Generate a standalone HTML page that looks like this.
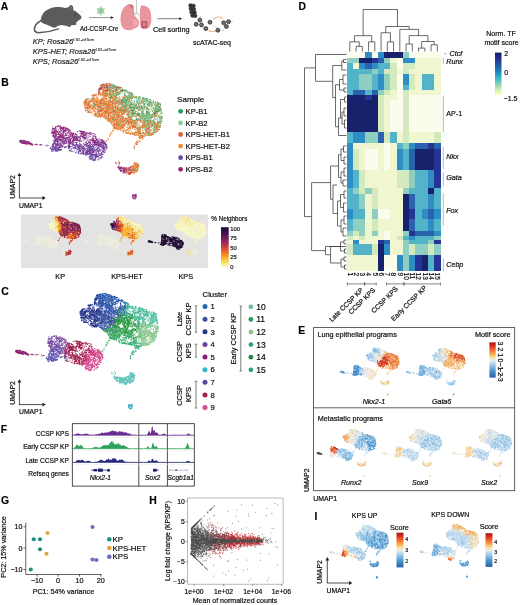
<!DOCTYPE html>
<html><head><meta charset="utf-8"><title>Figure</title>
<style>
html,body{margin:0;padding:0;background:#fff;}
body{width:520px;height:605px;overflow:hidden;position:relative;}
svg{position:absolute;left:0;top:0;display:block;font-family:"Liberation Sans",Arial,sans-serif;}
text{stroke:#231f20;stroke-width:0.2px;}
</style></head><body>
<svg width="520" height="605" viewBox="0 0 520 605">
<text x="0.8" y="9.6" font-size="10.4" font-weight="bold" fill="#000">A</text>
<text x="1.2" y="86.3" font-size="10.4" font-weight="bold" fill="#000">B</text>
<text x="1.2" y="294.8" font-size="10.4" font-weight="bold" fill="#000">C</text>
<text x="298.6" y="9.5" font-size="10.4" font-weight="bold" fill="#000">D</text>
<text x="298.3" y="333.8" font-size="10.4" font-weight="bold" fill="#000">E</text>
<text x="0.8" y="433" font-size="10.4" font-weight="bold" fill="#000">F</text>
<text x="0.9" y="504" font-size="10.4" font-weight="bold" fill="#000">G</text>
<text x="149.2" y="504" font-size="10.4" font-weight="bold" fill="#000">H</text>
<text x="314.6" y="520.3" font-size="10.4" font-weight="bold" fill="#000">I</text>
<path d="M81.6 17.3 C80.8 15.6 79.8 14.6 78.7 13.8 C77.6 12.6 76.5 11.6 75.3 11 L73.2 10.2 C73.6 8.6 73.4 6.2 71.8 5.2 C70.6 4.8 69.4 5.6 68.6 7.2 L65 8.1 C62 7.2 58 6.8 54.5 7.2 C50.8 7.8 47.6 9.2 45 11.3 C42.6 13.5 41.2 16.5 40.7 20.2 C41 21.8 41.8 22.7 43 23.3 C44.6 24 46.2 24.6 47.6 24.9 L50.8 26.4 C52.6 27.4 54.6 27.8 56.5 27.5 L56.7 26.3 L61.4 25 C63 25.4 64.8 25.7 66.2 25.8 L69.3 27 C70.3 27 70.8 26.4 70.7 25.6 L73.8 25 C75 24.8 76 24.9 76.6 24.5 C76.5 23.9 76.2 23.4 75.8 23.1 L78.7 20.3 C80 19.8 81 19.1 81.6 17.3 Z" fill="#5b5a5c"/>
<path d="M41.2 20.5 C37.2 22.6 34.3 26.2 34.4 29.6 C34.6 32.2 37.5 32.8 40.5 32.6 C46 32.2 52.5 31 58.6 28.9" stroke="#5b5a5c" stroke-width="1.5" fill="none" stroke-linecap="round"/>
<ellipse cx="70.9" cy="7.4" rx="1.3" ry="1.9" fill="#6f6e70"/>
<circle cx="74.8" cy="14.8" r="0.55" fill="#1e1e1e"/>
<path d="M79.5 12.5l2.5-2.2M80 13.4l3-1" stroke="#c4c4c4" stroke-width="0.35"/>
<polygon points="100.80,5.60 102.30,8.20 105.30,8.20 103.80,10.80 105.30,13.40 102.30,13.40 100.80,16.00 99.30,13.40 96.30,13.40 97.80,10.80 96.30,8.20 99.30,8.20" fill="#b4dab2"/>
<circle cx="100.8" cy="10.8" r="3.0" fill="#a2d0a2"/>
<circle cx="100.8" cy="10.8" r="1.5" fill="#8cc290"/>
<line x1="89" y1="17.6" x2="111.8" y2="17.6" stroke="#8a8a8a" stroke-width="0.9"/>
<path d="M110.8 16.3L113.8 17.6L110.8 18.9Z" fill="#231f20"/>
<text x="80" y="30.8" font-size="6.9" textLength="38.5" lengthAdjust="spacingAndGlyphs">Ad-CCSP-Cre</text>
<path d="M128 4.5 C125 5.5 122.5 8.5 121.2 13 C120.2 17 120.2 22 121.5 26 C122.8 29 126 30.5 130 30.3 C132.5 30 134.5 28.6 136.5 27.6 C138.5 26.6 139.4 24.5 139 21.5 C138.6 19.3 136.5 17.8 135.2 16.5 C134.2 13 134 9 133.8 6.5 C133 4.6 130.5 3.9 128 4.5Z" fill="#e9959c"/>
<path d="M141.5 5.5 C144.5 5 147.5 6.2 149.4 9 C151 12 151.6 16 151.3 21 C151 25 149.5 28.2 146 29.2 C143.5 29.7 141.2 28.8 140.4 26.5 C139.8 22 139.6 15 140.1 9.5 C140.3 7.3 140.8 5.9 141.5 5.5Z" fill="#e9959c"/>
<path d="M128.8 4.6 C130.8 4.2 132.5 4.8 133.2 6.2 L133 9 C131.5 8.6 129.8 7.6 128.8 4.6Z" fill="#d9707f"/>
<path d="M133.5 19 C135.8 19.6 137.6 21 138.2 23.5 C137.2 25.6 135.2 26.8 133.6 27.2 C133.2 24.5 133.1 21.5 133.5 19Z" fill="#f0aab0"/>
<rect x="141.8" y="21.6" width="5.2" height="6.0" fill="#c06070" stroke="#9a4656" stroke-width="0.5"/>
<rect x="143.0" y="22.9" width="2.8" height="3.2" fill="#d88894"/>
<path d="M136.5 0 L136.5 12.8 M136.5 12.5 L133.6 16.2 M136.5 12.5 L139.6 15.6" stroke="#c2cfca" stroke-width="1.2" fill="none"/>
<line x1="157.7" y1="18.7" x2="180" y2="18.7" stroke="#555" stroke-width="0.8"/>
<path d="M179.2 17.3L182.2 18.7L179.2 20.1Z" fill="#231f20"/>
<text x="153" y="31.7" font-size="7.3">Cell sorting</text>
<circle cx="190.5" cy="5.5" r="1.9" fill="#3a3a3c" stroke="#1e1e1e" stroke-width="0.4"/>
<circle cx="193.5" cy="5.8" r="1.9" fill="#3a3a3c" stroke="#1e1e1e" stroke-width="0.4"/>
<circle cx="190.8" cy="8.8" r="1.9" fill="#3a3a3c" stroke="#1e1e1e" stroke-width="0.4"/>
<circle cx="193.8" cy="9.2" r="1.9" fill="#3a3a3c" stroke="#1e1e1e" stroke-width="0.4"/>
<circle cx="191.5" cy="12.2" r="1.9" fill="#3a3a3c" stroke="#1e1e1e" stroke-width="0.4"/>
<circle cx="194.5" cy="12.5" r="1.9" fill="#3a3a3c" stroke="#1e1e1e" stroke-width="0.4"/>
<circle cx="192.5" cy="15.5" r="1.9" fill="#3a3a3c" stroke="#1e1e1e" stroke-width="0.4"/>
<circle cx="195.2" cy="15.8" r="1.9" fill="#3a3a3c" stroke="#1e1e1e" stroke-width="0.4"/>
<path d="M213 19.5 C216 16.8 220 16.5 222.5 18.5 M208.5 30.5 C211.5 32 215 31.8 217 30.5" stroke="#e8b890" stroke-width="1.3" fill="none"/>
<path d="M212 25 C214 27 216 27.5 218 27" stroke="#cfe0ea" stroke-width="1" fill="none"/>
<circle cx="199.9" cy="20.1" r="2.0" fill="#6e6e70" stroke="#262626" stroke-width="0.7"/>
<circle cx="196.2" cy="24.3" r="2.0" fill="#6e6e70" stroke="#262626" stroke-width="0.7"/>
<circle cx="201.5" cy="24.9" r="2.0" fill="#6e6e70" stroke="#262626" stroke-width="0.7"/>
<circle cx="205.8" cy="28.6" r="2.0" fill="#6e6e70" stroke="#262626" stroke-width="0.7"/>
<circle cx="210" cy="22.2" r="2.0" fill="#6e6e70" stroke="#262626" stroke-width="0.7"/>
<circle cx="217.9" cy="30.2" r="2.0" fill="#6e6e70" stroke="#262626" stroke-width="0.7"/>
<circle cx="223.7" cy="22.8" r="2.0" fill="#6e6e70" stroke="#262626" stroke-width="0.7"/>
<circle cx="228.5" cy="21.7" r="2.0" fill="#6e6e70" stroke="#262626" stroke-width="0.7"/>
<circle cx="226.4" cy="26.5" r="2.0" fill="#6e6e70" stroke="#262626" stroke-width="0.7"/>
<path d="M199.8 17.5 L200.8 15.8 M222.5 31 L223.5 29.5 M231.5 22 L232.5 21.5" stroke="#a08070" stroke-width="0.7"/>
<text x="193" y="45" font-size="6.95">scATAC-seq</text>
<text x="32.7" y="43.8" font-size="7.6" font-style="italic" fill="#231f20">KP; Rosa26<tspan font-size="4.3" dy="-3" stroke-width="0.1">LSL-tdTom</tspan></text>
<text x="32.7" y="54.0" font-size="7.6" font-style="italic" fill="#231f20">KPS-HET; Rosa26<tspan font-size="4.3" dy="-3" stroke-width="0.1">LSL-tdTom</tspan></text>
<text x="32.7" y="63.7" font-size="7.6" font-style="italic" fill="#231f20">KPS; Rosa26<tspan font-size="4.3" dy="-3" stroke-width="0.1">LSL-tdTom</tspan></text>
<text x="177.1" y="102.4" font-size="8.0">Sample</text>
<circle cx="180.6" cy="111.3" r="2.4" fill="#2a9a58"/>
<text x="185.6" y="114.0" font-size="7.6">KP-B1</text>
<circle cx="180.6" cy="122.89999999999999" r="2.4" fill="#8dcb97"/>
<text x="185.6" y="125.6" font-size="7.6">KP-B2</text>
<circle cx="180.6" cy="134.5" r="2.4" fill="#e0603f"/>
<text x="185.6" y="137.2" font-size="7.6">KPS-HET-B1</text>
<circle cx="180.6" cy="146.1" r="2.4" fill="#f28a2f"/>
<text x="185.6" y="148.79999999999998" font-size="7.6">KPS-HET-B2</text>
<circle cx="180.6" cy="157.7" r="2.4" fill="#6849a4"/>
<text x="185.6" y="160.39999999999998" font-size="7.6">KPS-B1</text>
<circle cx="180.6" cy="169.3" r="2.4" fill="#93287f"/>
<text x="185.6" y="172.0" font-size="7.6">KPS-B2</text>
<line x1="19.4" y1="198" x2="19.4" y2="175.2" stroke="#231f20" stroke-width="0.8"/>
<line x1="19.0" y1="198" x2="43.3" y2="198" stroke="#231f20" stroke-width="0.8"/>
<path d="M17.45 176.08L19.4 172.7L21.35 176.08Z" fill="#231f20"/>
<path d="M42.42 196.05L45.8 198L42.42 199.95Z" fill="#231f20"/>
<text x="14.9" y="187" font-size="6.8" text-anchor="middle" transform="rotate(-90 14.9 187)">UMAP2</text>
<text x="19" y="207.9" font-size="6.8">UMAP1</text>
<rect x="21" y="214.5" width="187" height="53.5" fill="#e3e3e3"/>
<text x="211.3" y="220.6" font-size="6.3">% Neighbors</text>
<defs><linearGradient id="inf" x1="0" y1="0" x2="0" y2="1"><stop offset="0" stop-color="#1b0c2e"/><stop offset="0.15" stop-color="#3e1050"/><stop offset="0.3" stop-color="#7a1f5a"/><stop offset="0.45" stop-color="#b8324a"/><stop offset="0.58" stop-color="#e25a2c"/><stop offset="0.72" stop-color="#f69a1d"/><stop offset="0.86" stop-color="#f6d650"/><stop offset="1" stop-color="#fbfbc8"/></linearGradient></defs>
<rect x="221" y="227.2" width="7.7" height="39.5" fill="url(#inf)"/>
<text x="230.2" y="230.79999999999998" font-size="5.8">100</text>
<text x="230.2" y="240.29999999999998" font-size="5.8">75</text>
<text x="230.2" y="249.6" font-size="5.8">50</text>
<text x="230.2" y="259.0" font-size="5.8">25</text>
<text x="230.2" y="268.5" font-size="5.8">0</text>
<text x="60.2" y="279" font-size="7.3" text-anchor="middle">KP</text>
<text x="127" y="279" font-size="7.3" text-anchor="middle">KPS-HET</text>
<text x="185.8" y="279" font-size="7.3" text-anchor="middle">KPS</text>
<text x="202.6" y="296.9" font-size="7.7">Cluster</text>
<circle cx="205" cy="306.6" r="2.5" fill="#2467a8"/>
<text x="210.4" y="309.3" font-size="7.7">1</text>
<circle cx="205" cy="319.22" r="2.5" fill="#3d55a0"/>
<text x="210.4" y="321.92" font-size="7.7">2</text>
<circle cx="205" cy="331.84000000000003" r="2.5" fill="#283885"/>
<text x="210.4" y="334.54" font-size="7.7">3</text>
<circle cx="205" cy="344.46000000000004" r="2.5" fill="#6e4394"/>
<text x="210.4" y="347.16" font-size="7.7">4</text>
<circle cx="205" cy="357.08000000000004" r="2.5" fill="#8b2070"/>
<text x="210.4" y="359.78000000000003" font-size="7.7">5</text>
<circle cx="205" cy="369.70000000000005" r="2.5" fill="#35b5c8"/>
<text x="210.4" y="372.40000000000003" font-size="7.7">6</text>
<circle cx="205" cy="382.32000000000005" r="2.5" fill="#5e45a0"/>
<text x="210.4" y="385.02000000000004" font-size="7.7">7</text>
<circle cx="205" cy="394.94" r="2.5" fill="#a3204e"/>
<text x="210.4" y="397.64" font-size="7.7">8</text>
<circle cx="205" cy="407.56" r="2.5" fill="#d7488f"/>
<text x="210.4" y="410.26" font-size="7.7">9</text>
<circle cx="250.9" cy="306.8" r="2.4" fill="#6cbfa2"/>
<text x="256.2" y="309.7" font-size="8.5">10</text>
<circle cx="250.9" cy="319.40000000000003" r="2.4" fill="#2b9a5c"/>
<text x="256.2" y="322.3" font-size="8.5">11</text>
<circle cx="250.9" cy="332.0" r="2.4" fill="#8cc28e"/>
<text x="256.2" y="334.9" font-size="8.5">12</text>
<circle cx="250.9" cy="344.6" r="2.4" fill="#2fa073"/>
<text x="256.2" y="347.5" font-size="8.5">13</text>
<circle cx="250.9" cy="357.2" r="2.4" fill="#22893f"/>
<text x="256.2" y="360.09999999999997" font-size="8.5">14</text>
<circle cx="250.9" cy="369.8" r="2.4" fill="#27a585"/>
<text x="256.2" y="372.7" font-size="8.5">15</text>
<line x1="196" y1="305.8" x2="196" y2="332.2" stroke="#444" stroke-width="0.7"/>
<line x1="194.7" y1="305.8" x2="197.3" y2="305.8" stroke="#555" stroke-width="0.7"/>
<line x1="194.7" y1="332.2" x2="197.3" y2="332.2" stroke="#555" stroke-width="0.7"/>
<text x="182" y="319" font-size="7.5" text-anchor="middle" transform="rotate(-90 182 319)">Late</text>
<text x="190.8" y="319" font-size="7.5" text-anchor="middle" transform="rotate(-90 190.8 319)">CCSP KP</text>
<line x1="196" y1="344.2" x2="196" y2="357.1" stroke="#444" stroke-width="0.7"/>
<line x1="194.7" y1="344.2" x2="197.3" y2="344.2" stroke="#555" stroke-width="0.7"/>
<line x1="194.7" y1="357.1" x2="197.3" y2="357.1" stroke="#555" stroke-width="0.7"/>
<text x="181.8" y="351.5" font-size="7.5" text-anchor="middle" transform="rotate(-90 181.8 351.5)">CCSP</text>
<text x="191" y="350.7" font-size="7.5" text-anchor="middle" transform="rotate(-90 191 350.7)">KPS</text>
<line x1="196" y1="381.3" x2="196" y2="408" stroke="#444" stroke-width="0.7"/>
<line x1="194.7" y1="381.3" x2="197.3" y2="381.3" stroke="#555" stroke-width="0.7"/>
<line x1="194.7" y1="408" x2="197.3" y2="408" stroke="#555" stroke-width="0.7"/>
<text x="181.8" y="395.4" font-size="7.5" text-anchor="middle" transform="rotate(-90 181.8 395.4)">CCSP</text>
<text x="191" y="394.6" font-size="7.5" text-anchor="middle" transform="rotate(-90 191 394.6)">KPS</text>
<line x1="240.8" y1="306" x2="240.8" y2="371" stroke="#444" stroke-width="0.7"/>
<line x1="239.5" y1="306" x2="242.10000000000002" y2="306" stroke="#555" stroke-width="0.7"/>
<line x1="239.5" y1="371" x2="242.10000000000002" y2="371" stroke="#555" stroke-width="0.7"/>
<text x="236.3" y="338.6" font-size="7.5" text-anchor="middle" transform="rotate(-90 236.3 338.6)">Early CCSP KP</text>
<line x1="19.4" y1="404.6" x2="19.4" y2="381.7" stroke="#231f20" stroke-width="0.8"/>
<line x1="19.0" y1="404.6" x2="43.3" y2="404.6" stroke="#231f20" stroke-width="0.8"/>
<path d="M17.45 382.58L19.4 379.2L21.35 382.58Z" fill="#231f20"/>
<path d="M42.42 402.65L45.8 404.6L42.42 406.55Z" fill="#231f20"/>
<text x="14.5" y="393" font-size="6.8" text-anchor="middle" transform="rotate(-90 14.5 393)">UMAP2</text>
<text x="19" y="414.4" font-size="6.8">UMAP1</text>
<g shape-rendering="crispEdges">
<rect x="346.70" y="52.00" width="6.30" height="5.55" fill="#fbfcec"/>
<rect x="352.95" y="52.00" width="6.30" height="5.55" fill="#fbfcec"/>
<rect x="359.20" y="52.00" width="6.30" height="5.55" fill="#fbfcec"/>
<rect x="365.45" y="52.00" width="6.30" height="5.55" fill="#2d8dc4"/>
<rect x="371.70" y="52.00" width="6.30" height="5.55" fill="#fbfcec"/>
<rect x="377.95" y="52.00" width="6.30" height="5.55" fill="#2d8dc4"/>
<rect x="384.20" y="52.00" width="6.30" height="5.55" fill="#17216c"/>
<rect x="390.45" y="52.00" width="6.30" height="5.55" fill="#17216c"/>
<rect x="396.70" y="52.00" width="6.30" height="5.55" fill="#17216c"/>
<rect x="402.95" y="52.00" width="6.30" height="5.55" fill="#8fcfc1"/>
<rect x="409.20" y="52.00" width="6.30" height="5.55" fill="#fbfcec"/>
<rect x="415.45" y="52.00" width="6.30" height="5.55" fill="#fbfcec"/>
<rect x="421.70" y="52.00" width="6.30" height="5.55" fill="#fbfcec"/>
<rect x="427.95" y="52.00" width="6.30" height="5.55" fill="#fbfcec"/>
<rect x="434.20" y="52.00" width="6.30" height="5.55" fill="#fbfcec"/>
<rect x="346.70" y="57.50" width="6.30" height="5.55" fill="#8fcfc1"/>
<rect x="352.95" y="57.50" width="6.30" height="5.55" fill="#8fcfc1"/>
<rect x="359.20" y="57.50" width="6.30" height="5.55" fill="#17216c"/>
<rect x="365.45" y="57.50" width="6.30" height="5.55" fill="#17216c"/>
<rect x="371.70" y="57.50" width="6.30" height="5.55" fill="#253593"/>
<rect x="377.95" y="57.50" width="6.30" height="5.55" fill="#2a62ad"/>
<rect x="384.20" y="57.50" width="6.30" height="5.55" fill="#8fcfc1"/>
<rect x="390.45" y="57.50" width="6.30" height="5.55" fill="#eff6d0"/>
<rect x="396.70" y="57.50" width="6.30" height="5.55" fill="#fbfcec"/>
<rect x="402.95" y="57.50" width="6.30" height="5.55" fill="#2d8dc4"/>
<rect x="409.20" y="57.50" width="6.30" height="5.55" fill="#2d8dc4"/>
<rect x="415.45" y="57.50" width="6.30" height="5.55" fill="#eff6d0"/>
<rect x="421.70" y="57.50" width="6.30" height="5.55" fill="#eff6d0"/>
<rect x="427.95" y="57.50" width="6.30" height="5.55" fill="#eff6d0"/>
<rect x="434.20" y="57.50" width="6.30" height="5.55" fill="#eff6d0"/>
<rect x="346.70" y="63.00" width="6.30" height="5.65" fill="#52b3c9"/>
<rect x="352.95" y="63.00" width="6.30" height="5.65" fill="#eff6d0"/>
<rect x="359.20" y="63.00" width="6.30" height="5.65" fill="#2d8dc4"/>
<rect x="365.45" y="63.00" width="6.30" height="5.65" fill="#2a62ad"/>
<rect x="371.70" y="63.00" width="6.30" height="5.65" fill="#2d8dc4"/>
<rect x="377.95" y="63.00" width="6.30" height="5.65" fill="#52b3c9"/>
<rect x="384.20" y="63.00" width="6.30" height="5.65" fill="#52b3c9"/>
<rect x="390.45" y="63.00" width="6.30" height="5.65" fill="#d2eabd"/>
<rect x="396.70" y="63.00" width="6.30" height="5.65" fill="#fbfcec"/>
<rect x="402.95" y="63.00" width="6.30" height="5.65" fill="#d2eabd"/>
<rect x="409.20" y="63.00" width="6.30" height="5.65" fill="#d2eabd"/>
<rect x="415.45" y="63.00" width="6.30" height="5.65" fill="#eff6d0"/>
<rect x="421.70" y="63.00" width="6.30" height="5.65" fill="#eff6d0"/>
<rect x="427.95" y="63.00" width="6.30" height="5.65" fill="#eff6d0"/>
<rect x="434.20" y="63.00" width="6.30" height="5.65" fill="#eff6d0"/>
<rect x="346.70" y="68.60" width="6.30" height="5.85" fill="#52b3c9"/>
<rect x="352.95" y="68.60" width="6.30" height="5.85" fill="#52b3c9"/>
<rect x="359.20" y="68.60" width="6.30" height="5.85" fill="#52b3c9"/>
<rect x="365.45" y="68.60" width="6.30" height="5.85" fill="#52b3c9"/>
<rect x="371.70" y="68.60" width="6.30" height="5.85" fill="#8fcfc1"/>
<rect x="377.95" y="68.60" width="6.30" height="5.85" fill="#52b3c9"/>
<rect x="384.20" y="68.60" width="6.30" height="5.85" fill="#d2eabd"/>
<rect x="390.45" y="68.60" width="6.30" height="5.85" fill="#d2eabd"/>
<rect x="396.70" y="68.60" width="6.30" height="5.85" fill="#eff6d0"/>
<rect x="402.95" y="68.60" width="6.30" height="5.85" fill="#d2eabd"/>
<rect x="409.20" y="68.60" width="6.30" height="5.85" fill="#eff6d0"/>
<rect x="415.45" y="68.60" width="6.30" height="5.85" fill="#eff6d0"/>
<rect x="421.70" y="68.60" width="6.30" height="5.85" fill="#eff6d0"/>
<rect x="427.95" y="68.60" width="6.30" height="5.85" fill="#eff6d0"/>
<rect x="434.20" y="68.60" width="6.30" height="5.85" fill="#eff6d0"/>
<rect x="346.70" y="74.40" width="6.30" height="10.65" fill="#52b3c9"/>
<rect x="352.95" y="74.40" width="6.30" height="10.65" fill="#52b3c9"/>
<rect x="359.20" y="74.40" width="6.30" height="10.65" fill="#8fcfc1"/>
<rect x="365.45" y="74.40" width="6.30" height="10.65" fill="#8fcfc1"/>
<rect x="371.70" y="74.40" width="6.30" height="10.65" fill="#52b3c9"/>
<rect x="377.95" y="74.40" width="6.30" height="10.65" fill="#2d8dc4"/>
<rect x="384.20" y="74.40" width="6.30" height="10.65" fill="#8fcfc1"/>
<rect x="390.45" y="74.40" width="6.30" height="10.65" fill="#d2eabd"/>
<rect x="396.70" y="74.40" width="6.30" height="10.65" fill="#fbfcec"/>
<rect x="402.95" y="74.40" width="6.30" height="10.65" fill="#2d8dc4"/>
<rect x="409.20" y="74.40" width="6.30" height="10.65" fill="#d2eabd"/>
<rect x="415.45" y="74.40" width="6.30" height="10.65" fill="#eff6d0"/>
<rect x="421.70" y="74.40" width="6.30" height="10.65" fill="#52b3c9"/>
<rect x="427.95" y="74.40" width="6.30" height="10.65" fill="#52b3c9"/>
<rect x="434.20" y="74.40" width="6.30" height="10.65" fill="#eff6d0"/>
<rect x="346.70" y="85.00" width="6.30" height="4.85" fill="#52b3c9"/>
<rect x="352.95" y="85.00" width="6.30" height="4.85" fill="#52b3c9"/>
<rect x="359.20" y="85.00" width="6.30" height="4.85" fill="#8fcfc1"/>
<rect x="365.45" y="85.00" width="6.30" height="4.85" fill="#8fcfc1"/>
<rect x="371.70" y="85.00" width="6.30" height="4.85" fill="#52b3c9"/>
<rect x="377.95" y="85.00" width="6.30" height="4.85" fill="#2d8dc4"/>
<rect x="384.20" y="85.00" width="6.30" height="4.85" fill="#8fcfc1"/>
<rect x="390.45" y="85.00" width="6.30" height="4.85" fill="#d2eabd"/>
<rect x="396.70" y="85.00" width="6.30" height="4.85" fill="#fbfcec"/>
<rect x="402.95" y="85.00" width="6.30" height="4.85" fill="#52b3c9"/>
<rect x="409.20" y="85.00" width="6.30" height="4.85" fill="#d2eabd"/>
<rect x="415.45" y="85.00" width="6.30" height="4.85" fill="#eff6d0"/>
<rect x="421.70" y="85.00" width="6.30" height="4.85" fill="#52b3c9"/>
<rect x="427.95" y="85.00" width="6.30" height="4.85" fill="#52b3c9"/>
<rect x="434.20" y="85.00" width="6.30" height="4.85" fill="#eff6d0"/>
<rect x="346.70" y="89.80" width="6.30" height="4.85" fill="#52b3c9"/>
<rect x="352.95" y="89.80" width="6.30" height="4.85" fill="#2a62ad"/>
<rect x="359.20" y="89.80" width="6.30" height="4.85" fill="#2a62ad"/>
<rect x="365.45" y="89.80" width="6.30" height="4.85" fill="#52b3c9"/>
<rect x="371.70" y="89.80" width="6.30" height="4.85" fill="#2a62ad"/>
<rect x="377.95" y="89.80" width="6.30" height="4.85" fill="#8fcfc1"/>
<rect x="384.20" y="89.80" width="6.30" height="4.85" fill="#d2eabd"/>
<rect x="390.45" y="89.80" width="6.30" height="4.85" fill="#eff6d0"/>
<rect x="396.70" y="89.80" width="6.30" height="4.85" fill="#fbfcec"/>
<rect x="402.95" y="89.80" width="6.30" height="4.85" fill="#d2eabd"/>
<rect x="409.20" y="89.80" width="6.30" height="4.85" fill="#eff6d0"/>
<rect x="415.45" y="89.80" width="6.30" height="4.85" fill="#eff6d0"/>
<rect x="421.70" y="89.80" width="6.30" height="4.85" fill="#eff6d0"/>
<rect x="427.95" y="89.80" width="6.30" height="4.85" fill="#eff6d0"/>
<rect x="434.20" y="89.80" width="6.30" height="4.85" fill="#eff6d0"/>
<rect x="346.70" y="94.60" width="6.30" height="5.45" fill="#17216c"/>
<rect x="352.95" y="94.60" width="6.30" height="5.45" fill="#17216c"/>
<rect x="359.20" y="94.60" width="6.30" height="5.45" fill="#17216c"/>
<rect x="365.45" y="94.60" width="6.30" height="5.45" fill="#253593"/>
<rect x="371.70" y="94.60" width="6.30" height="5.45" fill="#17216c"/>
<rect x="377.95" y="94.60" width="6.30" height="5.45" fill="#d2eabd"/>
<rect x="384.20" y="94.60" width="6.30" height="5.45" fill="#eff6d0"/>
<rect x="390.45" y="94.60" width="6.30" height="5.45" fill="#eff6d0"/>
<rect x="396.70" y="94.60" width="6.30" height="5.45" fill="#fbfcec"/>
<rect x="402.95" y="94.60" width="6.30" height="5.45" fill="#d2eabd"/>
<rect x="409.20" y="94.60" width="6.30" height="5.45" fill="#fbfcec"/>
<rect x="415.45" y="94.60" width="6.30" height="5.45" fill="#fbfcec"/>
<rect x="421.70" y="94.60" width="6.30" height="5.45" fill="#fbfcec"/>
<rect x="427.95" y="94.60" width="6.30" height="5.45" fill="#fbfcec"/>
<rect x="434.20" y="94.60" width="6.30" height="5.45" fill="#fbfcec"/>
<rect x="346.70" y="100.00" width="6.30" height="31.55" fill="#17216c"/>
<rect x="352.95" y="100.00" width="6.30" height="31.55" fill="#17216c"/>
<rect x="359.20" y="100.00" width="6.30" height="31.55" fill="#17216c"/>
<rect x="365.45" y="100.00" width="6.30" height="31.55" fill="#17216c"/>
<rect x="371.70" y="100.00" width="6.30" height="31.55" fill="#17216c"/>
<rect x="377.95" y="100.00" width="6.30" height="31.55" fill="#d2eabd"/>
<rect x="384.20" y="100.00" width="6.30" height="31.55" fill="#eff6d0"/>
<rect x="390.45" y="100.00" width="6.30" height="31.55" fill="#fbfcec"/>
<rect x="396.70" y="100.00" width="6.30" height="31.55" fill="#fbfcec"/>
<rect x="402.95" y="100.00" width="6.30" height="31.55" fill="#d2eabd"/>
<rect x="409.20" y="100.00" width="6.30" height="31.55" fill="#fbfcec"/>
<rect x="415.45" y="100.00" width="6.30" height="31.55" fill="#fbfcec"/>
<rect x="421.70" y="100.00" width="6.30" height="31.55" fill="#fbfcec"/>
<rect x="427.95" y="100.00" width="6.30" height="31.55" fill="#fbfcec"/>
<rect x="434.20" y="100.00" width="6.30" height="31.55" fill="#fbfcec"/>
<rect x="346.70" y="131.50" width="6.30" height="11.55" fill="#52b3c9"/>
<rect x="352.95" y="131.50" width="6.30" height="11.55" fill="#2d8dc4"/>
<rect x="359.20" y="131.50" width="6.30" height="11.55" fill="#2d8dc4"/>
<rect x="365.45" y="131.50" width="6.30" height="11.55" fill="#8fcfc1"/>
<rect x="371.70" y="131.50" width="6.30" height="11.55" fill="#8fcfc1"/>
<rect x="377.95" y="131.50" width="6.30" height="11.55" fill="#2a62ad"/>
<rect x="384.20" y="131.50" width="6.30" height="11.55" fill="#d2eabd"/>
<rect x="390.45" y="131.50" width="6.30" height="11.55" fill="#52b3c9"/>
<rect x="396.70" y="131.50" width="6.30" height="11.55" fill="#eff6d0"/>
<rect x="402.95" y="131.50" width="6.30" height="11.55" fill="#d2eabd"/>
<rect x="409.20" y="131.50" width="6.30" height="11.55" fill="#eff6d0"/>
<rect x="415.45" y="131.50" width="6.30" height="11.55" fill="#eff6d0"/>
<rect x="421.70" y="131.50" width="6.30" height="11.55" fill="#eff6d0"/>
<rect x="427.95" y="131.50" width="6.30" height="11.55" fill="#eff6d0"/>
<rect x="434.20" y="131.50" width="6.30" height="11.55" fill="#d2eabd"/>
<rect x="346.70" y="143.00" width="6.30" height="6.05" fill="#2d8dc4"/>
<rect x="352.95" y="143.00" width="6.30" height="6.05" fill="#eff6d0"/>
<rect x="359.20" y="143.00" width="6.30" height="6.05" fill="#eff6d0"/>
<rect x="365.45" y="143.00" width="6.30" height="6.05" fill="#eff6d0"/>
<rect x="371.70" y="143.00" width="6.30" height="6.05" fill="#eff6d0"/>
<rect x="377.95" y="143.00" width="6.30" height="6.05" fill="#eff6d0"/>
<rect x="384.20" y="143.00" width="6.30" height="6.05" fill="#fbfcec"/>
<rect x="390.45" y="143.00" width="6.30" height="6.05" fill="#eff6d0"/>
<rect x="396.70" y="143.00" width="6.30" height="6.05" fill="#52b3c9"/>
<rect x="402.95" y="143.00" width="6.30" height="6.05" fill="#8fcfc1"/>
<rect x="409.20" y="143.00" width="6.30" height="6.05" fill="#2d8dc4"/>
<rect x="415.45" y="143.00" width="6.30" height="6.05" fill="#2a62ad"/>
<rect x="421.70" y="143.00" width="6.30" height="6.05" fill="#2a62ad"/>
<rect x="427.95" y="143.00" width="6.30" height="6.05" fill="#253593"/>
<rect x="434.20" y="143.00" width="6.30" height="6.05" fill="#2a62ad"/>
<rect x="346.70" y="149.00" width="6.30" height="21.45" fill="#2d8dc4"/>
<rect x="352.95" y="149.00" width="6.30" height="21.45" fill="#d2eabd"/>
<rect x="359.20" y="149.00" width="6.30" height="21.45" fill="#eff6d0"/>
<rect x="365.45" y="149.00" width="6.30" height="21.45" fill="#fbfcec"/>
<rect x="371.70" y="149.00" width="6.30" height="21.45" fill="#fbfcec"/>
<rect x="377.95" y="149.00" width="6.30" height="21.45" fill="#eff6d0"/>
<rect x="384.20" y="149.00" width="6.30" height="21.45" fill="#fbfcec"/>
<rect x="390.45" y="149.00" width="6.30" height="21.45" fill="#eff6d0"/>
<rect x="396.70" y="149.00" width="6.30" height="21.45" fill="#2d8dc4"/>
<rect x="402.95" y="149.00" width="6.30" height="21.45" fill="#52b3c9"/>
<rect x="409.20" y="149.00" width="6.30" height="21.45" fill="#2a62ad"/>
<rect x="415.45" y="149.00" width="6.30" height="21.45" fill="#17216c"/>
<rect x="421.70" y="149.00" width="6.30" height="21.45" fill="#17216c"/>
<rect x="427.95" y="149.00" width="6.30" height="21.45" fill="#17216c"/>
<rect x="434.20" y="149.00" width="6.30" height="21.45" fill="#253593"/>
<rect x="346.70" y="170.40" width="6.30" height="17.35" fill="#2d8dc4"/>
<rect x="352.95" y="170.40" width="6.30" height="17.35" fill="#52b3c9"/>
<rect x="359.20" y="170.40" width="6.30" height="17.35" fill="#d2eabd"/>
<rect x="365.45" y="170.40" width="6.30" height="17.35" fill="#eff6d0"/>
<rect x="371.70" y="170.40" width="6.30" height="17.35" fill="#eff6d0"/>
<rect x="377.95" y="170.40" width="6.30" height="17.35" fill="#eff6d0"/>
<rect x="384.20" y="170.40" width="6.30" height="17.35" fill="#eff6d0"/>
<rect x="390.45" y="170.40" width="6.30" height="17.35" fill="#eff6d0"/>
<rect x="396.70" y="170.40" width="6.30" height="17.35" fill="#d2eabd"/>
<rect x="402.95" y="170.40" width="6.30" height="17.35" fill="#d2eabd"/>
<rect x="409.20" y="170.40" width="6.30" height="17.35" fill="#8fcfc1"/>
<rect x="415.45" y="170.40" width="6.30" height="17.35" fill="#52b3c9"/>
<rect x="421.70" y="170.40" width="6.30" height="17.35" fill="#52b3c9"/>
<rect x="427.95" y="170.40" width="6.30" height="17.35" fill="#2d8dc4"/>
<rect x="434.20" y="170.40" width="6.30" height="17.35" fill="#253593"/>
<rect x="346.70" y="187.70" width="6.30" height="6.35" fill="#52b3c9"/>
<rect x="352.95" y="187.70" width="6.30" height="6.35" fill="#8fcfc1"/>
<rect x="359.20" y="187.70" width="6.30" height="6.35" fill="#d2eabd"/>
<rect x="365.45" y="187.70" width="6.30" height="6.35" fill="#8fcfc1"/>
<rect x="371.70" y="187.70" width="6.30" height="6.35" fill="#d2eabd"/>
<rect x="377.95" y="187.70" width="6.30" height="6.35" fill="#eff6d0"/>
<rect x="384.20" y="187.70" width="6.30" height="6.35" fill="#eff6d0"/>
<rect x="390.45" y="187.70" width="6.30" height="6.35" fill="#eff6d0"/>
<rect x="396.70" y="187.70" width="6.30" height="6.35" fill="#eff6d0"/>
<rect x="402.95" y="187.70" width="6.30" height="6.35" fill="#8fcfc1"/>
<rect x="409.20" y="187.70" width="6.30" height="6.35" fill="#52b3c9"/>
<rect x="415.45" y="187.70" width="6.30" height="6.35" fill="#52b3c9"/>
<rect x="421.70" y="187.70" width="6.30" height="6.35" fill="#52b3c9"/>
<rect x="427.95" y="187.70" width="6.30" height="6.35" fill="#17216c"/>
<rect x="434.20" y="187.70" width="6.30" height="6.35" fill="#52b3c9"/>
<rect x="346.70" y="194.00" width="6.30" height="15.05" fill="#52b3c9"/>
<rect x="352.95" y="194.00" width="6.30" height="15.05" fill="#52b3c9"/>
<rect x="359.20" y="194.00" width="6.30" height="15.05" fill="#8fcfc1"/>
<rect x="365.45" y="194.00" width="6.30" height="15.05" fill="#eff6d0"/>
<rect x="371.70" y="194.00" width="6.30" height="15.05" fill="#d2eabd"/>
<rect x="377.95" y="194.00" width="6.30" height="15.05" fill="#eff6d0"/>
<rect x="384.20" y="194.00" width="6.30" height="15.05" fill="#eff6d0"/>
<rect x="390.45" y="194.00" width="6.30" height="15.05" fill="#eff6d0"/>
<rect x="396.70" y="194.00" width="6.30" height="15.05" fill="#eff6d0"/>
<rect x="402.95" y="194.00" width="6.30" height="15.05" fill="#17216c"/>
<rect x="409.20" y="194.00" width="6.30" height="15.05" fill="#2a62ad"/>
<rect x="415.45" y="194.00" width="6.30" height="15.05" fill="#52b3c9"/>
<rect x="421.70" y="194.00" width="6.30" height="15.05" fill="#52b3c9"/>
<rect x="427.95" y="194.00" width="6.30" height="15.05" fill="#2d8dc4"/>
<rect x="434.20" y="194.00" width="6.30" height="15.05" fill="#52b3c9"/>
<rect x="346.70" y="209.00" width="6.30" height="10.05" fill="#2d8dc4"/>
<rect x="352.95" y="209.00" width="6.30" height="10.05" fill="#52b3c9"/>
<rect x="359.20" y="209.00" width="6.30" height="10.05" fill="#52b3c9"/>
<rect x="365.45" y="209.00" width="6.30" height="10.05" fill="#eff6d0"/>
<rect x="371.70" y="209.00" width="6.30" height="10.05" fill="#8fcfc1"/>
<rect x="377.95" y="209.00" width="6.30" height="10.05" fill="#fbfcec"/>
<rect x="384.20" y="209.00" width="6.30" height="10.05" fill="#fbfcec"/>
<rect x="390.45" y="209.00" width="6.30" height="10.05" fill="#eff6d0"/>
<rect x="396.70" y="209.00" width="6.30" height="10.05" fill="#eff6d0"/>
<rect x="402.95" y="209.00" width="6.30" height="10.05" fill="#17216c"/>
<rect x="409.20" y="209.00" width="6.30" height="10.05" fill="#253593"/>
<rect x="415.45" y="209.00" width="6.30" height="10.05" fill="#52b3c9"/>
<rect x="421.70" y="209.00" width="6.30" height="10.05" fill="#2d8dc4"/>
<rect x="427.95" y="209.00" width="6.30" height="10.05" fill="#2a62ad"/>
<rect x="434.20" y="209.00" width="6.30" height="10.05" fill="#2d8dc4"/>
<rect x="346.70" y="219.00" width="6.30" height="11.85" fill="#52b3c9"/>
<rect x="352.95" y="219.00" width="6.30" height="11.85" fill="#8fcfc1"/>
<rect x="359.20" y="219.00" width="6.30" height="11.85" fill="#8fcfc1"/>
<rect x="365.45" y="219.00" width="6.30" height="11.85" fill="#eff6d0"/>
<rect x="371.70" y="219.00" width="6.30" height="11.85" fill="#d2eabd"/>
<rect x="377.95" y="219.00" width="6.30" height="11.85" fill="#eff6d0"/>
<rect x="384.20" y="219.00" width="6.30" height="11.85" fill="#eff6d0"/>
<rect x="390.45" y="219.00" width="6.30" height="11.85" fill="#eff6d0"/>
<rect x="396.70" y="219.00" width="6.30" height="11.85" fill="#eff6d0"/>
<rect x="402.95" y="219.00" width="6.30" height="11.85" fill="#17216c"/>
<rect x="409.20" y="219.00" width="6.30" height="11.85" fill="#2a62ad"/>
<rect x="415.45" y="219.00" width="6.30" height="11.85" fill="#52b3c9"/>
<rect x="421.70" y="219.00" width="6.30" height="11.85" fill="#52b3c9"/>
<rect x="427.95" y="219.00" width="6.30" height="11.85" fill="#2d8dc4"/>
<rect x="434.20" y="219.00" width="6.30" height="11.85" fill="#52b3c9"/>
<rect x="346.70" y="230.80" width="6.30" height="4.85" fill="#8fcfc1"/>
<rect x="352.95" y="230.80" width="6.30" height="4.85" fill="#d2eabd"/>
<rect x="359.20" y="230.80" width="6.30" height="4.85" fill="#8fcfc1"/>
<rect x="365.45" y="230.80" width="6.30" height="4.85" fill="#eff6d0"/>
<rect x="371.70" y="230.80" width="6.30" height="4.85" fill="#8fcfc1"/>
<rect x="377.95" y="230.80" width="6.30" height="4.85" fill="#eff6d0"/>
<rect x="384.20" y="230.80" width="6.30" height="4.85" fill="#fbfcec"/>
<rect x="390.45" y="230.80" width="6.30" height="4.85" fill="#eff6d0"/>
<rect x="396.70" y="230.80" width="6.30" height="4.85" fill="#eff6d0"/>
<rect x="402.95" y="230.80" width="6.30" height="4.85" fill="#8fcfc1"/>
<rect x="409.20" y="230.80" width="6.30" height="4.85" fill="#253593"/>
<rect x="415.45" y="230.80" width="6.30" height="4.85" fill="#2a62ad"/>
<rect x="421.70" y="230.80" width="6.30" height="4.85" fill="#2a62ad"/>
<rect x="427.95" y="230.80" width="6.30" height="4.85" fill="#2a62ad"/>
<rect x="434.20" y="230.80" width="6.30" height="4.85" fill="#2d8dc4"/>
<rect x="346.70" y="235.60" width="6.30" height="4.85" fill="#d2eabd"/>
<rect x="352.95" y="235.60" width="6.30" height="4.85" fill="#eff6d0"/>
<rect x="359.20" y="235.60" width="6.30" height="4.85" fill="#d2eabd"/>
<rect x="365.45" y="235.60" width="6.30" height="4.85" fill="#eff6d0"/>
<rect x="371.70" y="235.60" width="6.30" height="4.85" fill="#eff6d0"/>
<rect x="377.95" y="235.60" width="6.30" height="4.85" fill="#eff6d0"/>
<rect x="384.20" y="235.60" width="6.30" height="4.85" fill="#fbfcec"/>
<rect x="390.45" y="235.60" width="6.30" height="4.85" fill="#eff6d0"/>
<rect x="396.70" y="235.60" width="6.30" height="4.85" fill="#d2eabd"/>
<rect x="402.95" y="235.60" width="6.30" height="4.85" fill="#52b3c9"/>
<rect x="409.20" y="235.60" width="6.30" height="4.85" fill="#2d8dc4"/>
<rect x="415.45" y="235.60" width="6.30" height="4.85" fill="#52b3c9"/>
<rect x="421.70" y="235.60" width="6.30" height="4.85" fill="#52b3c9"/>
<rect x="427.95" y="235.60" width="6.30" height="4.85" fill="#52b3c9"/>
<rect x="434.20" y="235.60" width="6.30" height="4.85" fill="#8fcfc1"/>
<rect x="346.70" y="240.40" width="6.30" height="3.85" fill="#eff6d0"/>
<rect x="352.95" y="240.40" width="6.30" height="3.85" fill="#2d8dc4"/>
<rect x="359.20" y="240.40" width="6.30" height="3.85" fill="#eff6d0"/>
<rect x="365.45" y="240.40" width="6.30" height="3.85" fill="#eff6d0"/>
<rect x="371.70" y="240.40" width="6.30" height="3.85" fill="#eff6d0"/>
<rect x="377.95" y="240.40" width="6.30" height="3.85" fill="#253593"/>
<rect x="384.20" y="240.40" width="6.30" height="3.85" fill="#2a62ad"/>
<rect x="390.45" y="240.40" width="6.30" height="3.85" fill="#eff6d0"/>
<rect x="396.70" y="240.40" width="6.30" height="3.85" fill="#eff6d0"/>
<rect x="402.95" y="240.40" width="6.30" height="3.85" fill="#8fcfc1"/>
<rect x="409.20" y="240.40" width="6.30" height="3.85" fill="#52b3c9"/>
<rect x="415.45" y="240.40" width="6.30" height="3.85" fill="#52b3c9"/>
<rect x="421.70" y="240.40" width="6.30" height="3.85" fill="#52b3c9"/>
<rect x="427.95" y="240.40" width="6.30" height="3.85" fill="#8fcfc1"/>
<rect x="434.20" y="240.40" width="6.30" height="3.85" fill="#253593"/>
<rect x="346.70" y="244.20" width="6.30" height="10.65" fill="#d2eabd"/>
<rect x="352.95" y="244.20" width="6.30" height="10.65" fill="#52b3c9"/>
<rect x="359.20" y="244.20" width="6.30" height="10.65" fill="#52b3c9"/>
<rect x="365.45" y="244.20" width="6.30" height="10.65" fill="#52b3c9"/>
<rect x="371.70" y="244.20" width="6.30" height="10.65" fill="#d2eabd"/>
<rect x="377.95" y="244.20" width="6.30" height="10.65" fill="#17216c"/>
<rect x="384.20" y="244.20" width="6.30" height="10.65" fill="#2d8dc4"/>
<rect x="390.45" y="244.20" width="6.30" height="10.65" fill="#eff6d0"/>
<rect x="396.70" y="244.20" width="6.30" height="10.65" fill="#eff6d0"/>
<rect x="402.95" y="244.20" width="6.30" height="10.65" fill="#8fcfc1"/>
<rect x="409.20" y="244.20" width="6.30" height="10.65" fill="#d2eabd"/>
<rect x="415.45" y="244.20" width="6.30" height="10.65" fill="#8fcfc1"/>
<rect x="421.70" y="244.20" width="6.30" height="10.65" fill="#8fcfc1"/>
<rect x="427.95" y="244.20" width="6.30" height="10.65" fill="#d2eabd"/>
<rect x="434.20" y="244.20" width="6.30" height="10.65" fill="#8fcfc1"/>
<rect x="346.70" y="254.80" width="6.30" height="16.05" fill="#eff6d0"/>
<rect x="352.95" y="254.80" width="6.30" height="16.05" fill="#eff6d0"/>
<rect x="359.20" y="254.80" width="6.30" height="16.05" fill="#eff6d0"/>
<rect x="365.45" y="254.80" width="6.30" height="16.05" fill="#eff6d0"/>
<rect x="371.70" y="254.80" width="6.30" height="16.05" fill="#eff6d0"/>
<rect x="377.95" y="254.80" width="6.30" height="16.05" fill="#17216c"/>
<rect x="384.20" y="254.80" width="6.30" height="16.05" fill="#fbfcec"/>
<rect x="390.45" y="254.80" width="6.30" height="16.05" fill="#fbfcec"/>
<rect x="396.70" y="254.80" width="6.30" height="16.05" fill="#2d8dc4"/>
<rect x="402.95" y="254.80" width="6.30" height="16.05" fill="#8fcfc1"/>
<rect x="409.20" y="254.80" width="6.30" height="16.05" fill="#2d8dc4"/>
<rect x="415.45" y="254.80" width="6.30" height="16.05" fill="#253593"/>
<rect x="421.70" y="254.80" width="6.30" height="16.05" fill="#17216c"/>
<rect x="427.95" y="254.80" width="6.30" height="16.05" fill="#52b3c9"/>
<rect x="434.20" y="254.80" width="6.30" height="16.05" fill="#253593"/>
</g>
<path d="M356.07 51.50V46.40H362.32V51.50M349.82 51.50V41.80H359.20V46.40M368.57 51.50V41.80H374.82V51.50M354.51 41.80V35.70H371.70V41.80M387.32 51.50V41.90H393.57V51.50M381.07 51.50V32.75H390.45V41.90M406.07 51.50V44.00H412.32V51.50M418.57 51.50V48.10H424.82V51.50M431.07 51.50V44.75H437.32V51.50M421.70 48.10V41.50H434.20V44.75M409.20 44.00V35.60H427.95V41.50M399.82 51.50V29.40H418.57V35.60M385.76 32.75V26.50H409.20V29.40M363.11 35.70V9.50H397.48V26.50" stroke="#3a3a3a" stroke-width="0.75" fill="none"/>
<path d="M346.50 59.50H343.50V62.50H346.50M343.50 61.00H341.80V70.00H346.50M346.50 75.00H343.00V84.00H346.50M346.50 88.00H344.00V92.00H346.50M343.00 79.50H339.50V90.00H344.00M346.50 97.00H344.50V102.00H346.50M346.50 108.00H344.00V116.00H346.50M346.50 120.00H344.50V128.00H346.50M344.00 112.00H342.00V124.00H344.50M344.50 99.50H340.50V118.00H342.00M340.50 118.00H338.50V135.50H346.50M339.50 84.75H335.50V126.75H338.50M341.80 65.50H332.70V97.60H335.50M346.50 54.50H315.50V81.30H332.70M346.50 146.00H343.50V152.00H346.50M346.50 157.00H344.00V164.00H346.50M343.50 149.00H341.00V160.50H344.00M346.50 168.00H344.00V176.00H346.50M346.50 180.00H343.00V186.00H346.50M344.00 172.00H341.00V183.00H343.00M341.00 154.75H338.50V177.50H341.00M346.50 191.00H344.00V198.00H346.50M346.50 203.00H343.50V212.00H346.50M344.00 194.50H340.50V207.50H343.50M346.50 216.00H344.00V224.00H346.50M346.50 228.00H343.00V236.00H346.50M344.00 220.00H341.00V232.00H343.00M340.50 201.00H337.50V226.00H341.00M337.00 185.00H333.00V213.50H337.50M338.50 166.00H330.60V199.25H333.00M346.50 240.00H344.00V244.00H346.50M346.50 249.00H344.50V253.00H346.50M346.50 257.00H344.00V261.00H346.50M346.50 265.00H344.50V269.00H346.50M344.00 242.00H340.50V251.00H344.50M344.00 259.00H341.00V267.00H344.50M340.50 246.50H330.60V263.00H341.00M346.50 246.50H325.50V254.75H330.60M330.60 182.60H311.60V250.60H325.50M315.50 67.90H304.50V216.60H311.60" stroke="#3a3a3a" stroke-width="0.75" fill="none"/>
<line x1="444" y1="53.9" x2="446.8" y2="53.9" stroke="#777" stroke-width="0.6"/>
<text x="449.5" y="56.4" font-size="7.2" font-style="italic">Ctcf</text>
<line x1="443.3" y1="57.9" x2="443.3" y2="64.4" stroke="#8a8a8a" stroke-width="0.6"/>
<text x="446.2" y="63.8" font-size="7.2" font-style="italic">Runx</text>
<line x1="443.3" y1="95.6" x2="443.3" y2="132.3" stroke="#8a8a8a" stroke-width="0.6"/>
<text x="446.2" y="116.0" font-size="7.2">AP-1</text>
<line x1="443.3" y1="146.7" x2="443.3" y2="169" stroke="#8a8a8a" stroke-width="0.6"/>
<text x="446.2" y="158.5" font-size="7.2" font-style="italic">Nkx</text>
<line x1="443.3" y1="172.4" x2="443.3" y2="186.9" stroke="#8a8a8a" stroke-width="0.6"/>
<text x="446.2" y="180.1" font-size="7.2" font-style="italic">Gata</text>
<line x1="443.3" y1="193.6" x2="443.3" y2="226" stroke="#8a8a8a" stroke-width="0.6"/>
<text x="446.2" y="212.8" font-size="7.2" font-style="italic">Fox</text>
<line x1="443.3" y1="258.3" x2="443.3" y2="271.7" stroke="#8a8a8a" stroke-width="0.6"/>
<text x="446.2" y="266.5" font-size="7.2" font-style="italic">Cebp</text>
<text x="347.62" y="272.6" font-size="6.4" transform="rotate(90 347.62 272.6)">1</text>
<text x="353.88" y="272.6" font-size="6.4" transform="rotate(90 353.88 272.6)">2</text>
<text x="360.12" y="272.6" font-size="6.4" transform="rotate(90 360.12 272.6)">3</text>
<text x="366.38" y="272.6" font-size="6.4" transform="rotate(90 366.38 272.6)">4</text>
<text x="372.62" y="272.6" font-size="6.4" transform="rotate(90 372.62 272.6)">5</text>
<text x="378.88" y="272.6" font-size="6.4" transform="rotate(90 378.88 272.6)">6</text>
<text x="385.12" y="272.6" font-size="6.4" transform="rotate(90 385.12 272.6)">7</text>
<text x="391.38" y="272.6" font-size="6.4" transform="rotate(90 391.38 272.6)">8</text>
<text x="397.62" y="272.6" font-size="6.4" transform="rotate(90 397.62 272.6)">9</text>
<text x="403.88" y="272.6" font-size="6.4" transform="rotate(90 403.88 272.6)">10</text>
<text x="410.12" y="272.6" font-size="6.4" transform="rotate(90 410.12 272.6)">11</text>
<text x="416.38" y="272.6" font-size="6.4" transform="rotate(90 416.38 272.6)">12</text>
<text x="422.62" y="272.6" font-size="6.4" transform="rotate(90 422.62 272.6)">13</text>
<text x="428.88" y="272.6" font-size="6.4" transform="rotate(90 428.88 272.6)">14</text>
<text x="435.12" y="272.6" font-size="6.4" transform="rotate(90 435.12 272.6)">15</text>
<line x1="347.3" y1="283.9" x2="364.6" y2="283.9" stroke="#555" stroke-width="0.7"/>
<line x1="347.3" y1="282.3" x2="347.3" y2="285.5" stroke="#555" stroke-width="0.7"/>
<line x1="364.6" y1="282.3" x2="364.6" y2="285.5" stroke="#555" stroke-width="0.7"/>
<line x1="364.6" y1="283.9" x2="376.2" y2="283.9" stroke="#555" stroke-width="0.7"/>
<line x1="364.6" y1="282.3" x2="364.6" y2="285.5" stroke="#555" stroke-width="0.7"/>
<line x1="376.2" y1="282.3" x2="376.2" y2="285.5" stroke="#555" stroke-width="0.7"/>
<line x1="386.6" y1="283.9" x2="403.9" y2="283.9" stroke="#555" stroke-width="0.7"/>
<line x1="386.6" y1="282.3" x2="386.6" y2="285.5" stroke="#555" stroke-width="0.7"/>
<line x1="403.9" y1="282.3" x2="403.9" y2="285.5" stroke="#555" stroke-width="0.7"/>
<line x1="403.9" y1="283.9" x2="440.4" y2="283.9" stroke="#555" stroke-width="0.7"/>
<line x1="403.9" y1="282.3" x2="403.9" y2="285.5" stroke="#555" stroke-width="0.7"/>
<line x1="440.4" y1="282.3" x2="440.4" y2="285.5" stroke="#555" stroke-width="0.7"/>
<text x="363.6" y="290.6" font-size="6.8" text-anchor="end" transform="rotate(-45 363.6 290.6)">Late CCSP KP</text>
<text x="375.6" y="290.6" font-size="6.8" text-anchor="end" transform="rotate(-45 375.6 290.6)">CCSP KPS</text>
<text x="398.3" y="289.4" font-size="6.8" text-anchor="end" transform="rotate(-45 398.3 289.4)">CCSP KPS</text>
<text x="427.1" y="288.3" font-size="6.8" text-anchor="end" transform="rotate(-45 427.1 288.3)">Early CCSP KP</text>
<text x="486.3" y="36.2" font-size="7.0">Norm. TF</text>
<text x="484.4" y="45.0" font-size="7.0">motif score</text>
<defs><linearGradient id="ylgnbu" x1="0" y1="0" x2="0" y2="1"><stop offset="0" stop-color="#0c1f5e"/><stop offset="0.15" stop-color="#253494"/><stop offset="0.32" stop-color="#225ea8"/><stop offset="0.47" stop-color="#1d91c0"/><stop offset="0.6" stop-color="#41b6c4"/><stop offset="0.72" stop-color="#7fcdbb"/><stop offset="0.84" stop-color="#c7e9b4"/><stop offset="0.93" stop-color="#edf8b1"/><stop offset="1" stop-color="#ffffe0"/></linearGradient></defs>
<rect x="495" y="52.6" width="6.5" height="43.1" fill="url(#ylgnbu)"/>
<text x="504.3" y="56.0" font-size="7.0">2</text>
<text x="504.3" y="75.3" font-size="7.0">0</text>
<text x="503.6" y="101.2" font-size="7.0">−1.5</text>
<rect x="72.3" y="423.7" width="122" height="62.4" fill="none" stroke="#231f20" stroke-width="0.8"/>
<line x1="138.8" y1="423.7" x2="138.8" y2="486.1" stroke="#231f20" stroke-width="0.8"/>
<line x1="167.4" y1="423.7" x2="167.4" y2="486.1" stroke="#231f20" stroke-width="0.8"/>
<text x="68.9" y="436.1" font-size="6.6" text-anchor="end">CCSP KPS</text>
<text x="68.9" y="449.2" font-size="6.6" text-anchor="end">Early CCSP KP</text>
<text x="68.9" y="462.9" font-size="6.6" text-anchor="end">Late CCSP KP</text>
<text x="68.9" y="475.6" font-size="6.6" text-anchor="end">Refseq genes</text>
<line x1="72.7" y1="437.5" x2="194" y2="437.5" stroke="#e6e6e6" stroke-width="0.5"/>
<line x1="72.7" y1="451" x2="194" y2="451" stroke="#e6e6e6" stroke-width="0.5"/>
<line x1="72.7" y1="464.6" x2="194" y2="464.6" stroke="#e6e6e6" stroke-width="0.5"/>
<path d="M72.7 435.30L72.7 434.89L73.2 434.73L73.7 434.70L74.2 434.43L74.7 434.71L75.2 434.16L75.7 434.22L76.2 433.72L76.7 433.45L77.2 433.71L77.7 433.53L78.2 433.33L78.7 433.60L79.2 433.93L79.7 433.80L80.2 434.20L80.7 434.27L81.2 434.55L81.7 434.25L82.2 434.49L82.7 434.06L83.2 434.49L83.7 433.99L84.2 433.91L84.7 433.65L85.2 433.77L85.7 433.31L86.2 433.62L86.7 434.04L87.2 433.80L87.7 434.09L88.2 434.02L88.7 434.40L89.2 434.39L89.7 434.63L90.2 434.81L90.7 434.88L91.2 434.60L91.7 434.91L92.2 434.72L92.7 434.70L93.2 434.73L93.7 434.65L94.2 434.70L94.7 434.75L95.2 434.63L95.7 434.34L96.2 434.24L96.7 434.26L97.2 434.28L97.7 434.15L98.2 434.14L98.7 433.87L99.2 433.86L99.7 433.46L100.2 433.39L100.7 433.61L101.2 433.13L101.7 432.53L102.2 432.40L102.7 432.47L103.2 433.03L103.7 433.23L104.2 432.71L104.7 432.48L105.2 432.98L105.7 432.51L106.2 432.76L106.7 432.32L107.2 432.38L107.7 432.50L108.2 432.52L108.7 431.59L109.2 432.22L109.7 431.15L110.2 432.36L110.7 431.11L111.2 430.98L111.7 430.93L112.2 430.30L112.7 430.85L113.2 430.85L113.7 430.99L114.2 431.04L114.7 431.79L115.2 430.71L115.7 431.17L116.2 431.19L116.7 431.86L117.2 432.61L117.7 432.38L118.2 431.02L118.7 432.16L119.2 430.76L119.7 431.43L120.2 431.73L120.7 431.26L121.2 431.93L121.7 431.41L122.2 431.70L122.7 431.33L123.2 432.49L123.7 432.44L124.2 431.76L124.7 432.81L125.2 432.12L125.7 432.70L126.2 432.45L126.7 432.43L127.2 432.90L127.7 433.55L128.2 433.40L128.7 433.30L129.2 433.62L129.7 434.01L130.2 433.83L130.7 433.83L131.2 434.45L131.7 434.74L132.2 434.64L132.7 434.47L133.2 434.76L133.7 434.71L134.2 434.84L134.7 435.01L135.2 434.70L135.7 434.72L136.2 434.90L136.7 434.86L137.2 434.89L137.7 434.96L138.2 435.06L138.4 435.30Z" fill="#6a2c91"/>
<line x1="72.7" y1="435.3" x2="138.4" y2="435.3" stroke="#6a2c91" stroke-width="0.6"/>
<path d="M139.2 435.30L139.2 434.61L139.7 435.08L140.2 434.71L140.7 434.85L141.2 434.82L141.7 434.91L142.2 434.92L142.7 434.70L143.2 434.71L143.7 434.93L144.2 435.09L144.7 434.92L145.2 434.86L145.7 434.85L146.2 435.02L146.7 434.91L147.2 434.34L147.7 433.93L148.2 432.16L148.7 430.89L149.2 430.92L149.7 431.87L150.2 433.55L150.7 433.32L151.2 431.78L151.7 427.49L152.2 425.73L152.7 427.46L153.2 430.94L153.7 430.71L154.2 430.10L154.7 430.45L155.2 431.99L155.7 433.01L156.2 433.04L156.7 432.08L157.2 432.42L157.7 432.96L158.2 434.17L158.7 434.40L159.2 434.84L159.7 434.68L160.2 434.77L160.7 434.81L161.2 434.71L161.7 434.55L162.2 434.47L162.7 434.10L163.2 433.75L163.7 433.59L164.2 433.93L164.7 433.83L165.2 433.98L165.7 434.38L166.2 434.74L166.7 434.67L167.0 435.30Z" fill="#6a2c91"/>
<line x1="139.2" y1="435.3" x2="167.0" y2="435.3" stroke="#6a2c91" stroke-width="0.6"/>
<path d="M167.8 435.30L167.8 434.96L168.3 434.90L168.8 434.91L169.3 435.01L169.8 435.00L170.3 434.71L170.8 434.76L171.3 434.89L171.8 434.76L172.3 434.83L172.8 434.90L173.3 434.77L173.8 435.01L174.3 434.75L174.8 434.72L175.3 434.72L175.8 434.87L176.3 434.82L176.8 434.83L177.3 435.04L177.8 434.73L178.3 434.87L178.8 434.89L179.3 434.91L179.8 434.77L180.3 434.73L180.8 434.64L181.3 434.88L181.8 434.65L182.3 434.72L182.8 434.86L183.3 434.74L183.8 435.01L184.3 434.64L184.8 434.98L185.3 434.95L185.8 434.85L186.3 434.71L186.8 434.60L187.3 434.14L187.8 433.29L188.3 433.14L188.8 433.88L189.3 434.07L189.8 434.36L190.3 434.61L190.8 434.84L191.3 434.82L191.8 434.75L192.3 434.88L192.8 434.81L193.3 434.83L193.8 434.72L193.9 435.30Z" fill="#6a2c91"/>
<line x1="167.8" y1="435.3" x2="193.9" y2="435.3" stroke="#6a2c91" stroke-width="0.6"/>
<path d="M72.7 448.80L72.7 448.49L73.2 448.38L73.7 448.32L74.2 447.61L74.7 447.51L75.2 446.98L75.7 446.60L76.2 444.92L76.7 444.32L77.2 445.22L77.7 444.95L78.2 444.92L78.7 446.20L79.2 445.67L79.7 446.11L80.2 445.95L80.7 444.42L81.2 445.44L81.7 445.29L82.2 445.62L82.7 446.89L83.2 447.42L83.7 448.04L84.2 448.16L84.7 448.41L85.2 448.41L85.7 448.40L86.2 448.27L86.7 448.45L87.2 448.37L87.7 448.39L88.2 448.43L88.7 448.32L89.2 448.55L89.7 448.24L90.2 448.46L90.7 448.43L91.2 448.39L91.7 447.91L92.2 447.84L92.7 448.16L93.2 447.45L93.7 447.35L94.2 447.09L94.7 447.40L95.2 447.25L95.7 446.57L96.2 447.28L96.7 447.30L97.2 447.02L97.7 447.49L98.2 447.19L98.7 447.74L99.2 447.78L99.7 447.58L100.2 447.50L100.7 446.92L101.2 446.99L101.7 446.55L102.2 446.06L102.7 446.04L103.2 445.77L103.7 444.77L104.2 444.89L104.7 445.41L105.2 445.39L105.7 444.43L106.2 445.80L106.7 444.92L107.2 445.26L107.7 444.96L108.2 444.76L108.7 445.58L109.2 443.96L109.7 442.88L110.2 442.90L110.7 442.05L111.2 441.79L111.7 441.08L112.2 440.53L112.7 442.95L113.2 441.02L113.7 444.00L114.2 444.22L114.7 443.49L115.2 444.94L115.7 444.00L116.2 443.04L116.7 444.76L117.2 444.32L117.7 443.96L118.2 442.48L118.7 443.22L119.2 444.33L119.7 444.60L120.2 444.26L120.7 445.23L121.2 446.26L121.7 445.60L122.2 445.31L122.7 445.76L123.2 445.21L123.7 444.99L124.2 445.80L124.7 445.64L125.2 445.94L125.7 446.30L126.2 446.84L126.7 447.10L127.2 447.27L127.7 447.59L128.2 448.02L128.7 448.08L129.2 448.23L129.7 448.26L130.2 448.40L130.7 448.51L131.2 448.40L131.7 448.28L132.2 448.40L132.7 448.43L133.2 448.34L133.7 448.45L134.2 448.42L134.7 448.39L135.2 448.17L135.7 448.29L136.2 448.38L136.7 448.32L137.2 448.39L137.7 448.25L138.2 448.45L138.4 448.80Z" fill="#2ea25a"/>
<line x1="72.7" y1="448.8" x2="138.4" y2="448.8" stroke="#2ea25a" stroke-width="0.6"/>
<path d="M139.2 448.80L139.2 448.29L139.7 448.18L140.2 448.21L140.7 448.54L141.2 448.19L141.7 448.32L142.2 448.43L142.7 448.35L143.2 448.57L143.7 448.39L144.2 448.35L144.7 448.35L145.2 448.40L145.7 448.50L146.2 448.44L146.7 447.69L147.2 447.13L147.7 446.37L148.2 446.16L148.7 446.76L149.2 447.85L149.7 448.38L150.2 448.53L150.7 448.34L151.2 448.05L151.7 446.97L152.2 444.47L152.7 442.45L153.2 443.21L153.7 444.76L154.2 445.67L154.7 446.99L155.2 446.63L155.7 446.66L156.2 445.55L156.7 446.49L157.2 447.04L157.7 448.13L158.2 448.22L158.7 448.47L159.2 448.19L159.7 448.49L160.2 448.54L160.7 448.26L161.2 448.37L161.7 448.39L162.2 448.49L162.7 448.56L163.2 448.21L163.7 448.55L164.2 448.20L164.7 448.45L165.2 448.28L165.7 448.40L166.2 448.49L166.7 448.54L167.0 448.80Z" fill="#2ea25a"/>
<line x1="139.2" y1="448.8" x2="167.0" y2="448.8" stroke="#2ea25a" stroke-width="0.6"/>
<path d="M167.8 448.80L167.8 448.20L168.3 448.42L168.8 448.53L169.3 448.34L169.8 448.38L170.3 448.41L170.8 448.31L171.3 448.33L171.8 448.48L172.3 448.32L172.8 448.23L173.3 448.29L173.8 448.48L174.3 448.28L174.8 448.55L175.3 448.37L175.8 448.20L176.3 448.46L176.8 448.36L177.3 448.23L177.8 448.29L178.3 448.17L178.8 448.55L179.3 448.38L179.8 448.42L180.3 448.24L180.8 448.49L181.3 448.48L181.8 448.44L182.3 448.43L182.8 448.40L183.3 448.38L183.8 448.36L184.3 448.33L184.8 448.27L185.3 447.82L185.8 447.33L186.3 446.03L186.8 445.02L187.3 443.00L187.8 443.24L188.3 444.51L188.8 446.13L189.3 447.20L189.8 448.11L190.3 448.21L190.8 448.29L191.3 448.54L191.8 448.50L192.3 448.46L192.8 448.32L193.3 448.47L193.8 448.22L193.9 448.80Z" fill="#2ea25a"/>
<line x1="167.8" y1="448.8" x2="193.9" y2="448.8" stroke="#2ea25a" stroke-width="0.6"/>
<path d="M72.7 462.40L72.7 462.09L73.2 462.00L73.7 461.97L74.2 462.07L74.7 462.00L75.2 461.91L75.7 461.29L76.2 461.27L76.7 460.14L77.2 460.16L77.7 460.13L78.2 459.84L78.7 460.36L79.2 459.87L79.7 460.29L80.2 460.27L80.7 460.39L81.2 460.13L81.7 459.48L82.2 459.44L82.7 459.98L83.2 459.94L83.7 460.79L84.2 461.01L84.7 461.50L85.2 461.59L85.7 461.52L86.2 461.54L86.7 461.27L87.2 460.81L87.7 460.80L88.2 460.65L88.7 460.91L89.2 460.77L89.7 461.34L90.2 461.72L90.7 461.60L91.2 461.82L91.7 461.95L92.2 462.13L92.7 462.13L93.2 462.10L93.7 462.13L94.2 461.94L94.7 462.10L95.2 461.83L95.7 461.68L96.2 461.91L96.7 461.67L97.2 461.55L97.7 461.59L98.2 461.24L98.7 460.98L99.2 460.81L99.7 460.31L100.2 459.76L100.7 459.87L101.2 460.35L101.7 459.63L102.2 459.79L102.7 460.51L103.2 460.62L103.7 461.12L104.2 461.04L104.7 461.00L105.2 460.86L105.7 460.39L106.2 459.58L106.7 459.81L107.2 459.41L107.7 459.51L108.2 458.06L108.7 459.01L109.2 459.79L109.7 459.69L110.2 459.81L110.7 459.29L111.2 459.94L111.7 459.93L112.2 458.47L112.7 458.40L113.2 458.85L113.7 458.12L114.2 457.98L114.7 459.08L115.2 458.12L115.7 458.81L116.2 459.36L116.7 460.18L117.2 460.78L117.7 460.79L118.2 460.38L118.7 460.17L119.2 459.42L119.7 459.80L120.2 459.99L120.7 459.92L121.2 458.96L121.7 459.51L122.2 459.48L122.7 460.17L123.2 460.14L123.7 460.79L124.2 461.16L124.7 461.38L125.2 461.50L125.7 461.69L126.2 461.86L126.7 462.09L127.2 461.72L127.7 462.04L128.2 461.76L128.7 462.02L129.2 462.16L129.7 461.77L130.2 461.89L130.7 461.94L131.2 461.92L131.7 462.09L132.2 462.05L132.7 462.07L133.2 462.06L133.7 462.03L134.2 461.87L134.7 461.94L135.2 461.97L135.7 462.05L136.2 462.05L136.7 462.12L137.2 462.09L137.7 461.88L138.2 462.03L138.4 462.40Z" fill="#252a7f"/>
<line x1="72.7" y1="462.4" x2="138.4" y2="462.4" stroke="#252a7f" stroke-width="0.6"/>
<path d="M139.2 462.40L139.2 462.01L139.7 462.08L140.2 462.15L140.7 461.87L141.2 461.93L141.7 461.99L142.2 462.04L142.7 462.15L143.2 462.17L143.7 461.94L144.2 462.08L144.7 461.99L145.2 462.11L145.7 461.99L146.2 462.00L146.7 461.94L147.2 461.76L147.7 461.92L148.2 461.03L148.7 460.41L149.2 460.33L149.7 461.04L150.2 461.46L150.7 461.57L151.2 460.92L151.7 459.17L152.2 458.56L152.7 459.18L153.2 459.40L153.7 460.36L154.2 460.92L154.7 461.15L155.2 460.73L155.7 460.20L156.2 459.74L156.7 460.51L157.2 461.15L157.7 461.17L158.2 461.79L158.7 462.05L159.2 461.90L159.7 462.09L160.2 462.08L160.7 462.01L161.2 461.98L161.7 462.16L162.2 462.11L162.7 461.98L163.2 461.94L163.7 461.91L164.2 462.18L164.7 462.00L165.2 461.92L165.7 461.93L166.2 461.92L166.7 461.95L167.0 462.40Z" fill="#252a7f"/>
<line x1="139.2" y1="462.4" x2="167.0" y2="462.4" stroke="#252a7f" stroke-width="0.6"/>
<path d="M167.8 462.40L167.8 462.01L168.3 462.06L168.8 462.15L169.3 461.93L169.8 461.94L170.3 462.15L170.8 461.91L171.3 461.97L171.8 462.12L172.3 461.90L172.8 461.89L173.3 461.98L173.8 462.14L174.3 461.87L174.8 462.07L175.3 462.10L175.8 462.01L176.3 462.03L176.8 461.94L177.3 462.02L177.8 462.15L178.3 461.92L178.8 462.01L179.3 461.88L179.8 462.14L180.3 462.12L180.8 462.19L181.3 461.90L181.8 462.02L182.3 462.00L182.8 462.01L183.3 461.85L183.8 462.12L184.3 462.00L184.8 461.97L185.3 461.85L185.8 461.65L186.3 461.71L186.8 461.55L187.3 460.90L187.8 460.98L188.3 460.65L188.8 461.07L189.3 461.26L189.8 461.81L190.3 461.80L190.8 462.01L191.3 462.01L191.8 462.10L192.3 462.08L192.8 462.11L193.3 461.87L193.8 461.95L193.9 462.40Z" fill="#252a7f"/>
<line x1="167.8" y1="462.4" x2="193.9" y2="462.4" stroke="#252a7f" stroke-width="0.6"/>
<line x1="91" y1="470.2" x2="109.5" y2="470.2" stroke="#1b1f6a" stroke-width="0.7"/>
<rect x="93.5" y="469.0" width="3.5" height="2.4" fill="#1b1f6a"/>
<rect x="98" y="468.6" width="4.8" height="3.2" fill="#1b1f6a"/>
<circle cx="108.5" cy="470.2" r="1.5" fill="#1b1f6a"/>
<line x1="153" y1="470.2" x2="159" y2="470.2" stroke="#1b1f6a" stroke-width="0.7"/>
<rect x="153" y="468.8" width="3.8" height="2.8" fill="#1b1f6a"/>
<line x1="169.5" y1="470.2" x2="187.5" y2="470.2" stroke="#8a90b0" stroke-width="0.6"/>
<line x1="169.5" y1="469.2" x2="169.5" y2="471.2" stroke="#8a90b0" stroke-width="0.6"/>
<line x1="187.5" y1="469.2" x2="187.5" y2="471.2" stroke="#8a90b0" stroke-width="0.6"/>
<circle cx="176.2" cy="470.2" r="0.9" fill="#4a4f7a"/>
<text x="100.3" y="480.3" font-size="6.7" text-anchor="middle" font-style="italic">Nkx2-1</text>
<text x="152.7" y="480.3" font-size="6.7" text-anchor="middle" font-style="italic">Sox2</text>
<text x="180.8" y="480.3" font-size="6.7" text-anchor="middle" font-style="italic">Scgb1a1</text>
<line x1="25.75" y1="522.5" x2="25.75" y2="574.5" stroke="#231f20" stroke-width="0.7"/>
<line x1="25.75" y1="574.5" x2="101.6" y2="574.5" stroke="#231f20" stroke-width="0.7"/>
<line x1="23.6" y1="526.75" x2="25.75" y2="526.75" stroke="#231f20" stroke-width="0.7"/>
<text x="22.6" y="529.25" font-size="7.2" text-anchor="end">10</text>
<line x1="23.6" y1="548" x2="25.75" y2="548" stroke="#231f20" stroke-width="0.7"/>
<text x="22.6" y="550.5" font-size="7.2" text-anchor="end">0</text>
<line x1="23.6" y1="569.5" x2="25.75" y2="569.5" stroke="#231f20" stroke-width="0.7"/>
<text x="22.6" y="572.0" font-size="7.2" text-anchor="end">−10</text>
<line x1="37" y1="574.5" x2="37" y2="576.6" stroke="#231f20" stroke-width="0.7"/>
<text x="37" y="583.4" font-size="7.2" text-anchor="middle">−10</text>
<line x1="58" y1="574.5" x2="58" y2="576.6" stroke="#231f20" stroke-width="0.7"/>
<text x="58" y="583.4" font-size="7.2" text-anchor="middle">0</text>
<line x1="79.5" y1="574.5" x2="79.5" y2="576.6" stroke="#231f20" stroke-width="0.7"/>
<text x="79.5" y="583.4" font-size="7.2" text-anchor="middle">10</text>
<line x1="100.75" y1="574.5" x2="100.75" y2="576.6" stroke="#231f20" stroke-width="0.7"/>
<text x="100.75" y="583.4" font-size="7.2" text-anchor="middle">20</text>
<text x="63.4" y="594.4" font-size="7.2" text-anchor="middle">PC1: 54% variance</text>
<text x="6.5" y="546.9" font-size="7.2" text-anchor="middle" transform="rotate(-90 6.5 546.9)">PC2: 15% variance</text>
<circle cx="33.75" cy="539.25" r="2.1" fill="#21917f"/>
<circle cx="40" cy="539.25" r="2.1" fill="#21917f"/>
<circle cx="40" cy="549.25" r="2.1" fill="#21917f"/>
<circle cx="30.75" cy="569.5" r="2.1" fill="#21917f"/>
<circle cx="47.5" cy="533" r="2.1" fill="#e5a03b"/>
<circle cx="46.5" cy="553.75" r="2.1" fill="#e5a03b"/>
<circle cx="92.5" cy="527" r="2.1" fill="#6b6fbf"/>
<circle cx="92.5" cy="559.5" r="2.1" fill="#6b6fbf"/>
<circle cx="96.4" cy="560" r="2.1" fill="#6b6fbf"/>
<circle cx="109.3" cy="539.25" r="2.3" fill="#21917f"/>
<text x="112.6" y="541.95" font-size="7.8">KP</text>
<circle cx="109.3" cy="548" r="2.3" fill="#e5a03b"/>
<text x="112.6" y="550.7" font-size="7.8">KPS-HET</text>
<circle cx="109.3" cy="556.75" r="2.3" fill="#6b6fbf"/>
<text x="112.6" y="559.45" font-size="7.8">KPS</text>
<rect x="187.5" y="498" width="95.6" height="86.2" fill="none" stroke="#9a9a9a" stroke-width="0.7"/>
<line x1="185.6" y1="501.25" x2="187.5" y2="501.25" stroke="#555" stroke-width="0.6"/>
<text x="184.8" y="503.65" font-size="6.8" text-anchor="end">10</text>
<line x1="185.6" y1="522" x2="187.5" y2="522" stroke="#555" stroke-width="0.6"/>
<text x="184.8" y="524.4" font-size="6.8" text-anchor="end">5</text>
<line x1="185.6" y1="541.75" x2="187.5" y2="541.75" stroke="#555" stroke-width="0.6"/>
<text x="184.8" y="544.15" font-size="6.8" text-anchor="end">0</text>
<line x1="185.6" y1="561.75" x2="187.5" y2="561.75" stroke="#555" stroke-width="0.6"/>
<text x="184.8" y="564.15" font-size="6.8" text-anchor="end">−5</text>
<line x1="185.6" y1="581.25" x2="187.5" y2="581.25" stroke="#555" stroke-width="0.6"/>
<text x="184.8" y="583.65" font-size="6.8" text-anchor="end">−10</text>
<line x1="194" y1="584.2" x2="194" y2="586" stroke="#555" stroke-width="0.6"/>
<text x="194" y="593.6" font-size="6.8" text-anchor="middle">1e+00</text>
<line x1="223.6" y1="584.2" x2="223.6" y2="586" stroke="#555" stroke-width="0.6"/>
<text x="223.6" y="593.6" font-size="6.8" text-anchor="middle">1e+02</text>
<line x1="252.7" y1="584.2" x2="252.7" y2="586" stroke="#555" stroke-width="0.6"/>
<text x="252.7" y="593.6" font-size="6.8" text-anchor="middle">1e+04</text>
<line x1="281.4" y1="584.2" x2="281.4" y2="586" stroke="#555" stroke-width="0.6"/>
<text x="281.4" y="593.6" font-size="6.8" text-anchor="middle">1e+06</text>
<text x="192.7" y="603.2" font-size="7.05">Mean of normalized counts</text>
<text x="170.4" y="541" font-size="6.85" text-anchor="middle" transform="rotate(-90 170.4 541)">Log fold change (KPS/KP)</text>
<path d="M200.6 547.0h0M200.0 547.0h0M196.9 541.4h0M220.1 541.6h0M194.4 532.8h0M212.7 540.2h0M211.8 532.4h0M210.0 547.8h0M196.3 536.6h0M197.0 538.2h0M193.9 541.3h0M253.2 540.4h0M193.4 539.4h0M206.1 531.0h0M199.1 551.7h0M235.9 539.8h0M252.2 537.5h0M246.8 541.1h0M232.9 541.2h0M223.9 539.7h0M222.9 540.1h0M235.0 540.6h0M217.0 540.4h0M252.4 540.7h0M223.4 543.6h0M213.8 539.6h0M239.5 539.9h0M194.5 542.2h0M258.0 543.1h0M237.2 540.6h0M198.8 543.1h0M191.1 528.8h0M258.0 540.4h0M226.2 541.6h0M228.9 539.3h0M206.1 542.6h0M224.8 537.9h0M192.8 531.4h0M222.7 548.0h0M215.7 552.3h0M195.6 539.8h0M247.8 541.2h0M212.8 553.6h0M252.2 539.9h0M201.3 552.4h0M220.0 539.0h0M193.0 536.7h0M197.9 543.5h0M245.3 540.8h0M203.4 539.0h0M230.4 541.9h0M236.8 540.5h0M194.0 556.8h0M231.5 537.4h0M197.3 547.1h0M192.8 527.2h0M258.7 541.3h0M201.9 552.0h0M219.5 544.6h0M193.8 545.5h0M196.8 540.2h0M218.3 543.3h0M234.3 540.8h0M212.2 540.1h0M203.6 543.5h0M196.9 550.1h0M242.6 541.1h0M239.3 540.0h0M192.5 548.8h0M205.0 537.5h0M210.9 542.7h0M197.1 535.5h0M199.0 552.9h0M201.8 541.6h0M217.8 538.8h0M215.0 539.6h0M237.0 540.2h0M214.6 544.8h0M194.6 525.6h0M197.7 542.5h0M239.8 539.8h0M192.9 542.4h0M207.3 538.3h0M211.7 508.7h0M207.0 533.3h0M210.1 545.3h0M250.7 539.0h0M226.8 535.8h0M204.9 545.7h0M199.2 520.7h0M221.4 537.0h0M201.5 554.8h0M193.2 544.1h0M233.3 542.8h0M195.6 540.4h0M197.4 533.3h0M192.3 539.9h0M208.8 541.3h0M200.2 538.7h0M229.2 542.7h0M203.9 548.8h0M232.5 523.3h0M215.6 542.7h0M200.2 531.6h0M213.3 540.8h0M269.0 577.9h0M210.3 546.0h0M212.9 540.6h0M201.2 551.1h0M216.2 547.2h0M231.6 532.0h0M202.0 556.8h0M196.8 537.0h0M212.0 540.0h0M194.3 556.7h0M225.7 535.8h0M237.3 544.0h0M196.7 536.9h0M205.5 530.2h0M218.8 540.6h0M222.7 540.4h0M233.2 540.5h0M225.1 532.6h0M193.5 545.9h0M194.1 545.2h0M193.8 546.0h0M205.5 536.5h0M209.0 545.4h0M232.9 539.1h0M243.1 541.8h0M198.0 541.9h0M212.4 508.0h0M246.7 527.9h0M246.8 560.1h0M231.8 541.3h0M201.9 552.2h0M217.8 543.2h0M253.7 542.5h0M225.5 539.0h0M207.0 540.4h0M200.3 545.1h0M206.5 543.4h0M206.1 539.6h0M225.1 541.9h0M225.9 543.0h0M191.5 548.6h0M208.8 543.9h0M218.8 544.2h0M196.6 528.3h0M244.3 540.4h0M195.9 548.7h0M201.4 524.0h0M224.0 541.2h0M214.0 542.0h0M196.4 524.3h0M242.6 537.8h0M222.1 541.3h0M209.5 542.9h0M231.7 536.0h0M221.9 541.9h0M194.9 539.8h0M201.9 525.5h0M235.5 541.8h0M260.4 541.0h0M207.0 541.1h0M197.3 529.8h0M194.6 538.0h0M192.5 533.6h0M238.4 542.7h0M204.9 537.1h0M204.0 543.0h0M212.1 540.8h0M197.4 546.6h0M201.1 541.3h0M203.7 537.2h0M208.7 555.6h0M243.2 541.0h0M195.1 529.9h0M237.1 542.3h0M212.6 544.4h0M271.9 528.2h0M225.6 537.9h0M242.1 541.6h0M198.4 541.6h0M256.7 540.9h0M272.0 543.0h0M223.9 540.1h0M235.1 540.7h0M192.3 545.9h0M197.7 532.8h0M219.4 545.7h0M194.2 546.7h0M231.3 534.6h0M217.4 544.8h0M209.3 542.3h0M204.9 538.1h0M231.0 541.2h0M194.2 532.8h0M205.6 540.0h0M209.8 537.4h0M267.3 540.3h0M197.6 542.8h0M234.1 540.1h0M210.0 533.2h0M257.5 540.2h0M196.2 543.5h0M197.2 545.6h0M194.1 556.7h0M191.3 534.4h0M212.8 543.4h0M214.1 542.0h0M224.3 537.7h0M195.5 544.9h0M215.2 540.7h0M201.0 538.6h0M212.6 541.7h0M192.3 527.6h0M221.4 544.6h0M196.6 559.2h0M243.9 540.6h0M260.6 560.3h0M249.9 541.6h0M196.7 540.5h0M198.1 533.6h0M201.1 535.2h0M252.7 541.2h0M226.7 541.0h0M261.1 540.4h0M210.4 539.3h0M253.8 540.1h0M201.4 540.9h0M263.8 539.0h0M257.4 538.8h0M193.1 540.9h0M195.5 537.1h0M201.0 539.7h0M215.4 539.9h0M198.4 553.8h0M223.7 540.2h0M205.2 543.9h0M237.1 543.2h0M216.6 540.1h0M229.8 539.4h0M208.9 546.2h0M197.0 530.9h0M213.5 541.0h0M216.5 530.3h0M226.5 535.8h0M209.8 546.8h0M191.0 548.6h0M203.8 537.2h0M195.0 545.3h0M199.4 551.7h0M216.3 536.2h0M211.6 540.9h0M211.9 547.9h0M198.5 534.2h0M196.6 531.2h0M212.6 538.4h0M233.9 542.1h0M206.3 538.3h0M263.2 540.6h0M193.3 552.0h0M197.8 541.2h0M196.3 542.6h0M225.1 539.6h0M236.4 538.7h0M244.7 540.6h0M208.5 535.5h0M205.2 538.1h0M259.3 539.9h0M226.6 547.3h0M205.0 549.2h0M206.6 542.4h0M191.4 529.3h0M212.4 544.7h0M199.7 544.8h0M208.4 537.0h0M193.5 533.7h0M226.6 541.9h0M226.5 540.7h0M192.2 555.2h0M194.5 546.2h0M199.1 532.7h0M204.9 534.6h0M245.0 540.5h0M240.1 544.0h0M223.2 543.3h0M194.8 550.0h0M209.2 538.5h0M220.8 542.8h0M196.7 530.5h0M247.4 540.6h0M213.4 542.4h0M254.1 541.6h0M206.9 540.6h0M214.9 536.0h0M206.3 534.6h0M196.9 551.0h0M215.3 540.5h0M213.3 529.6h0M191.2 531.9h0M212.5 538.0h0M238.3 543.3h0M229.9 538.0h0M201.5 546.4h0M205.8 530.8h0M224.9 540.9h0M222.4 544.5h0M229.1 540.6h0M204.3 528.8h0M198.9 556.1h0M213.9 541.0h0M192.9 532.5h0M193.3 537.1h0M201.3 542.7h0M229.2 545.0h0M217.5 536.2h0M213.3 549.5h0M200.0 546.7h0M239.9 540.4h0M198.7 527.9h0M193.8 534.5h0M197.0 531.2h0M206.5 549.1h0M202.2 539.8h0M207.0 545.6h0M245.4 536.8h0M197.1 543.8h0M206.4 535.6h0M214.3 535.0h0M234.7 541.1h0M250.0 541.4h0M232.0 552.6h0M191.4 553.8h0M191.1 545.1h0M201.6 539.4h0M202.8 540.4h0M197.4 551.7h0M244.3 540.2h0M200.7 545.3h0M231.8 540.2h0M251.7 539.8h0M199.7 539.8h0M207.1 537.8h0M204.8 546.6h0M202.5 540.7h0M209.6 546.8h0M224.9 541.3h0M193.1 537.4h0M243.1 542.0h0M200.7 543.3h0M195.1 548.3h0M220.5 540.2h0M221.8 543.4h0M217.8 536.0h0M195.0 524.9h0M199.4 537.0h0M267.0 541.6h0M225.3 535.8h0M210.6 539.0h0M232.3 544.4h0M193.4 539.8h0M218.2 543.0h0M193.3 549.7h0M251.1 541.1h0M230.1 542.0h0M195.1 554.7h0M192.1 545.6h0M203.6 535.6h0M239.0 542.9h0M222.7 540.5h0M196.7 534.0h0M205.8 533.9h0M201.6 541.8h0M195.5 524.8h0M230.3 542.1h0M241.2 543.9h0M192.5 547.9h0M206.9 553.5h0M197.0 532.8h0M208.7 539.6h0M211.1 538.5h0M206.1 554.3h0M205.6 539.2h0M229.3 537.7h0M203.7 541.5h0M208.4 540.9h0M238.8 541.5h0M248.0 541.3h0M201.7 547.3h0M195.7 549.1h0M236.5 542.6h0M253.8 537.5h0M219.7 544.7h0M237.3 535.2h0M197.3 541.9h0M218.8 548.1h0M223.9 546.9h0M194.2 551.5h0M256.9 541.0h0M224.3 533.8h0M204.8 540.4h0M194.7 556.8h0M245.4 541.4h0M198.4 536.9h0M273.7 528.4h0M203.5 533.3h0M219.7 537.2h0M206.8 547.3h0M192.6 546.1h0M218.0 542.1h0M202.7 539.0h0M191.8 554.6h0M218.6 544.4h0M231.5 538.0h0M257.4 541.0h0M203.9 549.1h0M203.4 535.3h0M255.0 540.8h0M195.0 543.7h0M193.8 549.8h0M214.6 535.7h0M203.9 543.4h0M195.8 534.3h0M235.9 539.6h0M225.8 542.1h0M224.8 541.1h0M198.3 532.3h0M216.9 547.4h0M204.9 541.3h0M262.0 540.8h0M228.3 537.1h0M217.3 534.3h0M198.5 541.3h0M257.0 540.8h0M236.3 541.4h0M191.3 532.4h0M209.7 538.4h0M217.2 544.3h0M195.1 557.5h0M197.8 546.9h0M255.7 541.6h0M214.8 550.3h0M210.1 537.2h0M237.8 542.4h0M221.5 540.2h0M203.0 530.7h0M220.0 540.7h0M199.9 548.5h0M260.1 539.7h0M219.9 542.0h0M248.2 537.9h0M209.8 533.8h0M191.1 552.8h0M212.3 539.8h0M200.8 551.3h0M250.4 542.3h0M241.4 540.0h0M194.9 538.0h0M192.8 547.8h0M223.9 542.6h0M208.7 539.9h0M254.4 540.4h0M200.1 535.2h0M200.9 518.9h0M204.7 542.9h0M211.9 548.2h0M198.3 537.0h0M230.3 540.1h0M191.6 541.7h0M202.9 534.6h0M203.9 547.5h0M227.6 544.2h0M223.8 546.8h0M194.4 552.1h0M224.0 540.2h0M210.7 543.3h0M195.5 529.3h0M211.3 540.8h0M199.7 519.9h0M191.6 531.6h0M247.7 538.0h0M197.3 523.6h0M259.3 541.6h0M206.4 541.7h0M229.2 540.0h0M208.7 541.5h0M194.8 548.1h0M214.4 536.6h0M191.7 547.9h0M210.9 545.6h0M217.2 540.6h0M215.8 540.3h0M226.8 539.0h0M194.9 550.8h0M211.0 509.0h0M247.4 541.3h0M221.3 541.6h0M217.3 531.4h0M196.5 546.6h0M193.9 543.6h0M196.1 541.8h0M243.3 542.2h0M220.5 541.7h0M191.9 546.5h0M218.9 540.8h0M244.7 541.9h0M195.5 552.7h0M249.5 541.6h0M258.6 540.4h0M208.1 549.0h0M203.5 550.8h0M200.1 539.0h0M213.9 515.4h0M216.3 547.7h0M246.4 542.5h0M207.4 540.4h0M208.2 545.7h0M192.5 532.1h0M211.8 525.5h0M221.9 541.5h0M198.5 541.9h0M221.3 544.2h0M194.1 556.8h0M201.7 537.3h0M238.4 543.0h0M215.3 545.4h0M191.1 546.5h0M208.7 536.1h0M199.7 540.9h0M199.1 531.5h0M215.3 544.1h0M200.0 546.4h0M208.1 540.2h0M250.4 541.0h0M203.5 535.8h0M203.8 536.8h0M211.5 534.8h0M209.3 546.2h0M228.3 546.2h0M194.5 525.4h0M199.5 520.3h0M246.1 541.6h0M205.4 545.0h0M220.5 544.8h0M222.6 542.2h0M256.5 541.1h0M226.0 540.9h0M193.6 541.3h0M202.2 536.7h0M206.3 533.6h0M213.6 540.3h0M208.5 542.2h0M216.1 541.5h0M199.6 530.5h0M208.2 540.2h0M205.6 544.5h0M233.5 539.4h0M231.4 541.2h0M198.8 528.9h0M196.2 540.5h0M209.7 535.9h0M204.9 533.8h0M220.2 543.9h0M195.0 537.5h0M242.5 541.4h0M208.0 544.8h0M243.4 538.3h0M209.3 549.6h0M198.0 535.9h0M213.3 539.6h0M199.9 544.2h0M195.9 542.0h0M257.8 539.9h0M256.4 542.3h0M226.4 535.5h0M191.4 535.8h0M201.0 548.9h0M214.9 539.8h0M198.9 551.6h0M218.6 540.6h0M216.8 548.5h0M191.5 554.3h0M193.7 541.8h0M262.7 539.8h0M210.7 540.8h0M204.6 551.4h0M207.5 533.0h0M250.8 541.4h0M240.5 541.4h0M247.4 537.8h0M252.1 541.7h0M199.0 547.5h0M264.2 538.0h0M198.8 547.5h0M194.6 536.1h0M194.7 544.0h0M220.2 541.9h0M252.2 538.7h0M193.0 536.8h0M195.5 551.7h0M192.4 536.4h0M199.8 561.9h0M218.4 539.7h0M198.4 540.5h0M231.8 541.7h0M195.1 534.2h0M262.6 541.7h0M209.0 524.3h0M213.4 534.7h0M209.7 545.4h0M220.4 539.8h0M195.5 540.6h0M192.8 529.3h0M194.4 557.2h0M250.9 579.0h0M242.4 540.4h0M217.0 538.7h0M195.0 534.5h0M197.4 529.9h0M215.4 538.3h0M240.1 541.9h0M238.3 521.3h0M230.2 540.2h0M225.6 540.7h0M203.2 534.1h0M204.2 534.6h0M197.7 534.0h0M200.0 534.0h0M213.1 539.3h0M200.0 546.3h0M253.0 538.3h0M198.6 551.3h0M212.0 541.0h0M211.4 537.5h0M212.3 540.9h0M207.8 542.8h0M193.1 555.3h0M234.5 541.2h0M242.0 540.6h0M191.5 554.6h0M191.9 538.2h0M207.0 544.5h0M207.2 540.9h0M192.1 540.3h0M210.3 540.0h0M207.6 512.3h0M192.2 549.5h0M261.3 541.8h0M221.7 536.8h0M211.1 542.9h0M196.7 542.4h0M206.7 547.2h0M193.3 537.1h0M191.6 530.7h0M203.2 536.4h0M193.9 526.6h0M253.6 540.6h0M196.0 551.8h0M209.3 542.6h0M240.7 541.0h0M210.7 537.2h0M204.9 541.6h0M216.5 540.4h0M224.7 541.8h0M192.2 552.4h0M250.8 540.5h0M204.7 545.8h0M232.0 540.8h0M210.0 537.1h0M201.6 529.2h0M212.7 533.3h0M207.9 543.8h0M191.3 548.2h0M212.4 536.1h0M215.0 539.4h0M202.4 549.9h0M257.6 539.1h0M219.2 535.7h0M208.0 523.2h0M192.5 551.3h0M208.6 532.7h0M202.2 537.8h0M221.1 542.7h0M191.9 542.0h0M216.3 539.3h0M231.5 539.7h0M239.9 535.1h0M200.9 542.5h0M223.2 542.1h0M263.3 539.4h0M200.2 530.2h0M230.8 540.8h0M198.8 561.6h0M260.0 540.6h0M258.6 541.8h0M216.4 531.9h0M193.2 539.5h0M193.9 534.8h0M218.9 536.6h0M213.4 539.5h0M197.0 539.5h0M230.4 537.6h0M221.6 540.6h0M209.1 539.0h0M206.9 531.3h0M214.8 539.9h0M226.2 544.1h0M245.6 540.5h0M210.6 548.8h0M195.6 541.9h0M204.5 546.5h0M199.7 541.6h0M195.5 540.0h0M215.2 546.1h0M249.7 540.9h0M213.2 541.1h0M195.0 528.7h0M196.3 535.8h0M193.9 553.3h0M191.4 539.2h0M218.4 540.0h0M191.5 531.0h0M219.1 542.3h0M197.8 537.2h0M214.5 540.5h0M191.5 551.5h0M263.6 538.0h0M198.3 548.8h0M212.4 539.1h0M192.9 537.0h0M215.1 541.1h0M231.9 542.1h0M203.2 553.5h0M213.7 542.8h0M194.9 525.5h0M191.6 543.7h0M237.6 541.1h0M201.1 538.9h0M207.5 539.4h0M204.9 543.7h0M209.4 546.3h0M200.3 544.5h0M223.6 539.3h0M219.9 534.7h0M226.3 541.7h0M193.0 541.2h0M198.1 550.0h0M237.5 559.6h0M192.9 555.3h0M197.9 522.4h0M193.8 535.5h0M198.6 537.7h0M197.0 552.5h0M197.3 554.5h0M216.1 547.3h0M236.8 541.5h0M252.5 541.1h0M203.1 538.3h0M219.2 542.3h0M198.3 542.9h0M206.4 544.1h0M206.8 542.6h0M191.6 540.8h0M191.4 540.4h0M234.2 536.9h0M244.4 542.8h0M195.6 529.2h0M196.8 550.9h0M209.9 542.8h0M218.6 546.4h0M216.2 540.7h0M260.1 541.4h0M212.7 536.3h0M206.9 547.4h0M206.2 543.7h0M221.0 545.9h0M192.7 546.2h0M205.0 543.0h0M262.2 540.7h0M205.2 549.9h0M259.4 527.8h0M211.3 541.2h0M191.5 538.6h0M214.4 543.1h0M229.8 539.0h0M193.7 541.8h0M219.1 547.6h0M207.0 547.1h0M202.4 546.0h0M249.8 540.0h0M192.5 555.1h0M193.6 542.8h0M219.5 547.4h0M191.8 528.3h0M200.5 537.3h0M204.3 539.9h0M200.7 536.8h0M198.1 537.3h0M192.7 540.2h0M191.5 529.5h0M201.0 545.1h0M201.2 563.2h0M214.1 539.1h0M212.0 540.9h0M210.9 536.3h0M192.3 555.0h0M215.2 540.8h0M201.8 537.9h0M192.1 552.3h0M195.4 542.1h0M195.2 539.3h0M195.5 524.2h0M199.2 541.8h0M224.8 544.0h0M222.2 541.3h0M219.8 546.1h0M204.9 547.4h0M195.4 524.3h0M199.1 520.6h0M201.3 548.7h0M229.8 542.3h0M240.6 540.5h0M208.3 543.5h0M193.7 546.3h0M213.2 538.9h0M234.8 541.1h0M222.9 539.3h0M207.1 555.0h0M216.8 539.3h0M244.8 541.5h0M258.0 540.8h0M241.3 541.6h0M220.3 537.7h0M196.7 552.7h0M214.5 534.8h0M240.1 543.3h0M215.2 549.8h0M205.9 535.4h0M222.7 540.7h0M194.0 537.8h0M200.6 542.4h0M236.8 538.1h0M228.6 541.8h0M200.1 528.5h0M207.4 531.6h0M218.9 540.0h0M213.6 539.6h0M257.5 540.7h0M196.7 534.1h0M207.3 536.0h0M198.1 522.2h0M220.5 540.6h0M200.6 527.9h0M232.3 542.0h0M206.9 532.4h0M244.4 542.5h0M231.2 540.2h0M192.7 549.7h0M216.6 547.9h0M191.9 528.0h0M200.3 531.9h0M202.1 550.9h0M258.6 535.6h0M197.4 548.8h0M197.3 546.9h0M218.5 543.0h0M200.8 523.6h0M215.2 541.5h0M218.9 537.3h0M257.0 541.8h0M225.4 538.8h0M199.3 545.2h0M199.1 543.3h0M194.2 543.9h0M199.5 535.3h0M203.1 551.2h0M198.3 539.2h0M205.6 541.1h0M221.9 540.2h0M240.1 541.7h0M192.1 545.2h0M195.3 541.7h0M210.7 535.7h0M247.2 538.7h0M192.6 531.0h0M202.2 539.6h0M193.7 538.0h0M213.4 541.5h0M195.3 524.7h0M210.4 543.3h0M234.8 541.1h0M210.5 540.0h0M256.5 541.7h0M222.3 537.7h0M200.3 532.1h0M196.7 544.4h0M211.8 537.7h0M231.4 541.2h0M206.2 534.5h0M200.7 563.4h0M198.0 528.2h0M225.6 537.8h0M192.4 549.4h0M213.6 533.9h0M236.8 541.8h0M194.9 557.5h0M197.2 544.3h0M214.5 545.4h0M228.2 540.3h0M209.8 510.3h0M198.8 546.1h0M202.7 564.6h0M217.4 541.1h0M199.7 546.3h0M229.2 541.7h0M254.0 542.0h0M224.1 543.5h0M203.2 543.3h0M261.7 540.0h0M195.8 533.8h0M198.6 521.5h0M211.4 545.5h0M202.7 552.4h0M209.5 550.0h0M226.3 536.0h0M275.9 546.4h0M195.4 546.7h0M245.7 540.0h0M223.1 542.3h0M205.0 541.5h0M239.3 539.3h0M194.3 551.6h0M231.4 539.7h0M207.6 544.3h0M210.4 542.9h0M261.4 540.7h0M204.4 539.7h0M231.2 539.4h0M202.6 532.6h0M215.8 539.0h0M212.6 533.6h0M216.5 539.8h0M238.1 540.3h0M221.7 542.0h0M229.6 538.7h0M213.0 543.6h0M231.6 541.0h0M261.6 540.0h0M260.6 541.8h0M219.2 541.1h0M197.7 544.6h0M252.4 540.0h0M198.2 539.0h0M195.6 533.4h0M249.1 539.2h0M191.1 536.7h0M224.8 540.8h0M195.3 546.8h0M241.4 541.0h0M231.9 538.5h0M253.5 540.7h0M242.3 540.3h0M193.2 527.7h0M201.1 543.1h0M211.4 535.0h0M193.9 526.0h0M206.3 537.4h0M199.6 544.8h0M210.8 539.2h0M198.7 540.5h0M235.9 539.8h0M211.9 540.6h0M198.0 540.1h0M208.7 541.8h0M202.0 533.3h0M266.1 542.6h0M239.3 540.4h0M205.3 549.2h0M202.2 540.3h0M200.6 552.0h0M196.6 540.4h0M228.7 535.1h0M203.3 543.9h0M201.9 550.3h0M192.5 555.2h0M195.1 540.0h0M210.7 549.1h0M225.4 545.3h0M205.2 543.8h0M215.0 541.7h0M191.0 553.9h0M201.9 544.2h0M232.8 536.2h0M192.4 541.9h0M228.9 561.0h0M200.8 541.3h0M201.6 539.1h0M207.4 528.0h0M200.3 540.3h0M195.6 548.8h0M204.6 539.7h0M212.2 542.0h0M202.5 547.8h0M192.1 532.8h0M240.2 545.8h0M201.6 538.4h0M193.1 544.0h0M192.3 550.7h0M198.2 544.3h0M237.6 541.5h0M217.4 549.0h0M192.3 533.4h0M249.3 539.8h0M195.7 542.3h0M220.4 544.5h0M224.5 542.4h0M260.7 541.5h0M248.5 541.4h0M199.3 542.9h0M193.6 548.8h0M216.5 535.5h0M192.7 530.3h0M217.8 541.4h0M206.4 530.8h0M222.9 538.2h0M207.7 536.7h0M210.2 557.5h0M192.7 544.6h0M216.3 543.6h0M259.2 544.2h0M230.6 538.9h0M196.4 537.6h0M194.2 539.4h0M198.2 536.9h0M215.1 541.0h0M194.6 528.3h0M251.3 540.9h0M252.6 505.3h0M240.1 539.6h0M194.8 539.6h0M227.8 542.5h0M261.5 542.0h0M215.9 542.4h0M202.4 543.1h0M226.4 541.0h0M192.8 555.5h0M217.0 541.9h0M197.9 553.1h0M200.6 519.9h0M210.2 535.1h0M233.7 539.9h0M203.1 545.2h0M198.6 539.2h0M223.8 540.0h0M200.9 556.5h0M213.4 543.4h0M210.8 546.9h0M202.9 556.2h0M201.8 539.8h0M197.2 530.5h0M203.9 516.5h0M271.0 541.8h0M196.3 539.3h0M224.2 546.6h0M217.6 536.6h0M259.7 540.2h0M203.7 530.4h0M192.8 544.4h0M198.4 533.6h0M192.1 548.1h0M208.2 541.3h0M200.3 535.8h0M198.6 541.7h0M212.2 530.4h0M221.2 539.9h0M208.0 548.7h0M221.7 539.8h0M216.1 539.0h0M217.6 536.5h0M218.1 545.4h0M222.1 537.3h0M209.6 546.2h0M199.0 534.2h0M208.4 539.6h0M211.5 537.7h0M241.0 541.5h0M192.8 527.4h0M196.7 540.7h0M214.9 548.2h0M223.0 536.6h0M232.5 541.3h0M251.2 541.5h0M206.6 542.1h0M200.3 533.4h0M201.9 532.7h0M195.8 540.5h0M191.6 530.3h0M224.9 544.6h0M206.6 568.9h0M198.5 553.9h0M201.5 528.1h0M230.9 541.3h0M212.8 541.2h0M227.2 540.1h0M247.5 542.6h0M215.9 542.6h0M277.4 547.5h0M225.5 540.8h0M206.3 540.4h0M223.1 545.4h0M205.9 549.6h0M204.4 530.2h0M214.7 547.4h0M221.4 541.3h0M242.6 541.5h0M197.4 556.3h0M193.1 539.1h0M214.3 535.5h0M251.4 540.2h0M197.3 537.8h0M209.4 549.7h0M191.6 532.4h0M256.6 541.2h0M204.3 535.6h0M210.7 540.6h0M211.4 534.6h0M261.4 541.6h0M196.1 530.4h0M262.0 541.6h0M227.0 540.1h0M195.1 543.4h0M191.4 541.2h0M259.8 541.9h0M227.5 540.5h0M252.8 540.5h0M198.8 540.9h0M206.4 540.8h0M210.1 534.4h0M215.2 543.9h0M207.7 542.0h0M212.9 541.0h0M212.1 538.3h0M196.3 547.3h0M199.5 534.8h0M236.1 542.2h0M231.3 537.5h0M268.7 543.4h0M192.2 528.1h0M194.3 537.5h0M232.5 537.7h0M193.8 555.4h0M227.1 540.8h0M215.0 540.9h0M194.4 533.5h0M214.4 539.8h0M215.3 540.3h0M228.8 571.2h0M253.9 545.6h0M226.4 540.7h0M195.5 547.0h0M244.1 541.6h0M191.2 532.1h0M232.3 541.0h0M221.1 541.3h0M197.9 530.4h0M195.4 533.7h0M230.3 547.5h0M228.7 541.7h0M192.3 554.6h0M222.1 542.2h0M213.9 541.8h0M192.5 533.9h0M201.1 538.9h0M196.0 527.9h0M194.4 553.0h0M208.3 540.6h0M202.0 543.0h0M193.9 535.5h0M217.0 539.6h0M196.0 547.4h0M192.8 551.5h0M206.7 548.5h0M195.7 538.2h0M208.8 543.7h0M277.2 565.1h0M194.0 526.4h0M191.7 551.2h0M257.9 541.8h0M214.5 548.7h0M215.1 547.1h0M225.7 539.8h0M210.0 544.6h0M200.8 546.6h0M191.0 553.4h0M193.0 544.0h0M194.0 536.5h0M228.4 540.5h0M216.9 536.7h0M200.7 553.3h0M213.7 539.7h0M206.4 544.7h0M221.2 538.6h0M198.6 529.4h0M195.6 558.4h0M201.6 536.9h0M275.9 542.0h0M219.0 537.5h0M215.2 538.0h0M211.4 537.2h0M209.5 547.0h0M211.8 540.4h0M196.4 535.5h0M194.3 546.4h0M201.1 548.7h0M212.8 536.8h0M198.1 535.6h0M192.2 551.2h0M262.0 542.3h0M198.5 531.1h0M208.7 542.2h0M207.6 537.2h0M193.4 530.2h0M208.7 547.3h0M210.7 545.1h0M212.5 542.3h0M199.9 541.7h0M233.1 539.0h0M195.8 551.7h0M237.0 544.8h0M206.8 548.5h0M222.4 543.3h0M231.4 540.8h0M206.1 556.2h0M216.5 536.4h0M227.4 536.0h0M196.9 551.6h0M202.5 544.7h0M198.5 529.8h0M208.3 541.6h0M219.6 539.5h0M242.0 543.6h0M238.1 542.7h0M202.0 538.2h0M200.2 537.7h0M200.7 563.2h0M256.1 540.7h0M222.5 534.6h0M227.4 536.9h0M206.7 540.4h0M223.4 540.1h0M228.0 541.6h0M213.8 549.1h0M228.3 511.2h0M243.2 542.7h0M213.6 539.8h0M194.0 540.7h0M242.6 541.3h0M211.5 542.3h0M196.8 543.7h0M233.8 541.8h0M265.4 540.9h0M197.8 522.6h0M215.0 553.4h0M197.5 528.3h0M207.5 535.7h0M193.1 534.7h0M198.2 534.0h0M202.8 552.6h0M197.2 542.6h0M222.8 541.8h0M197.3 529.4h0M202.8 549.7h0M249.7 541.1h0M260.5 541.5h0M195.0 525.2h0M221.5 541.4h0M217.1 543.4h0M194.6 524.7h0M199.3 554.4h0M193.1 539.6h0M250.5 540.8h0M211.1 545.2h0M195.8 536.0h0M208.2 532.4h0M230.9 541.4h0M198.5 552.6h0M212.0 535.7h0M193.7 526.2h0M194.3 531.5h0M207.0 540.1h0M247.0 540.6h0M194.5 553.5h0M196.0 532.4h0M199.5 538.0h0M214.2 506.2h0M259.2 539.5h0M253.8 543.6h0M209.9 539.3h0M191.6 548.6h0M197.8 539.0h0M222.5 542.4h0M203.2 538.0h0M201.2 522.9h0M197.0 543.8h0M240.5 541.0h0M219.6 544.6h0M202.9 565.4h0M229.9 541.6h0M211.8 544.8h0M219.8 539.7h0M247.6 539.3h0M240.6 544.2h0M208.3 537.5h0M195.0 546.8h0M195.6 535.9h0M250.6 540.6h0M207.7 537.7h0M193.0 555.2h0M244.4 542.2h0M192.5 535.9h0M200.1 537.1h0M198.0 554.5h0M231.4 543.9h0M205.7 539.3h0M210.1 540.6h0M233.5 547.9h0M225.0 540.0h0M199.2 548.9h0M191.2 545.0h0M215.3 529.7h0M207.1 539.7h0M203.0 535.8h0M205.1 535.2h0M232.4 540.9h0M209.5 544.4h0M233.0 541.1h0M195.9 534.4h0M220.6 536.2h0M202.8 533.5h0M204.6 515.8h0M202.6 530.1h0M251.3 541.9h0M193.8 534.3h0M196.1 548.0h0M193.5 544.8h0M233.4 539.8h0M250.8 540.3h0M193.4 555.6h0M208.2 544.9h0M217.9 532.9h0M215.5 539.4h0M191.5 552.0h0M211.6 537.5h0M201.7 554.8h0M233.2 540.8h0M199.1 543.2h0M250.8 538.2h0M227.5 546.1h0M201.7 545.9h0M249.0 542.2h0M248.8 541.3h0M215.8 541.4h0M208.1 543.8h0M225.4 543.0h0M259.8 540.1h0M227.6 539.9h0M230.1 537.1h0M227.0 543.6h0M242.3 540.2h0M226.9 542.5h0M211.1 542.9h0M194.3 535.2h0M220.9 542.6h0M233.3 539.3h0M215.3 548.3h0M243.0 541.7h0M197.0 545.7h0M243.4 541.7h0M254.4 540.9h0M196.1 523.6h0M206.4 537.0h0M221.9 537.4h0M200.8 536.7h0M198.3 542.8h0M207.2 540.3h0M196.2 536.5h0M194.4 549.3h0M228.7 541.8h0M218.7 543.0h0M206.7 526.4h0M237.6 539.5h0M212.4 542.4h0M197.5 535.1h0M200.4 543.3h0M247.3 540.9h0M203.9 539.4h0M218.2 542.7h0M245.8 541.1h0M213.2 542.0h0M213.6 546.0h0M222.2 546.9h0M193.5 536.7h0M196.0 541.2h0M216.1 541.3h0M197.1 537.1h0M193.8 531.9h0M191.9 545.2h0M210.4 510.1h0M203.5 537.5h0M256.7 540.8h0M201.0 546.5h0M233.6 545.8h0M216.4 540.6h0M201.2 539.9h0M209.1 550.6h0M198.6 548.8h0M198.0 547.1h0M195.0 551.5h0M251.1 544.0h0M204.5 551.0h0M193.8 536.4h0M205.7 532.1h0M198.8 548.1h0M255.2 542.1h0M197.7 527.0h0M192.2 547.9h0M222.6 536.1h0M237.0 540.7h0M209.6 535.8h0M205.2 548.6h0M192.7 527.3h0M201.1 544.3h0M200.5 541.6h0M241.7 540.3h0M193.1 540.0h0M199.9 528.9h0M191.2 553.8h0M196.6 559.3h0M200.2 544.8h0M227.0 540.7h0M192.3 543.0h0M191.5 528.4h0M194.0 535.1h0M192.0 532.7h0M205.2 531.5h0M249.8 541.7h0M198.8 539.0h0M201.2 543.0h0M201.9 535.5h0M199.1 550.3h0M239.1 539.4h0M202.0 556.4h0M207.6 532.6h0M239.5 542.1h0M195.9 543.2h0M209.6 548.4h0M211.5 541.3h0M209.2 544.0h0M197.6 560.2h0M199.9 545.6h0M223.5 540.5h0M196.4 559.1h0M191.1 554.0h0M215.2 542.2h0M207.2 540.1h0M209.2 549.5h0M195.3 531.6h0M215.9 534.2h0M191.6 528.6h0M202.4 546.5h0M254.5 539.0h0M221.7 541.9h0M191.4 548.7h0M201.1 522.0h0M215.3 531.7h0M195.8 537.1h0M201.0 558.3h0M250.4 543.0h0M198.8 544.5h0M195.6 551.8h0M192.2 529.6h0M197.8 529.2h0M217.2 545.6h0M270.6 538.0h0M212.0 545.6h0M191.6 552.9h0M247.4 569.3h0M191.7 530.0h0M218.3 539.7h0M227.7 540.6h0M261.5 541.0h0M202.3 538.4h0M191.9 538.9h0M226.3 541.4h0M193.8 549.1h0M196.2 549.2h0M211.5 527.7h0M197.4 537.0h0M227.8 541.4h0M194.8 542.8h0M251.6 542.1h0M230.9 539.7h0M235.5 538.5h0M234.5 541.1h0M205.7 532.5h0M268.9 554.0h0M201.9 543.7h0M239.5 541.9h0M192.0 528.1h0M195.4 546.3h0M207.3 545.0h0M204.9 531.5h0M258.3 540.6h0M201.5 545.7h0M202.2 531.1h0M198.4 538.6h0M205.3 534.1h0M243.6 540.0h0M221.7 542.1h0M199.6 547.7h0M226.4 546.7h0M196.0 556.0h0M243.2 540.6h0M218.5 537.3h0M212.6 539.4h0M204.5 541.0h0M235.9 543.3h0M198.8 545.4h0M221.6 541.1h0M202.4 564.8h0M219.5 541.7h0M245.8 538.3h0M251.2 538.7h0M194.2 528.6h0M216.5 533.7h0M194.1 537.1h0" stroke="#4a4a4a" stroke-width="0.95" stroke-linecap="round" stroke-opacity="0.8"/>
<path d="M223.7 539.2h0M220.6 542.7h0M257.7 538.8h0M260.1 544.6h0M250.3 538.5h0M231.8 543.7h0M249.4 542.7h0M221.1 528.7h0M228.7 545.8h0M236.1 542.7h0M244.7 546.0h0M238.6 539.3h0M256.3 539.1h0M222.3 553.5h0M222.1 534.0h0M217.5 536.0h0M250.2 538.9h0M241.7 542.3h0M257.3 537.6h0M246.9 545.6h0M254.9 543.7h0M230.8 543.6h0M233.8 545.2h0M255.6 544.4h0M240.1 537.1h0M237.4 534.9h0M219.8 553.1h0M224.3 539.6h0M256.9 544.9h0M214.8 536.0h0M247.1 538.7h0M225.2 536.6h0M232.4 535.8h0M254.9 538.6h0M221.7 544.2h0M253.0 543.6h0M235.3 542.8h0M218.7 528.0h0M228.3 537.9h0M245.7 543.1h0M245.9 537.9h0M238.6 543.0h0M251.3 543.7h0M256.5 539.3h0M244.9 542.3h0M218.0 533.6h0M227.0 550.7h0M248.0 544.6h0M228.6 538.9h0M225.0 536.0h0M261.3 539.1h0M248.4 537.1h0M239.8 546.1h0M216.1 553.2h0M249.7 538.8h0M232.1 536.6h0M231.9 542.4h0M215.7 548.7h0M244.3 537.7h0M236.0 538.3h0M238.9 536.8h0M237.9 538.2h0M224.2 544.3h0M247.0 544.1h0M238.8 538.3h0M225.8 528.9h0M232.0 548.8h0M226.1 544.1h0M225.1 535.5h0M250.2 534.8h0M235.0 542.5h0M239.6 538.1h0M252.1 538.4h0M252.0 539.6h0M236.9 537.4h0M220.1 544.4h0M213.8 536.2h0M232.6 538.6h0M230.8 538.4h0M226.5 534.6h0M225.0 538.8h0M213.3 528.7h0M216.2 545.5h0M211.4 543.5h0M245.1 535.9h0M257.1 542.8h0M237.7 537.4h0M237.4 542.5h0M243.3 546.8h0M229.4 545.3h0M244.0 537.6h0M246.9 543.8h0M247.6 544.7h0M252.9 543.5h0M234.0 544.2h0M219.2 534.8h0M220.0 536.0h0M236.4 544.4h0M244.4 536.4h0M241.8 543.8h0M234.2 539.4h0M232.9 538.7h0M232.8 536.0h0M235.6 548.2h0M234.4 544.9h0M234.8 544.7h0M235.0 543.8h0M231.2 537.9h0M255.1 536.5h0M220.3 546.4h0M215.8 539.5h0M216.6 542.5h0M246.1 537.6h0M244.2 544.9h0M258.2 538.2h0M229.6 544.3h0M224.7 536.7h0M233.1 546.1h0M246.2 545.1h0M229.9 546.1h0M222.2 548.8h0M222.6 538.4h0M235.9 542.9h0M231.9 539.3h0M231.0 539.5h0M241.0 538.3h0M235.7 538.6h0M228.8 533.5h0M254.6 539.3h0M216.3 544.0h0M231.5 538.3h0M243.2 538.9h0M252.0 536.8h0M241.1 544.7h0M237.2 543.2h0M239.0 547.4h0M218.8 543.9h0M220.0 548.6h0M231.6 543.7h0M239.6 537.4h0M213.2 548.7h0M234.6 535.3h0M232.6 536.3h0M237.4 543.6h0M237.5 535.6h0M234.7 538.6h0M232.7 535.6h0M225.7 532.7h0M245.9 536.0h0M235.8 538.7h0M233.3 544.6h0M222.5 539.2h0M222.0 543.3h0M248.6 537.5h0M247.0 543.6h0M243.1 538.8h0M228.7 545.9h0M263.3 538.7h0M210.5 522.4h0M228.7 533.8h0M242.6 543.5h0M241.2 538.1h0M223.5 548.3h0M259.7 537.8h0M227.3 539.6h0M234.6 536.2h0M226.1 548.2h0M234.0 538.0h0M231.9 534.6h0M253.5 544.0h0M231.3 536.4h0M247.4 546.1h0M224.8 538.6h0M230.7 545.8h0M247.5 538.8h0M229.5 542.8h0M230.9 543.7h0M229.7 536.3h0M244.5 543.9h0M225.6 545.0h0M237.6 533.1h0M225.7 544.1h0M217.7 549.3h0M228.5 536.0h0M244.1 539.5h0M251.9 542.9h0M247.8 539.2h0M241.7 539.6h0M259.3 543.8h0M257.3 538.5h0M230.8 536.9h0M233.9 542.5h0M223.6 538.5h0M254.7 542.7h0M231.9 539.3h0M230.9 548.9h0M251.3 539.2h0M261.0 539.1h0M254.6 544.0h0M244.0 536.4h0M227.3 547.7h0M232.3 545.2h0M225.7 543.1h0M230.9 544.3h0M231.8 548.8h0M232.3 536.3h0M240.3 543.6h0M232.0 534.9h0M260.9 542.5h0M221.0 546.9h0M262.6 534.3h0M249.8 537.2h0M225.2 538.8h0M239.9 539.0h0M254.7 538.6h0M248.1 543.8h0M225.7 532.5h0M259.6 537.3h0M227.9 532.0h0M245.2 534.9h0M219.5 536.5h0M254.8 542.6h0M250.4 536.7h0M250.8 542.9h0M237.6 536.5h0M232.7 535.5h0M238.5 543.2h0M251.9 539.5h0M234.9 536.3h0M252.6 533.6h0M215.0 548.4h0M229.4 539.7h0M257.2 544.0h0M259.1 543.2h0M259.1 539.4h0M224.5 544.2h0M221.9 537.2h0M241.4 542.6h0M210.9 544.3h0M230.1 544.2h0M218.8 549.3h0M241.2 539.0h0M252.7 543.5h0M230.5 548.2h0M257.6 543.6h0M254.9 539.0h0M236.4 538.2h0M228.7 539.2h0M247.2 536.7h0M245.1 542.5h0M226.6 538.6h0M236.7 537.5h0M260.6 543.3h0M240.1 546.5h0M224.1 546.7h0M231.9 538.9h0M221.9 550.2h0M227.9 536.0h0M258.4 542.5h0M240.0 544.3h0M255.2 538.1h0M241.0 537.4h0M218.3 545.1h0M234.5 538.2h0M243.0 536.3h0M223.3 531.7h0M212.4 545.9h0M239.3 543.3h0M225.3 545.1h0M229.5 546.1h0M250.6 537.0h0M253.1 539.3h0M214.4 536.2h0M229.8 543.2h0M226.6 536.0h0M254.9 546.7h0M247.1 546.3h0M236.7 543.0h0M227.8 543.8h0M247.8 537.6h0M245.2 537.3h0M228.6 547.1h0M252.0 538.8h0M243.6 539.3h0M221.7 536.8h0M228.3 538.1h0M229.7 543.9h0M258.3 537.6h0M227.6 549.8h0M218.7 539.0h0M234.2 546.6h0M227.4 543.5h0M234.5 538.8h0M242.7 536.3h0M225.9 543.0h0M233.6 538.1h0M241.1 546.2h0M235.8 534.0h0M228.3 537.2h0M248.9 536.1h0M241.0 542.6h0M220.9 538.4h0M219.7 547.6h0M220.7 537.0h0M259.6 542.4h0M215.5 535.7h0M216.2 535.7h0M235.5 538.6h0M236.9 548.1h0M216.9 548.6h0M229.6 544.4h0M256.6 538.4h0M214.1 552.3h0M230.1 542.5h0M238.5 549.6h0M234.8 531.2h0M235.7 537.9h0M248.7 533.5h0M242.9 538.7h0M234.3 537.9h0M228.3 543.9h0M236.4 546.4h0M229.9 537.2h0M221.6 537.4h0M227.8 543.4h0M233.8 543.2h0M236.9 533.9h0M231.0 547.6h0M252.0 542.9h0M228.7 542.7h0M251.8 539.5h0M223.4 534.5h0M253.8 534.6h0M256.0 538.4h0M236.4 543.7h0M253.3 537.4h0M240.0 539.3h0M235.5 534.3h0M249.9 538.5h0M240.1 546.8h0M234.9 546.8h0M253.6 537.5h0M214.7 550.8h0M245.6 544.7h0M224.2 537.1h0M233.8 542.9h0M248.0 543.3h0M243.7 545.5h0M221.7 547.0h0M231.1 536.7h0M246.9 537.9h0M232.7 537.2h0M245.5 538.9h0M217.5 543.8h0M237.2 544.0h0M243.9 544.7h0M240.2 543.2h0M244.1 543.8h0M223.2 546.0h0M229.5 546.9h0M235.3 542.6h0M245.8 542.4h0M234.6 538.1h0M230.6 542.5h0M234.0 538.8h0M247.6 546.8h0M233.8 545.9h0M213.3 532.3h0M258.5 543.9h0M253.3 542.9h0M252.8 536.7h0M223.8 545.4h0M212.0 543.6h0M254.2 537.9h0M256.0 539.7h0M241.2 544.3h0M239.2 535.0h0M240.7 535.1h0M224.7 537.3h0M218.7 537.0h0M236.8 538.7h0M227.3 544.9h0M260.9 539.2h0M251.5 539.5h0M231.3 534.8h0M211.9 537.5h0M251.2 544.5h0M216.0 536.0h0M251.0 543.3h0M229.4 534.0h0M241.9 545.8h0M251.9 539.2h0M256.1 538.8h0M213.3 549.8h0M259.7 538.0h0M233.0 543.5h0M254.6 544.1h0M235.4 537.9h0M263.2 544.8h0M244.0 538.8h0M231.7 544.9h0M218.5 547.1h0M258.1 539.3h0M214.8 546.2h0M251.5 545.3h0M252.9 536.5h0M224.7 538.3h0M231.4 546.4h0M236.7 539.1h0M227.0 546.9h0M220.8 549.2h0M225.0 548.0h0M238.6 537.0h0M257.8 538.1h0M241.0 539.6h0M219.1 537.2h0M218.7 536.3h0M253.5 539.3h0M251.1 545.2h0M229.6 545.3h0M224.8 545.8h0M247.9 539.6h0M224.0 547.2h0M225.2 547.7h0M250.6 536.8h0M232.4 533.2h0M233.0 542.6h0M236.9 538.5h0M254.0 542.5h0M254.8 539.5h0M242.7 542.9h0M246.0 538.9h0M226.7 538.9h0M247.5 542.8h0M237.1 543.9h0M259.2 537.5h0M255.7 547.1h0M239.3 549.2h0M219.9 546.4h0M258.8 543.9h0M247.1 543.9h0M231.2 543.9h0M223.9 535.6h0M250.2 535.5h0M244.9 533.6h0M257.3 542.6h0M234.0 536.2h0M252.1 543.4h0M251.8 538.6h0M247.8 538.4h0M226.8 534.9h0M235.0 545.4h0M224.3 536.8h0M243.3 538.1h0M218.1 543.4h0M258.0 538.4h0M250.0 544.0h0M228.0 538.1h0M255.6 538.5h0M221.6 535.5h0M249.2 538.1h0M222.4 534.5h0M252.6 539.6h0M221.9 543.1h0M227.4 545.7h0M229.9 537.8h0M227.9 538.2h0M222.9 536.0h0M234.7 544.4h0M214.9 530.6h0M244.4 534.8h0M227.1 537.2h0M213.4 536.0h0M235.6 543.0h0M260.9 544.5h0M251.2 533.5h0M247.0 542.4h0M234.6 537.5h0M262.1 543.0h0M216.5 534.0h0M234.1 544.7h0M259.1 539.2h0M233.0 542.5h0M257.7 543.0h0M244.1 542.6h0M217.1 534.7h0M220.5 537.0h0M241.0 545.2h0M258.4 543.4h0M221.1 530.5h0M247.6 538.9h0M240.3 544.9h0M218.0 534.2h0M250.0 543.4h0M256.3 542.7h0M244.5 544.7h0M230.6 537.3h0M231.7 546.2h0M225.6 546.8h0M231.1 539.5h0M237.9 538.4h0M248.3 539.5h0M248.3 542.6h0M240.1 537.7h0M220.1 539.4h0M251.1 542.5h0M252.3 544.5h0M212.1 531.2h0M233.7 547.7h0M242.5 537.4h0M244.7 539.3h0M231.4 546.3h0M233.8 538.7h0M254.6 538.9h0M237.2 544.4h0M239.3 544.9h0M218.5 548.2h0M224.8 544.2h0M235.0 539.4h0M225.2 545.6h0M217.7 543.8h0M228.6 535.8h0M257.6 539.3h0M230.5 544.1h0M245.5 542.4h0M249.3 543.8h0M238.7 545.8h0M215.6 543.2h0M253.5 538.7h0M230.6 547.1h0M231.8 539.7h0M250.4 538.0h0M232.3 533.9h0M246.7 537.9h0M245.7 536.3h0M240.4 544.7h0M214.7 545.4h0M237.9 536.6h0M249.3 542.9h0M221.6 544.1h0M236.0 534.5h0M242.9 535.8h0M243.9 544.2h0M258.6 543.0h0M234.6 543.1h0M230.6 534.3h0M233.6 537.3h0M247.9 542.7h0M256.4 538.7h0M230.8 546.0h0M215.4 535.8h0M234.5 545.3h0M250.2 537.9h0M240.2 547.2h0M213.6 528.3h0M234.6 545.1h0M227.2 539.0h0M251.0 537.1h0M256.0 538.1h0M214.4 551.5h0M245.8 534.7h0M259.7 538.1h0M214.2 545.0h0M247.8 539.2h0M250.7 545.7h0M258.3 543.9h0M248.9 542.8h0M228.3 544.6h0M239.3 543.3h0M259.1 538.7h0M219.8 545.1h0M255.3 542.6h0M229.4 545.8h0M224.7 544.1h0M228.4 535.3h0M245.3 545.7h0M217.1 535.9h0M238.8 542.5h0M259.2 535.8h0M227.8 538.3h0M238.4 547.3h0M226.8 532.1h0M223.8 543.3h0M232.4 543.6h0M234.6 538.4h0M233.7 542.5h0M249.1 545.5h0M243.3 536.6h0M236.7 537.6h0M231.9 549.1h0M212.2 533.8h0M242.6 535.7h0M232.9 538.6h0M254.9 538.3h0M220.3 543.7h0M232.5 537.1h0M233.0 546.0h0M241.4 542.4h0M233.1 537.0h0M224.3 544.7h0M258.7 538.8h0M253.4 536.7h0M258.5 544.8h0M237.0 543.9h0M214.4 542.8h0M236.7 533.7h0M224.8 534.4h0M242.1 542.9h0M248.0 538.6h0M235.4 544.2h0M247.3 538.5h0M215.7 554.0h0M261.9 544.7h0M224.3 538.0h0M223.2 536.5h0M240.6 538.2h0M228.8 535.8h0M232.8 537.1h0M259.7 545.2h0M230.3 539.4h0M246.9 544.1h0M232.9 537.2h0M248.7 544.2h0M240.2 543.4h0M256.4 542.8h0M243.7 543.5h0M235.4 546.8h0M227.3 533.5h0M232.1 544.5h0M247.7 543.1h0M257.4 537.3h0M219.3 537.6h0M217.0 545.0h0M255.0 544.0h0M233.1 544.6h0M220.6 542.5h0M247.3 537.9h0M232.0 544.6h0M256.7 543.3h0M229.6 546.9h0M235.3 543.1h0M241.2 543.4h0M238.0 532.1h0M244.3 542.3h0M233.0 544.1h0M244.6 539.5h0M232.4 542.5h0M234.8 538.4h0M224.4 542.4h0M256.5 543.0h0M248.7 544.7h0M224.5 535.5h0M233.3 536.3h0M238.9 538.7h0M225.2 550.3h0M224.5 544.7h0M242.1 539.4h0M235.7 542.4h0M253.9 544.7h0M220.0 535.6h0M228.4 534.0h0M226.0 543.0h0M229.8 544.2h0M231.7 536.5h0M233.7 536.9h0M224.9 536.4h0M250.0 536.9h0M244.0 545.8h0M243.1 538.9h0M234.9 542.8h0M256.0 543.1h0M222.1 535.7h0M251.9 545.9h0M262.2 542.6h0M219.7 552.2h0M249.4 544.4h0M219.9 550.4h0M250.5 543.6h0M263.2 542.3h0M225.4 543.6h0M242.2 539.0h0M225.4 534.2h0M220.4 550.4h0M242.7 543.4h0M226.4 533.8h0M234.0 536.4h0M230.9 547.5h0M251.3 544.0h0M229.8 536.0h0M262.1 542.7h0M259.0 542.9h0M242.9 543.9h0M233.5 537.6h0M257.5 536.2h0M228.1 533.3h0M253.4 543.5h0M247.3 543.2h0M229.2 536.9h0M236.6 535.7h0M250.8 545.7h0M217.7 542.2h0M208.5 527.7h0M212.2 530.2h0M211.5 547.1h0M221.8 528.7h0M225.9 537.7h0M207.7 536.7h0M208.3 532.6h0M219.4 544.6h0M213.6 538.8h0M223.5 550.7h0M203.9 551.1h0M207.1 538.3h0M220.1 546.6h0M205.1 531.3h0M220.2 557.0h0M223.1 552.9h0M203.3 535.5h0M212.6 552.9h0M214.4 515.7h0M213.0 543.2h0M222.3 538.5h0M218.9 548.3h0M218.1 544.5h0M212.3 530.6h0M214.8 534.7h0M212.1 551.6h0M222.6 553.2h0M212.6 539.5h0M219.9 546.3h0M226.4 548.3h0M217.8 546.9h0M221.2 558.3h0M214.4 548.8h0M206.0 543.4h0M215.2 526.9h0M220.2 556.5h0M209.3 536.6h0M223.5 548.1h0M216.6 545.1h0M203.4 549.5h0M211.1 532.2h0M211.9 530.8h0M203.9 540.5h0M205.1 533.5h0M205.4 538.9h0M213.8 527.0h0M209.9 556.0h0M209.1 538.3h0M223.6 549.3h0M216.1 527.0h0M214.5 549.6h0M206.7 545.5h0M227.4 527.6h0M212.5 525.3h0M227.5 561.2h0M221.7 551.9h0M213.6 565.3h0M209.4 544.4h0M219.3 555.1h0M213.8 528.2h0M205.9 543.8h0M210.6 548.3h0M215.9 545.6h0M223.0 535.1h0M212.4 524.3h0M213.9 543.9h0M221.7 542.4h0M219.8 533.1h0M218.1 553.7h0M209.8 532.9h0M213.2 551.3h0M206.2 542.2h0M209.7 518.8h0M211.0 525.1h0M208.5 549.8h0M204.6 542.0h0M210.2 536.6h0M217.7 522.8h0M218.9 536.3h0M226.2 549.7h0M203.3 536.0h0M214.1 548.8h0M214.5 540.7h0M220.4 534.1h0M219.8 540.9h0M224.3 543.6h0M227.2 532.3h0M211.6 531.6h0M208.2 550.6h0" stroke="#d42027" stroke-width="0.95" stroke-linecap="round" stroke-opacity="0.85"/>
<path d="M196.8 547.6h0M206.5 553.1h0M193.8 553.6h0M231.3 538.1h0M215.3 540.8h0M195.3 550.0h0M211.0 543.8h0M194.3 534.9h0M256.4 539.8h0M208.0 545.6h0M199.1 540.9h0M217.1 538.7h0M207.6 543.5h0M228.5 535.8h0M207.4 540.4h0M201.5 525.3h0M198.3 532.1h0M219.1 534.8h0M209.3 510.6h0M204.2 545.9h0M197.7 528.0h0M239.6 539.7h0M192.0 533.9h0M236.2 539.8h0M212.6 544.6h0M210.0 543.6h0M194.9 547.6h0M268.5 539.4h0M236.2 516.4h0M214.7 538.1h0M199.7 547.6h0M210.8 548.8h0M202.1 520.1h0M210.1 541.6h0M196.4 545.7h0M222.9 572.8h0M194.4 528.9h0M227.2 541.8h0M204.4 536.8h0M193.3 556.0h0M214.2 540.9h0M191.8 538.6h0M211.0 542.8h0M253.4 539.9h0M200.1 533.0h0M199.2 539.4h0M201.5 535.5h0M239.5 540.5h0M194.4 545.1h0M226.4 544.2h0M210.7 541.8h0M196.9 549.2h0M206.8 531.9h0M213.3 541.6h0M196.6 538.3h0M212.0 527.1h0M223.8 540.4h0M201.9 534.3h0M246.1 542.1h0M224.3 542.9h0M209.8 547.2h0M222.9 534.1h0M230.0 539.2h0M209.5 544.8h0M191.1 539.0h0M247.0 539.8h0M201.1 536.1h0M194.5 529.1h0M215.3 542.4h0M222.0 539.6h0M235.3 542.2h0M206.3 538.2h0M212.0 548.3h0M194.9 539.4h0M214.1 540.8h0M261.2 541.1h0M201.9 534.3h0M223.6 540.8h0M192.5 545.7h0M224.1 547.2h0M230.3 542.4h0M195.7 536.0h0M212.7 537.1h0M203.7 531.5h0M213.9 525.5h0M204.8 567.4h0M197.4 533.1h0M196.6 528.4h0M230.4 534.8h0M216.5 538.5h0M191.2 553.8h0M215.0 538.6h0M198.3 547.6h0M194.0 556.3h0M191.8 537.2h0M193.1 532.3h0M219.9 535.0h0M250.8 539.5h0M191.9 540.3h0M210.8 554.2h0M215.1 543.7h0M235.9 540.3h0M224.9 542.0h0M210.8 534.3h0M205.7 545.2h0M202.5 546.1h0M205.8 535.5h0M206.1 537.8h0M214.0 546.2h0M199.9 534.5h0M205.0 539.2h0M216.5 541.7h0M205.1 545.8h0M248.7 539.5h0M241.6 539.4h0M194.3 553.1h0M194.6 545.2h0M216.6 538.4h0M219.1 550.1h0M198.1 543.5h0M253.0 540.6h0M196.0 543.1h0M215.4 545.3h0M193.4 526.7h0M204.5 551.7h0M194.4 550.0h0M243.1 545.0h0M215.4 537.8h0M194.3 534.7h0M205.5 532.2h0M224.4 535.5h0M210.8 547.9h0M252.9 540.9h0M215.4 540.1h0M208.0 531.1h0M197.3 542.4h0M225.6 548.4h0M235.1 540.3h0M197.0 543.4h0M230.4 539.9h0M196.9 523.0h0M200.1 532.5h0M208.0 512.0h0M212.4 536.7h0M198.3 542.7h0M195.5 539.9h0M198.9 539.4h0M211.9 540.2h0M261.2 541.0h0M200.6 556.1h0M208.5 525.5h0M194.4 532.1h0M199.7 547.8h0M200.4 549.3h0M213.1 537.5h0M222.2 548.3h0M225.6 542.6h0M193.7 556.8h0M243.9 542.1h0M191.6 546.2h0M200.6 553.4h0M211.9 541.3h0M214.5 538.7h0M205.0 543.5h0M213.1 535.4h0M217.2 538.8h0M192.9 546.0h0M200.1 543.4h0M222.2 543.1h0M194.4 542.9h0M212.9 538.8h0M193.0 549.1h0M199.0 525.9h0M198.9 521.4h0M207.7 537.7h0M238.3 543.1h0M203.8 550.1h0M212.6 541.6h0M204.8 548.6h0M249.5 541.1h0M240.1 541.3h0M208.2 542.9h0M207.3 534.5h0M192.2 540.0h0M204.8 542.9h0M228.7 538.9h0M204.5 543.4h0M202.3 539.5h0M199.6 544.6h0M194.9 534.5h0M195.2 555.0h0M202.6 564.8h0M196.0 534.5h0M199.4 541.5h0M241.8 533.6h0M222.9 536.3h0M191.4 531.6h0M216.3 540.0h0M247.4 541.0h0M211.7 548.2h0M201.8 534.2h0M208.1 532.8h0M237.1 541.1h0M236.6 539.4h0M210.4 537.0h0M204.0 538.2h0M192.3 555.2h0M205.6 544.6h0M192.4 535.3h0M201.1 548.7h0M223.7 539.7h0M195.8 544.0h0M224.6 536.7h0M201.8 539.4h0M198.7 549.2h0M214.3 539.0h0M218.9 544.7h0M215.4 543.3h0M200.5 532.8h0M208.2 534.7h0M199.2 544.3h0M201.7 548.5h0M239.4 540.8h0M209.1 553.3h0M207.3 546.9h0M192.5 542.2h0M216.4 532.8h0M232.4 539.7h0M192.3 541.2h0M192.9 548.4h0M201.1 535.2h0M192.1 554.8h0M212.3 537.0h0M226.7 541.0h0M232.8 541.5h0M213.8 538.5h0M216.3 547.6h0M250.7 540.5h0M214.6 505.9h0M201.7 524.8h0M235.2 541.1h0M206.7 542.6h0M196.0 536.9h0M191.1 545.1h0M255.6 540.6h0M224.8 534.1h0M192.2 527.7h0M193.8 537.4h0M218.4 535.4h0M196.7 550.4h0M191.2 553.6h0M213.1 542.2h0M198.8 560.4h0M194.6 540.2h0M247.2 540.7h0M208.3 541.1h0M251.9 541.7h0M192.4 555.0h0M205.0 529.0h0M205.9 541.1h0M204.8 539.2h0M206.4 539.9h0M246.9 541.7h0M201.1 538.5h0M221.0 536.7h0M202.6 537.1h0M225.9 542.1h0M205.5 532.9h0M245.6 539.6h0M252.6 535.7h0M210.1 540.5h0M194.9 528.9h0M205.4 541.3h0M238.8 541.4h0M192.7 538.7h0M201.6 564.3h0M224.4 535.9h0M232.2 537.9h0M207.1 542.6h0M246.2 541.0h0M210.4 543.1h0M227.0 537.3h0M206.6 549.8h0M239.7 537.5h0M197.0 527.5h0M241.8 540.9h0M223.7 542.7h0M207.5 569.9h0M203.1 561.3h0M202.3 533.3h0M191.1 549.1h0M195.8 538.9h0M219.0 544.3h0M204.5 541.8h0M208.1 540.5h0M222.3 547.1h0M255.4 540.5h0M207.1 533.7h0M204.6 553.9h0M237.2 542.4h0M197.5 556.8h0M216.7 544.1h0M240.8 541.7h0M198.8 534.1h0M193.3 539.0h0M255.5 542.7h0M203.6 540.4h0M200.0 546.6h0M210.3 539.7h0M196.0 557.7h0M238.0 537.4h0M194.0 552.8h0M211.2 538.3h0M192.0 540.3h0M199.3 545.3h0M192.1 540.8h0M215.2 543.7h0M218.5 543.7h0M195.7 539.6h0M200.7 534.5h0M256.3 544.4h0M206.5 541.2h0M208.5 542.8h0M206.4 543.5h0M205.4 568.1h0M196.7 548.9h0M206.4 545.1h0M203.4 547.9h0M245.2 541.3h0M197.3 536.1h0M216.5 531.3h0M194.0 540.3h0M197.7 550.5h0M234.3 541.4h0M205.3 547.3h0M230.3 542.7h0M214.5 540.8h0M258.4 541.5h0M204.3 537.5h0M195.6 546.6h0M205.6 546.6h0M251.9 541.7h0M214.7 546.5h0M193.7 534.8h0M194.0 536.5h0M198.7 540.2h0M226.7 541.4h0M238.1 541.7h0M197.1 530.1h0M199.2 561.5h0M216.8 537.8h0M217.9 536.6h0M196.0 538.8h0M218.5 535.1h0M193.2 547.1h0M227.0 539.3h0M203.0 546.1h0M204.6 538.0h0M214.9 532.2h0M201.1 522.7h0M256.2 540.8h0M212.6 534.0h0M194.4 546.3h0M203.3 540.6h0M233.8 538.4h0M228.2 540.7h0M206.4 552.7h0M192.7 550.0h0M267.2 508.5h0M215.2 539.6h0M199.9 548.1h0M198.1 534.5h0M213.7 543.2h0M209.0 534.5h0M201.6 536.8h0M250.1 541.9h0M191.2 551.4h0M224.8 541.0h0M198.9 545.6h0M199.5 537.2h0M220.6 544.3h0M191.9 542.3h0M192.9 552.8h0M210.3 542.8h0M210.2 538.8h0M277.7 504.8h0M247.2 543.5h0M200.4 531.9h0M210.4 536.4h0M192.8 533.4h0M192.6 534.5h0M191.8 534.7h0M205.3 544.7h0M196.0 540.5h0M259.7 541.6h0M225.0 541.9h0M200.7 545.6h0M192.5 532.7h0M216.0 544.9h0M218.6 534.4h0M202.8 556.7h0M192.4 543.4h0M200.3 552.4h0M220.4 530.4h0M243.2 540.9h0M213.9 543.3h0M222.4 543.1h0M193.5 537.5h0M221.3 541.0h0M224.6 535.7h0M194.0 542.8h0M220.9 541.0h0M213.8 539.7h0M240.4 538.8h0M192.6 532.8h0M223.1 539.6h0M210.5 543.9h0M197.8 540.2h0M236.5 541.4h0M238.6 541.9h0M229.0 542.5h0M221.3 538.9h0M198.4 525.7h0M207.0 540.4h0M223.8 540.6h0M250.8 541.4h0M211.6 540.0h0M213.7 538.4h0M233.7 540.3h0M217.6 543.2h0M255.8 512.4h0M218.1 542.9h0M194.9 555.1h0M242.3 536.5h0M220.9 533.6h0M192.8 526.9h0M209.8 545.1h0M195.5 534.7h0M196.9 542.7h0M204.5 547.3h0M197.9 537.4h0M251.0 542.0h0M193.2 548.9h0M225.0 539.3h0M193.0 534.2h0M204.1 554.6h0M206.9 540.0h0M242.8 541.3h0M191.9 539.5h0M248.4 580.9h0M210.9 544.1h0M223.1 539.2h0M193.9 548.9h0M196.7 544.6h0M194.6 545.4h0M200.8 544.1h0M225.7 540.0h0M244.1 540.0h0M200.0 543.8h0M198.1 526.8h0M217.9 534.6h0M207.1 544.6h0M200.7 529.8h0M243.1 541.2h0M195.1 547.5h0M240.8 545.6h0M194.4 552.7h0M227.5 537.9h0M191.2 543.0h0M257.8 542.5h0M214.9 540.2h0M214.4 540.1h0M204.2 540.4h0M204.2 543.8h0M224.3 543.4h0M192.9 555.6h0M248.9 540.8h0M206.5 550.3h0M198.3 548.6h0M219.7 538.4h0M227.1 540.7h0M220.1 543.9h0M207.8 533.1h0M199.6 541.2h0M197.9 531.6h0M214.6 547.7h0M198.3 536.0h0M198.5 540.5h0M231.4 540.5h0M215.1 534.3h0M209.1 545.9h0M228.7 540.5h0M221.6 540.2h0M210.2 549.2h0M205.0 540.0h0M191.0 553.6h0M199.7 550.6h0M212.5 549.8h0M194.9 554.3h0M212.4 539.9h0M197.0 541.0h0M229.0 540.9h0M206.3 544.2h0M195.4 539.8h0M210.4 523.9h0M192.9 535.0h0M194.0 526.2h0M197.9 531.6h0M193.9 543.6h0M215.9 531.3h0M192.6 531.9h0M208.7 543.1h0M211.1 549.6h0M195.8 550.8h0M219.3 545.8h0M211.9 544.2h0M249.8 540.4h0M199.0 539.7h0M257.8 541.3h0M254.6 538.0h0M199.6 543.9h0M201.2 533.3h0M215.0 542.1h0M199.3 531.6h0M199.1 533.9h0M212.7 540.7h0M209.6 542.1h0M196.7 538.0h0M207.1 550.3h0M194.4 528.6h0M275.1 503.5h0M199.4 548.3h0M193.7 539.2h0M241.7 504.9h0M194.9 548.7h0M231.3 534.9h0M211.2 537.4h0M220.9 541.5h0M240.2 534.8h0M210.3 550.5h0M254.8 541.4h0M201.8 545.1h0M207.0 547.5h0M210.8 509.3h0M249.4 537.9h0M193.9 526.5h0M208.5 543.3h0M202.2 546.9h0M252.2 541.1h0M195.0 548.3h0M265.1 537.7h0M204.0 532.6h0M198.6 538.1h0M201.8 537.1h0M200.8 535.1h0M243.9 540.3h0M213.1 507.4h0M217.9 541.9h0M262.0 541.2h0M232.6 541.1h0M197.2 542.0h0M233.3 539.8h0M202.3 548.1h0M224.2 538.5h0M211.4 542.4h0M194.1 526.1h0M223.5 537.6h0M250.1 543.7h0M205.1 550.0h0M225.8 574.8h0M191.8 539.4h0M196.3 543.3h0M195.3 545.5h0M247.7 542.7h0M214.2 547.5h0M207.0 545.0h0M240.4 541.1h0M191.6 545.3h0M240.1 540.5h0M210.3 548.9h0M241.5 529.1h0M215.6 541.9h0M193.0 555.5h0M215.4 536.0h0M203.1 546.2h0M196.0 531.1h0M204.2 540.2h0M208.0 550.1h0M212.5 542.9h0M217.1 542.4h0M191.4 545.8h0M193.0 534.4h0M192.6 530.2h0M234.7 539.5h0M229.2 545.6h0M236.5 543.0h0M242.5 541.8h0M207.7 544.3h0M208.5 547.3h0M193.9 541.0h0M223.1 545.1h0M210.1 541.8h0M223.6 539.8h0M213.7 576.1h0M206.9 541.6h0M206.5 534.8h0M217.9 546.0h0M259.2 541.1h0M192.5 546.2h0M242.1 540.7h0M196.3 541.5h0M215.9 534.9h0M194.9 525.7h0M195.7 541.4h0M220.8 533.0h0M212.7 544.9h0M225.8 540.1h0M199.2 547.9h0M193.1 540.7h0M197.6 540.2h0M204.9 560.5h0M192.9 532.7h0M191.4 528.9h0M221.2 547.0h0M192.5 527.9h0M204.5 551.1h0M208.1 534.7h0M225.8 540.6h0M202.0 564.3h0M229.1 539.8h0M217.1 538.5h0M193.4 552.7h0M204.4 541.6h0M221.9 541.1h0M213.0 542.3h0M236.5 540.9h0M194.8 529.8h0M192.2 551.2h0M196.4 544.8h0M206.1 568.1h0M205.8 531.9h0M196.7 536.7h0M256.5 541.5h0M198.3 521.5h0M207.1 542.8h0M207.6 520.0h0M192.9 527.2h0M214.6 542.9h0M226.4 540.8h0M196.4 544.7h0M208.7 544.1h0M235.2 541.1h0M239.1 541.9h0M253.4 540.7h0M253.4 538.6h0M204.1 540.0h0M193.3 526.4h0M229.7 544.1h0M196.3 546.0h0M257.9 540.2h0M196.0 537.2h0M255.4 542.8h0M202.9 535.6h0M197.9 531.1h0M216.1 547.7h0M244.7 540.8h0M212.0 541.6h0M212.8 544.2h0M223.9 534.6h0M197.0 530.4h0M260.3 540.3h0M199.7 535.4h0M206.9 536.8h0M250.4 542.4h0M201.1 528.8h0M228.3 542.2h0M200.9 530.7h0M207.0 536.6h0M222.5 541.0h0M224.0 538.2h0M246.5 539.7h0M242.3 542.0h0M229.3 545.0h0M214.1 541.0h0M237.4 543.3h0M242.0 541.9h0M225.5 543.8h0M248.1 543.3h0M195.2 528.8h0M230.0 547.1h0M196.3 531.3h0M210.4 532.6h0M191.8 548.8h0M212.8 545.8h0M191.5 537.0h0M192.6 555.3h0M192.7 527.7h0M213.8 537.7h0M198.2 534.0h0M220.4 542.0h0M210.1 540.6h0M201.6 523.6h0M202.6 542.2h0M202.9 544.5h0M213.1 540.9h0M206.7 569.0h0M217.1 543.5h0M220.9 537.2h0M251.0 540.2h0M211.5 545.6h0M202.9 528.2h0M254.8 541.0h0M241.4 539.8h0M194.2 540.5h0M254.5 540.5h0M196.9 547.0h0M195.9 537.6h0M198.4 542.1h0M216.7 542.3h0M236.2 538.4h0M202.0 536.2h0M241.0 540.6h0M208.3 555.7h0M198.1 543.5h0M220.7 543.9h0M191.1 547.4h0M208.7 550.1h0M232.2 541.2h0M249.8 541.5h0M191.2 549.4h0M233.2 538.5h0M210.0 540.1h0M223.5 540.0h0M267.6 580.7h0M207.2 544.5h0M205.0 542.5h0M210.6 537.7h0M202.9 533.7h0M217.8 537.2h0M245.9 540.9h0M230.9 540.1h0M208.1 540.3h0M204.5 551.3h0M192.0 554.5h0M221.4 542.5h0M201.0 545.1h0M205.5 538.9h0M213.4 536.1h0M200.1 532.7h0M207.6 533.4h0M197.1 522.7h0M193.7 526.3h0M239.3 541.5h0M203.7 527.3h0M200.2 562.3h0M197.1 534.5h0M199.1 546.9h0M214.0 542.7h0M191.7 528.7h0M201.7 536.3h0M237.3 547.2h0M252.7 542.0h0M205.5 541.7h0M199.4 551.8h0M197.6 543.1h0M198.4 536.2h0M224.7 539.8h0M193.6 555.4h0M208.8 542.2h0M202.6 539.1h0M194.7 553.4h0M261.6 541.0h0M235.1 545.5h0M196.4 546.8h0M241.4 540.3h0M206.6 537.3h0M210.0 547.7h0M205.5 549.7h0M207.3 541.2h0M195.5 553.0h0M218.8 538.2h0M200.1 544.6h0M193.4 542.4h0M195.6 548.8h0M259.3 541.9h0M195.2 546.3h0M201.4 526.3h0M262.2 541.2h0M205.5 543.6h0M237.8 541.8h0M204.9 531.6h0M198.8 554.3h0M234.5 537.0h0M250.0 541.6h0M192.0 527.7h0M214.0 545.4h0M227.9 542.2h0M211.0 540.0h0M207.3 543.2h0M194.0 536.3h0M260.6 539.6h0M217.6 534.1h0M201.3 548.3h0M202.8 547.2h0M196.2 541.3h0M194.8 545.7h0M216.2 541.6h0M265.4 540.2h0M206.8 544.2h0M194.4 556.5h0M206.7 544.4h0M194.0 541.9h0M223.6 542.7h0M217.2 540.9h0M255.7 537.8h0M191.5 533.1h0M226.8 543.0h0M231.6 543.1h0M206.7 538.5h0M203.8 549.6h0M202.7 542.5h0M250.2 540.1h0M200.6 544.5h0M203.7 537.5h0M210.4 547.7h0M202.4 540.1h0M235.6 545.5h0M219.9 542.5h0M193.6 540.5h0M224.7 545.7h0M222.1 540.0h0M197.5 536.2h0M213.6 530.3h0M204.6 548.1h0M198.0 547.0h0M252.6 540.0h0M193.3 536.8h0M193.5 553.2h0M205.5 541.5h0M202.7 535.3h0M252.5 542.1h0M198.4 540.9h0M209.0 535.7h0M227.6 539.9h0M195.2 550.1h0M232.9 540.8h0M228.8 542.8h0M191.3 547.7h0M205.3 541.4h0M208.9 546.2h0M195.4 532.5h0M219.0 547.7h0M227.5 543.5h0M209.1 542.1h0M195.5 536.2h0M232.4 543.0h0M213.7 541.2h0M261.3 539.3h0M194.1 533.3h0M222.3 540.9h0M196.7 541.6h0M199.6 544.7h0M195.7 558.4h0M200.9 540.2h0M196.8 523.1h0M199.5 529.7h0M211.6 541.9h0M203.1 535.8h0M193.0 537.8h0M228.1 537.5h0M270.4 539.8h0M204.8 537.5h0M220.1 552.7h0M236.8 510.1h0M200.5 538.3h0M198.6 537.6h0M218.7 539.2h0M214.2 541.7h0M199.2 557.1h0M221.5 541.8h0M225.7 539.8h0M225.3 537.1h0M231.9 539.3h0M220.2 539.1h0M191.3 549.2h0M197.4 536.7h0M251.5 542.9h0M222.4 539.7h0M210.7 540.8h0M202.3 547.0h0M201.1 535.8h0M211.8 549.6h0M201.6 550.9h0M209.1 542.2h0M208.8 537.9h0M193.3 528.3h0M226.5 539.6h0M230.9 542.0h0M202.8 536.2h0M205.2 543.6h0M197.5 560.1h0M258.2 540.4h0M211.5 542.4h0M198.4 521.7h0M209.9 548.5h0M204.4 528.8h0M216.2 540.6h0M197.6 532.4h0M210.9 544.6h0M256.4 541.4h0M223.3 542.9h0M245.8 540.9h0M199.6 538.8h0M259.5 540.6h0M213.7 541.8h0M256.8 541.2h0M211.2 550.0h0M191.0 554.1h0M211.5 509.1h0M192.2 544.2h0M202.0 537.0h0M266.9 540.8h0M195.3 541.9h0M196.1 542.2h0M194.0 557.0h0M194.4 542.7h0M235.5 539.9h0M194.5 542.1h0M204.0 543.3h0M193.9 526.2h0M196.3 525.9h0M245.4 541.9h0M197.5 549.1h0M195.4 544.1h0M196.6 523.2h0M202.5 538.8h0M227.4 536.7h0M257.3 543.0h0M194.9 555.2h0M213.7 539.2h0M209.5 541.5h0M198.2 550.0h0M258.2 539.8h0M198.4 544.6h0M233.3 545.4h0M194.1 540.3h0M195.3 537.5h0M214.0 538.2h0M248.4 540.9h0M207.1 539.4h0M198.0 543.2h0M202.7 543.0h0M191.7 528.3h0M202.6 527.1h0M206.2 553.5h0M210.0 542.6h0M245.9 540.0h0M203.8 538.3h0M235.1 575.1h0M228.9 542.2h0M195.8 525.6h0M214.6 543.4h0M226.7 542.3h0M231.1 542.5h0M192.3 551.2h0M191.8 547.2h0M192.3 550.3h0M244.7 543.3h0M194.6 537.5h0M207.9 547.1h0M212.7 533.9h0M193.1 544.9h0M257.1 540.0h0M201.1 554.8h0M251.2 540.5h0M203.0 548.8h0M231.8 541.7h0M213.2 541.6h0M193.4 531.3h0M192.6 538.1h0M203.1 532.7h0M197.9 521.7h0M206.1 560.6h0M200.3 540.6h0M249.1 540.5h0M198.8 540.7h0M224.1 543.8h0M220.1 543.9h0M238.5 540.8h0M239.1 542.4h0M207.9 512.4h0M212.8 536.0h0M209.7 539.8h0M238.6 539.2h0M226.4 543.9h0M236.2 541.2h0M251.0 541.2h0M211.4 534.1h0M233.7 540.2h0M195.1 547.2h0M207.6 534.3h0M213.6 548.8h0M251.1 541.6h0M240.5 539.0h0M229.7 543.2h0M248.3 513.8h0M216.3 540.5h0M212.3 547.2h0M213.5 540.8h0M203.4 527.1h0M202.5 547.4h0M218.7 539.9h0M247.6 539.0h0M240.1 544.9h0M205.7 554.2h0M212.5 530.3h0M199.9 553.8h0M191.2 536.8h0M228.3 541.6h0M193.8 556.1h0M249.5 542.8h0M213.3 542.0h0M211.3 541.2h0M194.7 548.8h0M221.2 540.9h0M201.4 518.5h0M217.0 541.4h0M249.6 541.7h0M196.0 555.5h0M244.0 541.1h0M193.4 546.1h0M204.6 541.3h0M227.3 547.2h0M204.2 524.7h0M207.8 538.7h0M193.3 534.6h0M210.6 537.8h0M201.1 540.0h0M191.2 536.7h0M229.4 537.8h0M214.7 543.6h0M204.4 547.4h0M204.7 566.5h0M245.0 539.9h0M207.0 538.9h0M204.2 540.2h0M199.0 536.7h0M248.2 540.1h0M196.4 548.3h0M252.4 541.3h0M203.2 539.8h0M203.5 544.7h0M199.5 530.8h0M245.3 538.4h0M192.3 547.8h0M198.4 536.7h0M208.7 533.6h0M205.8 537.2h0M207.8 541.2h0M211.1 542.9h0M249.1 541.4h0M193.3 556.1h0M225.4 548.6h0M231.5 541.6h0M215.4 542.9h0M250.7 539.9h0M202.4 546.8h0M255.7 545.3h0M198.9 540.0h0M202.1 542.8h0M243.8 538.6h0M191.4 532.3h0M214.9 543.2h0M191.8 544.6h0M196.5 559.4h0M220.2 540.6h0M234.0 541.7h0M210.1 540.4h0M197.6 548.5h0M193.1 527.1h0M244.3 540.0h0M200.1 531.9h0M200.6 529.5h0M251.9 541.3h0M228.9 540.9h0M203.2 537.8h0M231.6 542.7h0M235.8 540.8h0M194.8 556.3h0M198.3 533.1h0M191.7 554.1h0M202.7 536.0h0M191.9 530.9h0M271.5 541.7h0M222.4 539.0h0M236.0 541.0h0M191.8 533.0h0M202.2 531.1h0M248.1 540.3h0M209.4 544.2h0M197.1 540.3h0M195.8 524.6h0M197.4 522.3h0M191.8 546.2h0M218.6 538.3h0M195.6 539.5h0M221.8 539.8h0M230.2 543.1h0M194.7 536.9h0M225.7 540.6h0M258.6 541.7h0M198.0 547.5h0M194.3 526.7h0M208.2 530.3h0M192.1 554.5h0M195.8 538.8h0M191.5 544.2h0M198.0 540.9h0M262.6 539.9h0M212.9 541.9h0M222.1 540.1h0M250.3 541.6h0M192.6 527.5h0M219.0 542.5h0M209.9 538.2h0M194.6 525.4h0M204.8 542.2h0M210.6 538.5h0M214.8 549.4h0M197.6 533.1h0M245.3 542.9h0M216.8 540.1h0M206.5 547.2h0M232.1 539.6h0M212.9 543.6h0M223.4 541.3h0M196.1 537.4h0M197.1 534.9h0M203.1 538.1h0M197.2 535.7h0M210.6 542.4h0M223.3 536.8h0M196.0 523.6h0M208.0 539.3h0M193.7 546.1h0M207.6 538.0h0M232.1 540.4h0M191.9 553.9h0M192.4 542.3h0M195.0 536.8h0M192.1 544.7h0M224.6 540.8h0M240.9 541.5h0M191.8 541.2h0M267.6 542.5h0M214.3 540.1h0M259.1 540.7h0M194.8 531.2h0M209.3 529.3h0M245.3 539.9h0M204.4 539.3h0M233.4 541.9h0M232.2 535.9h0M193.2 555.6h0M221.4 540.6h0M211.6 536.1h0M211.4 545.7h0M253.8 540.4h0M271.9 513.3h0M216.8 553.4h0M211.7 545.3h0M207.0 540.3h0M212.3 541.4h0M197.9 541.9h0M197.8 537.5h0M196.5 538.8h0M202.5 555.8h0M211.4 533.0h0M212.2 545.6h0M197.3 552.6h0M196.4 548.8h0M235.3 541.3h0M223.5 550.1h0M192.4 541.7h0M215.4 539.1h0M200.4 540.9h0M196.8 547.4h0M243.1 570.3h0M198.3 545.7h0M200.6 523.8h0M192.7 538.3h0M200.7 549.6h0M192.3 529.8h0M202.1 543.0h0M218.7 541.1h0M198.5 548.9h0M192.5 554.2h0M210.9 548.3h0M225.7 541.5h0M198.2 554.1h0M201.7 543.4h0M196.8 527.1h0M248.7 516.0h0M203.3 539.4h0M260.3 539.0h0M229.2 539.6h0M203.9 542.5h0M254.8 540.3h0M193.4 533.1h0M193.6 534.1h0M198.7 534.9h0M207.8 540.4h0M216.8 547.6h0M203.4 538.9h0M193.9 538.9h0M201.1 519.0h0M191.0 534.8h0M217.9 539.7h0M196.1 553.4h0M236.0 540.8h0M231.7 543.5h0M236.2 567.4h0M193.0 540.3h0M200.5 543.5h0M211.9 527.3h0M193.0 538.9h0M216.5 534.3h0M203.3 554.6h0M217.5 541.9h0M197.1 540.8h0M229.3 539.0h0M232.2 543.5h0M203.0 551.3h0M198.2 530.2h0M220.8 548.5h0M207.2 540.7h0M206.2 545.1h0M208.5 537.0h0M203.0 542.0h0M230.9 538.2h0M219.4 550.3h0M205.2 538.9h0M254.1 541.1h0M260.3 541.0h0M191.4 538.1h0M217.4 539.6h0M215.9 541.1h0M217.8 539.6h0M210.7 534.7h0M198.4 555.7h0M226.6 541.8h0M257.0 541.6h0M207.9 546.9h0M192.4 532.2h0M215.3 546.7h0M195.7 558.3h0M230.3 548.0h0M234.7 539.5h0M252.6 540.1h0M210.4 509.8h0M213.7 551.4h0M222.0 542.3h0M215.3 540.6h0M201.3 540.6h0M226.4 533.9h0M193.5 548.4h0M198.3 544.8h0M199.9 540.0h0M201.4 553.6h0M221.0 539.1h0M236.8 539.9h0M260.6 541.3h0M257.8 542.3h0M217.7 539.3h0M212.4 549.6h0M227.0 541.8h0M209.5 541.6h0M199.5 545.0h0M197.8 525.1h0M254.9 541.2h0M193.6 549.0h0M201.8 530.0h0M249.6 541.0h0M229.7 541.5h0M224.2 540.7h0M191.3 539.5h0M224.6 549.9h0M197.4 544.8h0M197.7 540.9h0M214.9 542.2h0M200.1 541.4h0M225.3 546.7h0M197.4 530.2h0M235.2 536.8h0M207.1 558.6h0M226.3 540.0h0M214.8 544.8h0M226.5 541.4h0M204.5 537.4h0M206.0 554.5h0M191.2 537.1h0M196.0 523.5h0M215.1 535.9h0M203.0 542.6h0M193.3 545.0h0M192.4 529.5h0M197.6 543.2h0M207.0 539.7h0M211.6 540.4h0M196.7 538.2h0M198.9 541.6h0M203.9 535.2h0M211.0 535.6h0M199.7 532.1h0M241.1 546.6h0M213.0 533.2h0M267.2 540.3h0M258.2 541.4h0M212.7 536.4h0M191.9 554.2h0M192.0 554.3h0M235.4 541.1h0M230.0 536.9h0M216.8 528.0h0M261.3 540.7h0M213.8 536.8h0M203.0 540.9h0M192.8 527.1h0M202.8 548.9h0M203.4 545.2h0M208.0 545.8h0M197.3 548.4h0M191.5 530.6h0M257.4 541.2h0M210.3 541.3h0M202.8 536.2h0M213.9 533.6h0M228.5 540.5h0M204.2 530.2h0M208.1 542.7h0M195.2 535.2h0M212.1 540.5h0M220.9 536.9h0M193.9 531.8h0M202.7 542.4h0M199.8 540.5h0M258.2 542.1h0M207.1 527.0h0M209.6 542.0h0M193.9 542.8h0M200.3 531.8h0M206.1 552.1h0M207.0 535.5h0M231.4 540.5h0M195.4 534.8h0M218.1 545.7h0M208.3 534.3h0M198.1 539.3h0M202.6 536.5h0M193.0 537.8h0M192.0 543.8h0M191.1 532.3h0M216.8 546.4h0M207.7 538.1h0M260.6 553.5h0M223.8 540.9h0M193.9 547.6h0M200.0 543.8h0M191.8 542.4h0M204.5 538.9h0M205.6 533.1h0M228.5 540.9h0M228.1 541.4h0M229.9 538.5h0M191.9 528.3h0M207.6 550.1h0M196.7 523.6h0M203.9 538.5h0M221.0 541.7h0M201.4 533.6h0M191.2 553.9h0M217.7 542.8h0M251.6 541.8h0M238.6 541.3h0M195.5 536.7h0M251.8 540.6h0M210.1 538.6h0M216.4 538.9h0M207.5 531.9h0M201.7 542.9h0M266.3 515.6h0M211.5 544.3h0M196.6 541.0h0M266.1 539.7h0M209.6 539.1h0M206.4 539.2h0M199.4 520.3h0M207.3 512.9h0M243.4 540.8h0M198.7 529.3h0M193.5 551.5h0M191.4 554.0h0M231.6 543.6h0M228.8 540.8h0M230.5 540.6h0M227.8 543.8h0M195.0 550.6h0M228.8 543.0h0M231.4 535.7h0M215.9 538.2h0M231.5 543.7h0M244.9 542.1h0M252.4 541.9h0M195.3 541.3h0M206.2 539.5h0M234.7 541.3h0M195.8 555.5h0M220.3 539.6h0M206.5 538.1h0M192.5 527.8h0M242.0 539.3h0M217.4 550.6h0M191.6 532.3h0M206.6 537.1h0M191.8 545.1h0M211.2 543.7h0M207.4 535.6h0M198.8 542.1h0M243.2 541.0h0M211.0 543.4h0M221.2 537.6h0M209.2 526.6h0M218.0 548.1h0M204.6 538.1h0M223.6 541.4h0M201.6 534.9h0M220.6 538.8h0M218.4 549.5h0M225.0 541.3h0M196.2 544.7h0M199.9 540.4h0M192.3 555.3h0M204.5 551.7h0M270.8 532.9h0M203.1 542.8h0M197.6 543.0h0M250.6 540.9h0M205.0 547.0h0M191.2 551.9h0M212.4 540.9h0M194.5 548.3h0M217.8 541.0h0M239.4 542.0h0M201.6 538.4h0M245.2 541.6h0M199.9 548.8h0M198.1 543.8h0M227.1 541.7h0M208.9 530.4h0M211.8 534.7h0M207.5 540.8h0M245.1 540.4h0M213.6 543.7h0M232.3 540.8h0M202.6 551.6h0M229.7 540.7h0M239.8 539.7h0M199.4 530.0h0M222.1 541.3h0M200.7 552.2h0M194.1 539.7h0M200.6 549.7h0M198.6 545.6h0M201.7 539.0h0M198.1 541.0h0M198.4 533.7h0M193.8 531.7h0M206.6 551.1h0M207.3 547.3h0M208.9 542.9h0M259.2 541.5h0M192.2 548.9h0M220.9 529.9h0M194.2 525.9h0M233.6 542.6h0M246.8 540.4h0M191.3 554.2h0M193.6 556.2h0M213.7 545.8h0M191.6 554.1h0M219.9 539.8h0M194.7 540.1h0M195.1 538.8h0M205.2 536.0h0M246.2 539.2h0M257.1 540.1h0M228.4 539.7h0M193.6 556.6h0M249.0 539.0h0M243.9 543.3h0M205.6 529.5h0M216.5 541.9h0M191.2 533.9h0M254.6 542.3h0M258.5 542.8h0M206.1 538.7h0M228.5 541.3h0M199.5 546.1h0M200.7 538.9h0M221.6 541.6h0M259.4 541.0h0M215.5 539.0h0M209.2 535.1h0M192.7 544.1h0M194.7 536.8h0M198.6 545.3h0M269.3 541.0h0M232.4 540.8h0M213.4 543.4h0M206.8 537.5h0M233.8 541.2h0M222.9 535.5h0M223.8 535.6h0M217.7 536.6h0M198.3 535.7h0M225.4 540.4h0M241.2 540.9h0M209.1 541.9h0M196.7 549.7h0M210.7 540.1h0M193.2 532.5h0M222.8 527.6h0M256.9 544.1h0M191.7 543.1h0M193.6 549.7h0M208.6 539.2h0M207.3 535.1h0M203.3 551.5h0M197.7 542.7h0" stroke="#4a4a4a" stroke-width="0.95" stroke-linecap="round" stroke-opacity="0.8"/>
<rect x="313.6" y="327.6" width="201.1" height="163.1" fill="none" stroke="#3a3a3a" stroke-width="0.8"/>
<line x1="313.6" y1="407.8" x2="514.7" y2="407.8" stroke="#3a3a3a" stroke-width="0.8"/>
<text x="317.4" y="337.0" font-size="7.25">Lung epithelial programs</text>
<text x="475.0" y="337.0" font-size="7.25">Motif score</text>
<defs><linearGradient id="rdbu" x1="0" y1="0" x2="0" y2="1"><stop offset="0" stop-color="#a50f15"/><stop offset="0.1" stop-color="#d7301f"/><stop offset="0.22" stop-color="#f46d2f"/><stop offset="0.33" stop-color="#fbac4c"/><stop offset="0.43" stop-color="#f8e2a2"/><stop offset="0.52" stop-color="#e2ecf0"/><stop offset="0.66" stop-color="#92c4e6"/><stop offset="0.82" stop-color="#4a91cc"/><stop offset="1" stop-color="#2a5ea8"/></linearGradient></defs>
<rect x="489.4" y="342.4" width="6.3" height="35.2" fill="url(#rdbu)"/>
<text x="497.9" y="343.5" font-size="7.0" text-anchor="middle" transform="rotate(90 497.9 343.5)">3</text>
<text x="497.9" y="349.4" font-size="7.0" text-anchor="middle" transform="rotate(90 497.9 349.4)">2</text>
<text x="497.9" y="355.1" font-size="7.0" text-anchor="middle" transform="rotate(90 497.9 355.1)">1</text>
<text x="497.9" y="360.5" font-size="7.0" text-anchor="middle" transform="rotate(90 497.9 360.5)">0</text>
<text x="497.9" y="366.5" font-size="7.0" text-anchor="middle" transform="rotate(90 497.9 366.5)">−1</text>
<text x="497.9" y="372.1" font-size="7.0" text-anchor="middle" transform="rotate(90 497.9 372.1)">−2</text>
<text x="497.9" y="377.6" font-size="7.0" text-anchor="middle" transform="rotate(90 497.9 377.6)">−3</text>
<text x="373.9" y="404.0" font-size="7.1" text-anchor="middle" font-style="italic">Nkx2-1</text>
<text x="441.6" y="404.0" font-size="7.1" text-anchor="middle" font-style="italic">Gata6</text>
<text x="317.8" y="420.6" font-size="7.2">Metastatic programs</text>
<text x="351.2" y="485.2" font-size="7.1" text-anchor="middle" font-style="italic">Runx2</text>
<text x="420.0" y="485.4" font-size="7.1" text-anchor="middle" font-style="italic">Sox9</text>
<text x="489.0" y="485.4" font-size="7.1" text-anchor="middle" font-style="italic">Sox2</text>
<text x="309.4" y="480.2" font-size="6.9" text-anchor="middle" transform="rotate(-90 309.4 480.2)">UMAP2</text>
<text x="313.3" y="501.0" font-size="6.9">UMAP1</text>
<text x="364.7" y="517.9" font-size="7.0" text-anchor="middle">KPS UP</text>
<text x="450.2" y="517.4" font-size="7.0" text-anchor="middle">KPS DOWN</text>
<text x="390.0" y="529.6" font-size="7.2">Score</text>
<text x="479.7" y="529.2" font-size="7.2">Score</text>
<rect x="396.5" y="532.7" width="7.0" height="34.7" fill="url(#rdbu)"/>
<rect x="485.5" y="533.2" width="6.9" height="33.7" fill="url(#rdbu)"/>
<text x="405.2" y="541.4" font-size="5.3">4</text>
<text x="405.2" y="552.4" font-size="5.3">3</text>
<text x="405.2" y="562.5999999999999" font-size="5.3">2</text>
<text x="494.2" y="543.8" font-size="5.3">4</text>
<text x="494.2" y="554.0999999999999" font-size="5.3">3</text>
<text x="494.2" y="563.4" font-size="5.3">2</text>
<line x1="327.3" y1="583" x2="327.3" y2="559.5" stroke="#231f20" stroke-width="0.8"/>
<line x1="326.90000000000003" y1="583" x2="349.9" y2="583" stroke="#231f20" stroke-width="0.8"/>
<path d="M325.35 560.38L327.3 557L329.25 560.38Z" fill="#231f20"/>
<path d="M349.02 581.05L352.4 583L349.02 584.95Z" fill="#231f20"/>
<text x="322.3" y="572" font-size="6.8" text-anchor="middle" transform="rotate(-90 322.3 572)">UMAP2</text>
<text x="326.6" y="592.6" font-size="6.8">UMAP1</text>
<g transform="translate(4,-210) scale(0.2)" stroke-width="5.75" stroke-linecap="round" fill="none">
<path stroke="#2a9a58" d="M487 1474h0m27 2h0m7 8h0m22-2h0m12 1h0m12 1h0m14 4h0m-1 0h0m-6 1h0m-2 7h0m-21 0h0m-9-5h0m-1-5h0m-3 1h0m-50 8h0m-11-3h0m-1 12h0m33 9h0m2 0h0m5-6h0m7-6h0m18 5h0m3 4h0m0 4h0m3-8h0m12-2h0m1-1h0m6-1h0m13 7h0m11-4h0m4-4h0m3 1h0m1 1h0m4 1h0m3-2h0m9 1h0m2 6h0m3 2h0m0 2h0m1 0h0m16 0h0m2 15h0m-1-1h0m0-2h0m-9 0h0m-2 3h0m-21-9h0m-2 8h0m-2-8h0m-23-2h0m-7 6h0m0 1h0m-6-2h0m-1 5h0m-1-10h0m-2 10h0m-14-5h0m-26-2h0m-14-4h0m-4 0h0m-8 7h0m-14-2h0m-5-5h0m-25 10h0m19 13h0m68 0h0m2-7h0m8 3h0m11-3h0m1 6h0m5 0h0m27 6h0m11-2h0m1-4h0m8-4h0m4 10h0m2-4h0m1-4h0m4-5h0m1 6h0m1 0h0m3-7h0m3 11h0m20-7h0m10 5h0m3 5h0m1-11h0m9 6h0m3 5h0m16-4h0m3-2h0m1 6h0m6 0h0m9 0h0m3-3h0m32 16h0m-13-3h0m-12-8h0m-7 12h0m-4-12h0m-2-1h0m-5 8h0m-1 1h0m-2-9h0m-4 11h0m-21 2h0m-4-13h0m-10 12h0m-34-10h0m-7 10h0m-5-7h0m-2 5h0m-4 0h0m-3 2h0m-2-7h0m-2 1h0m-3 0h0m0 4h0m-4-7h0m-2 5h0m-5 2h0m-11-10h0m-1 5h0m-4 7h0m-4-5h0m-1 7h0m-82-6h0m-32 6h0m-45 3h0m56 10h0m16-3h0m26-2h0m42-5h0m19 2h0m6 5h0m9-4h0m2-4h0m0 4h0m4 5h0m4-6h0m3-2h0m9 2h0m6-2h0m0 9h0m11-8h0m8 7h0m4-6h0m1 0h0m9 8h0m6-12h0m5 9h0m7 1h0m10-6h0m6 1h0m4 4h0m5-8h0m3-1h0m2 3h0m7 4h0m0-1h0m2 7h0m1-2h0m14-1h0m3 4h0m2-1h0m5-1h0m4-11h0m1 6h0m2-1h0m5-2h0m0 8h0m2 2h0m12 0h0m4-13h0m9 11h0m2-12h0m2 14h0m2-11h0m10 8h0m1 1h0m0 2h0m-2 14h0m-2-3h0m0-1h0m-2-2h0m-1 5h0m-2 2h0m-1-13h0m-2 9h0m-1-2h0m0-5h0m-1 0h0m-9-1h0m-17 0h0m-4 3h0m-8-3h0m-10 1h0m-10 8h0m-3 0h0m-5-7h0m-5-3h0m-5 11h0m-6-4h0m0-5h0m-7 4h0m-10 2h0m-6-6h0m-1 0h0m-1 9h0m-11-11h0m-4 13h0m0-5h0m-1 1h0m-2 1h0m-7 1h0m-2-9h0m0 2h0m-1 4h0m-2-3h0m-3-4h0m0 3h0m-14 4h0m-8-7h0m-4 6h0m-4 3h0m-5 0h0m-4-10h0m-1-1h0m0 4h0m-16 1h0m-5-1h0m-25 3h0m-8-6h0m-26 11h0m-23-11h0m-1 12h0m-26-12h0m-27 10h0m-6 0h0m40 12h0m9-1h0m8 5h0m1-12h0m5 0h0m5 11h0m20-3h0m61 1h0m4-4h0m4 8h0m14 0h0m15-13h0m2 13h0m4-5h0m12-8h0m8 12h0m2-2h0m10 3h0m5-13h0m1 1h0m1 9h0m6-7h0m5-1h0m6 6h0m8-8h0m8 3h0m3-3h0m3 6h0m19-2h0m1-4h0m2 14h0m1-12h0m31 0h0m2 7h0m6-9h0m2 3h0m2 9h0m2-11h0m8 6h0m3 7h0m9-8h0m6 21h0m-17-11h0m-2 2h0m-5 4h0m-3-4h0m-4-1h0m-2 11h0m-6-2h0m-7-10h0m-13 1h0m-8 9h0m-1-3h0m-2-8h0m-5 14h0m0-10h0m-1 2h0m-16 5h0m-2-9h0m-4 4h0m-1 1h0m-12 6h0m-4 0h0m-4-2h0m-22 0h0m-1-4h0m-6 0h0m-4-1h0m-9-5h0m-1 7h0m-1-7h0m-28-1h0m-33 13h0m-4-13h0m-4 11h0m-34-4h0m-2 2h0m-33 2h0m-11-8h0m-21 12h0m9 14h0m21-11h0m29-3h0m31 3h0m76 9h0m0-3h0m13 2h0m6-2h0m13 2h0m11-10h0m8 0h0m0 7h0m2-3h0m17 2h0m2 5h0m9 2h0m6-14h0m4 11h0m1-2h0m5-5h0m1 4h0m2-3h0m8 3h0m5-5h0m3 10h0m2-9h0m0 4h0m4-1h0m8-5h0m2 0h0m1-2h0m1 5h0m1 7h0m6-4h0m2-6h0m9 9h0m13 3h0m3 1h0m-5 13h0m-6-9h0m-20 7h0m-17-10h0m-6-1h0m-5 2h0m0 4h0m-6 0h0m0-1h0m0 9h0m-1-6h0m-1-2h0m-5-3h0m-3 10h0m-2-10h0m-7 6h0m-11 2h0m0 3h0m-2-14h0m-1 8h0m-7 2h0m-3-6h0m-1 3h0m-2 7h0m-5-2h0m-4-4h0m-8 6h0m-1-14h0m-22 4h0m-10 9h0m-17 0h0m-28 1h0m-21-2h0m-5-1h0m-34-6h0m-1 3h0m-5 1h0m18 14h0m14 3h0m20-3h0m9 1h0m34 2h0m11 3h0m4-14h0m3 8h0m23-4h0m4-4h0m2 14h0m1-3h0m32 2h0m7-10h0m6 3h0m8-3h0m19 7h0m11-9h0m2 7h0m2-4h0m32 0h0m1 3h0m1 3h0m3-2h0m5-1h0m-11 9h0m-5 0h0m-7 3h0m-3 10h0m-6-10h0m-3 3h0m-1 0h0m-18 7h0m-11-7h0m-1 2h0m-3-6h0m-17 8h0m-4-9h0m-2-2h0m-3 13h0m-2 0h0m-136 11h0m41-7h0m80-2h0m5 4h0m8 6h0m5-6h0m4 7h0m2-9h0m0 6h0m11 0h0m1-2h0m8 8h0m5-6h0m14-7h0m8 8h0m8-6h0m2-3h0m1 8h0m3-2h0m3-4h0m-15 18h0m-22-2h0m-1 6h0m-56-4h0m-6-4h0m-71 7h0m-1 1h0m50 10h0m21 6h0m13-6h0m34 4h0m6-7h0m4 12h0m12-5h0m2 6h0m4-3h0m11-9h0m5 0h0m-57 21h0m-22 0h0m-10 138h0m-1 4h0m-2 11h0m-3-4h0m-1-6h0m-15 20h0m4-6h0m1 10h0m4-3h0m1-2h0m9 7h0m1-7h0m1-2h0m-14 20h0m-1 2h0"/>
<path stroke="#f28a2f" d="M528 1468h0m-7-1h0m-3 2h0m-17 0h0m-18 9h0m3-1h0m4 2h0m3-6h0m4 1h0m1 7h0m0-10h0m1 2h0m6 1h0m1 10h0m10-2h0m8-2h0m1-10h0m3 2h0m1 10h0m5-5h0m5-3h0m5 1h0m0 7h0m43 6h0m-12 6h0m-4 5h0m-8 0h0m-5-3h0m-3-11h0m-14 4h0m-1 1h0m-18 2h0m-2 4h0m0-8h0m-6 7h0m-1 4h0m-6-11h0m-4-2h0m0 7h0m-3-2h0m-2-3h0m-3 4h0m-6-5h0m-6 7h0m-3-9h0m-1 3h0m-5 11h0m-1-2h0m-1 17h0m3-5h0m1 4h0m3-12h0m14 11h0m1-5h0m0-3h0m4-2h0m4 11h0m26 0h0m0-1h0m1-8h0m3 2h0m0 7h0m4-12h0m3 13h0m1-9h0m2 8h0m3-2h0m7-6h0m4 7h0m7-11h0m21 9h0m19 3h0m32 5h0m-8 3h0m-63 1h0m-8 7h0m-2-14h0m0 13h0m-9-10h0m-1 7h0m-5-2h0m-3-2h0m-3-3h0m-10-2h0m-5 8h0m-1-6h0m-1 4h0m0-2h0m0-1h0m-1-4h0m-2 2h0m0 2h0m-1-4h0m-1 9h0m-2-2h0m-1 3h0m-1-3h0m-1 4h0m-2 3h0m-7-11h0m-5 9h0m-3-4h0m-7 6h0m-2-11h0m-3 0h0m-6 2h0m-9 5h0m-9 0h0m-7 2h0m3 11h0m4 4h0m7-7h0m2 5h0m7 3h0m23 0h0m6 1h0m5-6h0m1 3h0m1-11h0m5 0h0m0 13h0m4-10h0m6 9h0m3-12h0m2 8h0m12-8h0m3 2h0m6 3h0m7 9h0m1-8h0m0 2h0m9-3h0m13-2h0m2 6h0m18-1h0m0-4h0m3 3h0m1 5h0m10-9h0m1 7h0m18-9h0m5 12h0m1-10h0m17-1h0m9 0h0m50 11h0m48 16h0m-48-10h0m-44 10h0m-37 0h0m-2-7h0m-13 1h0m-30-7h0m0 3h0m-4 6h0m-16 4h0m-2 0h0m-7-1h0m-2 0h0m-4-11h0m-1 3h0m0 1h0m-2-3h0m-1 6h0m-1-1h0m-13 2h0m-2 4h0m-1-6h0m-2-3h0m-1 4h0m-5 0h0m-6-4h0m-3 6h0m-2 2h0m-1-10h0m-4 10h0m0-1h0m0-1h0m-1 3h0m-1-5h0m-2-3h0m-3 2h0m-2-2h0m-3-4h0m0 3h0m-3 7h0m0-11h0m-1 10h0m-1-2h0m-16-5h0m-1 3h0m-5 6h0m-10 1h0m-6-10h0m-5 2h0m-2 3h0m-3 3h0m-4-2h0m-1 1h0m-1-2h0m-7 3h0m-1-1h0m-6-9h0m-1-1h0m-4 13h0m-3-5h0m-2 2h0m-2-1h0m0 4h0m-6-2h0m0 3h0m10 6h0m2 4h0m5-10h0m1 4h0m1-2h0m2 9h0m4-1h0m0-9h0m1 2h0m0 2h0m19 1h0m1 0h0m5-5h0m0 13h0m2-4h0m1-10h0m3 13h0m2-4h0m2 2h0m0-11h0m4 0h0m3 0h0m0 9h0m2-7h0m2 8h0m6 2h0m2 0h0m3-10h0m3 7h0m3-4h0m1 2h0m1 7h0m1-13h0m6 11h0m1-2h0m2-10h0m0 13h0m4-2h0m7-6h0m5 6h0m1-2h0m3 3h0m0-8h0m1-2h0m1 3h0m3-2h0m1 7h0m1-5h0m0-3h0m5-2h0m6 5h0m9 2h0m4 5h0m5-4h0m1-6h0m12 7h0m4 4h0m1-12h0m12 4h0m1-5h0m11 8h0m1-2h0m16 8h0m0-6h0m29 1h0m12 4h0m15-7h0m5-3h0m3 7h0m3-10h0m15 14h0m20-4h0m7 3h0m9-11h0m1 7h0m6 4h0m2-12h0m12 3h0m10 0h0m5 3h0m5-1h0m-12 18h0m-24-9h0m-80 8h0m-13-3h0m-14-3h0m-1 4h0m-6-4h0m-10 0h0m-12 1h0m-3 1h0m0 4h0m-8-2h0m-1-4h0m0 3h0m0 9h0m-1-1h0m-1-1h0m-11-3h0m-14 4h0m-1-10h0m-5 11h0m0-5h0m-3 5h0m-7-5h0m-1 4h0m-2-4h0m0 1h0m-2 1h0m-1-7h0m-1-1h0m0 4h0m0 4h0m-3 3h0m-6-13h0m-4-1h0m-4 0h0m0 7h0m-2 0h0m-1-2h0m-1 2h0m0-6h0m-2 1h0m-5 6h0m-6-8h0m0 8h0m-1-2h0m-1 5h0m-1-6h0m-10-5h0m-10 8h0m-2 3h0m0-10h0m-2 10h0m-2-11h0m-1 10h0m-6-7h0m-1 2h0m0 8h0m-2-5h0m-1 0h0m-3 6h0m-2-13h0m-1-1h0m0 14h0m-3-14h0m-6 6h0m-1 6h0m-2 1h0m-1-3h0m-1 0h0m-1-6h0m-2 0h0m-1-4h0m-3 7h0m0 4h0m-7-7h0m0 7h0m-4 0h0m-2-7h0m-1 7h0m-2 1h0m-1-2h0m-1-8h0m-1 11h0m-5 0h0m0-13h0m-5 0h0m-1 12h0m0-9h0m-2 8h0m-2-2h0m-1 15h0m5-6h0m13-1h0m4 6h0m9-6h0m2 3h0m2 1h0m2-5h0m6 10h0m7-7h0m9-4h0m4 14h0m1-2h0m0-5h0m2-7h0m1 5h0m1 5h0m1 0h0m1 4h0m2-3h0m2 1h0m1 1h0m2-7h0m3-3h0m1 3h0m3 2h0m0-6h0m8 7h0m0 3h0m0-1h0m6-7h0m2 5h0m2 0h0m1 5h0m2-8h0m1-4h0m1 7h0m1-2h0m3-5h0m1 6h0m3 0h0m0-1h0m0-6h0m2 0h0m6 5h0m4-4h0m3 4h0m1-5h0m1 10h0m7 1h0m0-3h0m3 5h0m5-1h0m1-12h0m4 12h0m4-2h0m0 3h0m5-11h0m1-1h0m2 12h0m1-1h0m2-3h0m5-1h0m7 5h0m4-1h0m4 0h0m9-3h0m3-9h0m6 12h0m11-10h0m5-3h0m9 11h0m8-4h0m5 6h0m41-1h0m3-2h0m6-5h0m20 8h0m25-13h0m29 13h0m2-8h0m4 8h0m9 10h0m-19-2h0m-4 8h0m-7-8h0m-6 2h0m-5-2h0m-21 2h0m-11-6h0m-19 7h0m-1 2h0m-52-1h0m-15-3h0m-3-6h0m-7 5h0m0-6h0m-2 4h0m-3-3h0m-5 1h0m-3 3h0m-3 0h0m-7 2h0m-3 4h0m0 1h0m-2-12h0m-1 9h0m-1 5h0m-2-4h0m-1-10h0m-2 8h0m-1-4h0m-2-4h0m0 1h0m-1 4h0m-4 5h0m-4-8h0m-5 11h0m-6-12h0m-2 11h0m-2-6h0m-1 8h0m0-5h0m0-8h0m-7 6h0m-1 3h0m0-10h0m-2 4h0m-5-3h0m-4 10h0m-2-1h0m-2-3h0m-7 0h0m-3 1h0m-4-4h0m-7 6h0m-4-8h0m-2-1h0m-1-1h0m-1 14h0m-5-3h0m-3 1h0m-11-11h0m-5 4h0m-5-5h0m0 7h0m-1 2h0m-1-8h0m-5 5h0m-8-2h0m-3 10h0m-3-3h0m-1 3h0m-19-7h0m-2-1h0m-4 0h0m-3-2h0m-1 3h0m-4-6h0m-3 5h0m33 16h0m1-3h0m10 4h0m2 0h0m7 5h0m0-10h0m6 11h0m3-5h0m0-5h0m1 6h0m2-9h0m2 9h0m0-3h0m3 4h0m2-10h0m2 2h0m0-2h0m3 7h0m0-1h0m1 2h0m6-7h0m1 4h0m0 3h0m8-2h0m6 1h0m6 3h0m3-10h0m6 4h0m0-5h0m15 14h0m6-11h0m1 3h0m3-2h0m3-4h0m2 4h0m7-3h0m0-1h0m2 11h0m0-7h0m3 6h0m2-10h0m2 12h0m6-2h0m2-6h0m5 5h0m0 2h0m48-9h0m0 9h0m1-1h0m2 3h0m1 0h0m14-3h0m1 2h0m8-11h0m13 8h0m1-5h0m19-1h0m15 10h0m1-4h0m35 5h0m0-10h0m13 5h0m14-2h0m10 4h0m3 11h0m-6 0h0m-30-4h0m-53 10h0m-10-10h0m-50-2h0m-4 10h0m-1 0h0m-5 2h0m-1-11h0m-2 10h0m-8-3h0m-10 1h0m-1-5h0m-6 4h0m-1 2h0m-1 2h0m-3-11h0m0 2h0m-1 6h0m-3 2h0m-2-1h0m-9 2h0m-1-13h0m-1 7h0m-1 1h0m-9-3h0m-5 7h0m-1-12h0m-5 8h0m-6 2h0m-2-8h0m-1 0h0m-1 11h0m-4-4h0m-3-1h0m-2-7h0m0 5h0m-3-2h0m-3 2h0m-1 8h0m-1-5h0m-1-3h0m-1 5h0m-4-1h0m-5-6h0m-5-4h0m0 9h0m-4-1h0m-3-3h0m-2-3h0m-2 2h0m-4-2h0m-4-2h0m21 15h0m5 5h0m4-3h0m7 5h0m5 2h0m0 3h0m1-9h0m1 9h0m1-11h0m3 9h0m2-5h0m4 1h0m2 1h0m6 2h0m2-4h0m1-4h0m2 0h0m0 10h0m1-5h0m1 2h0m2-1h0m0-1h0m0 3h0m1-4h0m1 8h0m5 1h0m1-6h0m2-5h0m1 0h0m6 10h0m2-3h0m1-2h0m1-4h0m1 1h0m2 7h0m5-9h0m1 2h0m2-4h0m3 2h0m4 7h0m1 0h0m2 4h0m7-8h0m1 3h0m5-5h0m1 10h0m0-14h0m2 5h0m5-4h0m1-1h0m0 13h0m1-7h0m1 3h0m0 1h0m5-6h0m1 8h0m1-12h0m8 6h0m1-3h0m3 4h0m4 7h0m0-5h0m4-8h0m4 4h0m18-1h0m11 7h0m11-6h0m24 6h0m5-6h0m4-1h0m1 3h0m6 4h0m0-10h0m25 12h0m7-6h0m1 9h0m-1 12h0m-5 1h0m-3-8h0m-2-4h0m-4 6h0m-8 2h0m-9-4h0m-1 3h0m-5-4h0m0 8h0m-3-8h0m-2 1h0m-12 0h0m-5 6h0m0-10h0m-1 12h0m-3-4h0m-5 0h0m-3 1h0m-3-1h0m-2 0h0m-8-3h0m-1 6h0m-14-13h0m-6 8h0m-11-5h0m-6 1h0m-7-1h0m-6 7h0m0-1h0m-2-8h0m-2 2h0m-4 0h0m-8 8h0m-3-1h0m-9-7h0m-4 0h0m0-2h0m-1 3h0m-9 2h0m-3 7h0m-2-4h0m0-1h0m-2 3h0m-2-4h0m-6 6h0m-1-1h0m-2-9h0m-1 1h0m-10 7h0m-1-10h0m-1 13h0m-3-9h0m-1-4h0m-6 7h0m-2-4h0m-12 11h0m3 5h0m2 5h0m2-3h0m1-2h0m7 8h0m2 1h0m4-8h0m2-5h0m3-1h0m1 10h0m1-2h0m1-4h0m5 5h0m9-2h0m2 7h0m5-6h0m21 0h0m12 0h0m5-2h0m3-1h0m6-3h0m0 7h0m4-7h0m1 8h0m3-10h0m6 1h0m0 8h0m0-6h0m5 3h0m10 6h0m0-2h0m4 1h0m1-5h0m1 4h0m9-4h0m8-5h0m4 2h0m3 2h0m3-5h0m5 0h0m1 3h0m14 11h0m0-1h0m2-1h0m4-11h0m4 0h0m22 3h0m2-2h0m1 3h0m5 6h0m2-11h0m0 13h0m2-9h0m0 4h0m9-5h0m1 6h0m-2 7h0m-8 2h0m-1 0h0m-4-3h0m-1 3h0m-7 8h0m-12-11h0m-18 5h0m-2 7h0m-3-1h0m-2 0h0m-6-7h0m-17 4h0m-19-8h0m-1 7h0m-4 6h0m-2-6h0m-1-2h0m-2 4h0m-10-4h0m-30 5h0m0-2h0m-2 1h0m-9-6h0m-2 0h0m-17 9h0m-2-1h0m-13-2h0m-9-6h0m-24 5h0m-4 0h0m-9 9h0m5 4h0m59-2h0m14 4h0m6-4h0m1-1h0m3-2h0m2 6h0m4 0h0m1 0h0m12 5h0m3-6h0m4 5h0m2 3h0m2-6h0m1 5h0m0-2h0m0-10h0m2 2h0m2 1h0m3 10h0m0-14h0m1 4h0m7 3h0m0-7h0m1 8h0m3-2h0m3 2h0m5-1h0m4 0h0m5-2h0m2 0h0m8 4h0m4-1h0m2-1h0m3 0h0m4 0h0m1-1h0m2 8h0m2-6h0m2 6h0m7-8h0m2 8h0m3-5h0m1 1h0m1 4h0m3-6h0m9-3h0m2 4h0m-23 7h0m-31 0h0m-1 11h0m-1-9h0m-5 0h0m-3 1h0m-1 5h0m-9-7h0m-7-2h0m-148 19h0m160 6h0m12-4h0m0-5h0m-12 16h0m-17 1h0m-1 8h0m-1-5h0m-147-6h0m-7 4h0m146 34h0m-1 74h0m1 7h0m1-11h0m5 4h0m0 4h0m3-4h0m5 11h0m0 9h0m-1-12h0m-2 8h0m-3-6h0m-1 10h0m-8 0h0m-8 2h0m-1-9h0m-6 1h0m-10 8h0m-10 13h0m4-6h0m2 3h0m5-6h0m13 8h0m2-2h0m1-3h0m5 4h0m2 0h0m3-2h0m2-6h0m9 10h0m3 1h0m1-5h0m1 2h0m0-5h0m1-4h0m-7 18h0m-3-4h0m-7 3h0m0 2h0m-2 2h0m-1 4h0m-8-6h0m-15-5h0m3 15h0"/>
<path stroke="#6849a4" d="M501 1478h0m17-2h0m42 14h0m-12 0h0m-25 5h0m-49 0h0m33 10h0m1 2h0m7-2h0m16-3h0m2-2h0m27 7h0m-263 180h0m12 19h0m-26-9h0m-17 10h0m-18-1h0m2 8h0m43 6h0m164 15h0m-47 2h0m-9-3h0m-2-9h0m-12 8h0m-5 1h0m-48-2h0m-21 6h0m-9-11h0m-13 3h0m0 4h0m-9 1h0m-2-5h0m0 1h0m-6 3h0m-10 1h0m-3-6h0m-2 1h0m-1-5h0m-6 12h0m-8-9h0m6 25h0m8-1h0m0-1h0m21-4h0m3-1h0m3 2h0m8-2h0m13 0h0m1-1h0m5-4h0m2 11h0m15-3h0m5 0h0m8-9h0m5 6h0m1-3h0m8 8h0m0-3h0m7-3h0m20-4h0m24 2h0m28 6h0m9 5h0m3-2h0m15-5h0m11 4h0m19-2h0m7 4h0m9 16h0m-2-2h0m-3 2h0m-3-14h0m0 3h0m-3 5h0m0-6h0m0 3h0m-3 8h0m-1-3h0m-7 2h0m-9-7h0m-4 5h0m-4-8h0m-2 6h0m0-2h0m-9-4h0m-1 4h0m-2 4h0m-1-10h0m-2 7h0m0 6h0m-2-7h0m-1-2h0m-13-4h0m-3 0h0m-5 7h0m-2-1h0m-3 1h0m-3 7h0m-1-2h0m-7-9h0m-6 3h0m-18-6h0m-11 4h0m-11 4h0m-3 4h0m-14-8h0m-3 5h0m-12-8h0m0 11h0m-4-2h0m-1-9h0m0 6h0m-3 4h0m-12 1h0m-7-3h0m-5-1h0m-4 0h0m-1-5h0m-1 3h0m0-1h0m0 4h0m0 3h0m-1-10h0m-1 6h0m0-4h0m-5 7h0m-8 0h0m-5 2h0m-3-12h0m-3 3h0m-2-2h0m-1-1h0m-5 1h0m-1-1h0m-7 12h0m-2-9h0m-133-1h0m-34-1h0m155 25h0m1 1h0m2-11h0m3 10h0m0-8h0m2 7h0m0 3h0m1-3h0m0-2h0m6-5h0m3 10h0m0-10h0m2 5h0m2-6h0m3 3h0m9-2h0m2 9h0m5 0h0m5-5h0m9 3h0m3-10h0m24-1h0m6 12h0m1-1h0m5 3h0m7-11h0m1-3h0m2 6h0m5-1h0m6 6h0m0-11h0m5 8h0m0-1h0m1 6h0m1-11h0m0 3h0m1-3h0m0 2h0m6 2h0m7 3h0m5-8h0m4 13h0m3-5h0m11 5h0m3-14h0m2 3h0m5 0h0m4 0h0m4-3h0m4 10h0m2-1h0m8 0h0m1 3h0m0-2h0m0-1h0m5-8h0m1 11h0m3 0h0m4 1h0m2-11h0m5 5h0m0-5h0m2 5h0m8 2h0m6-4h0m2-2h0m1 4h0m2 1h0m0-2h0m2-6h0m1 11h0m2-4h0m17-1h0m1-5h0m1 5h0m2 6h0m5-11h0m1 10h0m4 0h0m5 4h0m0 3h0m-10 11h0m-5-9h0m0 3h0m-1-8h0m-3 6h0m0-5h0m-1 3h0m-2 2h0m-3 5h0m-13-1h0m0-5h0m-5-3h0m-5 2h0m0 3h0m-5 4h0m-4-10h0m-2 12h0m-5-11h0m-1-1h0m-3 12h0m-2-5h0m-1-3h0m-1 0h0m0 8h0m-1-6h0m-4-4h0m-1 11h0m-3-1h0m-1-10h0m-2 7h0m0-3h0m-1-7h0m-2 13h0m-1-6h0m-4-5h0m-1 9h0m-2-3h0m-1 3h0m-6-5h0m-3 7h0m-8-9h0m-1 5h0m-1-4h0m-3 6h0m-3-11h0m0 7h0m-5-2h0m-9-4h0m0 7h0m-1 3h0m-1-4h0m-1-6h0m-4 12h0m-2-12h0m-2 0h0m-9-1h0m-2 5h0m-2-1h0m-3-2h0m-3 2h0m-3 0h0m-18-1h0m-2-3h0m-2 3h0m-1-2h0m-1 6h0m-14-7h0m-4 1h0m-2-1h0m-1 4h0m-13 9h0m-6-1h0m0 2h0m-4-1h0m-5-8h0m0 3h0m-2 6h0m-4-8h0m-1-2h0m-6 10h0m0-11h0m-5 4h0m-3 2h0m-1-4h0m0 9h0m-3-13h0m0 12h0m-3-4h0m-2 2h0m-2-4h0m-8-3h0m6 12h0m6 4h0m2-2h0m2-3h0m12 3h0m2 2h0m4-5h0m1 0h0m2 1h0m8 1h0m49-2h0m1 1h0m2 3h0m2-3h0m12 7h0m14 4h0m16 2h0m3-12h0m4 0h0m2 5h0m9-2h0m5 7h0m0-10h0m1 10h0m0-6h0m1-1h0m7 5h0m1 0h0m4 3h0m0-13h0m3 6h0m1 7h0m2-13h0m0 3h0m2 1h0m4 0h0m1 6h0m4 4h0m2-14h0m2 8h0m2-5h0m8 3h0m2 7h0m2-7h0m0 4h0m3-5h0m1 6h0m0-5h0m2-4h0m8 3h0m3 9h0m4-12h0m1 1h0m2 6h0m1-2h0m1 4h0m5-6h0m1 0h0m4-1h0m8 8h0m1-11h0m3 5h0m2 3h0m8 4h0m-13 7h0m-5-2h0m-2 3h0m-1 0h0m-4 6h0m-1-8h0m-6 5h0m-11 4h0m-1-1h0m0-12h0m-4 12h0m0-5h0m-2 3h0m-2-2h0m-6 3h0m-3-9h0m0 6h0m-4 0h0m-1 3h0m0-11h0m-1 7h0m-1 4h0m-5 2h0m-3-8h0m-3-1h0m-1 2h0m-3-1h0m-3-4h0m-5 5h0m-2-5h0m-12 3h0m-3 2h0m-1-2h0m0-3h0m-7 0h0m-13 2h0m50 20h0m1 1h0m1-7h0m4 10h0m7-1h0m2 3h0m5 0h0m5-7h0m4-7h0m3 13h0m0-10h0m0 4h0m1-5h0m5 6h0m10-5h0m12 11h0m1-6h0m2-4h0m-18 15h0m-12 0h0m-11 3h0m-2-2h0m-3 0h0m-8-4h0m148 43h0m-10-2h0m16 13h0m2 2h0m10-3h0m1 2h0m1 4h0m-3 8h0m-12-8h0m-4 0h0m58 128h0"/>
<path stroke="#e0603f" d="M532 1469h0m-50 8h0m10-1h0m7 5h0m3 1h0m23-2h0m37 13h0m-1 2h0m-24-2h0m-1-5h0m-7 9h0m-9-6h0m-7-5h0m-3 0h0m-9 4h0m-4 23h0m7-10h0m14 0h0m14 10h0m9-8h0m3 0h0m10 3h0m29-5h0m38 26h0m-72 0h0m-11-4h0m-8 0h0m-2 2h0m-10-4h0m-6-5h0m-3 8h0m-8-8h0m-2 0h0m-15 1h0m-1-4h0m-11 8h0m60 8h0m4 7h0m2-6h0m6 9h0m2-1h0m8-8h0m7 8h0m45-4h0m24 1h0m86 16h0m-97-8h0m-37 0h0m-38 14h0m-1-4h0m-4 3h0m-3-2h0m-5-6h0m-6 1h0m-2 5h0m0-1h0m-22 3h0m-7-13h0m-8 4h0m-3 9h0m0-1h0m-1-4h0m-1-3h0m-16 6h0m-1-5h0m-2-1h0m-15 0h0m-3 8h0m-30 1h0m-5-11h0m-9 20h0m5-6h0m2 4h0m2-3h0m2 3h0m1 4h0m11-2h0m2-6h0m28 3h0m3 4h0m1 5h0m26-8h0m2 4h0m14-6h0m3-2h0m4 0h0m19 3h0m25 1h0m9 2h0m9-6h0m12 10h0m3-10h0m10 12h0m25-3h0m12-11h0m42 14h0m14-14h0m87 13h0m0-6h0m-6 11h0m-7 3h0m-92 6h0m-10-4h0m-44-5h0m-4-1h0m-3 4h0m0-5h0m-4 7h0m-4 2h0m-3 1h0m-6 0h0m-1-10h0m-21 2h0m-15 1h0m-18 7h0m-10-10h0m-2 10h0m-6-8h0m-8 2h0m-12-1h0m-4-2h0m-15 4h0m-4 2h0m-15-5h0m-4 9h0m-5-12h0m-20 9h0m0-7h0m-4 7h0m-15 4h0m0 15h0m7-9h0m39-4h0m12 14h0m9-1h0m2-9h0m7 8h0m3-3h0m1-3h0m4 3h0m13 5h0m15-1h0m5-7h0m0 8h0m12-7h0m5-1h0m2 5h0m2 1h0m19-5h0m3-4h0m0 7h0m4 2h0m2 2h0m5-3h0m3 2h0m2-5h0m2 0h0m17 5h0m4-11h0m1 4h0m10-1h0m4 9h0m11-7h0m11 2h0m19-8h0m25 1h0m68-2h0m4 24h0m-2 3h0m-114-1h0m-20 1h0m-13-2h0m-4-6h0m-7 9h0m-38-3h0m-28-5h0m0-1h0m-6 5h0m-8-9h0m-9 2h0m-11 1h0m-5 5h0m-11-7h0m-21 11h0m-6 2h0m-37-8h0m-2-1h0m35 20h0m21-8h0m14 2h0m17 2h0m15 0h0m13 2h0m9-5h0m6 2h0m2 3h0m9 0h0m3 1h0m7-9h0m1 9h0m2 0h0m2-4h0m44 4h0m14 3h0m5-1h0m9-6h0m42 5h0m0-9h0m59 2h0m-42 12h0m-36 14h0m-36-1h0m-5-5h0m-6-7h0m0 12h0m-3-11h0m-23 1h0m-11-1h0m-1 6h0m-4 3h0m-8-11h0m-11 3h0m-9-1h0m-8 7h0m-2 0h0m-2-3h0m0 3h0m-16 1h0m-4-1h0m-2 1h0m-7-9h0m-15-1h0m21 19h0m7 1h0m1 3h0m5-8h0m5 2h0m0 11h0m1-1h0m7-7h0m20 2h0m18 2h0m7-1h0m0-6h0m10 3h0m4 7h0m12-5h0m2-4h0m4 4h0m1 3h0m5-4h0m3 4h0m7 1h0m2-7h0m10-1h0m1 5h0m2-4h0m34 3h0m16-2h0m13-3h0m1 9h0m3-8h0m20 8h0m26 3h0m13 3h0m-13 0h0m-7 4h0m-9-5h0m-27 1h0m-1 5h0m-10 2h0m-2 0h0m-57 0h0m-17-7h0m-11 1h0m-7 6h0m-42-1h0m-5-5h0m-4 11h0m-4 0h0m-2-11h0m-4 9h0m-4-6h0m-1 0h0m-3 19h0m1-5h0m2 6h0m5 0h0m6-11h0m8 13h0m5-13h0m10 1h0m4 12h0m31 0h0m7 1h0m3-1h0m6-13h0m19 3h0m0-1h0m9 11h0m3-5h0m20-5h0m1 1h0m5 2h0m27-2h0m36 4h0m6-5h0m2 4h0m9 12h0m-9 2h0m-4-4h0m-25 2h0m-19 1h0m-3-4h0m-5 4h0m-4-3h0m0 4h0m-22-4h0m-1 12h0m-4-7h0m-63-1h0m-10 0h0m-72 22h0m109-4h0m27-9h0m9 6h0m5 3h0m10 1h0m26-1h0m2-9h0m7 5h0m4 9h0m12-8h0m12-4h0m-56 17h0m-8 3h0m-6-4h0m-5 2h0m-21-4h0m-149 28h0m10-9h0m158-3h0m-7 18h0m-5-1h0m-16 105h0m9 8h0m9 10h0m-13 1h0m-21-2h0m-3 4h0m-2 2h0m-34-2h0m-14 4h0m-1-2h0m-8-3h0m3 9h0m11 0h0m16 11h0m1-11h0m1 0h0m1-2h0m1 0h0m2 13h0m4-1h0m12-5h0m9 4h0m1-7h0m4 2h0m1-2h0m13-4h0m12 12h0m-6 4h0m-11-2h0m-9 4h0m-2-2h0m-5 6h0m-3-3h0m-3 7h0m-3 1h0m-2-5h0m-9 6h0m-5-7h0m0-2h0m0-5h0m-1 9h0m-2-5h0m-9-3h0m37 14h0"/>
<path stroke="#93287f" d="M492 1473h0m22 2h0m21 3h0m19 2h0m4 4h0m-4 4h0m-23 0h0m-3 1h0m-11 10h0m-11 0h0m-4-7h0m-10 7h0m-4-10h0m-4 2h0m-1 8h0m-4-7h0m29 10h0m33 6h0m-260 170h0m-39 16h0m9-1h0m17-13h0m4 0h0m1 0h0m2 3h0m5 5h0m2 2h0m0-8h0m1 8h0m4 3h0m1-3h0m0-5h0m1 8h0m2-1h0m2 2h0m3-3h0m1 3h0m1-3h0m2-7h0m3 2h0m4 6h0m3-4h0m4 4h0m6 2h0m83 15h0m-1 0h0m-14-4h0m-3 3h0m0 1h0m-1-2h0m-5-3h0m-12 4h0m-42 1h0m-1-4h0m-1-10h0m-2 9h0m-1-8h0m-5 5h0m-5-1h0m0 3h0m-2-4h0m-2 8h0m-1 2h0m-1-6h0m-3 6h0m-1-8h0m0 3h0m-2-1h0m-5 6h0m-5-5h0m-7 0h0m0 4h0m-10-12h0m-7 10h0m0 2h0m-1-3h0m-1-2h0m-3 2h0m-2-10h0m-1 10h0m-10 2h0m-1-12h0m-6 20h0m3 0h0m0 3h0m2-2h0m2-2h0m2-3h0m0 13h0m2-12h0m7 6h0m1-1h0m1-7h0m1 3h0m2-2h0m7 10h0m2-8h0m0 9h0m1-1h0m4 1h0m1-9h0m4 10h0m1-13h0m1 11h0m4-5h0m9-5h0m2 2h0m0 6h0m9 3h0m0-6h0m6-1h0m7-3h0m0 2h0m6 0h0m3 6h0m7 4h0m1-7h0m4 4h0m3-2h0m1 5h0m2-1h0m9-3h0m2 0h0m29 1h0m1-4h0m0 6h0m6 0h0m1-11h0m1 7h0m0-5h0m1 5h0m2-7h0m1 11h0m2-10h0m5 8h0m0-3h0m2-4h0m1 5h0m2-3h0m3-3h0m3 6h0m12 1h0m2-7h0m28 18h0m-6-2h0m-23 3h0m-6-3h0m-26 8h0m-2-3h0m-1-7h0m-4 5h0m-5-3h0m-5-3h0m-2 13h0m-4-1h0m-1-1h0m-7-3h0m-2 1h0m-1-4h0m-2 2h0m-2 4h0m-6 0h0m-2-7h0m-3-1h0m0 9h0m-3-4h0m0 4h0m-2-5h0m-3-8h0m0 4h0m-7-1h0m0-3h0m-2 3h0m-5 8h0m0-6h0m-2 9h0m-2-4h0m-3-7h0m-8-1h0m-4 1h0m-9 8h0m-2 3h0m-2-5h0m0-5h0m-1-2h0m0 11h0m-4-4h0m-1-1h0m-2 4h0m0-5h0m-4 2h0m-1-7h0m-1 3h0m-2-4h0m-5 8h0m-4-3h0m-4 4h0m-9-2h0m0 3h0m-1-4h0m-4-3h0m-2-4h0m0 12h0m-4-7h0m0-5h0m-165 27h0m3-1h0m1 0h0m2 3h0m9-2h0m5 0h0m151-2h0m2-4h0m1 6h0m3-3h0m4 1h0m1-4h0m1 2h0m1-1h0m1-5h0m3-1h0m0 9h0m3-4h0m6 6h0m5-2h0m9-2h0m1 6h0m1-5h0m3-4h0m5 8h0m2-11h0m0 4h0m3 2h0m14 4h0m6-12h0m1 8h0m0-7h0m1 12h0m7-10h0m4 9h0m4 0h0m1-1h0m0-2h0m1-2h0m1 0h0m3 1h0m3-1h0m0 4h0m1-9h0m16 9h0m1 1h0m3-12h0m18 0h0m4 12h0m4-10h0m5 3h0m2-2h0m1-3h0m21 7h0m11-6h0m3 2h0m1 7h0m3-6h0m0 8h0m1-4h0m7 4h0m12-3h0m9 1h0m16 0h0m12 17h0m-4-3h0m-2-2h0m-10 2h0m-1-5h0m-2-1h0m-4 4h0m-8-3h0m-12 4h0m-7-8h0m-1 2h0m-3 5h0m-1 0h0m-1-2h0m-2-5h0m-2 10h0m-2-10h0m-11 12h0m-3 2h0m-18-6h0m-14 3h0m-15-11h0m-36 7h0m0-6h0m-10 6h0m-1 1h0m-2-6h0m-4 12h0m-1 0h0m-5-11h0m-3-3h0m-5 6h0m-7-6h0m-6 5h0m-8 5h0m-9-4h0m-2 3h0m-5-9h0m-8 1h0m-14 2h0m-3 5h0m-3-3h0m-1-1h0m-2 9h0m-107 0h0m-4-1h0m-5-2h0m-1-4h0m-1 1h0m-1 4h0m0-5h0m-1 7h0m-2-7h0m0 7h0m-3-3h0m0 2h0m-2-9h0m-3 9h0m0-1h0m-1 1h0m-1-10h0m-2 1h0m-2 9h0m0-8h0m-2 3h0m-1 1h0m-1 3h0m-1-4h0m-2 5h0m-1-9h0m-1 6h0m0-1h0m-1 4h0m-1-1h0m0-2h0m-2 3h0m0-5h0m0-3h0m-2-1h0m0 8h0m-3-5h0m0 4h0m-2-4h0m-1 3h0m-1-8h0m-1 8h0m-1-4h0m-3-5h0m-3 2h0m0 3h0m-2-1h0m31 12h0m1 0h0m1 0h0m4-1h0m16 0h0m9 3h0m14-1h0m7 0h0m18 1h0m40 4h0m25 1h0m22-1h0m0-5h0m3 8h0m5-1h0m1-7h0m6 2h0m3 9h0m0-6h0m8-1h0m36 6h0m5 0h0m35-1h0m2-2h0m12 3h0m20-6h0m6 8h0m2-7h0m13 2h0m1-1h0m3 6h0m3-8h0m11 2h0m1 1h0m27-7h0m5 1h0m1 3h0m0-2h0m6 1h0m3-4h0m1 11h0m1-6h0m8 1h0m13 0h0m3 1h0m-2 21h0m-10-9h0m-16 9h0m-15-10h0m-38-1h0m-37-1h0m-20 3h0m-16-4h0m-5 1h0m-26 2h0m-47-1h0m-10-2h0m-3 10h0m-13-8h0m-1-1h0m140 27h0m6-14h0m14 13h0m10-5h0m12 6h0m8-14h0m2 11h0m10-1h0m21-6h0m30 1h0m-21 22h0m-18 1h0m-5-3h0m-8-4h0m-43-4h0m-1 8h0m-25-6h0m99 19h0m75 25h0m18 6h0m58 19h0m-19 1h0m-11-1h0m-14-1h0m-12 1h0m-7-8h0m5 13h0m5 10h0m0-11h0m3 3h0m1-5h0m1 12h0m0-2h0m2 4h0m4-14h0m6 0h0m3 4h0m6-2h0m2 6h0m4-3h0m7 2h0m1-5h0m0 4h0m5 8h0m2-9h0m0 4h0m8 5h0m3 9h0m-1-5h0m-7 7h0m-7 1h0m-6-7h0m-7-3h0m-1 6h0m-7-5h0m-4 5h0m0-5h0m-3 1h0m30 14h0m30 102h0m5 0h0m-3 9h0m-4-3h0m-8 9h0m-1-3h0m-2-9h0"/>
<path stroke="#8dcb97" d="M525 1469h0m-38 14h0m36-3h0m11 0h0m15 4h0m13-3h0m33 13h0m-14 0h0m-1-8h0m-3 9h0m-3 1h0m-1-7h0m-17-2h0m-3 8h0m-6 1h0m0 2h0m-13-8h0m-10-3h0m-22 4h0m13 21h0m13-7h0m15 7h0m2-5h0m9-7h0m12 9h0m11 4h0m1 1h0m6-12h0m3 4h0m1-2h0m5 3h0m12-6h0m2 6h0m25 7h0m8 10h0m-6 2h0m-5-7h0m-6-2h0m0 8h0m-21-8h0m-38-1h0m-1 7h0m-8 5h0m-8-2h0m-6-10h0m-5 11h0m-99 16h0m33-8h0m34-4h0m40 3h0m3 1h0m23 8h0m26-4h0m12 5h0m3 0h0m2-10h0m12 1h0m2 6h0m8-6h0m6 4h0m2-4h0m18 6h0m18 3h0m4-3h0m20-2h0m8 3h0m27 17h0m-8-3h0m-3 3h0m-7-3h0m-1-5h0m0-5h0m-4 13h0m-12-1h0m-2-2h0m-1 2h0m-5-11h0m-1 12h0m-26-3h0m-26-5h0m-27-4h0m-3 9h0m-1-7h0m-23 9h0m-8-4h0m-13-4h0m-8 6h0m0-1h0m-2-4h0m-55 13h0m66-2h0m0 4h0m2 5h0m0-5h0m5-3h0m1 4h0m11 2h0m5 3h0m6-2h0m4 0h0m1-1h0m7-4h0m3 5h0m7-3h0m2 1h0m5-3h0m3 2h0m5 3h0m11-3h0m9 4h0m10-4h0m6-2h0m2 8h0m1-8h0m0-1h0m1 3h0m5-6h0m35 3h0m2 5h0m2 1h0m4-4h0m8 1h0m7-6h0m0 9h0m4-1h0m2 0h0m19 5h0m2-6h0m3-7h0m1 7h0m5-1h0m5 5h0m5 12h0m-9-3h0m-4-3h0m0 8h0m-2-9h0m-8 2h0m-5 6h0m-14-8h0m-5 4h0m-3-6h0m0 3h0m-9-1h0m-10-2h0m-9 11h0m0 1h0m-7-3h0m-2-6h0m-9 2h0m-8 6h0m-4-6h0m-3-5h0m0 7h0m-1-6h0m-1 12h0m-9-7h0m-6-2h0m-5-4h0m-7 12h0m-5-1h0m-2-11h0m-2 14h0m-4-13h0m-3 9h0m-6-5h0m-18 8h0m-3-1h0m-1 0h0m-46 2h0m-8-6h0m-15-7h0m-18 3h0m-60 0h0m36 21h0m42-3h0m47 3h0m11 1h0m2 1h0m1-7h0m6 1h0m2 8h0m11-13h0m7 6h0m7-5h0m14 5h0m9-2h0m6 0h0m16 9h0m7-1h0m4-9h0m0 3h0m11-4h0m6-3h0m13 3h0m2 6h0m11-1h0m16 1h0m11-6h0m3 7h0m4-10h0m4 13h0m19-9h0m0 1h0m6 8h0m0 11h0m-3 4h0m-3-13h0m-1 0h0m-84 14h0m-1-12h0m-21 10h0m-14-9h0m-2 1h0m-8 1h0m-21 6h0m-2 0h0m-4 3h0m-4-13h0m-3 12h0m-2-4h0m-11-5h0m-15 3h0m-17-7h0m-30 14h0m-21-11h0m-5-3h0m-9 12h0m-29-7h0m-49-1h0m-5-2h0m129 17h0m1 1h0m12 6h0m1-6h0m53 1h0m1 4h0m9 0h0m8-7h0m6-1h0m4 8h0m1-5h0m17 2h0m9 4h0m2-10h0m2 0h0m11 11h0m6-2h0m6-3h0m2-6h0m2-1h0m8 12h0m6 0h0m8-9h0m3 2h0m1 8h0m1-7h0m3-2h0m7 6h0m1-9h0m23 13h0m14-14h0m11 10h0m-1 9h0m0 4h0m-4 5h0m-1-7h0m-2 6h0m-4-4h0m-87-5h0m-6-2h0m0 4h0m-3-1h0m-1 4h0m-16 1h0m-135 13h0m17-6h0m7 4h0m19 0h0m13 0h0m20 4h0m5 1h0m16-7h0m27 10h0m10-9h0m1-4h0m22 6h0m1-3h0m16-2h0m12 8h0m11-7h0m25 9h0m0-2h0m5 5h0m9-11h0m7 9h0m0-1h0m1-2h0m6-8h0m0 13h0m1-5h0m2-6h0m-12 16h0m-17 8h0m-14-11h0m-1 3h0m-3 4h0m-1 0h0m-8-6h0m-14 5h0m-8 4h0m-4-11h0m-42 0h0m-14 3h0m-5 5h0m-7 2h0m-83-2h0m4 7h0m43 0h0m66 11h0m3-3h0m8 1h0m7 4h0m4-7h0m1 1h0m11 0h0m11 4h0m11-3h0m1-7h0m1 11h0m8-5h0m0-6h0m38 25h0m-39-6h0m-8-5h0m-64 1h0m-41 21h0m8-4h0m28 1h0m1 6h0m17-7h0m6-2h0m33 7h0m13-1h0m-36 19h0"/>
<path stroke="#2a9a58" d="M489 1473h0m16 6h0m10-2h0m1-2h0m7 7h0m25 0h0m2 2h0m2-7h0m20 6h0m22 16h0m-3-2h0m0 1h0m-5-10h0m-1 11h0m-5-13h0m0 3h0m-3 2h0m-6-3h0m-6-1h0m0 8h0m-15-9h0m-17 13h0m-24-13h0m17 28h0m3-8h0m16-2h0m3 3h0m14-3h0m6 8h0m5-1h0m7-3h0m0-1h0m3-3h0m5 4h0m4-1h0m17-3h0m4-3h0m10 10h0m5 1h0m2-1h0m14 11h0m-5-4h0m-1 4h0m-1-2h0m0 9h0m-2-13h0m-7-1h0m-19 11h0m-34-3h0m0-6h0m-9 2h0m-5 2h0m-2 7h0m-1-11h0m-8 5h0m-1-2h0m-2 5h0m-10 4h0m-4-7h0m-3 1h0m-1 6h0m-3-8h0m-13-5h0m-1 13h0m-13-14h0m-14 9h0m-42 18h0m84-3h0m5-2h0m3-7h0m4 1h0m2 7h0m15 5h0m1-12h0m42 8h0m14-7h0m8-1h0m3 10h0m8-4h0m2 4h0m1-4h0m3-7h0m0 3h0m3 5h0m2-4h0m0 7h0m6-6h0m8 3h0m18-1h0m0 1h0m1-4h0m5 0h0m13 6h0m1-2h0m2 3h0m15 2h0m36 12h0m-15-6h0m-2 1h0m-9 8h0m-6-6h0m-1-3h0m-6-3h0m-11 8h0m-8 5h0m0-5h0m-1-5h0m-9 3h0m-14-1h0m-13 8h0m-15-8h0m-10 3h0m-7-6h0m-1 3h0m-1 1h0m-1-2h0m-1 2h0m-2-6h0m0 13h0m-1-1h0m-6-10h0m-2-3h0m-8 12h0m-4-4h0m-2-4h0m0-2h0m-2 8h0m-2 4h0m-2-5h0m-23-8h0m-7 0h0m-2 10h0m-12-1h0m-11-5h0m-21-5h0m-17 8h0m-27 3h0m-18-6h0m-16 7h0m-19-11h0m32 23h0m7 3h0m18 0h0m6-5h0m12 4h0m1-5h0m26-2h0m2 9h0m24 1h0m20-5h0m16-5h0m9-3h0m3 0h0m9 1h0m7 0h0m3 7h0m1-4h0m23 7h0m3-1h0m1-7h0m3-3h0m0 9h0m8 2h0m15 1h0m4-9h0m9 6h0m28 4h0m1-7h0m7-6h0m9 10h0m5-4h0m4-7h0m6 0h0m20 12h0m3-8h0m8 1h0m9 3h0m5 1h0m1 5h0m-13 7h0m-3-5h0m-25 13h0m-12-10h0m-1 1h0m0-2h0m-9 8h0m-12-3h0m-3 3h0m-12-1h0m-1 1h0m-4-4h0m-9-1h0m-15 0h0m-1-4h0m0 8h0m-5-6h0m-2 0h0m-3 8h0m-4-1h0m-2 2h0m-2-4h0m-6 2h0m-4 2h0m-5-3h0m-3 2h0m0-10h0m-12 6h0m-2 6h0m-1-13h0m-11 3h0m-2-3h0m-1-1h0m-3 6h0m-12 7h0m-16-1h0m-7-3h0m-2 2h0m-10-11h0m-45 12h0m-19-5h0m-33 3h0m-42 19h0m122-11h0m28 11h0m18-10h0m8 4h0m1-8h0m11 9h0m2 2h0m4-6h0m6 4h0m1-5h0m7 7h0m1 2h0m8-5h0m7 6h0m5-11h0m3 3h0m3 4h0m1 4h0m2 0h0m1-12h0m7 0h0m19-2h0m8 0h0m2 9h0m6-7h0m4 1h0m5 3h0m15-1h0m4-1h0m6 3h0m17 3h0m11 3h0m8-5h0m2-8h0m3 0h0m1 7h0m5 4h0m1-7h0m2 9h0m3 1h0m3-7h0m4-6h0m2 0h0m1 7h0m-10 7h0m-7 3h0m-1-2h0m-5 4h0m-1-2h0m-2 9h0m-1-8h0m-2 8h0m-1-7h0m-2 4h0m0-5h0m-4 5h0m-21 4h0m-5-3h0m-3 0h0m-2-3h0m-4 4h0m-1-9h0m-19 6h0m-1 4h0m-5-9h0m-2 10h0m-10 1h0m-2-2h0m-15-8h0m-1 7h0m-2-1h0m-3 1h0m-1 0h0m-3-6h0m-1 2h0m-2 6h0m-3-9h0m-1-1h0m0 9h0m-2-8h0m-1 6h0m-1 2h0m-22-10h0m-13 4h0m-20-5h0m-10 5h0m-25-4h0m-5-1h0m-34 10h0m-4-2h0m-24-7h0m-4 1h0m0 8h0m-52-8h0m35 13h0m1-1h0m49 11h0m14-11h0m16 14h0m33-10h0m22-3h0m25 2h0m1 0h0m1 0h0m1 1h0m9-4h0m3 3h0m12 2h0m8-2h0m8 7h0m4-8h0m3 5h0m0-5h0m3-1h0m3 3h0m2 10h0m3-4h0m17-1h0m1-6h0m2 9h0m1-4h0m6 4h0m2 2h0m4-4h0m0-5h0m1 2h0m2 0h0m7-6h0m0 8h0m3-3h0m2-1h0m10 6h0m3-11h0m7 1h0m2 4h0m21 9h0m12-4h0m3 4h0m2 7h0m-8-3h0m-5-2h0m-10 5h0m-11 3h0m-16-5h0m-2 0h0m-12 0h0m-15 3h0m-4 7h0m-1-8h0m-2 4h0m-4-7h0m0-1h0m-17-2h0m-17 6h0m0 6h0m-3-1h0m-18 3h0m-10-8h0m-1 1h0m-57-5h0m-8-1h0m-18 8h0m-8 3h0m-40-12h0m62 28h0m50-12h0m10 12h0m18-4h0m6 1h0m9 4h0m0-12h0m10 12h0m1-9h0m8-3h0m13-1h0m11 6h0m2 2h0m3-4h0m1 2h0m4 1h0m0-4h0m6 7h0m4-6h0m1 8h0m4-8h0m0 2h0m5-4h0m3 5h0m17-2h0m1 6h0m17-4h0m6 1h0m8 18h0m-15-11h0m-2 11h0m-22 0h0m-1-4h0m-4 4h0m-4-9h0m-21 9h0m-5 1h0m-6-11h0m-10 9h0m-27 1h0m-9-5h0m-6 7h0m-29-11h0m-17 2h0m-7-5h0m-11 14h0m-12-4h0m-1-4h0m-4-2h0m-21 3h0m34 20h0m11-6h0m5-1h0m49 2h0m9 1h0m13 3h0m10-2h0m2-1h0m27-8h0m2 0h0m14 14h0m3-14h0m1 9h0m24-4h0m1-3h0m2 12h0m1-5h0m8-8h0m8 3h0m8 0h0m0-2h0m-14 13h0m-1 13h0m-13-9h0m0 4h0m-6 1h0m-27-5h0m-8 9h0m-36 0h0m20 8h0m2-4h0m31-1h0m7 14h0m-11 0h0m-33 3h0m-10 11h0m-29 132h0m13 1h0m6 0h0m2 7h0m-1-3h0m-14 7h0m-12-1h0m0-5h0m-5 25h0m2-8h0m6-2h0m6 4h0m4 5h0m9-6h0"/>
<path stroke="#f28a2f" d="M527 1468h0m-14 0h0m-30 16h0m7-5h0m5-3h0m3-4h0m0 1h0m12 5h0m2-4h0m2 3h0m8 2h0m8 0h0m1-5h0m7-3h0m2 5h0m17 8h0m3 0h0m23 4h0m-14 6h0m-4 1h0m-9-2h0m-9 2h0m-11 4h0m-11-9h0m-3 4h0m-2 0h0m-7 3h0m-1-5h0m0-1h0m-10 7h0m-2-5h0m-1 3h0m0-10h0m-6 6h0m-7 0h0m-2-4h0m-2 11h0m-4-6h0m-1 6h0m-3 8h0m1-7h0m5 2h0m6 12h0m12-6h0m6-1h0m3 3h0m0-7h0m3 10h0m3-4h0m2 3h0m6-8h0m2-1h0m9 10h0m3 0h0m6-10h0m4 1h0m2-3h0m12 5h0m2 7h0m21-7h0m2 3h0m57 17h0m-3 3h0m-2-4h0m-71-6h0m-1 4h0m-4-5h0m-2 8h0m-1 2h0m-5 0h0m-7-13h0m-2 5h0m-3 4h0m-2-1h0m-1 3h0m-2-1h0m-1 2h0m-4 2h0m-1 0h0m-5-5h0m-1-4h0m-1-1h0m-4-3h0m-1 1h0m-2-2h0m-4 10h0m-2-1h0m-1-5h0m-3 7h0m-3-6h0m-4-5h0m0 13h0m-5-13h0m0 3h0m0 3h0m-44 4h0m-5 0h0m-3 2h0m-26 15h0m10 1h0m19-12h0m1 4h0m4 7h0m0-10h0m13 9h0m4-7h0m25-4h0m6 7h0m7-4h0m3 2h0m4 5h0m1 4h0m2-12h0m11 2h0m8 8h0m7-5h0m1-7h0m1 4h0m1 7h0m0-7h0m0 9h0m4-2h0m1 1h0m2-10h0m7 7h0m3-1h0m6 4h0m9-4h0m21 5h0m5-7h0m2-3h0m5 7h0m8-10h0m1 13h0m4-3h0m12 3h0m7-3h0m3-2h0m35-4h0m14 10h0m37 14h0m-1-10h0m-18 0h0m-15-2h0m-5 13h0m-67 0h0m-5-7h0m-41 5h0m-3-2h0m-1-3h0m-2 1h0m-2 4h0m-11-8h0m-3 10h0m0-10h0m-2-4h0m-4 8h0m-2-5h0m-2 7h0m-1-2h0m-3 1h0m0-6h0m-7 7h0m-7 4h0m0-5h0m-6 4h0m-5-3h0m-6 4h0m-2-1h0m-1-8h0m-8 7h0m0-3h0m-1-9h0m0 13h0m-4-7h0m-1 2h0m0 2h0m-1 0h0m-5-5h0m-2 2h0m-2-4h0m-1 0h0m-1 9h0m-5 0h0m-3-8h0m-5 8h0m-2-6h0m0 3h0m-1-6h0m-2 11h0m-2-6h0m-2-7h0m0 8h0m0-1h0m-2-2h0m-1-2h0m-1 8h0m-2 1h0m-8-1h0m-1-11h0m0 13h0m-8-8h0m-4-5h0m0 8h0m-3 4h0m-3-7h0m-4 6h0m-9-6h0m-7 8h0m-1-1h0m-2 1h0m-1 0h0m-3 1h0m3 8h0m0 4h0m4-3h0m1-2h0m1 7h0m7-1h0m1-9h0m1 8h0m3-7h0m4 4h0m11-7h0m16-2h0m8 13h0m1-13h0m2 13h0m1-2h0m0-2h0m1-7h0m4 2h0m0 9h0m2-1h0m0-11h0m2 1h0m0-1h0m9 4h0m1 7h0m5 2h0m2-13h0m1 5h0m8 3h0m1 5h0m0-5h0m1 4h0m0-10h0m4 8h0m1-7h0m2 10h0m5-9h0m1 7h0m9-7h0m2 2h0m1 4h0m3-7h0m2 0h0m0-2h0m7 0h0m1-1h0m1 11h0m2-6h0m1-2h0m2-4h0m3 7h0m11 4h0m7-5h0m1-4h0m3-2h0m5 11h0m7-1h0m6-6h0m0 7h0m0-10h0m2 7h0m29 6h0m28-1h0m49-13h0m1 6h0m34 0h0m15 2h0m24-7h0m13 27h0m-25-6h0m-8 4h0m-9-6h0m-9-5h0m-12 0h0m-8 10h0m-15 0h0m-4-1h0m-5 3h0m-19 1h0m-3-1h0m-3-7h0m-34 1h0m-8 8h0m-5 0h0m-13-14h0m0 13h0m-3-13h0m0 13h0m-1-9h0m-6 5h0m-1 1h0m-3-10h0m-12 10h0m-2-5h0m-9 3h0m-2 5h0m-7-6h0m-10 1h0m-1-8h0m-1 11h0m-4-5h0m0 2h0m-1-2h0m-2 0h0m-3 8h0m-1-14h0m-1 8h0m-2-5h0m-1 7h0m-3 2h0m-5-9h0m-4 10h0m-1-7h0m-1-4h0m-6 8h0m-4-8h0m-3 1h0m-5 0h0m0 3h0m-2 7h0m-1-2h0m-8 0h0m-8-7h0m0 2h0m-3 4h0m-1 0h0m-2-8h0m-1-2h0m-2 0h0m0 4h0m-2 3h0m-6-4h0m-4 0h0m-2 10h0m0-1h0m-7-10h0m-11-1h0m-3 12h0m-3 0h0m-1-5h0m0-2h0m-3-4h0m-1 6h0m-3-6h0m-9 3h0m-2 8h0m-4-10h0m-4 9h0m2 4h0m12 12h0m4-7h0m4-5h0m0 13h0m7-2h0m14-8h0m3-3h0m2 10h0m1-1h0m6-5h0m18 4h0m0-5h0m2 8h0m4 1h0m3-9h0m3 5h0m3 3h0m2-10h0m2 10h0m1-4h0m3-1h0m0-1h0m8-4h0m3-2h0m1 4h0m1 7h0m0-5h0m0-2h0m1 4h0m1-2h0m2 2h0m2-8h0m2 11h0m1-7h0m11 9h0m4-11h0m1 2h0m2-1h0m2-3h0m3 2h0m2 6h0m2-7h0m6 8h0m1-6h0m1 3h0m0 3h0m1-9h0m5 1h0m3 3h0m3 6h0m4-3h0m1 3h0m12 0h0m1-10h0m5 3h0m5 5h0m9-2h0m9 7h0m4-5h0m5-8h0m7 14h0m3-5h0m3 1h0m11-3h0m26 5h0m2-7h0m0 2h0m18 6h0m7-7h0m4-5h0m14 1h0m0-1h0m2 2h0m31 10h0m18-3h0m7-1h0m7-8h0m2 14h0m-9 0h0m-20 6h0m-37-5h0m-23 13h0m-47-12h0m-10 9h0m-9-11h0m-7 8h0m-3 1h0m-15-3h0m-5 0h0m-1 0h0m-3-5h0m-2 0h0m-11-1h0m0 3h0m-6 6h0m-1-1h0m-1 3h0m-2-5h0m0-1h0m-2 2h0m0-6h0m-2 7h0m-3 6h0m-2-7h0m0-1h0m-4 0h0m-4-3h0m-3 5h0m0-1h0m-1-4h0m-3 11h0m-3-2h0m-9-5h0m-5-1h0m-1 6h0m0-6h0m-3-3h0m-2 10h0m-9-7h0m-3 6h0m-3-10h0m0 7h0m-1-3h0m0-3h0m-3 11h0m-1-2h0m-1-12h0m-1 7h0m-3 5h0m-5-7h0m-1 4h0m0 1h0m-4 1h0m0-7h0m-17-2h0m-5-1h0m-1 3h0m-1 7h0m-5 1h0m-3-1h0m-2-2h0m-1-6h0m-16 0h0m-2 6h0m3 6h0m23 7h0m2 0h0m1 5h0m1 1h0m1-5h0m1 5h0m5-6h0m0 2h0m0-1h0m2 4h0m2-1h0m2 3h0m1-7h0m0-7h0m2 4h0m0 9h0m4-7h0m5 2h0m23-5h0m5 9h0m3-5h0m2 3h0m2-5h0m9 9h0m2-8h0m0 3h0m5-7h0m1 12h0m0-11h0m2 8h0m1-7h0m2 9h0m2-13h0m4 0h0m6 14h0m3-3h0m2 1h0m1-2h0m5 4h0m3-7h0m1 5h0m5-4h0m3-6h0m3 3h0m2-5h0m2 13h0m7-13h0m12 3h0m11 5h0m3 0h0m2 6h0m0-2h0m10 2h0m2-5h0m6 0h0m16-3h0m3-6h0m7 10h0m16-6h0m8-4h0m11 12h0m10-5h0m4-3h0m17 10h0m4-4h0m8-6h0m0 7h0m20-2h0m4 2h0m14 1h0m2 7h0m-62 9h0m-12-8h0m-9 1h0m-23-2h0m-6 7h0m-46 0h0m-3-8h0m-4 3h0m-5-3h0m-3 8h0m-1 0h0m0-1h0m-4-4h0m0 4h0m-2-3h0m-12-1h0m-2-6h0m-13 1h0m-4 2h0m-1-2h0m-4 12h0m0-3h0m-1-9h0m-1 10h0m-1 3h0m-3-1h0m-5 1h0m-2-10h0m0 8h0m-1-7h0m-3 3h0m-3-1h0m-1 7h0m-6-12h0m-4 5h0m-5 2h0m-5-9h0m-1 7h0m-5 1h0m-10 6h0m0-3h0m-8-2h0m-1-1h0m0 1h0m-4-6h0m-1-3h0m-29 0h0m42 15h0m8 2h0m4 2h0m5-3h0m2 2h0m1 11h0m0-4h0m2-4h0m0-2h0m0 9h0m11-9h0m2 10h0m3 0h0m2-12h0m5 4h0m2 0h0m1-2h0m1 10h0m5-3h0m1-5h0m3 5h0m3 2h0m4-2h0m3 1h0m0-6h0m1-1h0m6 0h0m8 3h0m2-3h0m2 4h0m1-8h0m0-1h0m8 11h0m1-2h0m6 2h0m2 0h0m6 1h0m1-12h0m6 11h0m5-3h0m0 2h0m2 1h0m0-6h0m17-1h0m4-3h0m1 12h0m9-10h0m9-2h0m7 2h0m3 7h0m4 4h0m0-1h0m8-1h0m1 0h0m3-3h0m2-5h0m15-3h0m0 3h0m4-4h0m3 13h0m4-9h0m1 9h0m2-2h0m12-8h0m7 9h0m33-6h0m-5 11h0m-11 7h0m-3-3h0m-1-4h0m-3 3h0m0-1h0m-1 8h0m-1-12h0m-1 6h0m-1-3h0m-2 10h0m0-6h0m-6-3h0m0 9h0m-4-6h0m-3 7h0m-9-3h0m-18 2h0m-2-12h0m-5 5h0m-3-6h0m-7 8h0m-5 2h0m-1 1h0m-2 3h0m0-6h0m-1 0h0m-21 0h0m-8 3h0m-4-2h0m-2 2h0m-2-2h0m-8-7h0m0 12h0m-1-6h0m-2-6h0m-3 4h0m-2-6h0m-5 8h0m-5 3h0m-4 2h0m-2-10h0m-1-2h0m-2 5h0m-4 6h0m-1 0h0m-1-1h0m-10-5h0m-6 6h0m-2-11h0m0 13h0m-1-1h0m0-2h0m-1-6h0m-7 2h0m-4-7h0m0 12h0m-4-10h0m-2 3h0m-1 7h0m-4-7h0m-7 6h0m0-1h0m-4 3h0m-11-7h0m-4-5h0m-4 12h0m0-13h0m0 9h0m-4 2h0m-2-6h0m7 22h0m5-12h0m2 4h0m0 9h0m1 1h0m2-3h0m0-11h0m1 10h0m1-2h0m1 6h0m2-1h0m2-9h0m1-4h0m0 9h0m7-5h0m1 1h0m1-5h0m0 2h0m3 0h0m3 12h0m0-14h0m0 13h0m1-4h0m2-9h0m1 7h0m0 1h0m3-7h0m6-1h0m1 4h0m2 0h0m4 9h0m5-13h0m5 0h0m5 8h0m6 6h0m1-7h0m8 1h0m1-8h0m0 3h0m7-2h0m1-1h0m4 14h0m1-9h0m11-2h0m6 3h0m3 6h0m4-11h0m2 10h0m6-4h0m1 3h0m1 4h0m5-9h0m1 5h0m2 0h0m4-7h0m5 1h0m3-1h0m3-2h0m2 1h0m3 5h0m9 2h0m2-1h0m6 3h0m1-3h0m5 4h0m11-9h0m9 10h0m4-9h0m2 1h0m9 8h0m0-7h0m5 1h0m0 7h0m7-7h0m5 1h0m1-8h0m-6 15h0m-2 1h0m-1 1h0m-1 1h0m-3-2h0m-2 6h0m-2 7h0m-3-3h0m-3-7h0m0 9h0m-13 1h0m-12-8h0m-40 2h0m-12 5h0m-2-5h0m-5 5h0m-1-9h0m-4 10h0m-3-6h0m-12-5h0m-17 11h0m-3-9h0m-12-1h0m-9 4h0m-6 0h0m-4-5h0m-3-2h0m-3 13h0m0-1h0m-2-2h0m-11-8h0m-3 2h0m-6-4h0m-6 2h0m-27 8h0m-10 16h0m2-9h0m77 1h0m2 3h0m4 1h0m6-1h0m0-3h0m10 2h0m1 0h0m3-1h0m7 0h0m0 4h0m1 2h0m2-2h0m3-7h0m1 8h0m2 3h0m1-4h0m3 5h0m0-14h0m12 5h0m1 1h0m4-4h0m10 2h0m7 1h0m9 9h0m7 0h0m1-14h0m8 14h0m5-14h0m4 7h0m4 0h0m1 7h0m1 0h0m3 0h0m3-10h0m4 8h0m2-9h0m1 9h0m2 0h0m1-7h0m-19 11h0m-17 0h0m-2 1h0m-1 1h0m-5 2h0m-2 2h0m-4-1h0m-5-2h0m0 7h0m-3-7h0m0 2h0m-1 7h0m-3 1h0m-6-12h0m-2 12h0m-1-12h0m-3 11h0m0-10h0m-142 1h0m-17 25h0m155-4h0m7-10h0m17 0h0m2 3h0m-15 12h0m-11 8h0m-4-8h0m-4 10h0m-9 17h0m15-10h0m-14 18h0m-1 3h0m-1 80h0m2-9h0m6 3h0m1 0h0m2 6h0m4-10h0m8 22h0m0-7h0m-2 5h0m-4 2h0m-1-3h0m-3 6h0m-2-7h0m-3-3h0m-4 4h0m-3-3h0m-2 10h0m-2-3h0m-5-1h0m-35 6h0m4 6h0m1-6h0m0 12h0m6-10h0m12 5h0m6 6h0m6-11h0m8 2h0m4 4h0m3 1h0m1 1h0m6 4h0m-4 4h0m-2 0h0m-1-1h0m-10-3h0m-1 10h0m-1-4h0m-1-2h0m-3-3h0m-2 0h0m-3 4h0m-16-5h0m-5 3h0m-6 1h0m-4 2h0m25 10h0"/>
<path stroke="#6849a4" d="M492 1484h0m24-9h0m29-2h0m3 9h0m14 4h0m-3-1h0m-32 9h0m-26-9h0m-15 7h0m-243 202h0m21-4h0m126 17h0m-82-6h0m-50 2h0m-6 5h0m0-5h0m23 20h0m4-2h0m111-4h0m24 2h0m8-2h0m4 3h0m10 2h0m22 17h0m-2-1h0m-42-6h0m-7 7h0m-4-1h0m-6-6h0m-24 3h0m-11-3h0m-1-7h0m-10 8h0m-1 6h0m-1-4h0m-9-1h0m-1 1h0m-7-2h0m-30 6h0m-8-13h0m-10 1h0m-8 12h0m-24 0h0m-167 12h0m6 2h0m155 0h0m8-10h0m2 4h0m4-7h0m3 11h0m9-4h0m10 5h0m5 1h0m9-5h0m11-6h0m12 4h0m4 4h0m9 1h0m2-2h0m1-8h0m3 0h0m10-1h0m11 3h0m4 11h0m4-3h0m2-8h0m10 10h0m0-5h0m24-3h0m14 6h0m21-1h0m20 1h0m2-9h0m4 7h0m27 5h0m13 9h0m-2 2h0m-2-3h0m-2 1h0m-1 5h0m-3-7h0m-3 1h0m-1 4h0m-1-4h0m-5 7h0m-5-9h0m-1 8h0m-7 0h0m-1-8h0m-3-5h0m-1 11h0m-1-7h0m-2 6h0m-7-4h0m-3-4h0m-3 4h0m-2 0h0m-24-5h0m-9 11h0m-5-2h0m-22-7h0m-12-3h0m-13 8h0m-20-3h0m-1-2h0m-11 7h0m-5-4h0m-1-1h0m-4 4h0m-8-8h0m-6 11h0m-3-10h0m-6 3h0m-10-5h0m-1 3h0m-10 9h0m-7-4h0m-3 1h0m0-3h0m-7 5h0m-4 2h0m-1-10h0m-2 3h0m-3 5h0m-143-11h0m-16 10h0m-7-3h0m97 13h0m59 7h0m3-10h0m3 10h0m10 1h0m1-12h0m5 13h0m2-8h0m9-6h0m3 9h0m6-6h0m4 0h0m3 1h0m2 10h0m4-4h0m13 3h0m5 1h0m9-6h0m1-3h0m5-2h0m2 8h0m6-11h0m6 10h0m2-10h0m3 3h0m6 5h0m3-3h0m5-3h0m4 1h0m1 6h0m2 2h0m1-1h0m1 3h0m1-8h0m1-1h0m5 2h0m0 4h0m2 1h0m0 1h0m1-11h0m1 5h0m2-1h0m6 1h0m0 8h0m6-2h0m1 0h0m3-8h0m14 8h0m5 1h0m1-3h0m0-5h0m5 2h0m1 7h0m2-4h0m1-9h0m7 3h0m5-3h0m4 8h0m1 3h0m2 2h0m8-11h0m3-3h0m1 2h0m2 7h0m2-6h0m9 4h0m0 4h0m2-6h0m1-5h0m1 11h0m2-1h0m5 3h0m5 1h0m1-12h0m6 11h0m1-5h0m10-5h0m2 3h0m0 8h0m2-8h0m1-5h0m1 3h0m3 6h0m-10 13h0m-5-1h0m-2 2h0m0 3h0m-1-2h0m-8-8h0m-1-2h0m-3 1h0m-14 6h0m-4 5h0m0-4h0m-1 6h0m-2-2h0m-4 2h0m-8-5h0m-1 3h0m-5-4h0m-2-2h0m-3 4h0m0-3h0m-1 5h0m-3-5h0m-3 4h0m-2 0h0m0-1h0m-5-3h0m-3-5h0m-3-1h0m-2 6h0m0-1h0m-13 2h0m-2 5h0m0-5h0m-2-2h0m-1 1h0m-4-5h0m-2 2h0m-4 5h0m-2-5h0m-1 8h0m-6-2h0m-6-6h0m-2 6h0m0-2h0m-1-6h0m-3 11h0m-3-3h0m-1-6h0m-4 5h0m-5-9h0m-2 8h0m-6-3h0m-9 0h0m-5 4h0m0 2h0m-30-9h0m-19 11h0m0-11h0m-1 8h0m-1 1h0m-4-9h0m-2 11h0m-3-4h0m0-6h0m-2 2h0m-2 8h0m0-10h0m-7 4h0m-2-1h0m-3 0h0m-1-2h0m0 6h0m-2 0h0m0 3h0m-1-5h0m-6 6h0m-5-11h0m-2 1h0m-2 9h0m-3-5h0m-5-1h0m-1 1h0m9 13h0m2 2h0m15-2h0m1-4h0m5 1h0m1 2h0m5-4h0m0 4h0m6-5h0m1 1h0m3 0h0m49 0h0m6 4h0m2-1h0m2 2h0m12-2h0m11 10h0m3-10h0m8 4h0m1 4h0m2-6h0m3-3h0m4 2h0m2-2h0m5 7h0m3-7h0m1 1h0m3 9h0m2-2h0m3-6h0m7-5h0m1 12h0m2-4h0m5-4h0m1 4h0m3-8h0m0 6h0m3-3h0m1 4h0m0-4h0m2-3h0m2 5h0m0 7h0m1-12h0m1 12h0m0-12h0m1 14h0m0-9h0m1 2h0m0-2h0m1 1h0m4-1h0m1-4h0m2 12h0m1-9h0m3 4h0m0-7h0m1 2h0m14 1h0m1 2h0m8 0h0m7-3h0m12 8h0m5-2h0m3-3h0m2 1h0m2-4h0m0 4h0m0 3h0m2-8h0m2 9h0m-12 11h0m-2 2h0m-2-3h0m-1-2h0m-1-1h0m-4 9h0m-2-2h0m-7-8h0m-4 9h0m-3 1h0m-1-6h0m-1 1h0m-2 6h0m-6-4h0m-3-3h0m0 3h0m-1-4h0m-3 7h0m-1-1h0m-1-4h0m-4 4h0m-3-1h0m-1-6h0m-5 3h0m-2-2h0m-3-2h0m0-2h0m-4 5h0m-1-3h0m-6 4h0m0-6h0m-3 3h0m0-4h0m-3 13h0m-4-7h0m-2-4h0m-2 4h0m-6 0h0m-2-5h0m-10 0h0m0-1h0m-1 3h0m-14-1h0m60 27h0m1-8h0m2-4h0m0 10h0m3-9h0m3 7h0m1-9h0m1 3h0m4 7h0m0-6h0m11 8h0m2-4h0m2-8h0m2 3h0m1 0h0m3-1h0m4-2h0m1 3h0m1-1h0m3 6h0m15-8h0m1 5h0m-20 12h0m-16 1h0m-2-2h0m0 4h0m0 2h0m-7-5h0m-12-2h0m-4-1h0m0 1h0m135 19h0m22 22h0m-15-7h0m25 16h0m2-2h0m-14 12h0m72 118h0m3 6h0m-10 0h0m2 11h0"/>
<path stroke="#e0603f" d="M491 1483h0m10-9h0m6-1h0m10 4h0m22-2h0m52 24h0m-10-11h0m-8-1h0m-27 5h0m-12 4h0m-21-7h0m-9 2h0m-8-6h0m-16 12h0m-9 17h0m2-5h0m5 2h0m20-11h0m1 8h0m4-8h0m41 14h0m6-12h0m45 1h0m28 9h0m-44 7h0m-44 1h0m-20 7h0m-2-1h0m-8 0h0m-5-3h0m-25-5h0m-1 7h0m-13-3h0m-3 5h0m-6-5h0m-11 4h0m-3 16h0m15 2h0m36-2h0m6-11h0m6 13h0m9-12h0m1 11h0m20-12h0m2 11h0m3-1h0m63 2h0m22-2h0m86 14h0m-99-3h0m-21 1h0m-15 0h0m-6 6h0m-3 0h0m-4 0h0m-8-6h0m-21-5h0m-41-2h0m-8 10h0m-6-1h0m-26-4h0m-3-5h0m-1 7h0m-8 1h0m-18-5h0m-11 3h0m-3 2h0m14 20h0m3-3h0m4-5h0m2 3h0m8 3h0m13-7h0m1-3h0m12 0h0m17 7h0m0-6h0m4 2h0m2-5h0m14 7h0m2 2h0m14-4h0m4 9h0m4-14h0m8 10h0m10-1h0m0-6h0m0-3h0m5 8h0m11-8h0m3 10h0m9-6h0m14 0h0m9 4h0m39 1h0m5-8h0m8 8h0m83-7h0m28 18h0m-78 5h0m-5-9h0m-8 12h0m0-7h0m-11 5h0m-48 2h0m-48-12h0m-16 10h0m-8-11h0m-11 8h0m0 6h0m-2-7h0m-1 5h0m-6-11h0m-11 12h0m-13-2h0m-8 0h0m-6-5h0m-3 6h0m-8-10h0m-1-1h0m-12 7h0m-2-3h0m-14 8h0m0-8h0m-5 6h0m-1-3h0m-5-7h0m-5 5h0m-2 5h0m-10 3h0m-3-2h0m0-10h0m12 19h0m3-5h0m21 3h0m6-4h0m1 12h0m13-6h0m15-4h0m7 12h0m2-2h0m5 2h0m1-2h0m8-9h0m21-2h0m1 12h0m21-8h0m6 2h0m0 6h0m7-2h0m3-6h0m8 0h0m13 3h0m6-5h0m12 5h0m6 2h0m4-7h0m30 11h0m13-10h0m16 0h0m96 0h0m7-4h0m16 19h0m-25-4h0m-4 7h0m-41 7h0m-45-6h0m-9 5h0m-18-4h0m-20-4h0m-19-5h0m-6 14h0m-1-10h0m-5-2h0m-12 7h0m-11-5h0m-12 7h0m-5-9h0m-8 2h0m-2 0h0m0 3h0m-4 1h0m-1 3h0m-15-7h0m0 3h0m-4-1h0m-5-5h0m-3 11h0m0-10h0m-1 5h0m-7-7h0m-13 10h0m-13 1h0m-4-10h0m-18 2h0m-13 2h0m-16 1h0m0-2h0m33 12h0m0 8h0m14-9h0m10 14h0m1-6h0m7 3h0m4-10h0m1 7h0m9 2h0m19 1h0m1-11h0m0 12h0m1-6h0m4 2h0m3 6h0m22-4h0m8-4h0m0-1h0m9 3h0m2-2h0m12 5h0m8-8h0m2 11h0m23-11h0m25 7h0m45-1h0m1-9h0m23 5h0m41-2h0m1 3h0m0 4h0m-26 5h0m-37 4h0m-7 1h0m-48 1h0m-10-3h0m-5 2h0m-9 8h0m-3-6h0m-3 0h0m-12-3h0m0 8h0m-9-7h0m-3 8h0m-9 1h0m-6-10h0m-6 7h0m-16-10h0m-13 8h0m-9-5h0m-9-3h0m4 14h0m9 9h0m27-8h0m11 12h0m22-9h0m16-3h0m1 7h0m3-7h0m6 9h0m8-1h0m4 5h0m15-2h0m3-6h0m1 6h0m36-12h0m3 9h0m3 2h0m62 1h0m34 5h0m-10 11h0m-23-11h0m-7 8h0m-15-8h0m0 12h0m-6-8h0m-10-6h0m-5 9h0m-4-8h0m-9 11h0m-38-7h0m-7-5h0m-1 11h0m-8-11h0m-13 3h0m-25 4h0m-4 7h0m-5-10h0m-6 6h0m-21 1h0m-2-6h0m-6 2h0m-1-3h0m-3 5h0m-16-6h0m18 18h0m9 4h0m9-9h0m10 12h0m10-7h0m36-1h0m13-3h0m1 1h0m6 5h0m2-8h0m4 1h0m0 4h0m14 6h0m8-1h0m1 3h0m18-4h0m20 2h0m4 1h0m3 0h0m5-5h0m9-2h0m22-2h0m6-3h0m16 6h0m-49 18h0m-20 0h0m-4-9h0m-25 5h0m-10 1h0m-65 8h0m-41-14h0m49 17h0m17 10h0m2-1h0m24-9h0m5 0h0m0-1h0m9 12h0m0-3h0m5-10h0m2 3h0m3 7h0m0-1h0m16-7h0m6 6h0m7-8h0m9 3h0m9 2h0m15 7h0m12-9h0m-63 22h0m-38-10h0m-128 5h0m135 34h0m-4 5h0m4 3h0m-12 14h0m-77 70h0m-12 13h0m92-5h0m6 7h0m1 0h0m12 12h0m-1-8h0m-7 13h0m-21-5h0m-5 1h0m-14 3h0m-20 1h0m-28-4h0m19 10h0m8-3h0m8 0h0m5 8h0m1-2h0m4 6h0m5-7h0m3-4h0m5-2h0m15 11h0m1 1h0m8-6h0m-23 18h0m-1 0h0m0-3h0m-1 6h0m-4-4h0m-3 0h0m-4 4h0m-1-6h0m-2 4h0m-15-1h0m-4-3h0m-2-2h0m27 13h0"/>
<path stroke="#93287f" d="M511 1469h0m-13 2h0m16 11h0m16-5h0m33 18h0m-5-2h0m-40-4h0m-3-2h0m-29-1h0m-2 7h0m-2-1h0m-3 4h0m-4 10h0m37-5h0m5 1h0m43-2h0m-286 179h0m-30 5h0m3 9h0m3-1h0m4 2h0m1-4h0m3-2h0m0-4h0m3-1h0m6-2h0m4 0h0m9 5h0m0 7h0m1-1h0m10-4h0m5-1h0m11 6h0m1 0h0m3-1h0m1 1h0m88 14h0m-5 2h0m0-1h0m-4 0h0m-5 0h0m-1-1h0m-3 0h0m-7-2h0m-44-1h0m-2-2h0m-1 0h0m0-2h0m-1 4h0m-3-7h0m-4 0h0m-4 0h0m-12-2h0m-3 6h0m-1-6h0m-1 11h0m-1 1h0m0-7h0m-6-2h0m0-3h0m-4 9h0m0-1h0m-10 3h0m-7-1h0m-4 3h0m-7-13h0m0 10h0m-3 3h0m-2-12h0m-3 7h0m-5-7h0m-6 3h0m-1 6h0m-1 7h0m2 3h0m0-5h0m4 0h0m1 2h0m1 7h0m3-5h0m1 4h0m2-4h0m0-2h0m4 11h0m0-7h0m2 7h0m2-5h0m1 2h0m3 1h0m0-10h0m7 10h0m0-5h0m0 4h0m0-3h0m9 3h0m7 0h0m0-4h0m7 3h0m1 2h0m0-1h0m16 0h0m6 0h0m7-6h0m6 8h0m2 0h0m0-11h0m3 3h0m1 0h0m5 5h0m2-4h0m1 3h0m0-3h0m3 2h0m8 1h0m1 4h0m3 1h0m5 0h0m16-6h0m5-6h0m2 8h0m1-3h0m5 2h0m2-5h0m2 0h0m5 9h0m5-6h0m1 3h0m1-5h0m15 5h0m2-8h0m5 4h0m3 4h0m2 0h0m8-2h0m6 2h0m5 2h0m1 12h0m-9-1h0m-3-4h0m-1 8h0m-23 1h0m-7-9h0m-7 0h0m-1 8h0m-2-10h0m-2-1h0m-1 3h0m-1 10h0m-3-2h0m-2 1h0m-14-6h0m-5 3h0m0 3h0m-8-7h0m-8 5h0m-1 2h0m-4-5h0m0 2h0m-1-2h0m-2 1h0m-7 5h0m-1-12h0m-1 7h0m0-7h0m-10 6h0m-2-2h0m-7 5h0m-6 3h0m-5-1h0m-2 1h0m-10-4h0m-2 4h0m-4-4h0m-1-1h0m-1-6h0m-4 5h0m0-5h0m-1 10h0m0-11h0m-2 9h0m-4-7h0m-1 5h0m0 3h0m0-10h0m-1 13h0m-1-2h0m0-1h0m-1-5h0m-6 7h0m0-5h0m-1 6h0m0-5h0m-9-6h0m-4 5h0m-7 0h0m-4-6h0m-2 5h0m-166 21h0m0 1h0m8-3h0m11 1h0m6 2h0m156-11h0m1 1h0m1 1h0m3-4h0m2 13h0m1-9h0m0 9h0m8-7h0m3-7h0m1 6h0m3 7h0m2-9h0m2 6h0m4-9h0m4 10h0m2-8h0m7-1h0m1-2h0m4 3h0m0 9h0m0-5h0m7-2h0m2-4h0m3-1h0m3 5h0m4 3h0m19 5h0m0-10h0m0 9h0m4-8h0m1 7h0m4-4h0m0 2h0m3 2h0m1-8h0m0 3h0m2 5h0m2-4h0m1-5h0m2 7h0m1-9h0m0 9h0m1 2h0m4 3h0m7-2h0m1-6h0m18-6h0m16 3h0m5 6h0m9 4h0m7-1h0m5-8h0m2-2h0m0 9h0m2-5h0m6 6h0m2 1h0m6-13h0m0 13h0m2-11h0m2 9h0m3-1h0m1-1h0m7-8h0m7 8h0m5 1h0m2-2h0m2 5h0m12 10h0m-8-6h0m-23 5h0m0-6h0m0 4h0m-8 1h0m0 4h0m-2-1h0m-2 2h0m-2-4h0m0 2h0m-1-1h0m-2 0h0m-1-8h0m-3 1h0m-1 4h0m0-2h0m-7 5h0m-9 0h0m-9-3h0m-8 7h0m-37 0h0m-23-5h0m-11 4h0m-2-8h0m-2 8h0m-6-4h0m-3 2h0m-3-3h0m0-6h0m-1 10h0m0-3h0m-1 7h0m-2-4h0m-11-4h0m0-6h0m-6 0h0m-5 9h0m-1 5h0m-5-8h0m-28 8h0m-1-1h0m-8 0h0m-1-12h0m-5 5h0m-7 6h0m-118 0h0m-3 2h0m0-7h0m0 4h0m-4-2h0m-1 1h0m0-6h0m0 7h0m-6-7h0m0 2h0m-1-5h0m0 4h0m-1 3h0m-1-2h0m0-5h0m-1 6h0m-1 0h0m-1 1h0m-4 3h0m-2 1h0m0-1h0m0-5h0m0 7h0m-1-12h0m-2 7h0m-4-3h0m0 6h0m-2-10h0m-2 4h0m-2 4h0m-1 0h0m-7-4h0m-1-3h0m0 1h0m-2-3h0m38 15h0m13 2h0m0-2h0m6 4h0m3 1h0m0-2h0m4 3h0m1-3h0m15-1h0m3 0h0m0-1h0m1 2h0m6 1h0m12 0h0m4-3h0m5 3h0m17 1h0m5 5h0m5-4h0m30-3h0m13 7h0m1-5h0m2-1h0m0 3h0m7-2h0m20 7h0m30 1h0m3-2h0m3-4h0m3-7h0m20 4h0m13-1h0m24 1h0m22-3h0m5 5h0m16-1h0m23 3h0m2-4h0m5-1h0m4-1h0m2 4h0m1-5h0m12 0h0m3 4h0m2-4h0m11 6h0m11-7h0m3 0h0m7 18h0m-2 5h0m-11-6h0m-4 7h0m-7-9h0m-14 14h0m-93-5h0m-4-9h0m-57 1h0m0-1h0m-38 14h0m-25-2h0m-22 1h0m29 6h0m113 3h0m34 0h0m3 5h0m7-11h0m8 0h0m2 11h0m12-6h0m8-6h0m16 3h0m27 18h0m-22-5h0m-11 9h0m-3-8h0m15 26h0m100 25h0m2-7h0m52 24h0m-43-1h0m-7 3h0m-9 1h0m-1-3h0m3 10h0m3 1h0m2-1h0m3-3h0m2 3h0m6 6h0m4-10h0m4 4h0m1 7h0m1 2h0m2-4h0m0 4h0m1-13h0m2 7h0m4-2h0m3 4h0m1-10h0m1 11h0m16-1h0m4-1h0m4 12h0m-3 3h0m-31-4h0m-2-5h0m-2 2h0m-4 8h0m-8-10h0m58 118h0m1 1h0m14-1h0m0-1h0m3 11h0m-3 0h0m-2 3h0m-2-1h0m0-5h0m0-5h0m-3 6h0m-1-4h0m0-2h0m-4 2h0m-2 9h0m0-7h0m-2-4h0m-1 13h0m5 3h0m2 3h0m3-1h0m2 1h0m4-2h0"/>
<path stroke="#8dcb97" d="M527 1469h0m10 15h0m6-7h0m0 3h0m7-6h0m6 4h0m2 2h0m11 2h0m6 0h0m33 15h0m-51-5h0m-4-4h0m-2 10h0m-3 1h0m-2-8h0m-6 7h0m-8 0h0m-11-9h0m-13 3h0m-4 4h0m7 16h0m30 0h0m4-2h0m13-8h0m1 10h0m8-4h0m10 5h0m16-3h0m19-5h0m3 4h0m9 3h0m3-1h0m19 17h0m-5-11h0m-15 6h0m-2-8h0m-20 7h0m-18-4h0m-6 2h0m-20 2h0m-10 5h0m-7-5h0m-3 6h0m-6-2h0m-7-9h0m-1 3h0m-13 0h0m-89 24h0m108-12h0m11 1h0m4 1h0m14-4h0m26 5h0m7 9h0m13-3h0m1 0h0m12 3h0m1-13h0m2 4h0m0 3h0m6-5h0m8 11h0m1-10h0m4 6h0m4-7h0m6 7h0m6-9h0m6 7h0m2 4h0m9-6h0m20 4h0m3-2h0m36 19h0m-2-5h0m-18-2h0m-2 9h0m-7-10h0m-5 9h0m-4-6h0m-24-1h0m-2-2h0m-21 5h0m-13-5h0m-3 10h0m-4-4h0m0 3h0m-7-12h0m-4 7h0m-14 1h0m-1-9h0m-2 8h0m-1 4h0m-33-12h0m-4 5h0m-3 0h0m-3 3h0m-6-4h0m-4 0h0m-15 0h0m-26 10h0m-90 0h0m0 2h0m20 10h0m54 1h0m6-9h0m50 0h0m21 0h0m18 11h0m18-3h0m3-10h0m13-1h0m2 4h0m2 9h0m11-10h0m1 5h0m8-1h0m3 2h0m19-2h0m11-2h0m1-3h0m8-1h0m4 6h0m17 2h0m4-6h0m19 11h0m2-14h0m1 8h0m3 6h0m8-13h0m4 3h0m7 4h0m2 4h0m9-6h0m1 4h0m2-3h0m9 6h0m2-5h0m3 12h0m-12 1h0m-3 8h0m0-1h0m-4-6h0m-1 7h0m-7-13h0m0 12h0m-18-6h0m0-6h0m-1-1h0m-4 14h0m-10-6h0m-6 3h0m-11 2h0m-2-12h0m-8 13h0m-32-13h0m0 3h0m-1 1h0m-2 5h0m0 3h0m-5-13h0m0 13h0m-11-6h0m-3-6h0m-30 0h0m-6 12h0m-1 0h0m-11-12h0m-2 3h0m-16 7h0m-7-8h0m-56 2h0m-58 8h0m-8-7h0m-12 3h0m37 13h0m75 0h0m20 5h0m20-11h0m13 0h0m18 2h0m1 2h0m4 6h0m1-6h0m9 2h0m3-3h0m16 5h0m5-6h0m1-1h0m3-2h0m31 9h0m2-7h0m5 7h0m6-2h0m8-7h0m3 9h0m9-1h0m4-1h0m2-4h0m11 10h0m8-7h0m7-1h0m7-1h0m20-4h0m3 25h0m-2-8h0m-3-2h0m-14 6h0m-5 3h0m-35 0h0m-18 3h0m-10-4h0m0 3h0m-2-3h0m-1-2h0m-7 7h0m-3-12h0m-17 0h0m-1 7h0m-24 0h0m-1-3h0m-3-2h0m-4 2h0m-18-3h0m-27 2h0m-21-4h0m-30 3h0m-12 20h0m21 1h0m38 3h0m30-3h0m8 3h0m8-8h0m5-1h0m3 9h0m37-1h0m4-4h0m1 4h0m1-4h0m11-3h0m2 5h0m5 4h0m4-5h0m2 6h0m0-1h0m6-10h0m8 0h0m1 3h0m3 6h0m1-12h0m7 9h0m5-8h0m5 3h0m6 6h0m4-2h0m19 3h0m15 9h0m-8-2h0m-2 10h0m-10 0h0m-19-2h0m-13 1h0m-7 0h0m-2-4h0m-1-4h0m-13 7h0m-1-7h0m-1-2h0m-12 7h0m-7-9h0m-1 13h0m-35 1h0m-63-10h0m-6-2h0m-2 0h0m-13 6h0m-11-8h0m-43 16h0m21 1h0m29 10h0m15-7h0m19 4h0m24-9h0m18 13h0m1 0h0m19-10h0m24 4h0m2-7h0m12 2h0m5 3h0m5 8h0m9-2h0m8-7h0m10 4h0m2-2h0m4 4h0m1-1h0m1-4h0m41-5h0m2 6h0m-7 19h0m-12-1h0m-1-6h0m-10 8h0m-2-10h0m-24 6h0m-9 6h0m-11 1h0m-2-5h0m-5-1h0m-2-3h0m-49 2h0m-29 6h0m-7 0h0m-35-11h0m-19 17h0m2 7h0m3-9h0m101 11h0m13-10h0m20 6h0m8 1h0m23-9h0m20 1h0m5 1h0m8 8h0m8-9h0m4 3h0m-8 16h0m-15 7h0m-21-4h0m-6 2h0m-64 3h0m-62 6h0m56 7h0m23-10h0m21-1h0m9 7h0m10 0h0m3 0h0m21 0h0m-45 15h0m-32-8h0m-17 53h0"/>
</g>
<g transform="scale(0.2)" stroke-width="5.75" stroke-linecap="round" fill="none">
<path stroke="#5cc0a4" d="M748 1555h0m-1 2h0m-16-7h0m-16 14h0m8 2h0m2 1h0m1 5h0m5-5h0m5-5h0m1 7h0m1-8h0m0 9h0m0 2h0m2 2h0m2-5h0m1 4h0m1-4h0m1-1h0m7 6h0m4-13h0m7 13h0m2-8h0m0 6h0m1-2h0m0-5h0m1-5h0m0 4h0m1-3h0m1 13h0m0-6h0m3-1h0m1 6h0m1-6h0m1 1h0m2 5h0m2-1h0m1-3h0m1 5h0m1-2h0m0 2h0m2 10h0m-4 4h0m-2-3h0m-3-4h0m-2 8h0m-3-8h0m-1 2h0m0-6h0m-1 4h0m-1-3h0m0 11h0m-2-5h0m-2-2h0m-1 7h0m-2-8h0m-1-4h0m-4 11h0m0-12h0m0 4h0m-13-3h0m-2 12h0m-3-7h0m-5 7h0m-5-9h0m-32 16h0m16-3h0m2 6h0m5-7h0m6 6h0m16 1h0m5-9h0m4 6h0m2-3h0m0 6h0m5-4h0m2 3h0m1-5h0m1-3h0m1 12h0m2-12h0m5 0h0m1 11h0m1-1h0m2 3h0m2 1h0m0-1h0m1 1h0m3-7h0m3-3h0m0 1h0m1-4h0m1-1h0m4 13h0m-3 4h0m0 2h0m-3-4h0m-1 0h0m-10 6h0m0-3h0m-3-2h0m-2 6h0m-3 2h0m0-6h0m0 2h0m-1-2h0m-2 9h0m-3 0h0m-1-5h0m-2-3h0m0 4h0m0 1h0m-3 2h0m-2-5h0m-21 2h0m-7-7h0m-6 13h0m0-3h0m-1-9h0m0 4h0m-4 6h0m-20 1h0m-11 3h0m27-1h0m6 5h0m2 6h0m1-6h0m0 5h0m8-7h0m1 3h0m4-3h0m4 10h0m1-7h0m6 8h0m11 0h0m1-3h0m0-7h0m0-1h0m2-1h0m22 9h0m6-11h0m4 10h0m6 9h0m-14-3h0m-10 5h0m-7 5h0m-33-7h0m-18-4h0m-2 9h0m-14-6h0m-2 1h0m22 24h0m34-4h0"/>
<path stroke="#3cae78" d="M622 1629h0m22 20h0m-5 12h0m2 0h0m7-1h0m6-6h0m1 9h0m2 1h0m3 0h0m34-3h0m1 3h0m11 12h0m-3-1h0m-8-2h0m-30 4h0m-7-3h0m-2-2h0m-1-3h0m-5 10h0m0-12h0m-1 6h0m-3 3h0m-5-3h0m-7 2h0m-8-7h0m-6 10h0m-22 7h0m16 3h0m2 0h0m16 5h0m1-7h0m5-6h0m4 9h0m0 5h0m4-12h0m1 8h0m1-2h0m6-7h0m0 2h0m2 5h0m0-5h0m1 0h0m6 9h0m3 1h0m1-5h0m1 3h0m1-3h0m0 3h0m2 1h0m1 1h0m4-7h0m0 4h0m3-1h0m4 1h0m3-4h0m9 0h0m6-1h0m1-3h0m0 6h0m20 4h0m-11 16h0m-16-5h0m-12 6h0m-1-9h0m-3 3h0m-3-8h0m-1 13h0m0-6h0m-3-2h0m-3 2h0m-1-2h0m-31 9h0m-24-6h0m-7-2h0m-62 2h0m-12 19h0m3-10h0m5 4h0m73 1h0m7-4h0m3 4h0m0-3h0m2 3h0m8-1h0m1 0h0m3-1h0m5 7h0m2-7h0m0-1h0m1 7h0m2-2h0m5-5h0m1 4h0m0 2h0m1-1h0m2-6h0m2-1h0m3 10h0m0 2h0m2-13h0m6 4h0m1 1h0m0 2h0m0-5h0m2 10h0m1-7h0m1-4h0m4 2h0m1 2h0m0-3h0m5 6h0m6-4h0m8-3h0m2 12h0m6-7h0m6 1h0m2 0h0m-6 10h0m-5 2h0m-10 5h0m0 2h0m-1-8h0m-1-1h0m-2 3h0m-2-3h0m-1 8h0m-2-7h0m-1 5h0m-1-4h0m-1 9h0m-4 0h0m-1-12h0m-2 0h0m-3-2h0m-4 0h0m-136 4h0m-12 15h0m3 1h0m157 5h0m1-8h0m11-1h0m-11 14h0m-7 5h0m-4 3h0m-1-4h0m-3-4h0m-3 3h0m-1 8h0m-1-5h0m-147-6h0m141 23h0m-1 12h0m-1 3h0m-2-7h0"/>
<path stroke="#d7488f" d="M458 1739h0m-7 13h0m10-10h0m2 9h0m10 0h0m13-1h0m5 4h0m1-5h0m7 4h0m9 16h0m-6-6h0m-2-1h0m0-7h0m-3 2h0m0 11h0m-3-11h0m0 4h0m-1 4h0m-3 1h0m-1-2h0m-3-6h0m-7 2h0m-1 8h0m-5-3h0m-2 3h0m0-6h0m-1-2h0m-3 1h0m0 2h0m-1 3h0m-3-5h0m-1 2h0m-1 1h0m-3-7h0m-1 5h0m0 2h0m0-3h0m-1 0h0m0 2h0m-1-8h0m-1 8h0m0-8h0m0 2h0m-2 5h0m-3-2h0m-2-5h0m-2 10h0m-20 19h0m7-2h0m0-3h0m9 3h0m2-3h0m2 4h0m0-1h0m2-10h0m0 12h0m5-6h0m2-4h0m1-1h0m4 0h0m3 6h0m3-3h0m5-4h0m1 5h0m1 4h0m2-6h0m1-5h0m1 4h0m0 7h0m2-1h0m0-3h0m3-2h0m1 0h0m1-4h0m4 5h0m1 8h0m1-12h0m6 5h0m1 1h0m0-7h0m1 5h0m8 5h0m1-8h0m2 4h0m1 4h0m1-5h0m1 2h0m1-4h0m2 14h0m-1 5h0m-11-6h0m-3 3h0m-1 7h0m0-12h0m-3 6h0m0-5h0m-7-1h0m-3 1h0m-8 13h0m-1-4h0m0-5h0m-5 2h0m0-5h0m-3 2h0m-1 4h0m0 4h0m-1 2h0m0-7h0m-6 7h0m-9-2h0m-1-10h0m-4 11h0m-2-7h0m0 2h0m-2 5h0m-1-3h0m0-3h0m-1 5h0m-3-9h0m0 4h0m-3 4h0m-2-1h0m0 1h0m-2-8h0m-1-3h0m-3 7h0m-7-1h0m-21 21h0m8-2h0m9 3h0m2-10h0m0-3h0m5 8h0m2-7h0m0 6h0m2-7h0m2 14h0m1-14h0m1 0h0m1 5h0m1 3h0m0-3h0m1 1h0m1 6h0m4-11h0m3 3h0m1-4h0m0 6h0m2 2h0m0-7h0m1 2h0m1 3h0m4 5h0m0-5h0m2-4h0m15 0h0m1 1h0m4 8h0m3-8h0m3 2h0m12 7h0m15-7h0m-16 19h0m-2-3h0m-1-3h0m0 1h0m-2 2h0m-3 6h0m-2-2h0m-4-9h0m-3 8h0m0-7h0m-4 9h0m-2 2h0m-1-1h0m-1-6h0m0 4h0m-1-3h0m-2 3h0m0-8h0m-1 10h0m-4-5h0m-4 2h0m0-1h0m-6-1h0m-3-5h0m-1 9h0m-3-3h0m-1-4h0m0-4h0m-1 7h0m-6 6h0m-6-9h0m-1 2h0m-1-3h0m-5-2h0m-1 6h0m0-6h0m-6 0h0m-4 5h0m-2-4h0m21 22h0m5 3h0m2-10h0m5 9h0m2 3h0m0-13h0m1 3h0m4 1h0m0 6h0m5-4h0m6 6h0m1-6h0m1-5h0m2-1h0m2 3h0m1 0h0m3-1h0m5 1h0m2-1h0m2 6h0m1 4h0m7-5h0m3 0h0m4-7h0m-19 17h0m-18-1h0m-7 1h0m-1 2h0m-15-4h0"/>
<path stroke="#5cc2b8" d="M576 1869h0m2-8h0m73 12h0m1-9h0m1 0h0m0-1h0m5 8h0m1 0h0m1-4h0m5 5h0m2-1h0m4 1h0m3 13h0m0-7h0m-2-2h0m-1-1h0m-3 10h0m-3-10h0m-1 13h0m-1-5h0m-1-2h0m-2-4h0m0-1h0m-1 11h0m-1-4h0m-3-1h0m-7 4h0m-2-4h0m-3 1h0m0 2h0m-1-5h0m-9 5h0m-2 2h0m-5 2h0m-2-2h0m-9 2h0m-11-1h0m-7-3h0m-10-1h0m-5 5h0m0-2h0m-2 0h0m-2 1h0m-2-4h0m-4 3h0m-1-7h0m-1 5h0m6 8h0m2 2h0m7-5h0m1 12h0m2-2h0m1 1h0m1 1h0m2-12h0m1 1h0m4 5h0m0-1h0m1-5h0m1 4h0m1 5h0m1 2h0m1-10h0m2 13h0m0-6h0m1-5h0m1 0h0m1-2h0m0 1h0m1-1h0m1 7h0m2-7h0m1-1h0m1 5h0m1 8h0m2-1h0m3-9h0m1 4h0m0-1h0m1-4h0m0 11h0m0-7h0m5 2h0m0 6h0m1-11h0m2-1h0m2 6h0m6 6h0m5-5h0m6 1h0m1-10h0m1 10h0m0 2h0m8-2h0m1 1h0m5 1h0m2-9h0m2 2h0m1 0h0m-4 10h0m-4 4h0m-1-4h0m-1 4h0m-1-1h0m-5 2h0m-2 5h0m-1 1h0m-2-11h0m-1 10h0m-5-9h0m0 4h0m-2-1h0m-1 4h0m-1-6h0m-1 4h0m0-1h0m-2 4h0m-1-3h0m0 3h0m-3 1h0m-1-5h0m-3-5h0m-3 13h0m-2-1h0m-1-6h0m0-6h0m-2 10h0m-1-6h0m-8 0h0m-2 3h0m-1 2h0m-4-4h0m-1-5h0m-2 6h0m-1-4h0m0 6h0m-1-4h0m-2-1h0m-1 7h0m-8-10h0m-2 1h0m40 16h0m8-2h0"/>
<path stroke="#3a50a4" d="M506 1499h0m20 22h0m0-1h0m-3 0h0m-8 7h0m-2-10h0m0 9h0m0-10h0m-51 9h0m36 19h0m6-3h0m0-10h0m1-1h0m2 5h0m4 5h0m12-10h0m2 8h0m2 1h0m11 0h0m2-2h0m14 1h0m7 2h0m9 3h0m19 12h0m-1 4h0m-1-6h0m-14 4h0m-4-5h0m-3 7h0m-3 0h0m-3-9h0m-6 6h0m-4-9h0m-3 1h0m-1 6h0m-1 1h0m0-2h0m-1 6h0m0-6h0m-2 2h0m-1-7h0m-2 10h0m-5-3h0m-2 0h0m-1-5h0m-1-2h0m-1 5h0m-2 6h0m0-5h0m-11 1h0m-6 4h0m-5-2h0m0-1h0m-4-5h0m-2 6h0m-5-12h0m-1 8h0m0-6h0m-3-1h0m-1 10h0m-6 1h0m-1-4h0m-11-1h0m1 9h0m8 11h0m8-3h0m1-3h0m0-5h0m1 5h0m0 6h0m2-5h0m6 2h0m2 3h0m2-10h0m0 2h0m1-4h0m4 14h0m5-9h0m1 7h0m2-7h0m0-1h0m2 9h0m2-2h0m1-2h0m5 2h0m3-8h0m2 2h0m0-3h0m1 8h0m10 4h0m1-10h0m5 3h0m2-5h0m1 4h0m4 6h0m3-12h0m2 8h0m2 1h0m5-7h0m2 2h0m0-2h0m0 4h0m4 3h0m4 4h0m1-9h0m4 6h0m2-8h0m2 12h0m7-2h0m23 17h0m-4 0h0m-13-3h0m-5-5h0m0-5h0m-2 11h0m-1-1h0m-2-11h0m-8 9h0m-5 2h0m-1-6h0m-2 0h0m-4-2h0m-2 10h0m-1-5h0m0-5h0m0 9h0m-2 1h0m-3 1h0m-2-5h0m-1-8h0m-1 10h0m0-4h0m-6 2h0m-3 0h0m0 1h0m-1-2h0m0-8h0m-1 11h0m-1-7h0m-1 7h0m-1-4h0m-1 4h0m-1 3h0m-1-8h0m-4 5h0m-1-10h0m-2 7h0m-2-8h0m-4 0h0m0 12h0m-2-5h0m-1-2h0m-1 3h0m-1-5h0m-4 10h0m0-10h0m-1 3h0m-1 2h0m-3-3h0m-3 0h0m0 3h0m-1 4h0m0-6h0m-2-1h0m-1-3h0m-3 11h0m0-10h0m-1 9h0m-6 1h0m-1-2h0m-1-9h0m-7 6h0m-1-7h0m-1 12h0m0-2h0m-3 0h0m-3-5h0m-6 7h0m-3 16h0m6-4h0m0-8h0m3 11h0m2-9h0m2 9h0m2-1h0m5-2h0m1-1h0m1-3h0m5 6h0m1-4h0m1-5h0m1 6h0m1-2h0m5-3h0m2 5h0m1-7h0m0 12h0m4-8h0m1 5h0m0-9h0m1 6h0m0 1h0m1-2h0m0-1h0m2 2h0m2-7h0m0-1h0m0 8h0m1 5h0m3 0h0m1-12h0m4 13h0m1-11h0m1 3h0m7-4h0m3 1h0m0 4h0m1-2h0m4-3h0m1 5h0m0 2h0m1 2h0m2 1h0m0-11h0m5 10h0m0 2h0m2-10h0m1 3h0m0-1h0m0 4h0m6 5h0m5-11h0m4 10h0m3-9h0m3 4h0m7 5h0m2-5h0m2 3h0m7-3h0m-8 14h0m-2-7h0m-2 0h0m-4 5h0m-6 1h0m0-1h0m-2-3h0m-2-2h0m-9 6h0m0-5h0m0-1h0m-2 12h0m-2-9h0m-3 5h0m-1-5h0m-5-1h0m-5-1h0m-2 13h0m0-10h0m-4 0h0m0 7h0m-1 0h0m-1-1h0m-4-1h0m-5-2h0m-3 1h0m0-1h0m0-7h0m-2 9h0m0-5h0m-1-1h0m-3 3h0m-2-6h0m-3 10h0m-3-8h0m0 9h0m-2 1h0m-2-12h0m0 9h0m-3 3h0m-1-12h0m-3 8h0m-2 1h0m0 3h0m0-2h0m-8 0h0m0 1h0m-11 0h0m-2-4h0m0-5h0m-2-1h0m-3 0h0m-10 13h0m7 8h0m2 6h0m11-2h0m1 3h0m2-7h0m1 3h0m7-6h0m0-1h0m0-2h0m3 7h0m0-1h0m1 2h0m7-3h0m0 3h0m1 1h0m7-3h0m0 4h0m6-3h0m6 3h0m1-11h0m2 1h0m2 9h0m1-2h0m1-3h0m2 0h0m0 9h0m9-8h0m0 8h0m0-5h0m6-6h0m3 6h0m0-5h0m2 9h0m0-8h0m1-1h0m1 6h0m6-10h0m3 8h0m6-7h0m22 8h0m-24 10h0m-5 8h0m-3-1h0m-7-9h0m-1 0h0m-3 7h0m-2 0h0m-1-8h0m-1 5h0m-3-5h0m-2 8h0m-6-2h0m-1 2h0m-1 2h0m-4-1h0m-5 0h0m-3-1h0m-1 5h0m-1-5h0m-2-8h0m-2 7h0m-3-3h0m0 4h0m-1 0h0m-3-5h0m-6-4h0m19 16h0m9 1h0m0 3h0m6-4h0m2 2h0m3 3h0m0 7h0m7-3h0m3-9h0m1 3h0m2 10h0m2-13h0m3 1h0m13 3h0m10-2h0"/>
<path stroke="#2a9a40" d="M594 1553h0m-7 16h0m16 2h0m2-9h0m0 2h0m5 1h0m1 6h0m11-3h0m1 5h0m7-3h0m1-1h0m24 2h0m7 2h0m6 14h0m-6-6h0m-1 4h0m0 2h0m0-10h0m-3 6h0m-4-4h0m-1 7h0m-2-11h0m-5 14h0m0-5h0m-1 4h0m-1-1h0m-5-1h0m-3 1h0m-3-3h0m0 4h0m-2-7h0m-3 4h0m-6-5h0m-2 9h0m-3-12h0m-3 1h0m-9 10h0m-1 0h0m-2-13h0m0 8h0m-1 4h0m-1 0h0m-1 1h0m-1-9h0m-1-3h0m-1-1h0m-2 6h0m-3-2h0m-2-3h0m-21 2h0m-35 25h0m42-1h0m3-2h0m1-1h0m7-8h0m8 12h0m2 0h0m1-2h0m5-1h0m1 0h0m3-9h0m0 2h0m1 6h0m4-8h0m0-1h0m0 6h0m2 7h0m2 0h0m1 0h0m1-5h0m1-3h0m3 0h0m2-2h0m2 11h0m0-12h0m3-2h0m8 14h0m1-4h0m2-3h0m0-1h0m3 4h0m1 4h0m4-5h0m2 4h0m1 0h0m6-3h0m0-7h0m4-3h0m2 3h0m10-3h0m8 0h0m35 9h0m-37 19h0m-4 0h0m-4-2h0m-14-1h0m-8 1h0m-1 0h0m-1 2h0m-3-8h0m0-1h0m-1 8h0m0-3h0m-1-2h0m-1-4h0m0 8h0m-3-5h0m-8 5h0m-2 0h0m0-3h0m-8-2h0m-2-2h0m-1-2h0m0 11h0m-2-12h0m0 8h0m-4-5h0m-1-2h0m-3 3h0m-3 8h0m-2-7h0m-1 0h0m-2-6h0m-1 14h0m-1-10h0m-1-3h0m-2 10h0m-2-7h0m0-4h0m0 2h0m-1 7h0m-1 5h0m-5-11h0m-1-2h0m-4 8h0m-2-1h0m-7 0h0m-3 6h0m-2-8h0m0 20h0m1-6h0m3 5h0m1-6h0m2-4h0m5 7h0m8-3h0m6-4h0m2 13h0m7-13h0m12 3h0m5 0h0m2 3h0m1 4h0m1-7h0m0 6h0m2-1h0m2 4h0m1-4h0m2 4h0m0 2h0m1-4h0m6 1h0m0-8h0m0 9h0m2-9h0m1-1h0m0 9h0m1-1h0m2 2h0m0-3h0m0 4h0m1-3h0m1-8h0m3 7h0m1 1h0m0-5h0m1 0h0m6 6h0m2-1h0m6-4h0m3 1h0m2-5h0m6 6h0m0-7h0m15-1h0m0 4h0m7 0h0m1-4h0m3 3h0m10-3h0m-23 16h0m0 4h0m-1 5h0m-1-6h0m-1 1h0m-1-5h0m-1 7h0m-2 7h0m-5-2h0m-2 2h0m-7-8h0m-3 5h0m-6 3h0m-16-13h0m-5 10h0m-1-5h0m-2 5h0m-1-3h0m-6-7h0m-5 2h0m-1 6h0m-3 2h0m0-1h0m-4 3h0m-3-3h0m-7-1h0m-1 2h0m-5-11h0m-3 4h0m0 8h0m-5-10h0m-1 6h0m-3 6h0m-3-1h0m-6-13h0m-2 1h0m-5 0h0m-7 3h0m7 23h0m11-3h0m10-5h0m12 1h0m1-4h0m2-1h0m3 10h0m3 4h0m2-4h0m5-3h0m1 2h0m2 0h0m1 2h0m3 2h0m0 1h0m2-14h0m2 0h0m1 6h0m2 2h0m0-7h0m1-1h0m0 13h0m1-7h0m1 3h0m0 2h0m5-7h0m0 4h0m0 2h0m1 2h0m1-7h0m0-5h0m0 4h0m1 5h0m0-3h0m1 6h0m2 1h0m7-5h0m2-4h0m3 5h0m0-7h0m1 2h0m3-3h0m4 3h0m7-1h0m4-1h0m7 2h0m2 7h0m25 4h0m-44 11h0m-4-2h0m-8-4h0m0 4h0m-4 5h0m-3-14h0m0 2h0m-5 8h0m0-10h0m-4 0h0m-1 8h0m-3-5h0m-9-2h0m-18 5h0m-10 7h0m31 7h0m2-2h0m37-2h0"/>
<path stroke="#3aa860" d="M572 1612h0m-16 7h0m-8 12h0m17-2h0m3 3h0m2-1h0m3-1h0m0-1h0m5 3h0m8-10h0m3 3h0m23 20h0m-1 3h0m-15-3h0m-14 3h0m-2-6h0m-8 4h0m0 3h0m-1 0h0m-3-1h0m-5 1h0m-6-6h0m-2-6h0m-1 5h0m-1 3h0m0 4h0m-3-5h0m-1 4h0m-7-5h0m0 4h0m-11-6h0m-10-2h0m-5 11h0m4 4h0m8 4h0m8 2h0m2-6h0m0 9h0m1-4h0m2 3h0m1-11h0m4 4h0m1 0h0m3 6h0m3-4h0m1 7h0m5-5h0m2-4h0m3-4h0m0 3h0m1 2h0m1 2h0m2-2h0m2 7h0m0-5h0m1-2h0m4 8h0m1-6h0m7-3h0m1 4h0m4-1h0m3-3h0m8 3h0m5-7h0m1 11h0m8-3h0m1-8h0m18 12h0m5 4h0m-11 1h0m-9 8h0m-7-8h0m-6 2h0m-3 7h0m-1-6h0m-3-1h0m0-5h0m-2 8h0m-2 3h0m-7 3h0m0-14h0m-1 2h0m-1 10h0m-2-9h0m-2 2h0m-3 3h0m-3 2h0m-1-4h0m-4 8h0m-1-3h0m-3-10h0m-1 10h0m0 3h0m-2-11h0m0 2h0m-4 7h0m-1-8h0m-1 3h0m-1-3h0m-1 2h0m-3 2h0m-2-7h0m-4 12h0m-9-10h0m9 12h0m3 5h0m2 5h0m1-10h0m2 11h0m0 2h0m1-7h0m3 4h0m1 1h0m1 3h0m1-1h0m4-13h0m2 4h0m0 2h0m5-4h0m1 3h0m0-4h0m0 9h0m1-8h0m0 6h0m3-6h0m1-2h0m2 14h0m3-1h0m6-6h0m2 7h0m1-1h0m1-13h0m1 4h0m0 2h0m2 2h0m4 5h0m21 1h0m9-6h0m8-7h0m10 6h0m-34 11h0m-13-2h0m-3 12h0m-2-5h0m-1 1h0m0 2h0m-10-8h0m-3 6h0m-6-8h0m-3 2h0m33 17h0m11 2h0m13 0h0m3 5h0"/>
<path stroke="#7a4ea6" d="M281 1678h0m-38 16h0m7-2h0m1 1h0m3 1h0m13-13h0m4 0h0m1-1h0m8 13h0m0-7h0m0 2h0m2-6h0m1 8h0m4 3h0m1-3h0m0-5h0m3 7h0m2 2h0m3-7h0m1 0h0m3-3h0m7 9h0m3-5h0m1 4h0m1 1h0m2-1h0m6 2h0m9 8h0m-1-2h0m0 2h0m-4 3h0m-1-10h0m-3 2h0m0-1h0m-5 5h0m-6 5h0m-5-3h0m0-8h0m-3 14h0m0-8h0m-3 2h0m0 4h0m-5 2h0m-1-11h0m0-3h0m-4 9h0m0-1h0m-5-6h0m-2 7h0m0 4h0m-10-12h0m-7 12h0m-5-3h0m-3 0h0m-1-9h0m-3 7h0m-5-7h0m-8 16h0m2 3h0m1 3h0m2-2h0m1-6h0m1 4h0m1 5h0m3-7h0m0 2h0m1 4h0m2-4h0m4 2h0m0 2h0m4 0h0m1-7h0m3 0h0m0 10h0m4 0h0m3 0h0m0-4h0m3 6h0m2-10h0m4 10h0m7-7h0m5 4h0m3 1h0m2-8h0m9 9h0m6-7h0m7-1h0m5 0h0m8-3h0m4 6h0m6 9h0m-8 2h0m0-3h0m-2 7h0m-5-2h0m-4 5h0m-6 3h0m-5-1h0m0 1h0m-2 0h0m-12 0h0m-3-4h0m-1-7h0m-1-1h0m-3 4h0m0 4h0m-2-2h0m0-5h0m-1-1h0m0 11h0m0-5h0m-2 3h0m-2-1h0m-1-7h0m-1 1h0m-1 5h0m0-7h0m-2 11h0m0-1h0m-1-5h0m-6 2h0m-10-5h0m-1 1h0m-2 1h0m-1 3h0m0-8h0m-1 7h0m-10-2h0m0-5h0m-3 3h0m6 25h0m5-7h0m5-6h0m0 3h0m7-1h0m1 3h0m2-4h0m2 6h0m1-1h0m3 1h0m3-7h0m1 6h0m4 4h0m9-4h0m0 2h0m2 1h0m0 2h0m1-3h0m1-5h0m6 10h0m2-13h0m0 2h0m0 4h0m2-4h0m0 3h0m2-2h0m0 9h0m12-12h0m12 17h0m-19 4h0m-6-6h0m-11 3h0m-12 3h0"/>
<path stroke="#a3204e" d="M395 1709h0m-4-1h0m-1-1h0m-4 1h0m-4-1h0m-3-3h0m-4 1h0m-8 3h0m-36-4h0m0 18h0m2 0h0m3-8h0m5 7h0m3-6h0m1 9h0m11-4h0m1 2h0m1-2h0m2 3h0m5 0h0m16-6h0m5-6h0m1 10h0m1-2h0m0 4h0m2-6h0m4 1h0m1-6h0m1 7h0m0-5h0m2-1h0m4 0h0m1 9h0m5-6h0m1 3h0m3-3h0m2 3h0m1-6h0m7 4h0m5-6h0m3 9h0m2-7h0m5 6h0m14 0h0m5 2h0m1 12h0m-9-1h0m-3-4h0m-31 4h0m0-4h0m-8 8h0m-4-11h0m-1 9h0m0-6h0m-1 10h0m-3-6h0m0 4h0m-1-9h0m-9 6h0m-11 1h0m-1 3h0m-7-7h0m-2 5h0m-4-3h0m-1-7h0m-2 12h0m-4 0h0m0-5h0m-5 6h0m-1-3h0m-4 3h0m-1-12h0m-1 7h0m-1-8h0m0 4h0m-2 5h0m-6-2h0m-1-4h0m-7 11h0m-2 6h0m6 8h0m2-2h0m2-2h0m1-8h0m2 2h0m5-3h0m3 12h0m2-5h0m0-1h0m0-3h0m1 0h0m0 4h0m3 1h0m3-1h0m0 4h0m2-4h0m0 1h0m0 3h0m3 0h0m1-5h0m0-3h0m2 8h0m1-6h0m0 9h0m1-7h0m1-5h0m2 7h0m4 2h0m8-3h0m14-8h0m8 2h0m5 3h0m3-5h0m11 9h0m18 1h0m3-9h0m2 1h0m1 1h0m1 3h0m0 4h0m11 2h0m2-1h0m1-11h0m0 13h0m7-3h0m-13 7h0m-2 5h0m-3-1h0m-16 6h0m-3 2h0m-1-7h0m-4-2h0m-9 7h0m-3-9h0m-6 3h0m-18-3h0m0-3h0m-9 12h0m-2-8h0m-1-4h0m-10 8h0m-3 0h0m0 4h0m-14-8h0m-4 7h0m-2-8h0m-1 0h0m-6 4h0m-1 1h0m0-1h0m-6-1h0m0-5h0m0 6h0m-2 7h0m-2-9h0m-2-2h0m-3 25h0m3-8h0m5-2h0m1-3h0m5 12h0m2-12h0m5 3h0m3 3h0m3-3h0m2 1h0m6-4h0m5 7h0m1 6h0m4-10h0m1 6h0m3 1h0m2-5h0m1-1h0m4 5h0m1-3h0m0 4h0m2 2h0m2-6h0m2 6h0m0-7h0m2 9h0m3-5h0m1 5h0m6-2h0m1 0h0m3-8h0m5-1h0m4-2h0m1 13h0m2-7h0m2-4h0m6 2h0m4 4h0m4 1h0m1-9h0m3 8h0m0-3h0m4-2h0m7 16h0m-20-3h0m-1-1h0m-2 6h0m-15 1h0m-3-4h0m-1 5h0m-4 2h0m-1-7h0m-2-4h0m0 2h0m0 5h0m-5-2h0m-6 5h0m-3-9h0m0 7h0m-1 3h0m-2-7h0m0-3h0m-2 7h0m-1-3h0m-3-4h0m-2 0h0m-1 9h0m-5-1h0m-3-9h0m-2 1h0m0 4h0m-8-1h0m-23 0h0m2 12h0m4 0h0m4 3h0m14 0h0m8 8h0m3 2h0m3-10h0m8 4h0m1 4h0m2-6h0m2-4h0m1 1h0m2 4h0m1-5h0m3 1h0m9 1h0m3 9h0m1-11h0m1 9h0m0-5h0m9 4h0m2 2h0m2 1h0m0-13h0m3 7h0m2-3h0m4 2h0m-10 11h0m-11 2h0m-4 0h0m0-3h0m-10-1h0m-10 3h0"/>
<path stroke="#8cc890" d="M766 1619h0m-8-12h0m-40 5h0m-19 4h0m-29 6h0m8 12h0m16-2h0m4-9h0m3 9h0m2-11h0m3 7h0m11-1h0m9 5h0m1-6h0m3 2h0m8 5h0m1-12h0m1 7h0m2 2h0m11-4h0m0 4h0m1-2h0m3 4h0m6-4h0m2-6h0m8 9h0m1 0h0m12 0h0m1 3h0m-1 14h0m-5-10h0m-2 1h0m0 4h0m-11 5h0m-15-10h0m-16 1h0m-1 8h0m0-12h0m-5 2h0m0 4h0m-2 6h0m-2-4h0m0-8h0m-2 14h0m-2-8h0m-8 7h0m-2-2h0m0-8h0m-1 1h0m-2 3h0m-3-1h0m-1 8h0m-1-8h0m-5 7h0m-1-10h0m0-1h0m-8 11h0m-9-5h0m-17 12h0m16-4h0m7 6h0m2-7h0m1 10h0m11-1h0m3-8h0m1 5h0m1-1h0m3 3h0m4-5h0m3-1h0m4 11h0m4-6h0m0-2h0m3-5h0m0 2h0m1 9h0m1-8h0m4 2h0m5 3h0m0-1h0m2-1h0m4 5h0m1-3h0m2-4h0m2 2h0m0-3h0m1 9h0m2-3h0m14 5h0m7-5h0m0 2h0m0 1h0m7 2h0m1-4h0m2-7h0m1 5h0m3-8h0m2 7h0m0-1h0m-5 11h0m-2 8h0m-3-8h0m-2-1h0m-4 8h0m-3 0h0m0 4h0m0-7h0m-2 0h0m-2-5h0m0 4h0m-1 7h0m-2-6h0m0 8h0m-1-11h0m-2 4h0m0 6h0m-1-2h0m0-5h0m-5 6h0m0 1h0m-1-6h0m-3-6h0m0 6h0m-3 7h0m0-12h0m-5 10h0m-2-2h0m-1-5h0m0 8h0m-1-2h0m-2-6h0m-3 2h0m-6-5h0m-2 0h0m-1 5h0m0 6h0m-2-6h0m-2 6h0m-4 1h0m-3-4h0m0-3h0m0-1h0m-1 3h0m0 3h0m-2-12h0m-2 10h0m-1 3h0m-1-5h0m-2-3h0m-1 3h0m-3-7h0m-3 10h0m-2 3h0m-3-7h0m-1 4h0m0 2h0m-14-13h0m-9 26h0m2-1h0m6 4h0m4-6h0m4-5h0m1 3h0m1 1h0m4 3h0m3-6h0m0-3h0m4 6h0m2-6h0m5 6h0m4-7h0m0 11h0m1-8h0m4 3h0m1 5h0m4 1h0m1-4h0m2 3h0m0-7h0m2 10h0m2-2h0m1-4h0m0-1h0m1 2h0m2-8h0m0 6h0m4-6h0m2 0h0m0 4h0m3-2h0m2-2h0m7 12h0m4-9h0m1-2h0m3 0h0m2 6h0m0-5h0m0-1h0m5 11h0m0-7h0m1-3h0m0-3h0m0 1h0m2 6h0m3 4h0m3-7h0m5-2h0m1 7h0m2-7h0m0 2h0m0 2h0m0 2h0m-7 8h0m-1 1h0m-4 9h0m-2-5h0m0 1h0m0-7h0m-1 13h0m-3-10h0m-1 8h0m-3 2h0m-6-5h0m-1-3h0m-14 4h0m-8-6h0m0 2h0m-1 4h0m-7-9h0m-1 11h0m-2-6h0m0 6h0m-7-2h0m-1-4h0m-3-5h0m-14 8h0m-19 5h0m-1-9h0m12 18h0m6-2h0m13 3h0m1-7h0m4 7h0m2-8h0m3 6h0m4-5h0m2 2h0m0 6h0m4-1h0m3 0h0m1-7h0m1 4h0m0 2h0m1 7h0m2-5h0m1 1h0m3 4h0m1-10h0m0 4h0m4 4h0m3 0h0m3-7h0m9-3h0m-28 14h0m-3 0h0m-1-1h0m-15 2h0m-8 2h0m-7-3h0m-2 2h0"/>
<path stroke="#2d5cb0" d="M528 1468h0m-1 1h0m-14-1h0m-27 9h0m1 6h0m5-10h0m0 3h0m0 8h0m1-11h0m2 3h0m3 5h0m1-8h0m0 8h0m2-3h0m4 1h0m5-1h0m4-1h0m0-1h0m0-1h0m1 2h0m1-2h0m0 7h0m2-6h0m5 6h0m0-2h0m2-10h0m3 2h0m1 10h0m1-5h0m1-3h0m6 10h0m1-13h0m1 4h0m4 5h0m0-3h0m1 5h0m1-9h0m3 9h0m2 2h0m0-10h0m4 6h0m3 4h0m1-4h0m2 4h0m2-3h0m33 13h0m-1 5h0m-3-2h0m-5-9h0m-1 11h0m-2-11h0m-2 0h0m-1 1h0m-3 6h0m-3 1h0m-2 0h0m-3-2h0m-4-7h0m0 8h0m-3-9h0m-5 6h0m-2-7h0m-2 10h0m-2 3h0m-4-2h0m0-1h0m0 3h0m-6-9h0m-1 9h0m-4 1h0m0-11h0m-2 8h0m0-6h0m-1 9h0m-1-1h0m-1-10h0m-7-1h0m-1 8h0m-1-1h0m-1-5h0m-3 0h0m-1 10h0m-3-4h0m-1 4h0m-4-13h0m-1 6h0m-4 4h0m-1-3h0m-1 5h0m0-7h0m-3-5h0m-3-1h0m-4 14h0m-3-12h0m-3 5h0m-2-1h0m-1 8h0m-4-11h0m0 4h0m-2 7h0m9 15h0m17-14h0m1 3h0m3 7h0m0-5h0m1-3h0m2 11h0m6-6h0m7-4h0m5 2h0m0 8h0m0-1h0m1-6h0m2-4h0m1 4h0m1-6h0m3 1h0m3 13h0m1-9h0m1 0h0m0 3h0m2 4h0m1-7h0m0 9h0m1-10h0m2-3h0m7 7h0m0-8h0m2 12h0m3-6h0m1-6h0m0 3h0m6 6h0m0-7h0m1 6h0m1 4h0m9 1h0m1 1h0m1-5h0m1-2h0m2-1h0m2-4h0m3 4h0m5 1h0m1 3h0m1-9h0m1 2h0m2-1h0m1 1h0m7-2h0m2 6h0m2-3h0m4-3h0m1 2h0m1 6h0m1 0h0m3 2h0m1 2h0m3-1h0m4-1h0m14 15h0m-4 1h0m0-7h0m-9 5h0m-2 3h0m-3-11h0m0 8h0m-2 4h0m-12-3h0m-6 1h0m-17-9h0m-7 1h0m-1-2h0m-7 6h0m-5-4h0m-1 3h0m-4 5h0m-1-5h0m-1 6h0m-1-11h0m0 9h0m-3 2h0m-1-13h0m-2 13h0m-2-1h0m0-5h0m-3 0h0m0 3h0m-2-7h0m-1 7h0m-3-9h0m-2 7h0m-1 2h0m-1 1h0m-1 1h0m-2 0h0m0-1h0m-1-8h0m0 4h0m-3 3h0m-2 2h0m-1-10h0m-4-1h0m-1 3h0m-1 1h0m-3 4h0m-2-5h0m-1-4h0m-2 5h0m-1-5h0m0 3h0m-4 1h0m-2 7h0m-1 0h0m-1 3h0m-5-11h0m-1-3h0m0 13h0m-18-10h0m30 14h0m4 1h0m6 9h0m12-11h0m1 11h0m3-4h0m1-8h0m3 2h0m1 6h0m1-4h0m1 9h0m1-9h0m3 7h0m3-9h0m3 12h0m1-8h0m3-5h0m0 8h0m3-1h0m5 0h0m10 0h0m1-5h0m18 11h0m5-7h0m1 5h0m3-9h0m0 9h0m1-4h0m4 2h0m0 1h0m2-8h0m2 1h0m1 0h0m5 6h0m1-4h0m2 5h0m0-10h0m6 10h0m10 3h0m6-9h0m6 0h0m-26 24h0m-1-13h0m-1 2h0m-3 4h0m0-2h0m-2 0h0m-1-3h0m0 6h0m-7-5h0m-2-3h0m-2 9h0m-12-7h0m-2 8h0m-5-6h0m-3-4h0m-1 10h0m-4 2h0m-3-2h0m-2-2h0m-1 0h0m-3 6h0m-5-13h0m0 4h0m-4 9h0m-1-10h0m-1 4h0m0-2h0m-1 7h0m-1 1h0m-4-10h0m-2 4h0m0-2h0m-2-2h0m-15 0h0m-9 6h0m-2 3h0m-39-10h0m53 12h0m11 8h0m24-2h0m7-5h0m6 4h0m0-1h0m3-3h0m3 0h0m3 7h0m4-6h0m2 0h0m4 8h0m4-9h0m3 4h0m2-3h0m2 8h0m5 4h0m12-14h0m4 17h0m-21 6h0m-3-6h0m-5 1h0m-13 6h0m-4-9h0m-35 4h0"/>
<path stroke="#40b898" d="M628 1512h0m18 16h0m-2-6h0m-4 2h0m-1-6h0m-1 4h0m0 6h0m-1-3h0m-1 0h0m-1-7h0m-1 8h0m-6-11h0m-12 29h0m1-1h0m6-12h0m1 6h0m1-2h0m3-5h0m1 3h0m4 10h0m2-8h0m0 2h0m3-3h0m0-1h0m2 7h0m1-1h0m0-1h0m2 3h0m0-3h0m3-5h0m6 7h0m5-2h0m1-7h0m3 8h0m3 5h0m11-8h0m2 8h0m1-10h0m3 0h0m2 7h0m9 3h0m1-4h0m1 0h0m1 0h0m0-2h0m1 0h0m1 6h0m1-6h0m13 5h0m1 0h0m3-2h0m14 17h0m-7 0h0m0-12h0m-13 0h0m0-1h0m-5 8h0m-1 1h0m-5 0h0m-2-2h0m-1-6h0m0 1h0m-5 12h0m0-5h0m-10-2h0m-8-7h0m-19 14h0m-4-5h0m-11-3h0m-2-2h0m-6 10h0m-1-1h0m-1-4h0m0-7h0m-8 4h0m-6 4h0m-3-6h0m-3 3h0m-1 5h0m1 12h0m24 3h0m3-8h0m4 6h0m7-3h0m1 5h0m0-3h0m15 1h0m3-3h0m7 7h0m0-10h0m1 9h0m1-7h0m1 4h0m0-3h0m1-2h0m1-3h0m3-1h0m2 8h0m0 1h0m3-10h0m10 0h0m1 6h0m3 1h0m0-1h0m4 8h0m3-5h0m4-6h0m1-2h0m5 9h0m3 0h0m1 0h0m7 3h0m4-6h0m1 1h0m3 6h0m10-13h0m-7 19h0m-2-5h0m-2 0h0m-6 4h0m-21 7h0m-1 1h0m-1 1h0m-2-2h0m0-10h0m-4 8h0m-7 3h0m-2-1h0m-2-6h0m-1 7h0m-1-5h0m-6 4h0m-1-4h0m-2 3h0m-5-9h0m-1 12h0m-9-8h0m0 1h0m0-3h0m-1 5h0m-5-4h0m-6-3h0m-7 8h0m-2-8h0m-4 10h0m-3-8h0m-6 2h0m0-3h0m8 20h0m18-7h0m22 7h0m1 6h0m4-9h0m0 3h0m7-5h0m3 0h0m10 4h0m3 1h0m13 7h0m2-12h0m-5 17h0m-15 4h0m-2 1h0m-1 2h0m-1-9h0m-1 6h0m-3-2h0m-22 2h0m12 17h0m6-1h0m4 1h0m2 5h0"/>
<path stroke="#27378a" d="M498 1472h0m16 10h0m-12 10h0m-2-1h0m-16 2h0m0-5h0m-2 11h0m0-7h0m-2 5h0m-6 2h0m-1-2h0m-1 17h0m1-5h0m1-2h0m1-1h0m4-5h0m1 1h0m13 10h0m4 1h0m1-11h0m4 11h0m15 5h0m-1 2h0m-8 5h0m-13-2h0m-2-2h0m-8 3h0m-2-9h0m-8 3h0m-3 5h0m-19 2h0m-9 0h0m-3 2h0m-26 15h0m29-11h0m5 7h0m11-3h0m9 8h0m1-8h0m25-4h0m9 2h0m8 11h0m-5 6h0m-1 9h0m-23-1h0m-10-9h0m-5 8h0m-2-3h0m0 2h0m0-5h0m-1-3h0m-1 3h0m-2-1h0m-3 4h0m0-1h0m-2-2h0m-2 6h0m-1 2h0m-1-1h0m-3-9h0m-1 2h0m-1-1h0m-1 0h0m-2 7h0m0-6h0m-1 7h0m-4-1h0m-3-3h0m-1 1h0m-2-1h0m-2-8h0m-3 12h0m-2-1h0m-1-1h0m0-5h0m-4 6h0m-2-10h0m-1-1h0m-3 13h0m-1 0h0m-5-3h0m-2-4h0m-6 7h0m0-2h0m-2 11h0m2 0h0m0-8h0m7 2h0m0 1h0m2 3h0m1 4h0m3 3h0m1-9h0m0-3h0m1 11h0m2 2h0m1-10h0m2 7h0m1-3h0m3-2h0m1 4h0m1-7h0m0 6h0m7-7h0m1 10h0m0-1h0m9-2h0m2-3h0m2-1h0m1-3h0m2 10h0m1-7h0m2 5h0m1-10h0m3 13h0m2-4h0m1 4h0m1-13h0m0 11h0m1-9h0m3-2h0m1 4h0m2 8h0m2-10h0m10 10h0m3-2h0m0-8h0m2 12h0m16-14h0m4 7h0m-21 19h0m-6-11h0m-5 10h0m-2-7h0m-1-1h0m-2 6h0m-1-8h0m0 4h0m-6 10h0m-2-11h0m-1-3h0m-3 3h0m-2 10h0m0-1h0m-1 1h0m0-7h0m-1-2h0m0 8h0m-2 1h0m-1-3h0m-1 0h0m-3-4h0m-4 1h0m-7-2h0m0 6h0m0-7h0m-1 5h0m-3 2h0m-1-3h0m-1-4h0m-1 7h0m-2 1h0m0-4h0m-1 3h0m-1-9h0m0-1h0m-1 1h0m-5 11h0m0-13h0m-5 0h0m-1 13h0m0-10h0m-1 10h0m-1-2h0m-2-2h0m-4 3h0m2 4h0m1 13h0m11-1h0m1-12h0m3 5h0m3-4h0m4 6h0m15-7h0m2-1h0m4 11h0m0-10h0m2 10h0m1-1h0m18 2h0m0-5h0m3-2h0m3 4h0m4 3h0m2-12h0m4 12h0m6-1h0m1-9h0m11 20h0m-24-5h0m-4 1h0m-2-3h0m-4 1h0m-2 3h0m-1 2h0m-2 6h0m-6 2h0m0-3h0m-7-8h0m-12 0h0m-1 2h0m-1 4h0m-5-2h0m-6-3h0m-3 0h0m-2 2h0m-3-5h0m30 21h0m1-3h0m5-4h0m1 1h0m4 7h0m4 6h0m0-7h0m5 1h0m1 5h0m0-13h0m5 9h0m0-1h0m3-4h0m3 10h0m1-14h0m4 11h0m15 4h0m-1 2h0m-27-2h0"/>
<path stroke="#5e50b0" d="M258 1733h0m0 3h0m-7 1h0m5 15h0m6-7h0m3-4h0m2 13h0m1 0h0m11-7h0m3-1h0m1 7h0m2-5h0m9 6h0m12-8h0m41 7h0m-13 3h0m-3 9h0m-2 4h0m0-7h0m-1 3h0m-2 1h0m-12-11h0m-6 0h0m-6 14h0m-6-2h0m0-7h0m-2-1h0m-6-4h0m-1 3h0m-4 6h0m-5-9h0m-8 4h0m0 4h0m0-7h0m-2 1h0m-7-1h0m-1 12h0m-7-7h0m-3 5h0m-3 2h0m0-1h0m-7 15h0m1 1h0m2-11h0m5 12h0m1-5h0m7 4h0m2-9h0m2 6h0m0-1h0m2-6h0m0 11h0m1-7h0m0-3h0m2 2h0m2-4h0m3 8h0m0-5h0m3-5h0m2 9h0m1 0h0m0 4h0m14-1h0m1 2h0m2-8h0m2 4h0m0 1h0m27-11h0m1 11h0m3-4h0m3 4h0m5 3h0m-12 8h0m-17-5h0m-4 2h0m-13 9h0m-3 1h0m-5-12h0m-1 1h0m-1 10h0m-3-4h0m-4 4h0m0-10h0m0 11h0m-4-8h0m-1 5h0m0-7h0m-2 3h0m-4 7h0m0-2h0m-2-2h0m0-6h0m-3 3h0m-2-4h0m-1-1h0m-1 3h0m0 9h0m-3-13h0m-4 2h0m-1 8h0m-1-7h0m-4 9h0m-5-9h0m-1 3h0m7 9h0m3 7h0m3-3h0m2-2h0m16 0h0m0 2h0m4-5h0m0 4h0m2-3h0m0 4h0m1-4h0m9 0h0m49 0h0m2 3h0m4 1h0m4 1h0"/>
<path stroke="#35a9c2" d="M645 2023h0m11 1h0m1 0h0m3 9h0m-2 0h0m0 3h0m-2-1h0m-3-4h0m-5-4h0m-2 9h0m0 3h0m0-10h0m-2-4h0m-1 13h0m5 3h0m4 0h0m1 2h0m6-1h0"/>
<path stroke="#8b2070" d="M79 1754h0m6-3h0m2 0h0m15 1h0m38 16h0m-9-3h0m-2-3h0m0 5h0m-1-1h0m-2-4h0m-1 6h0m-8-1h0m0-1h0m-2-9h0m-2 6h0m-1-7h0m0 5h0m-1 6h0m0-8h0m0 3h0m-2 0h0m-2 4h0m-2 0h0m-2 0h0m0-8h0m-1 6h0m0-8h0m-2 8h0m0 2h0m-2 1h0m-2-1h0m-3-5h0m0 4h0m-2-4h0m0 4h0m-1-1h0m-1 0h0m0-8h0m-1 8h0m-1-4h0m-2-3h0m-1 5h0m-3-2h0m0-2h0m0-1h0m-2 2h0m0-4h0m31 16h0m1 0h0m5-1h0m14 0h0m0 2h0m2-2h0m4 4h0m5-1h0m2 3h0m1-3h0m11-1h0m7 0h0m0-1h0m18 2h0m1 2h0m0-1h0m9 0h0m17 1h0m5 5h0m5-4h0"/>
<path stroke="#5cc0a4" d="M759 1559h0m-21 0h0m-4-2h0m-1-8h0m-14 2h0m0-5h0m-4 13h0m-3 0h0m8 12h0m1 2h0m6-11h0m3 4h0m3 0h0m5-2h0m9 0h0m7 4h0m1 4h0m1 0h0m1-8h0m1 0h0m7 4h0m3-1h0m1-6h0m2 2h0m2 4h0m4-1h0m2 2h0m2 3h0m1 9h0m0 8h0m-4-4h0m-2-2h0m-1 5h0m-3-11h0m-1 2h0m0 8h0m-1-1h0m-1-7h0m-1 0h0m-1 10h0m-2-12h0m-4 3h0m-4 3h0m-1 3h0m-7 1h0m-7-9h0m-5 4h0m-3-3h0m-3-3h0m-4 3h0m-2-1h0m-3 6h0m-2-5h0m-9 7h0m-9-6h0m-7 10h0m-9-6h0m0-5h0m3 15h0m9 6h0m14-4h0m2-1h0m1-4h0m1 4h0m4 9h0m2-6h0m2 1h0m4-1h0m2-4h0m9 7h0m2 3h0m8-11h0m1 11h0m2 0h0m2-3h0m3-10h0m1 0h0m1 0h0m2 4h0m1 9h0m1-9h0m0-3h0m1 6h0m6-3h0m1 3h0m5-2h0m1 4h0m3 4h0m3-7h0m1-5h0m1 7h0m4 15h0m0 4h0m-2-3h0m-1-9h0m0 10h0m-2 3h0m-7-13h0m-2 0h0m-3 1h0m-4 2h0m-1 3h0m-6 6h0m-2-6h0m0-6h0m-1 4h0m-1 2h0m-1 7h0m-1-8h0m-6 4h0m-6-8h0m-13 1h0m-2 11h0m-1-4h0m-4 1h0m-3 0h0m-4-8h0m-19 12h0m0-3h0m-2-9h0m-9 11h0m-16 9h0m40 7h0m11-10h0m6-4h0m2 5h0m1 0h0m5-1h0m0-1h0m5 1h0m2-4h0m1 1h0m1 3h0m0 3h0m5-6h0m0 3h0m1 6h0m2-7h0m3-3h0m1 5h0m6 4h0m26 3h0m3-2h0m-1 5h0m0 8h0m-5-2h0m-7 7h0m-29-2h0m-7-10h0m-24 2h0m-23 8h0m58 15h0"/>
<path stroke="#3cae78" d="M682 1639h0m-20 10h0m-37-1h0m-6 5h0m5 7h0m20 3h0m13 1h0m6-1h0m4 1h0m1-9h0m14 4h0m20-7h0m4 5h0m0 19h0m-1-2h0m-3-7h0m-4-2h0m-24 8h0m-13-5h0m-1 8h0m-12-8h0m-4 3h0m-2 3h0m-2-8h0m-2 2h0m-6 8h0m-23-7h0m-11 7h0m-8-4h0m-44 20h0m33-3h0m25-9h0m18 13h0m6-5h0m1 6h0m9-14h0m3 2h0m1 1h0m8-3h0m4 5h0m2-4h0m0 8h0m1-7h0m3 4h0m1 0h0m3 5h0m7-1h0m4-3h0m2 3h0m0 3h0m1-13h0m5 4h0m6-1h0m6 6h0m1-5h0m1-1h0m5-1h0m4 15h0m-22 0h0m-3 11h0m-2-6h0m-7-1h0m-1 7h0m-2 1h0m-2 0h0m-1-6h0m0-7h0m0 8h0m-9-8h0m-3 2h0m-28 7h0m-4-6h0m-6 2h0m-9 2h0m-59 0h0m-6 3h0m-8 17h0m0-10h0m79 5h0m2-6h0m2 6h0m6-7h0m1 2h0m10 8h0m9-2h0m1 0h0m1-3h0m4 5h0m1-9h0m1 8h0m0 4h0m2-1h0m1-2h0m0 2h0m0-12h0m3 13h0m0-14h0m1 4h0m3-4h0m1 4h0m1-2h0m2 8h0m4-3h0m0-7h0m1 0h0m2 10h0m4-2h0m0-7h0m1-1h0m5 10h0m0-1h0m2-7h0m0 2h0m8 1h0m3 1h0m5 3h0m4-1h0m3 6h0m9 0h0m4 0h0m15 1h0m-24 1h0m-8 7h0m-2-1h0m-2 1h0m-2-2h0m-4 1h0m-1 4h0m-3-7h0m-1 9h0m-1-10h0m-2 11h0m-6-12h0m-2 6h0m-4 5h0m0-10h0m-12-2h0m-6-1h0m-128 5h0m-15 24h0m2 0h0m155-4h0m7-10h0m15 6h0m2-6h0m2 3h0m-16 14h0m-17 7h0m-1 1h0m-3 4h0m-152-10h0m146 23h0m10-10h0m5 0h0m-15 21h0"/>
<path stroke="#d7488f" d="M457 1735h0m-1 3h0m-9 14h0m1 0h0m5 1h0m6 0h0m1-11h0m2 5h0m2 2h0m3 0h0m1 0h0m6-8h0m3 9h0m4-1h0m7-1h0m2 5h0m3-3h0m13 17h0m-1 0h0m-1-4h0m-1 6h0m-1-4h0m-1-1h0m-1-6h0m-1 4h0m-1 1h0m-1 0h0m0-3h0m-3 8h0m-3-6h0m-2 0h0m-1-3h0m-2 8h0m-2 2h0m-2-7h0m-5-2h0m-3-1h0m-3-3h0m0 4h0m-2-3h0m-2-2h0m-4 10h0m-8 0h0m-2-10h0m-1 13h0m-2-7h0m0-5h0m0 6h0m-1-3h0m0-1h0m-31 25h0m7-5h0m3 6h0m4-4h0m5-9h0m1 11h0m4-4h0m10-6h0m0 5h0m2 0h0m4-7h0m1 2h0m2 7h0m2-6h0m0-1h0m3-1h0m2 4h0m4 2h0m1-1h0m0 2h0m2-5h0m1 3h0m0 5h0m2-10h0m5 12h0m2-12h0m1 11h0m8-5h0m1 6h0m0-7h0m4 6h0m5-11h0m1-1h0m3 14h0m0-14h0m0 6h0m3-5h0m4 9h0m0 8h0m-1-3h0m-5 14h0m-4-6h0m-1 6h0m-4-7h0m-1 1h0m-1 1h0m-1 1h0m-3-6h0m-2 2h0m-1-6h0m-2 2h0m0 9h0m-6 3h0m-17-10h0m-2 8h0m-3-1h0m-4-10h0m-2 12h0m-3-4h0m-3-8h0m-3 7h0m-3-3h0m-7 9h0m-4-4h0m-2 0h0m0-3h0m-3 0h0m-6 4h0m-9 17h0m2-7h0m3 2h0m0 4h0m3-12h0m3 4h0m0-1h0m1 7h0m4 2h0m0-7h0m2 7h0m0-12h0m1 14h0m1-7h0m2-4h0m0 11h0m3-9h0m3 8h0m4-2h0m0 2h0m2-7h0m0 4h0m3-5h0m5-5h0m0 10h0m5-6h0m1 2h0m0-1h0m3 9h0m5-8h0m2-3h0m0 6h0m1-2h0m1 4h0m3-7h0m2 1h0m5-1h0m5 7h0m4-10h0m1 8h0m2-3h0m1 0h0m1 3h0m1-2h0m2 3h0m0-7h0m0 4h0m2-5h0m2 9h0m1 2h0m-7 8h0m-6-1h0m0 2h0m-6-4h0m-1 9h0m-1-6h0m-4 6h0m-1-8h0m-17 9h0m-1-13h0m-4 12h0m-1-3h0m-1 1h0m-1-4h0m-1 0h0m-1-1h0m-3 7h0m-1-1h0m-1 0h0m-3-3h0m-4 2h0m-1 1h0m-2 0h0m-3-4h0m-2-2h0m-3-4h0m0 2h0m0 2h0m-4 1h0m-3-1h0m-10 8h0m-14-7h0m28 17h0m2-6h0m3 12h0m1-8h0m2 6h0m3-9h0m3 7h0m6 4h0m9-14h0m3 3h0m0 10h0m1-4h0m5-1h0m7-7h0m2 2h0m13 11h0m3-10h0m3 2h0m-21 13h0m-12 0h0m-3 0h0m-2 2h0m0 2h0m-6-1h0m-5-2h0m-8-4h0m-4-1h0"/>
<path stroke="#5cc2b8" d="M573 1856h0m-15 7h0m3 6h0m4-4h0m11 3h0m75-1h0m1 7h0m0-3h0m1-7h0m5 3h0m1 0h0m1 4h0m1 1h0m0-5h0m1 6h0m4-10h0m7 16h0m-1 4h0m-2-1h0m-3 0h0m-1-4h0m0 9h0m0-12h0m-2 11h0m-3-4h0m-2-4h0m-2 5h0m-2-1h0m-3-3h0m-1 8h0m-1 2h0m-4-12h0m-3 12h0m-5-5h0m-2-3h0m-2 7h0m-4-3h0m-26 3h0m-14-1h0m-3 0h0m-4 2h0m-9-5h0m-2-4h0m-1 8h0m2 7h0m3 1h0m1-3h0m4 10h0m0-11h0m2 3h0m1 0h0m2 5h0m2-7h0m0 11h0m7-10h0m3 8h0m1 2h0m2-4h0m0 4h0m0-10h0m2-3h0m5 5h0m0-5h0m2 13h0m1-4h0m1-3h0m1-6h0m0 10h0m0 2h0m3-4h0m1-2h0m5 2h0m4-3h0m2-1h0m0 4h0m1 1h0m4-1h0m1-9h0m1 12h0m1-7h0m0 9h0m4-7h0m0 4h0m1 1h0m0-7h0m2 1h0m0-3h0m0 1h0m2 2h0m4-4h0m0 9h0m1-1h0m1-5h0m2 3h0m1-7h0m0 6h0m1-2h0m0 4h0m0-7h0m0 4h0m3 0h0m7-1h0m1 8h0m1 0h0m1-5h0m1 2h0m1-9h0m-7 18h0m-3-2h0m-7 1h0m-1 5h0m-1-1h0m-2-7h0m-3 6h0m-1-2h0m-5-3h0m-2 2h0m-4 6h0m-1-1h0m0 4h0m-4-4h0m-2 4h0m-1-4h0m-2 3h0m-2-3h0m-6-5h0m-3 11h0m-2-13h0m-1 6h0m-2-2h0m0-5h0m-2 6h0m-1-2h0m-1 5h0m-1-7h0m-2-2h0m-2 7h0m-3-6h0m-9-1h0m-4 0h0m43 17h0m4-2h0m1 1h0"/>
<path stroke="#3a50a4" d="M508 1507h0m3 5h0m27 11h0m-9 6h0m-5-5h0m-8-2h0m-3-3h0m-1 10h0m-3-5h0m0-2h0m-2 0h0m-2 4h0m-2-10h0m-3 7h0m-8 4h0m-3-4h0m-13-7h0m21 21h0m4 7h0m2-6h0m7 5h0m1 0h0m14-9h0m7 3h0m0-5h0m1 10h0m3-1h0m4-9h0m1-2h0m2 11h0m0-7h0m0-1h0m1 8h0m4-6h0m0 7h0m8 1h0m7-8h0m33 8h0m-2 10h0m-21-1h0m-14 3h0m-8-2h0m-4-5h0m-4 7h0m-2-1h0m-5 2h0m-9-6h0m-1 4h0m-1-3h0m-4 3h0m-6-4h0m-3 6h0m-2 2h0m-1-10h0m-1 10h0m-3 0h0m-1 1h0m-3-1h0m-2-4h0m-1-9h0m0 8h0m-2-2h0m-2 0h0m-2 4h0m-3-9h0m-1 8h0m-29-8h0m11 14h0m0 9h0m2-7h0m4 5h0m5-2h0m0 4h0m1 3h0m1-7h0m5 6h0m5 3h0m3-11h0m3 4h0m0 7h0m0-10h0m1 9h0m1-3h0m0-1h0m2 4h0m1-2h0m1-7h0m1-2h0m1 9h0m7-6h0m5 9h0m3-9h0m1 7h0m0-8h0m1-2h0m1 3h0m3-1h0m1 6h0m1-6h0m8-3h0m1 11h0m2-3h0m0-6h0m0 3h0m0-1h0m0-5h0m3 0h0m2 3h0m4 4h0m4 5h0m4-1h0m2-9h0m5 4h0m1-4h0m1 1h0m1-1h0m2 9h0m4 0h0m6 1h0m5-7h0m2 6h0m0-10h0m2 9h0m29-2h0m-7 8h0m-5 1h0m-13 9h0m0-6h0m0 9h0m-5-10h0m-21 0h0m-7 5h0m-3 5h0m-3 0h0m-5-1h0m-3-5h0m-1-8h0m-1 11h0m-1-8h0m0 4h0m-3-1h0m0 2h0m-3-2h0m-3-5h0m0 13h0m-1-14h0m-2 1h0m-1 2h0m-1 7h0m-3-3h0m-1-6h0m-2 10h0m-1-4h0m0-6h0m0 13h0m-2-7h0m0-5h0m-1 10h0m-4-10h0m-2-1h0m0 3h0m-4 6h0m0-10h0m0 8h0m-2 3h0m-10-7h0m0-1h0m0 3h0m-1-6h0m-7 11h0m-5 0h0m0-10h0m-2 6h0m-4-1h0m-9 2h0m-3 6h0m-2-13h0m-1 0h0m-13 15h0m9 4h0m7-5h0m7 0h0m4 14h0m2-3h0m3 1h0m0 2h0m4-10h0m1-1h0m1-3h0m1 9h0m1 3h0m1-10h0m1 10h0m3-3h0m4 3h0m0-1h0m1-5h0m9 3h0m1 5h0m1-14h0m1 4h0m1 2h0m0-2h0m0 4h0m5-6h0m3 9h0m1-3h0m0-1h0m0-6h0m0 3h0m6 2h0m3 1h0m3-5h0m3 4h0m1-5h0m0 3h0m1 7h0m3-11h0m3 6h0m1 6h0m1-4h0m0-1h0m0 6h0m2 1h0m6-13h0m0 8h0m2 5h0m1-14h0m1 13h0m4-2h0m0-10h0m2 4h0m1 7h0m2-5h0m1-5h0m0 8h0m2-7h0m0 7h0m3 0h0m0-1h0m3 5h0m7-14h0m5 8h0m6 1h0m2-1h0m-10 17h0m-6-9h0m-5 10h0m-3-5h0m-1-5h0m-1-1h0m-3 4h0m-1 9h0m-2 0h0m0-6h0m0 3h0m-8-4h0m0 5h0m-1-2h0m0 2h0m0-10h0m-2 6h0m-3-5h0m-1 12h0m-1-7h0m-1 3h0m0-10h0m-1 12h0m-1-8h0m-3 0h0m-2-3h0m0 6h0m-1-4h0m-2 4h0m-1-2h0m0 3h0m-4-1h0m0-1h0m-1 6h0m0-6h0m-3-3h0m-2 10h0m-6-6h0m-2-3h0m-1 2h0m-3 6h0m-1-10h0m-2 0h0m0-1h0m0 8h0m-1-3h0m0-3h0m-3-1h0m0 12h0m0-7h0m-2 5h0m0-11h0m0-1h0m-2 14h0m-1-11h0m-4 8h0m-2-6h0m-5-1h0m-5-3h0m-2 0h0m-8 2h0m0 2h0m-17-1h0m-4 21h0m14-7h0m10 7h0m2-9h0m0 7h0m2-1h0m1-3h0m0 9h0m1-10h0m3-2h0m0 10h0m0-5h0m4-5h0m1 7h0m7-6h0m7 4h0m7-6h0m2 3h0m5 9h0m1 0h0m1-6h0m0-6h0m1 7h0m6-7h0m5 8h0m2 6h0m7-11h0m0-1h0m1 12h0m6-11h0m1 2h0m0 3h0m3-4h0m1-4h0m4 6h0m0-2h0m5 7h0m2-11h0m4 6h0m3-6h0m2 5h0m0 7h0m6-2h0m-7 7h0m-6 3h0m-10 0h0m-20 1h0m-3-2h0m-3 2h0m-1 8h0m0-14h0m-6 8h0m-3-3h0m-1 4h0m0-1h0m-1-4h0m-5 7h0m-1-11h0m-3 1h0m-5 7h0m-1-6h0m-3 1h0m-1-3h0m-6 0h0m21 15h0m8 9h0m8-2h0m6-4h0m22-2h0m2 12h0m10-8h0m-26 17h0"/>
<path stroke="#2a9a40" d="M592 1544h0m27 1h0m-1 8h0m-1-1h0m-2-6h0m-17 11h0m-6-8h0m-16 18h0m17 7h0m0-10h0m8 4h0m2 1h0m15 5h0m0-3h0m2-4h0m1-3h0m6 1h0m3 2h0m25 2h0m9 19h0m-1-12h0m0 2h0m-3 10h0m-5-13h0m0 13h0m-4-1h0m-3-7h0m-3 5h0m-1-3h0m-1 4h0m-8 3h0m-1-9h0m-3-4h0m-4 1h0m-2 10h0m0-10h0m-15-1h0m-3 0h0m-3 12h0m-1-5h0m-1-4h0m0 9h0m-3-3h0m0-10h0m0 4h0m-3 7h0m-4 2h0m-1-3h0m-2-9h0m-8 12h0m-15 6h0m5 10h0m2-7h0m5-2h0m4 6h0m0 2h0m1-5h0m1-5h0m2 7h0m0 4h0m1-14h0m3 13h0m1-1h0m1-9h0m0 2h0m6 1h0m2 8h0m6-1h0m0-7h0m2-2h0m2-2h0m2 11h0m3-2h0m2-8h0m1 4h0m1 1h0m3 3h0m1-6h0m1 3h0m0-8h0m5 0h0m2 14h0m1-7h0m2 2h0m1-5h0m1-1h0m1 8h0m0 1h0m2-2h0m6-3h0m0 7h0m1-12h0m5 7h0m2-7h0m1 3h0m3-3h0m8 2h0m9 8h0m8-3h0m9 3h0m6 11h0m-7-1h0m-4-6h0m-10 13h0m-2-2h0m-5-11h0m-1 7h0m-8 5h0m-1-9h0m-1 7h0m0-7h0m-5 7h0m-1 0h0m-2-6h0m0-3h0m-1 3h0m-1 2h0m-1 0h0m-3 1h0m0 2h0m-2-7h0m-2 1h0m-1 6h0m-1 2h0m-2-7h0m-7 2h0m0 4h0m-1-10h0m-1 11h0m-1-11h0m-2 7h0m-1 6h0m-1-9h0m-1 4h0m-2-9h0m-1 2h0m-4 8h0m-8-4h0m-3-1h0m0-5h0m0 4h0m0 2h0m-6-5h0m-1 6h0m-3 5h0m-9-4h0m-1-4h0m-2-4h0m-3 9h0m-1-1h0m-1 2h0m-23 5h0m8 5h0m12-1h0m1 10h0m1-5h0m8-1h0m1 3h0m3 1h0m5-9h0m2 11h0m1-13h0m22 8h0m3-6h0m2 0h0m0 9h0m1-8h0m9-4h0m1 4h0m5-1h0m0 11h0m2-5h0m0 2h0m1 1h0m1 1h0m7-8h0m6-2h0m2 9h0m6-2h0m2-9h0m0-1h0m7 10h0m2 1h0m2-7h0m0-3h0m2 8h0m1-5h0m4 7h0m1-4h0m5 5h0m2-11h0m4 9h0m2-1h0m16 4h0m-14 11h0m-4 5h0m-3-14h0m0 8h0m-14 3h0m-8-3h0m-4 1h0m-1 3h0m-4-12h0m-22 4h0m-3 7h0m0 2h0m-1-7h0m-2 1h0m-3 6h0m-1-10h0m0-1h0m0 11h0m-2-1h0m-2-9h0m0 3h0m-3-4h0m-2 3h0m-3 6h0m-5-5h0m-2 1h0m-2-2h0m0 2h0m-3 0h0m-5 6h0m-1-10h0m-2-1h0m0 2h0m-4 8h0m-8-10h0m-2 9h0m0-10h0m-2-1h0m-2 8h0m0-5h0m-7 5h0m2 18h0m4-8h0m6 3h0m1 7h0m2-8h0m10-2h0m1 2h0m2-4h0m1 4h0m1 4h0m1 0h0m3-8h0m7 10h0m4-5h0m2 5h0m4-7h0m0 3h0m1 7h0m0-14h0m2 5h0m1 7h0m1-9h0m0-3h0m4 10h0m2 0h0m5 2h0m10-6h0m1-3h0m1 0h0m2 4h0m5-7h0m3 11h0m1-10h0m2 2h0m2-3h0m13 0h0m9 7h0m12-4h0m4 9h0m1-7h0m-33 18h0m-12-8h0m-4 7h0m-10-4h0m-20 8h0m-1-8h0m-2 7h0m0-4h0m-2-3h0m-2 6h0m-9-8h0m-11 0h0m-14 12h0m2 3h0m49 4h0m7 0h0m7-5h0"/>
<path stroke="#3aa860" d="M523 1626h0m23 8h0m7-8h0m10 8h0m7-6h0m20 3h0m8 10h0m-7 5h0m-4-9h0m-3 3h0m-6-4h0m-4 9h0m0 3h0m-9-1h0m-1-12h0m0 3h0m-1 9h0m-2-12h0m-1 11h0m-1-3h0m-12-6h0m-4 5h0m0 2h0m-11 0h0m-5 1h0m-10 5h0m6 5h0m1-3h0m4 2h0m3 3h0m2-7h0m3 14h0m0-6h0m2-6h0m1 10h0m0-10h0m12 4h0m4-1h0m6 1h0m2 0h0m1 5h0m0 2h0m1 1h0m1-7h0m2 0h0m0 2h0m2 2h0m7 2h0m4-2h0m3 1h0m1-7h0m1-1h0m1 6h0m3-5h0m1-3h0m0 6h0m1 4h0m11-4h0m0-5h0m2 9h0m2-3h0m1 1h0m4 1h0m16 17h0m-1 0h0m-8-1h0m-1 0h0m-4-9h0m-14 4h0m-1 7h0m-1-1h0m-2 1h0m-1-6h0m0 1h0m-4-2h0m0-3h0m-5 8h0m-1-2h0m-3-8h0m-1 2h0m-2 8h0m-4-7h0m-3-2h0m-1 8h0m-1-10h0m-1 3h0m-1 6h0m0 4h0m-2-9h0m-2 8h0m-5-5h0m-6-2h0m-1 3h0m-7-9h0m0 9h0m-4 2h0m-2-6h0m12 15h0m1 2h0m1-2h0m0-1h0m1 10h0m1-14h0m1 0h0m0 11h0m1-2h0m1-1h0m3 5h0m1 1h0m1-10h0m0 6h0m1-10h0m0 9h0m4 2h0m0-10h0m3-1h0m0 4h0m1 9h0m1-13h0m1 4h0m5-4h0m0 13h0m1-4h0m2 3h0m0-12h0m1 7h0m0 1h0m3-7h0m6 5h0m3-2h0m3-4h0m0 2h0m11-2h0m12 7h0m9-7h0m12 2h0m14 18h0m-22 0h0m-8 3h0m-2 1h0m-9-6h0m-8 11h0m-4-11h0m-6 11h0m-1-2h0m-1-1h0m-14-6h0m-12-2h0m-3-3h0m33 19h0m12 0h0m8 0h0m11 3h0"/>
<path stroke="#7a4ea6" d="M274 1679h0m-32 15h0m2-10h0m3 9h0m8-3h0m3-2h0m0-4h0m3-1h0m3 7h0m4-10h0m5 0h0m2 3h0m6 9h0m1-2h0m7 3h0m2-5h0m5 3h0m1 3h0m1-3h0m5-5h0m4 6h0m1 1h0m19 11h0m-2 5h0m-1-12h0m-3 7h0m-5-7h0m-6 6h0m0-3h0m-2-1h0m0 2h0m-2 6h0m-1 2h0m-5-14h0m0 9h0m0-3h0m-1 5h0m-1-6h0m-10 4h0m-10 2h0m-7-1h0m-4 3h0m-1-1h0m-2-1h0m-1-1h0m-1-2h0m-2 2h0m0-10h0m-2 8h0m-1-8h0m0 13h0m-5 0h0m-4-2h0m-2 1h0m-1-12h0m-4 4h0m-1 6h0m-1 10h0m2-5h0m1 5h0m4-3h0m2-1h0m0 13h0m2-10h0m3-2h0m4 11h0m1-6h0m1 6h0m0-13h0m1 3h0m2 7h0m9-7h0m0 9h0m1-1h0m0-5h0m0 4h0m4 2h0m3-1h0m2-1h0m1-10h0m1 11h0m4-5h0m1 4h0m7-1h0m1-8h0m0 9h0m2-1h0m9-3h0m5 4h0m6 0h0m2-8h0m9 8h0m7 4h0m1-10h0m5 5h0m3-4h0m-6 20h0m-7-2h0m-1-3h0m-7 5h0m-3-7h0m-8-1h0m-4 1h0m-5-1h0m-2 12h0m-1-5h0m-3 5h0m-2-10h0m-1 5h0m0 4h0m-1-5h0m-1-6h0m-3 6h0m-2 4h0m-4-10h0m-2 8h0m0-5h0m-1 6h0m-1-6h0m0 9h0m0-8h0m0-5h0m-4 13h0m-1-5h0m-1 0h0m-2 4h0m-1-4h0m0-3h0m0 8h0m-4-4h0m-3 0h0m-11-6h0m-1 8h0m0 2h0m-1-6h0m0-8h0m-4 2h0m-2 5h0m1 21h0m7-3h0m1-7h0m4 8h0m1-2h0m2-5h0m2 6h0m1-4h0m15 6h0m6-8h0m2 9h0m11-8h0m6-3h0m4 6h0m1-1h0m3-6h0m2 11h0m2-7h0m3 1h0m10 9h0m-8 9h0m-1-9h0m-5 6h0m-19 0h0m0 3h0m-1-7h0"/>
<path stroke="#a3204e" d="M403 1709h0m-1 0h0m-2-2h0m-5 1h0m-7-3h0m-3 2h0m0 2h0m0-1h0m-1-1h0m-58 7h0m18 5h0m1-1h0m2 5h0m1-6h0m8 1h0m32-1h0m1-1h0m5 7h0m2-10h0m1 6h0m2-7h0m1 11h0m7-2h0m0-3h0m2-4h0m1 5h0m0-5h0m8 5h0m7 0h0m1 1h0m6-5h0m3 4h0m1 3h0m9-5h0m15 14h0m-6-2h0m-10 7h0m-13-4h0m-6-3h0m-4 8h0m-11 0h0m-3-9h0m0 11h0m-3-13h0m-1 12h0m-4-1h0m0-12h0m-2 9h0m-2 3h0m-3-5h0m-5-3h0m-5 5h0m0-8h0m-1 5h0m-1 8h0m-4-2h0m0 1h0m-3-3h0m-5-1h0m-3-3h0m-2 2h0m-2 4h0m-1-2h0m-5-1h0m-1-2h0m-1-2h0m-1 3h0m-1 0h0m-1-4h0m0 10h0m-3-1h0m0-4h0m-2-1h0m-17 3h0m-10 5h0m4 11h0m1-2h0m5-10h0m0 8h0m1 0h0m0-7h0m0 8h0m5 0h0m4-8h0m3 11h0m5-3h0m0 2h0m1 1h0m1-12h0m3 4h0m1 7h0m3-9h0m1 7h0m3-6h0m8 8h0m1-11h0m0 9h0m1 2h0m0-8h0m3 9h0m1 2h0m2-14h0m4 13h0m1-1h0m1-6h0m2-5h0m14 11h0m2-12h0m4 5h0m4-2h0m1 0h0m7 0h0m2 8h0m12 2h0m1-6h0m5 2h0m1 3h0m5-8h0m2 7h0m1 3h0m4-10h0m1 4h0m16 11h0m-6 7h0m-10-6h0m-6-5h0m-1 8h0m-6-8h0m-3 8h0m0-8h0m-7 6h0m-2-5h0m-1 6h0m-3 7h0m-1-2h0m-3 0h0m-5-4h0m-1 2h0m-13 1h0m-15-11h0m-26 7h0m-10 0h0m0-6h0m-3 4h0m-2 6h0m-7 1h0m-2-3h0m-2 1h0m-2 4h0m0-7h0m-2-1h0m-1 4h0m-11 2h0m8 11h0m6 4h0m2-1h0m12-1h0m0-10h0m2 0h0m5 5h0m4 3h0m2 3h0m1-6h0m4 3h0m1-6h0m1 0h0m0 1h0m0 2h0m1-3h0m0 2h0m5 7h0m1 0h0m0-5h0m1 7h0m1-4h0m8 2h0m1-10h0m1 0h0m5 3h0m3 2h0m10 8h0m3-14h0m1 6h0m6-3h0m4 3h0m0 6h0m4-12h0m2 10h0m2 0h0m3-3h0m0 2h0m5-4h0m11-4h0m4 8h0m26-6h0m-37 25h0m-1-10h0m-5 10h0m-3-11h0m-5 6h0m-1 3h0m-6-5h0m-3 7h0m-3-5h0m-2 5h0m-2-7h0m-1 1h0m-2-2h0m-2-3h0m-6 7h0m-2-5h0m-1 8h0m-4-3h0m-4-9h0m-3 7h0m-1-6h0m-2 9h0m-1-8h0m-1 11h0m-2 0h0m-4-9h0m-9-4h0m-2 4h0m0 4h0m-3-6h0m-3 3h0m-3-1h0m-6 1h0m-5 6h0m-9-11h0m-3 0h0m21 23h0m30 6h0m7-12h0m1 3h0m1 2h0m6 3h0m3-5h0m0 9h0m0-11h0m5 9h0m1-12h0m1 5h0m2 0h0m7-5h0m3 8h0m8-4h0m5-1h0m8-2h0m-18 18h0m0-4h0m-1 6h0m-4 4h0m-6-4h0m-7 0h0m-8-5h0m-3 0h0m-1 3h0m0-1h0m-14-1h0"/>
<path stroke="#8cc890" d="M721 1593h0m42 21h0m-41 2h0m-1-3h0m-7 6h0m-18-8h0m-22 6h0m4 14h0m4-4h0m10 0h0m6 2h0m3-2h0m1 1h0m0 5h0m1 1h0m5-2h0m0 1h0m5-1h0m1-3h0m0-6h0m1 4h0m2 0h0m2 5h0m0-8h0m1 4h0m2-3h0m2-4h0m0 8h0m10 0h0m5 2h0m3-1h0m9-5h0m3-3h0m12 12h0m4-5h0m2 5h0m4-7h0m11 7h0m3 5h0m-1 2h0m0 1h0m-1-2h0m-3 8h0m-2-1h0m0-5h0m-3-4h0m-25 6h0m-16-5h0m-11 9h0m-3-9h0m0 2h0m0-1h0m-1 3h0m-8-3h0m-5-3h0m-8 8h0m-13-7h0m-7 1h0m5 17h0m0-3h0m1-2h0m0 2h0m4 10h0m2 0h0m5-6h0m2-5h0m1 10h0m1-7h0m1 0h0m2 4h0m2-5h0m1 0h0m6 7h0m1-2h0m1 2h0m2-6h0m1-2h0m0 8h0m3-10h0m0 3h0m5 0h0m2 9h0m2-5h0m0 2h0m2-6h0m1 9h0m2-2h0m0-7h0m3 7h0m3-10h0m1 9h0m0-9h0m2 11h0m0-7h0m10 7h0m1 2h0m9-11h0m1 5h0m2 5h0m5-4h0m2-2h0m3-3h0m1 3h0m0-6h0m1 8h0m8-3h0m-8 21h0m-1-10h0m-2-1h0m-2 12h0m-3-12h0m-2 13h0m0-10h0m-2-1h0m0-1h0m-3 0h0m0 2h0m-2-4h0m0 12h0m-1-6h0m-1 2h0m-5-4h0m0-3h0m-3 9h0m0-3h0m0-3h0m-9 2h0m-1 3h0m-3-1h0m-1-7h0m-1 3h0m-2 8h0m-1-4h0m-1 6h0m0-6h0m-1-2h0m-1-3h0m-8 11h0m-2-5h0m0-7h0m-1 4h0m-2-3h0m-1 3h0m-1-5h0m-1 11h0m0-10h0m-4 12h0m-2-5h0m-1 0h0m-5 2h0m-2 0h0m-1-1h0m-1-10h0m-1 10h0m-1-8h0m-1 8h0m-3-2h0m-1 5h0m-2 0h0m-1-1h0m-17 12h0m0 2h0m7-6h0m0 8h0m3-3h0m4-7h0m1 1h0m8-1h0m2 8h0m4-11h0m1 9h0m3-9h0m2 0h0m3 8h0m0 2h0m1-1h0m2-1h0m5-7h0m1 11h0m0 2h0m1-6h0m1 6h0m0-1h0m3-13h0m1 12h0m2-11h0m19 8h0m3-4h0m2 0h0m1 9h0m1-10h0m0 5h0m1-6h0m2-3h0m0 5h0m1 3h0m1-5h0m3 8h0m2-11h0m0 2h0m0 11h0m2 1h0m0-7h0m0-3h0m0 4h0m7-1h0m2-4h0m4 2h0m0-5h0m-5 16h0m-1-1h0m0 4h0m-2 2h0m-2-3h0m-3-2h0m0 2h0m-1 0h0m-3 11h0m-1-14h0m-1 2h0m-4 2h0m0 9h0m-3-2h0m-3-7h0m-6 5h0m-1 5h0m-2-14h0m-6 4h0m-4 2h0m-2 3h0m0 2h0m-6-6h0m-2 7h0m-4-8h0m-4-3h0m-3 3h0m-6 2h0m-25 16h0m13 3h0m3-8h0m11-2h0m1 7h0m4 0h0m3 7h0m2-6h0m3-8h0m1 7h0m0-7h0m0 13h0m3-6h0m2-1h0m2-1h0m0 9h0m2 0h0m2 0h0m1 0h0m0-6h0m6 3h0m3-8h0m2 3h0m1 6h0m0-7h0m2 3h0m0 1h0m3-7h0m5 1h0m1-1h0"/>
<path stroke="#2d5cb0" d="M532 1469h0m-5-1h0m-2 1h0m-4-2h0m-3 2h0m-7 0h0m-10 0h0m-18 9h0m6-5h0m1 6h0m1 4h0m6-9h0m1-3h0m0 2h0m3 1h0m1 8h0m3-8h0m1 10h0m1-11h0m5 1h0m5 3h0m4 7h0m1-5h0m2 1h0m1 0h0m5-1h0m4-2h0m0 3h0m1-2h0m4-4h0m1 2h0m3 6h0m1-7h0m5 9h0m3-7h0m3 6h0m1-5h0m2 6h0m9 0h0m2-2h0m3 1h0m3-1h0m33 15h0m-17 2h0m0-1h0m-4-10h0m-6 0h0m0 6h0m-1-8h0m0 3h0m0-1h0m-3 3h0m-2 3h0m-1-5h0m-1-2h0m0 2h0m-2 10h0m0-11h0m-6 7h0m-2 0h0m0 4h0m-1-6h0m-1 2h0m-1-5h0m-1-5h0m-1 11h0m0-3h0m-2 0h0m0-6h0m-2 1h0m-1 0h0m-2 8h0m-1-10h0m-2 4h0m0 9h0m-2-7h0m0-1h0m-4 0h0m-1-5h0m-1 4h0m-2-3h0m-1 6h0m-8 4h0m-1-8h0m-1 5h0m-2-4h0m-3 2h0m-2 4h0m0-5h0m0 3h0m0-6h0m-5-1h0m-2 2h0m0 8h0m0-11h0m-1 6h0m0-1h0m-2-5h0m-3 2h0m-3 3h0m-1-5h0m-2 4h0m0-5h0m-1 8h0m-1 3h0m-1-8h0m-3 4h0m-2 0h0m-5-3h0m0 6h0m-2-3h0m0-6h0m-6-1h0m-1 11h0m-2-4h0m-2 8h0m1 4h0m22 4h0m1 0h0m5-1h0m3-4h0m2 10h0m2 0h0m2-4h0m2-4h0m0 7h0m2-10h0m1 1h0m3 1h0m2-3h0m3 13h0m3-10h0m3 9h0m3 0h0m6-10h0m0 9h0m0-6h0m1 7h0m2-3h0m0 4h0m1-7h0m0 4h0m0-1h0m0-6h0m2 2h0m1 1h0m2-5h0m2 3h0m6-3h0m1 10h0m0-8h0m1 3h0m1 6h0m1-9h0m1-3h0m10 10h0m7-3h0m3-4h0m0-1h0m1 7h0m0-1h0m4-5h0m0 4h0m2-3h0m3 2h0m9-3h0m1 9h0m2-11h0m7 3h0m7 8h0m5-1h0m6-1h0m2 3h0m6 15h0m-9-10h0m-2 2h0m-3-6h0m-19 4h0m-1 3h0m-2-5h0m-1 2h0m-21 1h0m-5 3h0m0-6h0m-4 7h0m-6-5h0m-1-3h0m0 7h0m0 4h0m0-5h0m-1 1h0m0-6h0m-2 4h0m-1-3h0m-3 10h0m-1 1h0m-2-1h0m-2 0h0m-3-8h0m0 9h0m-2-3h0m-2-11h0m-2 7h0m0-2h0m-3 4h0m0 4h0m-3 1h0m-1-8h0m-1 4h0m0-5h0m-5 9h0m0-6h0m-1 6h0m-11-13h0m0 7h0m-1-6h0m-2-2h0m-4 10h0m0-1h0m-2 2h0m-2-10h0m-5 4h0m-3-5h0m-2 3h0m-4-3h0m-9 4h0m-10 6h0m17 5h0m23 2h0m17-1h0m4-1h0m3 2h0m1-1h0m7 9h0m0-5h0m1-1h0m0 1h0m7-3h0m5 0h0m2-2h0m5 12h0m12-3h0m9-4h0m9 3h0m0 1h0m0-5h0m3 9h0m0-4h0m2-3h0m5 0h0m1 5h0m1 3h0m3-4h0m0 4h0m2-12h0m3-2h0m5 1h0m0 9h0m2-5h0m0 3h0m1 3h0m1-4h0m4-6h0m1 6h0m4 4h0m-6 11h0m-7 5h0m-2-5h0m-7 4h0m-7-6h0m-2-5h0m0 6h0m-2 2h0m-1 4h0m0-6h0m0 4h0m-4-7h0m-8 10h0m-2-4h0m-1-8h0m-5 8h0m-2-9h0m-1 5h0m-8 7h0m-2-7h0m0-5h0m-2 14h0m-6-3h0m-3-10h0m-1 3h0m-1 9h0m-1-13h0m-4 5h0m-19 9h0m-7-3h0m0 4h0m1 7h0m13-5h0m22 6h0m1 2h0m9-10h0m0 4h0m5 5h0m1-6h0m10-2h0m2 3h0m2 4h0m0-3h0m1-5h0m8 10h0m4-4h0m17-6h0m3 3h0m12 1h0m1 6h0m1-9h0m7 6h0m-36 14h0m-14-4h0m-17 8h0m23 6h0m2 4h0"/>
<path stroke="#40b898" d="M623 1511h0m13 2h0m5 4h0m-4 12h0m-2-13h0m-9 7h0m-6 21h0m11-3h0m1-4h0m2 6h0m1-10h0m3-3h0m4 10h0m1-6h0m8 0h0m1-2h0m9 0h0m0 9h0m3-3h0m1-5h0m1 9h0m8-3h0m1-2h0m0 1h0m1-4h0m3 10h0m18-3h0m6 3h0m0-5h0m8 3h0m1 2h0m22 10h0m-2-2h0m-2 4h0m-2-8h0m-1 11h0m-7-3h0m-4-3h0m0-1h0m-1-3h0m0 9h0m-1-8h0m-3-1h0m0-3h0m-1 2h0m-3 7h0m-2-6h0m-2 9h0m-2-2h0m0-11h0m-1 13h0m-3-2h0m-3 3h0m-4 0h0m-1-10h0m-13 9h0m-4-7h0m-2-2h0m-2 7h0m-1 3h0m-1-8h0m-4 6h0m-20-6h0m-9 8h0m-4-4h0m-14 4h0m-1-1h0m-4-3h0m24 8h0m1 8h0m0-3h0m1-4h0m3-3h0m5 8h0m0 3h0m2-3h0m0 4h0m4-13h0m9 13h0m7-9h0m5 1h0m3 0h0m0-1h0m4 1h0m1-2h0m6-2h0m1-1h0m1 1h0m2 6h0m1-7h0m2 3h0m8 11h0m1-1h0m1-2h0m2-4h0m13 2h0m2 5h0m10 0h0m0-14h0m1 1h0m1-1h0m4 0h0m8 1h0m-2 14h0m-1 5h0m-3-4h0m-7 1h0m-11-2h0m-1 11h0m-2 0h0m-1-11h0m-5 11h0m-4 0h0m0-3h0m-9-7h0m0 2h0m-1 7h0m-4-1h0m-1 1h0m-14-4h0m-1-1h0m-3 2h0m0-7h0m-1 1h0m-3 8h0m-1 4h0m-3-1h0m-1-6h0m-1-2h0m-1 1h0m-2 5h0m-4-6h0m-9 7h0m-10-11h0m-4 6h0m-5 0h0m-14 3h0m34 11h0m0 2h0m1-3h0m6-3h0m11 0h0m1 1h0m3 12h0m3-6h0m3-3h0m5-5h0m10 9h0m1-6h0m0-3h0m1 2h0m1 8h0m0 3h0m3-7h0m1-6h0m2 5h0m5-4h0m7-1h0m7 1h0m0 14h0m-23 14h0m-3-2h0m-5-9h0m-28 0h0m-29-3h0m-12 1h0m54 15h0m2 4h0m32 7h0m1 2h0"/>
<path stroke="#27378a" d="M482 1477h0m1 7h0m4-10h0m3 5h0m-7 15h0m-5-1h0m-4 2h0m-3 19h0m4-5h0m1 4h0m2-2h0m16-7h0m0 3h0m4-7h0m14 1h0m3 11h0m-14 6h0m-8 0h0m-11 11h0m-1-8h0m-4-3h0m-6 2h0m-10 2h0m-3 5h0m-6-5h0m-1 4h0m-2-1h0m-3 2h0m-5-1h0m-17 18h0m1-1h0m12 0h0m1-1h0m5 0h0m2-7h0m4 7h0m0-10h0m4 10h0m0 2h0m9-3h0m0-1h0m4-6h0m4 5h0m19 3h0m3 1h0m18-13h0m0 15h0m-7 9h0m-5 4h0m-5-3h0m0-5h0m-3 7h0m-3-7h0m-1 3h0m0-4h0m-1 3h0m-2-4h0m-2 2h0m0 6h0m0 1h0m-5 0h0m-1-2h0m-3-6h0m-6 9h0m-1-2h0m-2 3h0m-2-6h0m-5 6h0m0-10h0m-10-3h0m-1 7h0m-1-7h0m0 13h0m-1-5h0m-7-3h0m-1 5h0m-3 1h0m0-3h0m-13-5h0m-5 10h0m-1-13h0m0 5h0m-1 3h0m-3-6h0m-1 7h0m0 4h0m-2 0h0m-1-1h0m0-4h0m-2 5h0m-4 1h0m3 12h0m3-10h0m1 7h0m1-3h0m0 1h0m1 7h0m4-8h0m2 4h0m5-10h0m1 5h0m1-3h0m2 9h0m1-2h0m1-7h0m2-1h0m1 4h0m20 1h0m3-6h0m2 1h0m0 13h0m3-5h0m1 5h0m2-1h0m1-13h0m2 2h0m1 7h0m0 2h0m2 1h0m3 1h0m2-12h0m4 9h0m5-7h0m0 6h0m4-3h0m2-6h0m6 5h0m3-4h0m5 8h0m1-6h0m-18 23h0m-3-1h0m-1-6h0m-3 2h0m-1 2h0m0 2h0m-2 2h0m0-7h0m-1-5h0m-4 7h0m-3-5h0m-1-2h0m-4 3h0m-1-2h0m-3 11h0m-4-4h0m-1-8h0m-1 5h0m-1-3h0m0 2h0m-2 0h0m-1-4h0m-3 11h0m-5-10h0m-2 12h0m-1 0h0m-3 0h0m-1-4h0m0-7h0m0 9h0m0-5h0m-1 2h0m-2-6h0m-1 7h0m-1 1h0m-2 3h0m-4-7h0m-2 5h0m-3-6h0m-2 7h0m-2-1h0m-2-8h0m-1 11h0m-3-12h0m0 10h0m3 12h0m4 4h0m1-10h0m4 3h0m2-2h0m8-3h0m0 13h0m7-2h0m5-10h0m2 3h0m0-1h0m2 2h0m5-2h0m0 8h0m5-1h0m5-11h0m0 4h0m2 1h0m1 1h0m5 2h0m5 6h0m1-7h0m3 0h0m2 3h0m1-6h0m2 8h0m4 1h0m1-7h0m4 0h0m1 8h0m2-6h0m18 19h0m-17-1h0m-12-6h0m-5 6h0m-1-2h0m-6 2h0m-5 1h0m-5-3h0m-1-6h0m0 11h0m-3-3h0m-1 3h0m-21-8h0m-4 0h0m-3-3h0m-1 4h0m0-3h0m0 2h0m-1-4h0m-2 3h0m-4 1h0m25 9h0m15 9h0m3-8h0m1-1h0m2 8h0m5 4h0m2 1h0m6 1h0m0-7h0m1-5h0m1 10h0m1-3h0"/>
<path stroke="#5e50b0" d="M300 1736h0m-44 11h0m2 5h0m5-1h0m2-3h0m1-1h0m4 3h0m12 2h0m5-2h0m4-9h0m55 23h0m-33-8h0m-6 11h0m0-3h0m-3-7h0m-1 7h0m-1-4h0m0 3h0m-4-3h0m0 3h0m-1-2h0m-3 2h0m0 2h0m-5 1h0m-8 0h0m-4 1h0m-1 1h0m-3-12h0m-4 13h0m-1-1h0m-1-4h0m0-3h0m0-5h0m-5 1h0m-2 9h0m-1-10h0m-3 2h0m0 10h0m-1-10h0m-1 10h0m0-7h0m-1 0h0m0 2h0m-1-4h0m-2 1h0m-1-1h0m-6 13h0m2 6h0m1 4h0m0-8h0m1-1h0m1 8h0m1 0h0m6-7h0m2-3h0m1 13h0m3-9h0m3 1h0m3 1h0m7-3h0m2-2h0m5 11h0m1-10h0m0 1h0m3 3h0m0 6h0m1-5h0m0-5h0m3 1h0m9-3h0m10 12h0m5 1h0m16-2h0m6 12h0m-7-6h0m-4 0h0m-1-2h0m-15-1h0m-4 1h0m-2-1h0m-16 2h0m0 11h0m-1-3h0m-1 1h0m-2 1h0m0 2h0m-4-1h0m-3-10h0m-2 2h0m0 3h0m-4-7h0m-7 5h0m-2-3h0m-1 3h0m-3 4h0m0 3h0m-1-5h0m-3 1h0m-3 5h0m-1-1h0m-3-4h0m-4-2h0m-1 6h0m-3-5h0m-4-4h0m-2 4h0m9 13h0m9-6h0m8 6h0m1-4h0m3 1h0m3 2h0m4-5h0m7 0h0m1 1h0m2 1h0m49-2h0"/>
<path stroke="#35a9c2" d="M646 2024h0m14-2h0m0 1h0m1 1h0m2 9h0m-3-3h0m-4-5h0m0 5h0m-2 0h0m-2-5h0m0 2h0m-2 3h0m-5 6h0m-2-9h0m-2 6h0m9 11h0m5 0h0"/>
<path stroke="#8b2070" d="M79 1753h0m3-1h0m3-1h0m1 0h0m2 3h0m3-1h0m6-1h0m1 0h0m6 2h0m32 13h0m-6-6h0m-2 0h0m-1 7h0m-1-2h0m0 3h0m-1-8h0m-3 3h0m0 1h0m0 2h0m-1-8h0m0 6h0m0 1h0m-1-8h0m-1 0h0m-3 9h0m-1-6h0m0-2h0m-1 1h0m0-4h0m-1 2h0m-3 4h0m-1 1h0m-1 0h0m-1-8h0m-1 7h0m-2 5h0m-1 1h0m0-7h0m0 6h0m-1-4h0m-1 4h0m-1-4h0m-2-4h0m0 3h0m-2-2h0m0 6h0m0-8h0m-2-2h0m-2 4h0m-2 4h0m-1 0h0m-5-9h0m-2 5h0m-1-3h0m31 14h0m5-1h0m15 0h0m7 3h0m0 2h0m20-3h0m4 1h0m6 1h0m16-3h0m35 6h0"/>
</g>
<g transform="translate(15.9,91.8) scale(0.409,0.425) scale(0.2)" stroke-width="13.6" stroke-linecap="round" fill="none">
<path stroke="#a52a4a" d="M519 1484h0m18-1h0m1-3h0m9-7h0m18 5h0m32 14h0m-33-7h0m-8 3h0m-9-2h0m-1 3h0m-5-3h0m-10 4h0m-4 1h0m-1-3h0m-5 0h0m-7 8h0m-3-7h0m10 15h0m17 7h0m18-6h0m8-3h0m6 6h0m2-4h0m15 2h0m16-2h0m13-1h0m6 7h0m7 0h0m0-3h0m0 6h0m16 16h0m-72-5h0m-20-4h0m-9 22h0m0-11h0m17 4h0m36 4h0m2-4h0m6 6h0m14-2h0m17 4h0m1 0h0m9-8h0m5 1h0m7 0h0m32 0h0m0 4h0m6 0h0m8 2h0m16 1h0m9 1h0m23 12h0m-21-8h0m-20 5h0m-1 0h0m-7-5h0m-6 8h0m-14 2h0m-51-11h0m-5 8h0m-8-3h0m-12 7h0m-2-6h0m0-3h0m-41 0h0m-10 7h0m0-12h0m-7 1h0m13 17h0m3 2h0m1-4h0m6 0h0m5 8h0m10 1h0m27 0h0m10-10h0m7 5h0m32-3h0m6-2h0m32 14h0m12-1h0m0-6h0m8-3h0m4 8h0m6-2h0m13-6h0m13-4h0m14 3h0m2 11h0m5 3h0m-18 3h0m-2 5h0m-35-4h0m-29 1h0m-3 7h0m-5-1h0m-10-13h0m-42 3h0m-5 8h0m-10-4h0m-8 4h0m0 2h0m-6-9h0m-1 5h0m-7 5h0m-1-10h0m-16-4h0m-10 14h0m-5-10h0m39 15h0m27-3h0m8 3h0m29 3h0m8-3h0m35-4h0m5 1h0m6 2h0m8 4h0m27-2h0m18 2h0m13 3h0m-10 12h0m-12 6h0m-2-3h0m-2 0h0m-14-6h0m-11 7h0m-22 1h0m-3-3h0m-5 5h0m-5-5h0m-3 3h0m-45-11h0m-8 0h0m-13 2h0m-1 4h0m-7-6h0m-4-1h0m-16 2h0m-16-2h0m-72 6h0m53 21h0m12-1h0m7-3h0m10-2h0m3 0h0m30 3h0m12-9h0m30 9h0m29-5h0m1-2h0m6 10h0m21-10h0m2-1h0m18 12h0m2-3h0m10 1h0m6-9h0m0 1h0m15 21h0m-1-3h0m-1 8h0m-18-6h0m-16-6h0m-11-2h0m-20 4h0m-11-4h0m-38 12h0m-9-9h0m-33 4h0m-10-2h0m-8 7h0m-59 16h0m7-4h0m4-7h0m5-2h0m1 0h0m29 4h0m5 6h0m12-4h0m3-6h0m6 4h0m5 2h0m25-1h0m6 9h0m35-8h0m11-4h0m6 2h0m38-4h0m11 10h0m9 4h0m-2 14h0m-7-13h0m-12 1h0m-21 4h0m-1-4h0m-9 5h0m0 2h0m-15-2h0m0 2h0m-3 1h0m-52-7h0m-16 1h0m-4 10h0m-1-1h0m-5-11h0m-3-1h0m-26 11h0m-8-2h0m-23 1h0m-1 0h0m-10-5h0m-5-2h0m-4 0h0m16 15h0m3-1h0m4-2h0m8 9h0m8-2h0m14 6h0m12-2h0m29-4h0m34-1h0m26 1h0m13 0h0m27-3h0m22 1h0m10 4h0m3 10h0m-41 0h0m-6 5h0m-11 3h0m-78-11h0m-30 11h0m-7-5h0m-2 11h0m101 1h0m4 9h0m23-1h0m5-4h0m2-2h0m33-5h0m-50 15h0m-18 4h0m-18 21h0m-19 116h0m11-3h0m8 16h0m-1 0h0m-25 9h0m-29 11h0m9-2h0m18-4h0m0 4h0m0 9h0m-3 8h0m-1 1h0m-1-8h0m-7 7h0m-7-2h0m-3-4h0m-12 8h0m9 4h0"/>
<path stroke="#d4482b" d="M488 1474h0m61 3h0m5 1h0m3 1h0m30 7h0m-23 11h0m-14-1h0m-26-2h0m-32 4h0m43 6h0m10 3h0m1 1h0m90 5h0m-18 3h0m-2 13h0m-47 0h0m-3-13h0m-55 11h0m26 14h0m22-2h0m37-5h0m24 9h0m39-10h0m44 13h0m-81 1h0m-6 10h0m-9-8h0m-1 8h0m-40-7h0m-9-4h0m-10 7h0m-1-4h0m-10 5h0m53 16h0m6-10h0m69 14h0m60-11h0m9 8h0m5-10h0m-54 20h0m-54-5h0m-66 4h0m0-5h0m-8 0h0m-4 1h0m-1 10h0m7 17h0m28-11h0m11 0h0m11 12h0m5-1h0m24-11h0m67 27h0m-31-4h0m-13-1h0m-58-9h0m-16 13h0m-14-9h0m-4 9h0m-18-1h0m-2 2h0m14 5h0m2 0h0m1-2h0m24 11h0m69-12h0m30 5h0m18 7h0m24 1h0m3-2h0m-14 16h0m-3-7h0m-20 0h0m-16-4h0m-38 8h0m-10-9h0m-47 6h0m-26 1h0m-5 4h0m-16-6h0m8 14h0m25 1h0m15-5h0m57 7h0m1 3h0m10-10h0m18 3h0m25 5h0m19-4h0m57 9h0m18-7h0m-6 10h0m-3 1h0m-13 9h0m-1 0h0m-15 2h0m-1-4h0m-4-10h0m-10 13h0m-27-3h0m-10-6h0m-46 4h0m0-1h0m-2 7h0m-12-11h0m-10 8h0m-1 0h0m-78 1h0m11 5h0m33 0h0m4 7h0m24-4h0m56 3h0m8-6h0m2 2h0m4-3h0m1 1h0m30 10h0m-5 4h0m-38 4h0m-54 9h0m-9-13h0m-26 0h0m77 18h0m4 5h0m6 3h0m30-2h0m12-9h0m15 5h0m-20 9h0m-8 4h0m-13 1h0m-27-2h0m-153 22h0m154 2h0m5 10h0m-10-6h0m-10 19h0m9 101h0m-1 0h0m-7 13h0m-5-8h0m-10 3h0m-2 2h0m-33 10h0m22 5h0m18 3h0m10-10h0m4 5h0m0 2h0m1 2h0m4-4h0m6-1h0m-10 7h0m-9 5h0m-11-5h0m-7 4h0m-21 0h0m-2-2h0"/>
<path stroke="#ececdc" d="M283 1678h0m-26 5h0m9-2h0m15 10h0m2 2h0m16-7h0m5 5h0m1-1h0m73 14h0m-12 4h0m-45-5h0m-5 0h0m-1-1h0m-9-3h0m-4 10h0m-1-3h0m-5 0h0m-6-5h0m-1-2h0m-7 2h0m-2-4h0m-2 1h0m-6 10h0m-2 0h0m-17-7h0m7 14h0m2 8h0m5-7h0m1-2h0m2 7h0m0-10h0m3 1h0m1 5h0m11-2h0m3 6h0m2 0h0m2 1h0m6 1h0m34-7h0m5-6h0m15 6h0m6 1h0m25 7h0m11-1h0m9-6h0m0-6h0m3 7h0m3 5h0m2-3h0m6 1h0m14-4h0m4 4h0m3-4h0m2 3h0m16 15h0m-28-3h0m-10-2h0m-3-2h0m-14-2h0m-20 6h0m0-5h0m-5 2h0m-3 6h0m-9-7h0m-7 9h0m-1-3h0m-1 3h0m-10 2h0m-3-3h0m-20 3h0m-21-9h0m-7-2h0m-6 11h0m-3-1h0m-2-12h0m-15 6h0m-3 2h0m-16 3h0m-159 17h0m3 0h0m9-2h0m1 2h0m5 0h0m139-5h0m7-5h0m3 7h0m12 0h0m4 1h0m8-4h0m5-7h0m7 5h0m2 0h0m9 2h0m21-6h0m14 0h0m0 11h0m4-10h0m4 3h0m9 3h0m4 0h0m1 2h0m15-8h0m0 4h0m5-5h0m11-2h0m9 4h0m3-4h0m13 13h0m30-10h0m1 6h0m9 5h0m19-6h0m6 3h0m4 1h0m4-5h0m13 21h0m-3-12h0m-11 11h0m-1-6h0m-2-1h0m-14 5h0m-19 4h0m-1-6h0m-6-7h0m-10-1h0m-10 7h0m-13 0h0m-1 2h0m-13 5h0m-6-11h0m-9 8h0m-14-6h0m-4-2h0m-3 2h0m-34-4h0m-8 6h0m-1-2h0m-14 3h0m-3-2h0m-7 6h0m-1-3h0m-5 0h0m-1-1h0m-12 6h0m-28-2h0m-1-1h0m-1-8h0m-109 7h0m-2 3h0m-8-7h0m-1 6h0m-3-7h0m-2 6h0m-7 1h0m-1 1h0m-2-2h0m0-10h0m-3 11h0m-1 2h0m-12-3h0m-2-3h0m-4-1h0m-5 1h0m-2-5h0m42 14h0m16 2h0m73 2h0m32-4h0m11-2h0m23 14h0m3-3h0m3-1h0m3-8h0m2 0h0m5 6h0m6-4h0m4 7h0m23 0h0m22-4h0m23 1h0m7-3h0m7 2h0m4 2h0m21 4h0m3-1h0m3-3h0m11-3h0m1 8h0m8-8h0m30-1h0m1 2h0m20 1h0m19-3h0m6 7h0m-5 6h0m-15 11h0m-2-14h0m-4 3h0m-18 2h0m-2 0h0m-30 4h0m-5-3h0m-14 5h0m-2 2h0m-23-1h0m-2-11h0m-1 5h0m-6-5h0m-8 3h0m-24-4h0m-7 0h0m0 9h0m-6-7h0m-15 12h0m-12-11h0m-12-2h0m-9 8h0m-6 1h0m-10-8h0m-5 3h0m-1 4h0m-2-5h0m-18 4h0m-1-1h0m-5-5h0m-12 7h0m11 11h0m16 1h0m1-5h0m3-1h0m6 1h0m3 3h0m56-3h0m15 3h0m30 1h0m15 0h0m2 6h0m20 1h0m9-6h0m9-2h0m1 9h0m3-2h0m8 3h0m13 0h0m7-3h0m23-10h0m10 6h0m9 4h0m-7 18h0m0-10h0m-4 2h0m-8-2h0m-2 6h0m-1-1h0m-6 4h0m-2 1h0m-1-11h0m-5 9h0m-20 2h0m-11-6h0m-1 2h0m-1-9h0m0 2h0m-5 0h0m-5 5h0m-6-1h0m-14 0h0m-7-4h0m-1-3h0m32 22h0m5 5h0m3-11h0m10 2h0m15 7h0m11-7h0m22-1h0m78 27h0m-111-7h0m-4-2h0m-14 0h0m-10-4h0m148 37h0m-10 1h0m-1-2h0m4 12h0m8 6h0m4-1h0m2-8h0m5 7h0m2 1h0m8-6h0m-1 18h0m-4 6h0m-5-12h0m69 124h0m-1 0h0m-8 5h0m-1-2h0m-2 5h0m0-10h0m0 14h0"/>
<path stroke="#6c1d5a" d="M515 1477h0m33-3h0m23 10h0m20 9h0m-22-7h0m-1-1h0m-46 29h0m13-10h0m11-1h0m41 4h0m43 20h0m-24-11h0m-44 20h0m38 2h0m2-3h0m3 6h0m13-3h0m20-8h0m15 5h0m30 8h0m8-6h0m51 10h0m-21 9h0m-3 1h0m-3 2h0m-13-5h0m-55 1h0m-12-3h0m-13 5h0m-28 0h0m-19-10h0m13 13h0m2 12h0m12-11h0m13 10h0m12-9h0m2 5h0m41 5h0m2-3h0m12-6h0m11 1h0m19 5h0m9 0h0m2 5h0m8-9h0m8 6h0m27-8h0m-17 26h0m0-7h0m-18 1h0m-1-4h0m-54-1h0m-11 8h0m-3-11h0m-2 2h0m-11 9h0m-20 3h0m-8-12h0m-19-1h0m-22 28h0m2-2h0m22-4h0m4-2h0m9-5h0m21 10h0m47-11h0m2 10h0m1-4h0m6 4h0m38-4h0m12 1h0m9-2h0m1 15h0m-2 8h0m-3 1h0m-30-11h0m-9 5h0m-20 0h0m-30-3h0m-7 13h0m17 8h0m14-8h0m32 4h0m2-6h0m37-1h0m20 27h0m-58-4h0m-2 6h0m-78 0h0m-25-1h0m-36-12h0m-48 16h0m18 10h0m14-10h0m19-2h0m5 9h0m43-5h0m18 1h0m48 5h0m7-2h0m84-5h0m-43 14h0m-82 5h0m-32-6h0m-1 4h0m-32-1h0m-40-4h0m-10 18h0m51 8h0m7 0h0m12-10h0m-22 28h0m80 173h0m-29 26h0m-34 8h0"/>
<path stroke="#f7e07a" d="M485 1482h0m25-5h0m-9 11h0m-8 0h0m-2 9h0m-4-7h0m-3 1h0m-5-3h0m0 9h0m-4 16h0m7-6h0m24 3h0m1-6h0m2-3h0m-13 19h0m-22 2h0m-35 11h0m41-3h0m8 6h0m12 17h0m-14-4h0m-17 10h0m27 5h0m15 4h0m9-5h0m20 3h0m-9 12h0m-6-3h0m-7 10h0m-16 0h0m-18-8h0m-10 22h0m16 3h0m11-5h0m5-5h0m3 7h0m1 2h0m3 13h0m-11-3h0m-9-1h0m-4-3h0m-53 14h0m50 1h0m25 11h0m7-2h0m2 17h0m-22-13h0"/>
<path stroke="#f7f6c4" d="M497 1478h0m-24 33h0m21 16h0m-44 0h0m-5 7h0m0 10h0m16-6h0m7 4h0m28 4h0m-6 3h0m-18 3h0m-13-7h0m-14 5h0m-1 3h0m-7 0h0m0-5h0m-20 1h0m-1 20h0m3-1h0m0 5h0m7-7h0m3-4h0m3 3h0m4-5h0m14 8h0m20-8h0m1 5h0m6 6h0m7-10h0m20 11h0m14 15h0m-22-1h0m-22-6h0m-3 0h0m0 8h0m0-7h0m-1-3h0m-6 9h0m0-7h0m-1 3h0m-3-6h0m-2 7h0m-7-9h0m-10 12h0m0-12h0m-4 12h0m-9-4h0m-4-2h0m-4 2h0m-12-8h0m19 16h0m2 8h0m3-7h0m0 2h0m23 5h0m34-3h0m18 0h0m9 11h0m-17 8h0m-3 0h0m-4-4h0m-5-5h0m-7 10h0m-1-3h0m-26 2h0m-26-2h0m-2-6h0m28 14h0m2 0h0m6 3h0m14 6h0m4-7h0m7-1h0m2 1h0m1 11h0m8-12h0m3 11h0m11 11h0"/>
<path stroke="#f8b730" d="M495 1475h0m2 6h0m-8 4h0m-3 0h0m-9 3h0m26 16h0m26-1h0m48 5h0m-54 21h0m-17-11h0m-3 1h0m0-4h0m18 19h0m10 9h0m2 16h0m-2-6h0m-10 11h0m2 3h0m2 3h0m4 3h0m5-5h0m-3 17h0m-4-7h0m-4 1h0m-5-1h0m-1 2h0m6 11h0m25 10h0m-19 17h0m0-3h0m2 19h0m1 6h0m-1 10h0m140 48h0"/>
<path stroke="#ef7f1a" d="M491 1471h0m-6 23h0m45 20h0m8 11h0m-2 7h0m107 1h0m-96 16h0m-8-2h0m-3-1h0m-3 0h0m21 31h0m-11 4h0m-3 6h0m-3-7h0m-4 4h0m-1 3h0m-6 15h0m24-8h0m209 25h0m-198-12h0m-15 0h0m-6 11h0m-2-7h0m-9 5h0m-2 14h0m5 4h0m6-14h0m6 2h0m8 9h0m0-3h0m60 14h0m-70-5h0m-4 11h0m154 13h0m42 8h0m-39 6h0m-33-7h0m-50 11h0m48 1h0m0 11h0m13-5h0m2 1h0m2 10h0m-16 8h0m-121 11h0m102 6h0m1-4h0m1 0h0m2-3h0m43-5h0m56 6h0m-22 9h0m-31 18h0m-42 42h0"/>
<path stroke="#3a1248" d="M600 1574h0m31-6h0m16-6h0m74 11h0m3 4h0m-3 3h0m-42 3h0m83 11h0m22 3h0m-177 74h0m30 11h0"/>
<path stroke="#a52a4a" d="M531 1469h0m-47 12h0m45-1h0m6-10h0m31 10h0m27 14h0m-1-2h0m-15 0h0m-5 5h0m-49-12h0m0 9h0m-11 7h0m7 4h0m4-3h0m1 1h0m10 9h0m7-8h0m6 5h0m3 4h0m17-11h0m9-2h0m3 8h0m9-3h0m32 3h0m20 16h0m-59-2h0m-14-4h0m-1 7h0m-25-6h0m-17 5h0m-10-7h0m0 6h0m31 12h0m0 9h0m6-13h0m6 1h0m42 6h0m6-6h0m4 8h0m11 3h0m3-8h0m0 4h0m22-2h0m25 6h0m91 14h0m-58-12h0m-19 7h0m-33-4h0m-24 10h0m-10 0h0m-7 1h0m-8-1h0m-12 1h0m-33-10h0m-13 7h0m-6 5h0m32 8h0m6 0h0m1-4h0m13-2h0m10 2h0m17 5h0m40 1h0m4-5h0m94 6h0m10-1h0m10 18h0m-9-1h0m-14-8h0m-35-2h0m-45 11h0m-2-3h0m-1-7h0m-1-4h0m-2 4h0m-2 10h0m-5-9h0m-4 9h0m-15-10h0m-4 0h0m-2 5h0m-3 1h0m-10-2h0m-14-7h0m-29 7h0m-15 6h0m9 14h0m25-4h0m15-5h0m6 4h0m0 2h0m11-3h0m22 3h0m23-7h0m17-3h0m8 3h0m2 2h0m16-4h0m17 3h0m7-4h0m13 9h0m10-1h0m4 3h0m2-3h0m3 5h0m7-3h0m7 5h0m-1 6h0m-23 1h0m-10 1h0m-35-5h0m-1-3h0m-6 11h0m-9-2h0m-6 0h0m-7-4h0m-23 5h0m-15 2h0m-7-12h0m-28 2h0m-4 6h0m-16 5h0m-12-2h0m-1-3h0m-2-3h0m-48 16h0m29 0h0m2 8h0m21-8h0m14 5h0m27-1h0m10-7h0m31 4h0m19 3h0m0-8h0m1 12h0m11-6h0m3 5h0m21-12h0m2 11h0m4-10h0m52 9h0m3 1h0m6-2h0m1-5h0m-4 20h0m-12-10h0m-17 6h0m-10 5h0m-36-11h0m-8 10h0m-14-5h0m-2-3h0m0-1h0m-1 13h0m-37-1h0m-22-1h0m-7-12h0m-24 13h0m-2-5h0m-2 5h0m0-5h0m-4 6h0m0-6h0m-7 3h0m-2-9h0m-5 2h0m-13-4h0m-4 14h0m-3-5h0m-9-2h0m-9 5h0m17 5h0m0-1h0m1 11h0m6 0h0m18-1h0m7-4h0m1 2h0m13 5h0m0-5h0m3-8h0m33 11h0m42-7h0m13 0h0m5 7h0m8-1h0m6 0h0m8-8h0m13 1h0m16 7h0m4-9h0m4 11h0m30-7h0m-5 16h0m-3 3h0m-13-7h0m-9 5h0m-13-3h0m-15-3h0m-11 2h0m-5 5h0m-1 0h0m-6 1h0m-2-9h0m-37 12h0m-9-9h0m-26 7h0m-6-5h0m-11-1h0m-14 5h0m-1-6h0m-1 1h0m-15-4h0m-1 2h0m-21-3h0m-20 0h0m12 26h0m7-8h0m12-1h0m4 2h0m136 5h0m7 4h0m6-9h0m8 2h0m20-6h0m12 13h0m10 8h0m-8 0h0m-20-4h0m-17 8h0m-3 0h0m-37 9h0m22 10h0m3-10h0m2-3h0m8 3h0m7 5h0m12-1h0m2-3h0m-217 16h0m-7 18h0m127 120h0m1 4h0m17 5h0m-1 10h0m-3-4h0m-22 5h0m-9-1h0m-16 1h0m-7-2h0m14 3h0m13 13h0m24-12h0m7 6h0m1 7h0m-43 6h0m0-1h0m-4 1h0m-6-2h0m-8 7h0"/>
<path stroke="#d4482b" d="M509 1473h0m4 8h0m14 1h0m52 16h0m-37-6h0m-19 4h0m-16-10h0m8 19h0m2 3h0m66 2h0m16 2h0m16 0h0m15-4h0m-48 10h0m-5 3h0m-26-3h0m-31 11h0m4 6h0m19-3h0m2 12h0m27-1h0m26-3h0m4-5h0m18 9h0m24-14h0m27 3h0m21 7h0m43 17h0m-105-7h0m0 3h0m-18-2h0m-3 7h0m-69-6h0m-1 4h0m20 7h0m3 2h0m28-1h0m35 2h0m87-6h0m-50 28h0m-49-2h0m-19-1h0m-32 4h0m-5-10h0m0 20h0m0-5h0m11 5h0m26 2h0m24 3h0m3-3h0m98 11h0m-54 0h0m-66-6h0m-27 3h0m-1 3h0m-3-3h0m-13 9h0m-17-10h0m-12 14h0m22 11h0m8-8h0m5-3h0m13 8h0m102-3h0m16-6h0m10 12h0m10-10h0m24 1h0m0 9h0m54 5h0m-1-3h0m-42 12h0m-2-10h0m-60 4h0m-74 1h0m-45 1h0m-12-2h0m-14 5h0m21 4h0m49 12h0m5-12h0m4 4h0m34-1h0m17 4h0m33-5h0m15 5h0m13-4h0m15 8h0m1-11h0m41 15h0m-22 14h0m-3-11h0m-14 9h0m-1-3h0m0 2h0m-11-3h0m-14-8h0m-5 8h0m-3 5h0m-13-8h0m-43-4h0m-18 4h0m-79 3h0m-12 18h0m53-4h0m26-6h0m0 8h0m15 1h0m26-2h0m12 4h0m9-12h0m5 6h0m14-6h0m15 6h0m2-4h0m2 11h0m26-11h0m16 19h0m-43 7h0m-7-7h0m-11-4h0m-23 6h0m-3 6h0m-14 0h0m-9-7h0m-11 4h0m-11-7h0m-45 2h0m-44-6h0m69 23h0m4-1h0m16 5h0m11-9h0m8 7h0m2-5h0m4-5h0m14 11h0m2-10h0m1 9h0m1 1h0m53-5h0m-14 11h0m-4 1h0m-28 18h0m-8 9h0m-5 0h0m-25 24h0m13-8h0m-9 20h0m10 73h0m1 1h0m-42 37h0m38 9h0m-5-3h0m-12-1h0m-17 3h0m-15 1h0m0 2h0"/>
<path stroke="#ececdc" d="M250 1687h0m10 5h0m21-1h0m3-3h0m10 4h0m1-5h0m1 3h0m3 0h0m96 19h0m-4 0h0m-62-6h0m-7 5h0m-4-2h0m-10-9h0m-4 10h0m-8-12h0m-2 7h0m-12 0h0m-4 6h0m-10-7h0m-6-2h0m-6 1h0m-9 6h0m2 12h0m1-1h0m2-4h0m5-2h0m28 1h0m14 2h0m21-2h0m8-2h0m2 5h0m2 0h0m7 1h0m3-2h0m9 10h0m6-4h0m0-1h0m1 0h0m3 5h0m13 0h0m8-1h0m6-1h0m3-9h0m7 9h0m2-5h0m5 4h0m4-10h0m3-1h0m15 9h0m11-3h0m22 7h0m2 2h0m-3 9h0m-41 0h0m-5-5h0m-3 0h0m-6-3h0m-2 1h0m-2 6h0m-5 1h0m-22-5h0m-3 10h0m-8-10h0m-2 10h0m-7-9h0m-2 3h0m-8 1h0m-7-3h0m-13 5h0m-4-1h0m-1-10h0m-20 14h0m0-14h0m-12 2h0m-6-1h0m-22 6h0m-4 3h0m-2-9h0m-148 26h0m149-6h0m0 1h0m13 0h0m10 5h0m8 2h0m2-12h0m2 3h0m7-1h0m1 10h0m5-9h0m1 2h0m2 2h0m1-3h0m9 0h0m32-3h0m2-1h0m11 10h0m0-10h0m3-1h0m10 9h0m10 1h0m18 1h0m5-7h0m2-1h0m4-1h0m11 8h0m7 3h0m1-9h0m10 0h0m0 1h0m3 2h0m5 6h0m12 0h0m9-11h0m2 11h0m5-5h0m2 1h0m3 4h0m7-2h0m5 0h0m16 17h0m-12-13h0m-12 3h0m-1 4h0m-6-3h0m-11-2h0m-5 5h0m-7 4h0m-1-8h0m-8 2h0m-1 4h0m-2-2h0m-6-4h0m-17 10h0m-37-7h0m-33 1h0m-32-5h0m-38-3h0m-3 9h0m-3-7h0m-7 1h0m-3 9h0m-13-10h0m0 4h0m-5 7h0m-1-10h0m-123 9h0m-2 1h0m-3-5h0m-5 2h0m-1-10h0m-2 2h0m-7 2h0m-1-4h0m-1 10h0m-2 0h0m-6-10h0m-1 6h0m17 9h0m26 3h0m32 1h0m10-1h0m2 1h0m35 2h0m27 3h0m2 1h0m3-7h0m4 1h0m2-3h0m4-1h0m4 6h0m2 0h0m15-3h0m2 9h0m7-1h0m17 1h0m50-2h0m7 0h0m7 3h0m26 1h0m16-4h0m1-1h0m2 4h0m4 1h0m15-4h0m5-1h0m3-1h0m6 6h0m5-13h0m3 0h0m6 6h0m4-7h0m4 6h0m17 2h0m1-1h0m14-1h0m5 2h0m9 0h0m2 14h0m-9 0h0m-7-2h0m-7-3h0m-14 2h0m-4-3h0m-38 10h0m0 2h0m-5-11h0m-2 9h0m-1-6h0m-7 5h0m-4 3h0m-5-5h0m-1 6h0m-1 0h0m-4-9h0m-1 9h0m-1-13h0m-1 7h0m-7 1h0m-9 3h0m-3-11h0m-4 5h0m-37-2h0m-3-4h0m-8 13h0m-33-10h0m-12 6h0m-6-1h0m0-7h0m-3-1h0m-7 10h0m-8-4h0m0 4h0m-1-9h0m-3 10h0m-13-1h0m-4 0h0m28 6h0m92 9h0m27 3h0m14-9h0m6 9h0m17-13h0m8 9h0m18 1h0m5-6h0m7 9h0m4-7h0m1 8h0m3-4h0m0-7h0m16 4h0m4-5h0m17 2h0m-12 15h0m-7-4h0m-2 13h0m-17 1h0m-11-5h0m-1-8h0m0 1h0m-5 11h0m0-7h0m-4 5h0m0-8h0m-1 4h0m-10 1h0m-6 3h0m-1 2h0m-3-9h0m-24-2h0m30 17h0m5 5h0m3-5h0m14 4h0m4-4h0m1-3h0m9-1h0m8 9h0m15-6h0m4-1h0m-33 20h0m-11-4h0m126 12h0m11 29h0m-13-8h0m-2 11h0m1 4h0m8 8h0m9-12h0m3 12h0m3-4h0m2 4h0m1-7h0m-3 16h0m-7-6h0m69 127h0m-7-4h0m3 12h0"/>
<path stroke="#6c1d5a" d="M517 1480h0m21 0h0m3-2h0m61 18h0m-24 0h0m-15-7h0m47 47h0m17 6h0m9 2h0m39-8h0m42 14h0m-3 3h0m-17-1h0m-64 4h0m-1-1h0m-13 4h0m-24-10h0m-8 10h0m-14-2h0m-13-9h0m20 22h0m11-1h0m18-2h0m69-6h0m2-1h0m28 13h0m12-11h0m2-2h0m21 6h0m2 3h0m31 18h0m-7-10h0m-8 7h0m-96-8h0m-22-1h0m-25 7h0m-9-7h0m-22 2h0m-14 19h0m120 8h0m1-10h0m4 2h0m54 7h0m2-9h0m8 4h0m8-1h0m4 0h0m2 5h0m-12 14h0m-1 1h0m-1-2h0m-2-3h0m-42-4h0m-1 7h0m-7 0h0m-2 1h0m-8 3h0m-32-8h0m-15 7h0m-16-11h0m-2-1h0m0 1h0m-13 12h0m-11-5h0m-37-7h0m-13 26h0m2-11h0m5 3h0m13 3h0m1-4h0m5 2h0m12-1h0m20 4h0m7 1h0m3 3h0m16-4h0m21 3h0m16-4h0m2 5h0m6-7h0m7-6h0m10 3h0m25 9h0m19 2h0m0-7h0m9-7h0m30 20h0m-8-2h0m0 9h0m-1-3h0m-19-9h0m-37 8h0m-44-5h0m-16 8h0m-59-2h0m-73 18h0m21-1h0m17-6h0m49-5h0m23 6h0m60-2h0m88 3h0m-161 19h0m-6 1h0m-34-12h0m-3 12h0m-3-3h0m-37 1h0m15 19h0m34-6h0m20-8h0m160 0h0m-185 15h0m-21 2h0m161 13h0"/>
<path stroke="#f7e07a" d="M495 1490h0m-2 4h0m-14-2h0m17 19h0m4-3h0m6 0h0m11 16h0m-2 5h0m-9-4h0m-24-5h0m5 16h0m10-1h0m22 22h0m-15-3h0m-11 5h0m-7 0h0m-13 10h0m1-4h0m23-2h0m1 1h0m8 0h0m1 0h0m18 6h0m-17 16h0m-1-5h0m-27-6h0m-1 8h0m0 4h0m3 4h0m2 4h0m12 8h0m2 1h0m3-1h0m7-8h0m12 0h0m10 15h0m-25-5h0m-1 5h0m-3 0h0m-15-5h0m-12 4h0m-39 11h0m38 7h0m38-3h0m10 17h0m0 2h0m-3 1h0"/>
<path stroke="#f7f6c4" d="M509 1495h0m-37 23h0m-38 11h0m12 1h0m16 10h0m34 2h0m3-3h0m1-8h0m1 10h0m-7 10h0m-31 5h0m-1-3h0m-8 5h0m-8-2h0m0-4h0m-4 2h0m-15 4h0m-5-7h0m-9 3h0m-1 5h0m-2-2h0m-4-6h0m-7 13h0m12 7h0m8-9h0m4-2h0m4 12h0m6 2h0m5-6h0m11-1h0m9-7h0m1 4h0m4 5h0m7-7h0m2-1h0m28 2h0m1 15h0m-18-3h0m-4 2h0m-4 1h0m-10 8h0m-4-1h0m-8 1h0m-4-10h0m-5 4h0m0 3h0m-11-4h0m-3-3h0m-13 25h0m1-8h0m1 6h0m3-6h0m3-3h0m1 12h0m2 0h0m4-8h0m9-4h0m3 2h0m10-2h0m22 4h0m2-3h0m14 4h0m0-4h0m23 20h0m-12-2h0m-17 5h0m-15 2h0m-17-10h0m17 21h0m10 1h0m5-1h0m4-5h0m11 9h0m2-5h0m6 0h0m-16 10h0"/>
<path stroke="#f8b730" d="M486 1473h0m2 6h0m3 2h0m5-6h0m7 20h0m-5-7h0m-1 10h0m-1-1h0m11 8h0m-12 19h0m-3-8h0m37 18h0m3 7h0m4 17h0m-15-3h0m-8 3h0m16 16h0m2 0h0m5-11h0m12 0h0m-33 20h0m-7 0h0m-13 2h0m10 18h0m17-8h0m10-5h0m8 6h0m-3 16h0m-8-2h0m-5 2h0m-36-3h0m35 24h0m3-11h0m-4 22h0"/>
<path stroke="#ef7f1a" d="M498 1473h0m0 6h0m3-9h0m48 3h0m-43 23h0m-22-1h0m74 25h0m-63 12h0m45 6h0m7 0h0m-14 31h0m5 5h0m1-9h0m4 6h0m1-11h0m114 23h0m-128 0h0m-13-2h0m28 9h0m59 3h0m-85 41h0m25-2h0m1-9h0m15 3h0m146 17h0m-175 9h0m30 2h0m222 9h0m-133 7h0m-108 1h0m97 23h0m19-12h0m2 7h0m4-7h0m2 8h0m0 2h0m10-5h0m35-3h0m-12 23h0m-34-11h0m-6 6h0m-27 12h0m13 5h0m4-9h0m6 0h0m7 10h0m8-2h0m19-7h0m24 4h0m3 4h0m-62 75h0m-40 95h0"/>
<path stroke="#3a1248" d="M628 1527h0m-33 16h0m115 1h0m12 5h0m-91 13h0m116 4h0m33 12h0m-91 0h0m-61 23h0m161 21h0"/>
</g>
<g transform="translate(77.8,91.8) scale(0.409,0.425) scale(0.2)" stroke-width="13.6" stroke-linecap="round" fill="none">
<path stroke="#f7e07a" d="M488 1479h0m3 2h0m6 0h0m1-8h0m3-3h0m18 14h0m28-11h0m1 1h0m23 10h0m31 12h0m-60-4h0m-18 2h0m-3-6h0m-29 10h0m-7-4h0m11 17h0m11-6h0m15 9h0m1-12h0m1 1h0m6 11h0m4-2h0m1-8h0m52 2h0m12 6h0m23-2h0m7 3h0m11 11h0m-34-8h0m-25 6h0m-12 7h0m-16-9h0m-39-3h0m-3 10h0m-5-2h0m-14-9h0m53 28h0m12-12h0m42 3h0m6 6h0m5-5h0m10 8h0m23-11h0m16 0h0m31 3h0m14 6h0m6 2h0m10-1h0m-10 10h0m-7-8h0m-71 10h0m-2-5h0m0 3h0m-20 6h0m-3-10h0m-47-1h0m-6-3h0m-10 11h0m-8-2h0m27 11h0m14 0h0m8 5h0m5-6h0m5-4h0m5 5h0m27-3h0m4 0h0m26 9h0m4-5h0m3 8h0m59-2h0m15-11h0m27 10h0m6 3h0m-2 3h0m-3 11h0m-34-9h0m-43 10h0m-24-13h0m-3 12h0m-3-8h0m-1 3h0m-28-7h0m-7 1h0m-29 2h0m-31 10h0m55 11h0m83-5h0m8-5h0m5 1h0m20 3h0m21 1h0m18 8h0m7-3h0m4-3h0m3 8h0m-31 5h0m-2 8h0m-8-9h0m-28-1h0m-22 6h0m-31-2h0m-3-2h0m-90-1h0m-24 24h0m14-9h0m64 6h0m3 3h0m53-5h0m4 2h0m4-4h0m2-5h0m5-1h0m4 4h0m0 9h0m11-10h0m8-2h0m4 11h0m7-11h0m18 12h0m2-3h0m0-3h0m10 4h0m29-6h0m0 15h0m0-2h0m-8 0h0m-1 6h0m-1 5h0m-6-14h0m-17 6h0m-12-4h0m-20 6h0m-6 0h0m0 5h0m-2 1h0m-2-10h0m-12 6h0m-16-9h0m-129 16h0m3-2h0m20 0h0m21 1h0m93 11h0m6-10h0m1 6h0m1-6h0m14 1h0m28-3h0m1 11h0m19 3h0m18-1h0m8-6h0m-23 20h0m-14-4h0m-2 2h0m-4-10h0m0 11h0m-5-9h0m-17 0h0m-8 6h0m-5 0h0m-2 2h0m-2-1h0m-6 1h0m-1-5h0m-7 4h0m-65 2h0m-3-8h0m-15 2h0m-31-4h0m-25 16h0m6 12h0m28-1h0m6-11h0m6 9h0m89-4h0m34 5h0m2-10h0m4 2h0m0 2h0m24-4h0m8 7h0m10 12h0m-8 0h0m-40 4h0m-5-9h0m-1 8h0m-11 3h0m-16 7h0m21 0h0m10 0h0m1 4h0m2-2h0m5-6h0m6 6h0m5 2h0m2-3h0m1 1h0m14-5h0m-38 16h0m-12 2h0"/>
<path stroke="#ef7f1a" d="M503 1515h0m-7 5h0m51 18h0m58 12h0m-39 0h0m-45 5h0m-23 9h0m23 0h0m2 3h0m2 3h0m4 3h0m2 1h0m7 0h0m132 12h0m-39-1h0m-53-10h0m-10 14h0m-6 0h0m-30-2h0m-14-9h0m-47 2h0m39 21h0m13-10h0m3 11h0m31-8h0m25 10h0m37-13h0m32 26h0m-35-10h0m-5 7h0m-24-9h0m-1 13h0m-2-2h0m-29 2h0m-5-1h0m-4-10h0m-6 11h0m-2-7h0m-1 1h0m-8-2h0m0 6h0m-14-5h0m-4 22h0m15-11h0m12-2h0m6 2h0m55 9h0m31-2h0m6-6h0m36 8h0m15 6h0m-108 0h0m-22 12h0m-3-8h0m-14 5h0m38 15h0m20-1h0m46 1h0m28-7h0m18 2h0m25 22h0m-14-9h0m-37 9h0m-3-6h0m-6-3h0m0 3h0m-2 7h0m-36-13h0m-37 8h0m-34-4h0m-7-5h0m7 18h0m12 0h0m16 1h0m55-3h0m0 8h0m2-2h0m29 2h0m22 3h0m12-11h0m1 1h0m15 15h0m-33 0h0m-6 1h0m-41-2h0m19 14h0m1 3h0m14-3h0m6 4h0m4 5h0m8 2h0m7-11h0m0 1h0m21 9h0m-14 10h0m-180 20h0m176-7h0m-16 12h0m-1 7h0m-10-6h0m-18 113h0m1 4h0m6-6h0m11-3h0m1 1h0m-27 21h0m-32 1h0m11 13h0m6 2h0m3-4h0m7 5h0m37-5h0m-10 7h0m-16 2h0m-4-2h0m-7 4h0m-8 4h0m-3-4h0m-10 0h0m-2-2h0m0 10h0"/>
<path stroke="#ececdc" d="M283 1678h0m-26 5h0m9-2h0m15 10h0m2 2h0m16-7h0m5 5h0m1-1h0m73 14h0m-12 4h0m-45-5h0m-5 0h0m-1-1h0m-9-3h0m-4 10h0m-1-3h0m-5 0h0m-6-5h0m-1-2h0m-7 2h0m-2-4h0m-2 1h0m-6 10h0m-2 0h0m-17-7h0m7 14h0m2 8h0m5-7h0m1-2h0m2 7h0m0-10h0m3 1h0m1 5h0m11-2h0m3 6h0m2 0h0m2 1h0m6 1h0m34-7h0m5-6h0m15 6h0m6 1h0m25 7h0m11-1h0m9-6h0m0-6h0m3 7h0m3 5h0m2-3h0m6 1h0m14-4h0m4 4h0m3-4h0m2 3h0m16 15h0m-28-3h0m-10-2h0m-3-2h0m-14-2h0m-20 6h0m0-5h0m-5 2h0m-3 6h0m-9-7h0m-7 9h0m-1-3h0m-1 3h0m-10 2h0m-3-3h0m-20 3h0m-21-9h0m-7-2h0m-6 11h0m-3-1h0m-2-12h0m-15 6h0m-3 2h0m-16 3h0m-159 17h0m3 0h0m9-2h0m1 2h0m5 0h0m139-5h0m7-5h0m3 7h0m12 0h0m4 1h0m8-4h0m5-7h0m7 5h0m2 0h0m9 2h0m21-6h0m14 0h0m0 11h0m4-10h0m4 3h0m9 3h0m4 0h0m1 2h0m15-8h0m0 4h0m5-5h0m11-2h0m9 4h0m3-4h0m13 13h0m30-10h0m1 6h0m9 5h0m19-6h0m6 3h0m4 1h0m4-5h0m13 21h0m-3-12h0m-11 11h0m-1-6h0m-2-1h0m-14 5h0m-19 4h0m-1-6h0m-6-7h0m-10-1h0m-10 7h0m-13 0h0m-1 2h0m-13 5h0m-6-11h0m-9 8h0m-14-6h0m-4-2h0m-3 2h0m-34-4h0m-8 6h0m-1-2h0m-14 3h0m-3-2h0m-7 6h0m-1-3h0m-5 0h0m-1-1h0m-12 6h0m-28-2h0m-1-1h0m-1-8h0m-109 7h0m-2 3h0m-8-7h0m-1 6h0m-3-7h0m-2 6h0m-7 1h0m-1 1h0m-2-2h0m0-10h0m-3 11h0m-1 2h0m-12-3h0m-2-3h0m-4-1h0m-5 1h0m-2-5h0m42 14h0m16 2h0m73 2h0m32-4h0m11-2h0m23 14h0m3-3h0m3-1h0m3-8h0m2 0h0m5 6h0m6-4h0m4 7h0m23 0h0m22-4h0m23 1h0m7-3h0m7 2h0m4 2h0m21 4h0m3-1h0m3-3h0m11-3h0m1 8h0m8-8h0m30-1h0m1 2h0m20 1h0m19-3h0m6 7h0m-5 6h0m-15 11h0m-2-14h0m-4 3h0m-18 2h0m-2 0h0m-30 4h0m-5-3h0m-14 5h0m-2 2h0m-23-1h0m-2-11h0m-1 5h0m-6-5h0m-8 3h0m-24-4h0m-7 0h0m0 9h0m-6-7h0m-15 12h0m-12-11h0m-12-2h0m-9 8h0m-6 1h0m-10-8h0m-5 3h0m-1 4h0m-2-5h0m-18 4h0m-1-1h0m-5-5h0m-12 7h0m11 11h0m16 1h0m1-5h0m3-1h0m6 1h0m3 3h0m56-3h0m15 3h0m30 1h0m15 0h0m2 6h0m20 1h0m9-6h0m9-2h0m1 9h0m3-2h0m8 3h0m13 0h0m7-3h0m23-10h0m10 6h0m9 4h0m-7 18h0m0-10h0m-4 2h0m-8-2h0m-2 6h0m-1-1h0m-6 4h0m-2 1h0m-1-11h0m-5 9h0m-20 2h0m-11-6h0m-1 2h0m-1-9h0m0 2h0m-5 0h0m-5 5h0m-6-1h0m-14 0h0m-7-4h0m-1-3h0m32 22h0m5 5h0m3-11h0m10 2h0m15 7h0m11-7h0m22-1h0m78 27h0m-111-7h0m-4-2h0m-14 0h0m-10-4h0m148 37h0m-10 1h0m-1-2h0m4 12h0m8 6h0m4-1h0m2-8h0m5 7h0m2 1h0m8-6h0m-1 18h0m-4 6h0m-5-12h0m69 124h0m-1 0h0m-8 5h0m-1-2h0m-2 5h0m0-10h0m0 14h0"/>
<path stroke="#f8b730" d="M537 1483h0m-34 12h0m6 6h0m15 23h0m20 7h0m51 12h0m5-5h0m33 18h0m-16 2h0m-23-1h0m-37-11h0m-18 1h0m-3 11h0m34 11h0m5 0h0m40 2h0m46-9h0m3 13h0m-9 14h0m-15-10h0m-6 5h0m-16-2h0m-15-3h0m-9 6h0m-30-10h0m-12 1h0m-1 10h0m-3 15h0m2-7h0m18 5h0m4 4h0m22-2h0m10-8h0m14 11h0m11-7h0m11 4h0m34-7h0m86 21h0m-68-2h0m-55-6h0m-2-1h0m-4 2h0m-9 11h0m-20-14h0m-6 13h0m-13-5h0m-9-6h0m-6 2h0m-7-2h0m-13 12h0m-17 15h0m2-8h0m23-1h0m5-3h0m0 11h0m2-11h0m1 2h0m0 10h0m10-4h0m13-2h0m2 5h0m10-8h0m43-5h0m13 3h0m3-2h0m8 11h0m1-5h0m9 0h0m30 6h0m75 8h0m-19-6h0m-76 14h0m-29-11h0m-8 10h0m-7-3h0m-3 4h0m-12-2h0m-13-7h0m-8 4h0m-32-5h0m-20 8h0m0-3h0m-9-2h0m3 20h0m5-10h0m0-1h0m1 11h0m0-3h0m0 2h0m6 1h0m1-8h0m3-4h0m7 5h0m14 2h0m14 2h0m11 3h0m9-8h0m28 1h0m2 0h0m48 4h0m6-5h0m85 11h0m-25 3h0m-25 10h0m-23-9h0m-17 4h0m-43-4h0m-14 1h0m-13 0h0m-5 8h0m-16-7h0m-11-1h0m0-1h0m-6-4h0m-33 10h0m-10 0h0m-5-4h0m-1-3h0m-4 0h0m14 23h0m9-11h0m8 9h0m8-2h0m20 1h0m20-7h0m23 13h0m19-12h0m2-2h0m0 11h0m50-11h0m7 13h0m36-8h0m-8 12h0m-20 2h0m-75 7h0m-56-5h0m0 8h0m25 9h0m20 4h0m6-3h0m17 1h0m8-2h0m18-4h0m22 10h0m-56 70h0m11 84h0m-26 11h0m-25 0h0m32 15h0m19-7h0m-42 13h0"/>
<path stroke="#f7f6c4" d="M484 1481h0m2-8h0m12 6h0m11-6h0m6 4h0m14 3h0m20-7h0m5 5h0m11 0h0m7 19h0m-16-9h0m-9-2h0m-24 10h0m-9 0h0m-3-7h0m-15 8h0m-3-3h0m28 10h0m14 0h0m3 7h0m3-7h0m5 4h0m21-6h0m3 6h0m18-3h0m28-2h0m13 4h0m7 6h0m-69 5h0m-1-2h0m-52 7h0m10 12h0m19-3h0m2 3h0m14 4h0m2-4h0m11 8h0m25-4h0m5-4h0m3 6h0m4-1h0m18 2h0m9 2h0m2-14h0m7 7h0m8-2h0m17 8h0m5-7h0m8 7h0m7-3h0m1-3h0m5 3h0m46 7h0m-21 9h0m-6 3h0m-12-13h0m-1 8h0m-5-2h0m-13 0h0m-1 6h0m-32-10h0m-16 4h0m-3-5h0m-13 5h0m-7-1h0m-3 7h0m-3-1h0m-4 1h0m-62-6h0m24 9h0m36 13h0m22-14h0m9 8h0m36-8h0m3 12h0m10-12h0m4 3h0m15 11h0m12-7h0m1-7h0m2 9h0m6-7h0m2-2h0m11 5h0m8 6h0m6-5h0m8 6h0m13-9h0m7 26h0m-19-4h0m-82-10h0m-7 11h0m-3 3h0m-13-3h0m-73-3h0m88 14h0m23 3h0m1-4h0m8 0h0m30 1h0m13-7h0m13 4h0m0 5h0m1-4h0m15 3h0m3-1h0m1 0h0m12 3h0m-10 12h0m-13 5h0m-1-2h0m-3 4h0m-40-7h0m-1-4h0m-10 8h0m-3 3h0m-5-5h0m-140 12h0m138 2h0m20-1h0m10-5h0m8 2h0m24-4h0m20 11h0m-45 4h0m-149 24h0m144-5h0m20-2h0m16 27h0m-13 0h0m-4-2h0m-59 7h0m20 5h0"/>
<path stroke="#a52a4a" d="M479 1492h0m0 5h0m-4 16h0m31-5h0m-24 12h0m-43 13h0m65 21h0m-10-3h0m-22 1h0m-3 7h0m-10 5h0m11-2h0m4 3h0m26-2h0m17 18h0m-2 2h0m-44 5h0m-10-3h0m-17-5h0m40 15h0m8 0h0m6 9h0m7-1h0m4-4h0m-8 11h0m-9 1h0m-12 5h0m-1-3h0m-5-4h0m-3 18h0m8-4h0m7-1h0m2 1h0m31 11h0m-26 2h0m118 280h0"/>
<path stroke="#3a1248" d="M445 1544h0m0 6h0m-39 1h0m10 18h0m7-9h0m4 12h0m11-4h0m11 8h0m-8-1h0m0 12h0m-15 15h0m2 0h0m16-10h0m10-2h0m1 9h0m-30 8h0m28 14h0"/>
<path stroke="#1c0c30" d="M422 1551h0m-12 6h0m9 11h0m7-2h0m7 13h0m-13 4h0m-3 18h0m1-8h0m4 0h0m10-1h0m-5 21h0"/>
<path stroke="#d4482b" d="M485 1482h0m2 8h0m-3 1h0m-2 16h0m21 12h0m-8 5h0m4 15h0m2 2h0m35 5h0m-5 7h0m-31 0h0m-4-7h0m-10 13h0m10 5h0m10 0h0m1 0h0m13-1h0m5 7h0m15-4h0m77 4h0m-86 15h0m-14-5h0m-9 3h0m0 3h0m-6-1h0m-18-8h0m-13 4h0m11 10h0m8 11h0m11 1h0m6-7h0m13-1h0m10 15h0m-1 8h0m-5-6h0m-11 2h0m-14 1h0m-3 0h0m-23 12h0m17-5h0m13 4h0m20 7h0m3-11h0m6 12h0m13-11h0m23 9h0m24 11h0m-71-2h0m-3 3h0m-20-9h0m33 17h0m112 6h0m21 24h0m23 21h0m-5-3h0m-21 2h0m9 50h0m11 3h0m-26 20h0m6 109h0m-5 5h0m10 15h0m-4 7h0m-34-1h0m-23 5h0"/>
<path stroke="#6c1d5a" d="M473 1511h0m-23 16h0m-4 3h0m15 8h0m-2 7h0m-13 11h0m0-4h0m-27 10h0m13 3h0m18 3h0m8-8h0m14 1h0m12 0h0m-26 23h0m-30-1h0m50 8h0m15 19h0m-6-4h0m-51 15h0m45 7h0m5-1h0m15 4h0"/>
<path stroke="#f7e07a" d="M531 1469h0m-43 5h0m3-3h0m4 4h0m2 3h0m60 1h0m9 1h0m31 12h0m-4 2h0m-1-2h0m-5-6h0m-8 12h0m-1-2h0m-9-10h0m-5-1h0m-14 11h0m-4-7h0m-5-3h0m-10 4h0m-4 1h0m-4-6h0m0 9h0m-16-8h0m-6 2h0m-3 0h0m-1 10h0m-8-13h0m-3 0h0m26 16h0m5 7h0m2-3h0m27-2h0m1 6h0m3 4h0m14-11h0m8 2h0m4-4h0m1 8h0m6 2h0m4-3h0m16-3h0m17 4h0m10 0h0m-2 19h0m-55-3h0m-35 1h0m-18 4h0m-25 3h0m2 3h0m40 6h0m8 3h0m6-13h0m45 3h0m9-2h0m14 7h0m1 4h0m3-8h0m21-5h0m85 14h0m23 12h0m-21-8h0m-13 9h0m-1-7h0m-6 3h0m-84 2h0m-5-8h0m-32 12h0m-15-12h0m-2 10h0m-16-8h0m-3 8h0m-8-8h0m-13 20h0m55-9h0m21 7h0m16-1h0m86 7h0m12-4h0m22 0h0m35 9h0m-4-1h0m0 10h0m-18-7h0m-7 2h0m-30-2h0m-29 2h0m-3-4h0m-5 10h0m0-7h0m-15-2h0m-7-2h0m-30 1h0m-25-2h0m-5 8h0m-7 5h0m-8-12h0m-30 2h0m-1-4h0m28 27h0m22-4h0m31-6h0m14 8h0m23-7h0m17-3h0m2 14h0m53-7h0m16-3h0m6 7h0m-4 15h0m-2-1h0m-11 4h0m-16-3h0m-14-8h0m-4-3h0m-7 10h0m-6 4h0m-15-9h0m-104 16h0m12 0h0m29 4h0m60-7h0m2 3h0m14-4h0m5 1h0m22-1h0m1 12h0m27-14h0m26 12h0m6 3h0m-3 10h0m-4-1h0m-5 3h0m-15-4h0m-51-8h0m-7 0h0m-8 6h0m-11 0h0m-4-3h0m-1-1h0m-15 9h0m-53-4h0m-1 0h0m-30 4h0m-3-10h0m15 18h0m27-4h0m4 6h0m5-2h0m14 2h0m10-3h0m2 11h0m35-9h0m19 6h0m7-6h0m15-2h0m15 8h0m1-11h0m7 13h0m2-3h0m17 4h0m11-8h0m-2 12h0m-3 4h0m-3 3h0m-13-7h0m-7-3h0m-8 9h0m-4-8h0m-3 4h0m-7-1h0m-11 1h0m0-5h0m-10 6h0m-3 3h0m-9-8h0m-3 5h0m-69 5h0m-5 1h0m-27-8h0m-17-1h0m20 21h0m3-2h0m34-5h0m33 6h0m34-1h0m19-3h0m2 2h0m26-6h0m12 13h0m13-13h0m-5 21h0m-43 7h0m-44 1h0m-65-13h0m-28-1h0m0 18h0m124-2h0m7 0h0m8 8h0m5-3h0m-18 9h0"/>
<path stroke="#ef7f1a" d="M510 1477h0m48 43h0m-35 9h0m-8 0h0m6 5h0m8 0h0m3 7h0m4-9h0m4 6h0m97 5h0m-15 14h0m-103 0h0m-6 1h0m-16 5h0m32 11h0m5-6h0m5-3h0m133 24h0m-41 0h0m-22-14h0m0 11h0m-46-7h0m-9-2h0m-17 3h0m-4 4h0m-6-6h0m-9 9h0m-53-1h0m27 5h0m40-1h0m8 6h0m68 8h0m5-1h0m60 12h0m-7 0h0m-13 3h0m-41-5h0m-83 2h0m-43 7h0m23 4h0m2-2h0m16 6h0m17 2h0m8-4h0m0 3h0m28 0h0m20-5h0m19 3h0m53 0h0m14-7h0m-20 25h0m-78-4h0m-22 0h0m-24-6h0m-4 11h0m0-7h0m-2 6h0m-4-7h0m-12 8h0m11 2h0m55 1h0m24 5h0m60 1h0m7-2h0m15 6h0m-30 7h0m-3-2h0m-37 11h0m-10 2h0m-16-9h0m-8 6h0m-26-3h0m-12 18h0m47 0h0m7 0h0m12-11h0m8 5h0m20 5h0m22 2h0m10-5h0m4 1h0m11-8h0m-26 16h0m-4 9h0m-22-6h0m-11 10h0m-78-14h0m-10 21h0m102 6h0m1-4h0m1 0h0m2-3h0m9-5h0m3 10h0m2-5h0m18 6h0m2-10h0m1 9h0m32-5h0m3 4h0m7 6h0m-54 3h0m-142 3h0m128 60h0m-5-6h0m24 97h0m-2-2h0m-9-4h0m-22 8h0m-11 4h0m26 6h0m2-3h0m2 10h0m1 2h0m4-4h0m-13 11h0m-7-2h0m-5 0h0m-7 7h0m-14-5h0m-6 1h0m0-3h0m7 13h0"/>
<path stroke="#ececdc" d="M250 1687h0m10 5h0m21-1h0m3-3h0m10 4h0m1-5h0m1 3h0m3 0h0m96 19h0m-4 0h0m-62-6h0m-7 5h0m-4-2h0m-10-9h0m-4 10h0m-8-12h0m-2 7h0m-12 0h0m-4 6h0m-10-7h0m-6-2h0m-6 1h0m-9 6h0m2 12h0m1-1h0m2-4h0m5-2h0m28 1h0m14 2h0m21-2h0m8-2h0m2 5h0m2 0h0m7 1h0m3-2h0m9 10h0m6-4h0m0-1h0m1 0h0m3 5h0m13 0h0m8-1h0m6-1h0m3-9h0m7 9h0m2-5h0m5 4h0m4-10h0m3-1h0m15 9h0m11-3h0m22 7h0m2 2h0m-3 9h0m-41 0h0m-5-5h0m-3 0h0m-6-3h0m-2 1h0m-2 6h0m-5 1h0m-22-5h0m-3 10h0m-8-10h0m-2 10h0m-7-9h0m-2 3h0m-8 1h0m-7-3h0m-13 5h0m-4-1h0m-1-10h0m-20 14h0m0-14h0m-12 2h0m-6-1h0m-22 6h0m-4 3h0m-2-9h0m-148 26h0m149-6h0m0 1h0m13 0h0m10 5h0m8 2h0m2-12h0m2 3h0m7-1h0m1 10h0m5-9h0m1 2h0m2 2h0m1-3h0m9 0h0m32-3h0m2-1h0m11 10h0m0-10h0m3-1h0m10 9h0m10 1h0m18 1h0m5-7h0m2-1h0m4-1h0m11 8h0m7 3h0m1-9h0m10 0h0m0 1h0m3 2h0m5 6h0m12 0h0m9-11h0m2 11h0m5-5h0m2 1h0m3 4h0m7-2h0m5 0h0m16 17h0m-12-13h0m-12 3h0m-1 4h0m-6-3h0m-11-2h0m-5 5h0m-7 4h0m-1-8h0m-8 2h0m-1 4h0m-2-2h0m-6-4h0m-17 10h0m-37-7h0m-33 1h0m-32-5h0m-38-3h0m-3 9h0m-3-7h0m-7 1h0m-3 9h0m-13-10h0m0 4h0m-5 7h0m-1-10h0m-123 9h0m-2 1h0m-3-5h0m-5 2h0m-1-10h0m-2 2h0m-7 2h0m-1-4h0m-1 10h0m-2 0h0m-6-10h0m-1 6h0m17 9h0m26 3h0m32 1h0m10-1h0m2 1h0m35 2h0m27 3h0m2 1h0m3-7h0m4 1h0m2-3h0m4-1h0m4 6h0m2 0h0m15-3h0m2 9h0m7-1h0m17 1h0m50-2h0m7 0h0m7 3h0m26 1h0m16-4h0m1-1h0m2 4h0m4 1h0m15-4h0m5-1h0m3-1h0m6 6h0m5-13h0m3 0h0m6 6h0m4-7h0m4 6h0m17 2h0m1-1h0m14-1h0m5 2h0m9 0h0m2 14h0m-9 0h0m-7-2h0m-7-3h0m-14 2h0m-4-3h0m-38 10h0m0 2h0m-5-11h0m-2 9h0m-1-6h0m-7 5h0m-4 3h0m-5-5h0m-1 6h0m-1 0h0m-4-9h0m-1 9h0m-1-13h0m-1 7h0m-7 1h0m-9 3h0m-3-11h0m-4 5h0m-37-2h0m-3-4h0m-8 13h0m-33-10h0m-12 6h0m-6-1h0m0-7h0m-3-1h0m-7 10h0m-8-4h0m0 4h0m-1-9h0m-3 10h0m-13-1h0m-4 0h0m28 6h0m92 9h0m27 3h0m14-9h0m6 9h0m17-13h0m8 9h0m18 1h0m5-6h0m7 9h0m4-7h0m1 8h0m3-4h0m0-7h0m16 4h0m4-5h0m17 2h0m-12 15h0m-7-4h0m-2 13h0m-17 1h0m-11-5h0m-1-8h0m0 1h0m-5 11h0m0-7h0m-4 5h0m0-8h0m-1 4h0m-10 1h0m-6 3h0m-1 2h0m-3-9h0m-24-2h0m30 17h0m5 5h0m3-5h0m14 4h0m4-4h0m1-3h0m9-1h0m8 9h0m15-6h0m4-1h0m-33 20h0m-11-4h0m126 12h0m11 29h0m-13-8h0m-2 11h0m1 4h0m8 8h0m9-12h0m3 12h0m3-4h0m2 4h0m1-7h0m-3 16h0m-7-6h0m69 127h0m-7-4h0m3 12h0"/>
<path stroke="#f8b730" d="M496 1475h0m21 5h0m10 2h0m19 7h0m-17 14h0m2 40h0m87-5h0m5 1h0m-36 20h0m-23-9h0m-17-1h0m12 14h0m1 0h0m2 2h0m8-4h0m10 9h0m10-7h0m1 6h0m21 1h0m17-3h0m43 2h0m-29 6h0m-7 4h0m-9 7h0m-10-4h0m-4 4h0m-4 2h0m-5-12h0m-40 4h0m-19 10h0m12 9h0m1 4h0m28-11h0m11 7h0m0-7h0m5 2h0m8 2h0m2-2h0m6 4h0m3 3h0m7 0h0m1-10h0m8 3h0m62-1h0m13 20h0m-1 3h0m-43-5h0m-8 3h0m-8-8h0m-8 0h0m0-1h0m-9 2h0m-5 5h0m-7-6h0m-4-1h0m-16 2h0m-4-1h0m-18 4h0m-9-1h0m-1 3h0m-3 6h0m-30-10h0m24 18h0m3-4h0m3 3h0m13 3h0m1-4h0m5 2h0m58 3h0m39 4h0m49-1h0m18 2h0m16-12h0m-20 24h0m0 1h0m-1-10h0m-40 6h0m-74-7h0m-8 6h0m-4-7h0m-6 13h0m-8-1h0m-10 1h0m-2-5h0m-2 5h0m-4 1h0m-3-7h0m-26 1h0m-29 9h0m3 10h0m13-7h0m1 8h0m15-11h0m1-2h0m8 6h0m15 3h0m13 5h0m14-14h0m2 0h0m20 12h0m19-11h0m41 9h0m8 1h0m4-7h0m11 3h0m68-4h0m-1 14h0m-63-1h0m-67 7h0m-5-3h0m-7-3h0m-2 1h0m-10 8h0m-1 0h0m-32-1h0m-11 2h0m-3-3h0m-25-9h0m-3 0h0m0 10h0m-4 2h0m1 6h0m10-1h0m7 0h0m95 4h0m10 1h0m13-5h0m8 4h0m15-2h0m18 9h0m-1 12h0m-29 2h0m-40-5h0m-59 5h0m-7-11h0m0 6h0m-23-5h0m110 25h0m39 0h0m-2 6h0m-8-2h0m-18 4h0m-171 19h0m169-3h0m-38 33h0m13-8h0m0 105h0m-17 13h0m10 19h0m-12-1h0m-3 8h0m-29-2h0"/>
<path stroke="#f7f6c4" d="M513 1481h0m22-11h0m3 10h0m3-2h0m8-1h0m42 16h0m-14-1h0m-9-7h0m-4 12h0m-1-8h0m-37-1h0m-17 7h0m-3 1h0m-22-1h0m-7-7h0m26 16h0m3 6h0m1-6h0m8 1h0m30 2h0m11-2h0m23 3h0m36 4h0m14-2h0m16 19h0m-15-2h0m-12-11h0m-2 13h0m-34-11h0m-5 3h0m-11 4h0m-15-7h0m-10 1h0m3 23h0m18-6h0m36 4h0m1-2h0m3-3h0m34 8h0m10-8h0m5 1h0m7 0h0m13-3h0m21 7h0m69 17h0m-26 0h0m-13-8h0m-8 4h0m-11-5h0m-6 8h0m-50-1h0m-20 3h0m-8 1h0m-3-2h0m-9 2h0m-12-10h0m-48 4h0m0-7h0m-9 15h0m38 8h0m13 1h0m1 2h0m12-11h0m27 4h0m18-3h0m31-1h0m17 3h0m13 9h0m11-9h0m2 9h0m3-10h0m1 11h0m4-4h0m4 1h0m9-7h0m1 2h0m12-6h0m14 3h0m-8 21h0m-9-4h0m-1 9h0m-18-6h0m-9-6h0m-3 4h0m-4-3h0m-38 5h0m-1-5h0m-10-3h0m-2 4h0m-45 4h0m-48 13h0m114-6h0m7 4h0m2 6h0m21-9h0m3 2h0m14 3h0m18 7h0m10-5h0m2 0h0m6-1h0m6 5h0m10 9h0m-22 7h0m-1-6h0m-3 0h0m-7 1h0m-36 2h0m-4 2h0m-3-3h0m-8 0h0m-2 5h0m-3-2h0m-10 17h0m15-1h0m6-1h0m14-11h0m10 11h0m4 1h0m31-10h0m22 7h0m0-8h0m-7 25h0m-66-6h0m-27-1h0m-128-5h0m230 22h0m-22 20h0m-6 1h0m-26-5h0m29 26h0m-45 2h0"/>
<path stroke="#a52a4a" d="M495 1490h0m-4 7h0m26 27h0m-45-6h0m-4 24h0m12-12h0m53 29h0m-43-10h0m-4 0h0m-23 7h0m-14 11h0m21-7h0m1 5h0m2 4h0m57 14h0m-34 3h0m-1-1h0m-15-10h0m-1 2h0m0 6h0m-4-5h0m-11 9h0m-1-4h0m-3-6h0m16 17h0m20 9h0m7 6h0m-1 2h0m-13-4h0m-14 23h0m25 3h0m22 11h0m-11 0h0m184 31h0m-67 226h0m32-2h0"/>
<path stroke="#3a1248" d="M434 1529h0m3 19h0m-10 10h0m-16 13h0m8 2h0m10-11h0m4 12h0m3-14h0m15 15h0m-21 1h0m-11 23h0m13-5h0m9-4h0m13 16h0m-19 14h0"/>
<path stroke="#1c0c30" d="M437 1553h0m-20-4h0m-4 5h0m-1 5h0m-13 5h0m45 19h0m-20-2h0m-16-6h0m17 15h0m4 9h0"/>
<path stroke="#d4482b" d="M493 1488h0m-14 0h0m21 20h0m6 10h0m-12 9h0m-7 9h0m1 0h0m8 6h0m109 11h0m-66 3h0m-6-10h0m-40 13h0m-16 12h0m27 1h0m7-4h0m25-5h0m7 8h0m1-11h0m4 3h0m-5 18h0m-3 6h0m-9-9h0m-6-3h0m-2 4h0m-5 6h0m-11-4h0m-24-6h0m-9 5h0m27 17h0m5-5h0m2 3h0m14 0h0m23-5h0m-29 17h0m-1 4h0m-10-6h0m-1 5h0m-16-1h0m-2-4h0m0 9h0m-15 2h0m18 18h0m8-12h0m21 9h0m3 12h0m108 23h0m-6 5h0m-9-6h0m52 25h0m7-4h0m-3 23h0m-47 8h0m9-3h0m64 9h0m-23 28h0m-8 113h0m8 16h0m-9 8h0m-13-7h0m-45 15h0m15-6h0m24 8h0m0-4h0m-4 22h0"/>
<path stroke="#6c1d5a" d="M474 1522h0m-29 12h0m17 6h0m38-9h0m-38 22h0m-8 5h0m-10-5h0m-2 1h0m21 15h0m38 9h0m-22 9h0m-9-9h0m-6 2h0m-11 6h0m-16 1h0m-10 4h0m5 3h0m42 5h0m15-3h0m-36 19h0m2 6h0m6 3h0"/>
</g>
<g transform="translate(141.3,91.8) scale(0.409,0.425) scale(0.2)" stroke-width="13.6" stroke-linecap="round" fill="none">
<path stroke="#f7f6c4" d="M486 1473h0m2 6h0m0-5h0m3 7h0m0-10h0m4 4h0m2 6h0m1-2h0m0-6h0m3-3h0m8 3h0m18 9h0m2-2h0m8 3h0m1-3h0m10-6h0m1 3h0m5 1h0m12 2h0m31 12h0m-5 0h0m-5-6h0m-8 12h0m-15-1h0m-1-8h0m-13 7h0m-3-10h0m-1 3h0m-5-3h0m-15 2h0m-2 6h0m-1 2h0m-16-10h0m-1 10h0m-13-8h0m-2 9h0m-2-12h0m-2 5h0m-8-2h0m0 9h0m0-5h0m-6 19h0m2 2h0m7-6h0m18 1h0m6 2h0m0-2h0m1-4h0m5-3h0m3 4h0m14-2h0m1 11h0m5-10h0m11-1h0m1 6h0m3 4h0m27-5h0m10-2h0m1-1h0m15-1h0m13-1h0m4 5h0m2 2h0m8-2h0m6 5h0m9 16h0m-17-2h0m-12 2h0m-39-8h0m-8 8h0m-3-13h0m-15 2h0m-13 7h0m-14-1h0m-1 5h0m-9-6h0m0-6h0m-11 2h0m0-4h0m-8 9h0m-23-6h0m-22 9h0m-5 17h0m0-10h0m1-4h0m16 10h0m6 2h0m12-12h0m7 6h0m10-1h0m2 4h0m32 4h0m1-2h0m4-9h0m8 10h0m1 2h0m2-6h0m14-3h0m1 1h0m33 7h0m1-9h0m3 4h0m10 2h0m9-2h0m2 5h0m16 1h0m8-14h0m7 6h0m2-1h0m5 1h0m12 7h0m1-10h0m12 10h0m8-6h0m70 20h0m-19-10h0m-7 10h0m-4-9h0m-9 1h0m-5 1h0m-2 9h0m-4-6h0m-8-7h0m-1 8h0m-18-2h0m-37 3h0m-15 0h0m-10 2h0m0-10h0m-3 12h0m0-7h0m-9 7h0m-3-10h0m-1 8h0m-1-7h0m-3 8h0m-7-9h0m-8 10h0m-14-2h0m-7-7h0m-12-5h0m0 12h0m-7-4h0m0-7h0m-7 6h0m-1-5h0m-6 12h0m-12-4h0m-2 2h0m-15-3h0m-10-3h0m-1 8h0m-3-10h0m-4 10h0m-14-7h0m-10 1h0m-17-3h0m-8 3h0m0-5h0m-10 10h0m-5-7h0m-5-2h0m-4 5h0m-3 3h0m-4-6h0m5 20h0m8-3h0m8 4h0m5-7h0m4-5h0m14 8h0m9-4h0m4 5h0m7-9h0m0 2h0m1 3h0m2 4h0m23-5h0m8 8h0m3-8h0m13-1h0m1 1h0m2 3h0m2 3h0m4 4h0m0-1h0m2 1h0m7 0h0m5-3h0m1-11h0m31 9h0m10 1h0m5-6h0m0 8h0m5-12h0m5 5h0m2-4h0m10 9h0m3 1h0m14-4h0m2 1h0m16-6h0m14 4h0m3 8h0m3-14h0m3 12h0m10-12h0m15 4h0m4 10h0m12-1h0m1-13h0m2 9h0m7 4h0m1-13h0m1 12h0m1-9h0m1 11h0m8-3h0m8 0h0m1-7h0m3 5h0m10-9h0m10 11h0m4-8h0m7 24h0m-1 2h0m-9-1h0m-5-4h0m-3-4h0m-2 5h0m-5 4h0m-30-9h0m-32-2h0m-10 5h0m-9 3h0m-1-7h0m-1-4h0m-3 1h0m-1 13h0m-2-12h0m-3 3h0m-1 3h0m-22-4h0m-5 6h0m0 4h0m-1-13h0m-3 10h0m-6-3h0m-3-1h0m-9 4h0m0-11h0m-5 1h0m-1 3h0m-16-2h0m-9 6h0m-14-8h0m-1 4h0m-6 0h0m-6 7h0m-8-5h0m-3 6h0m-7-3h0m-2 1h0m0-7h0m-4 0h0m-2-3h0m-7 3h0m0 9h0m-1-6h0m0-1h0m-2 3h0m-7 0h0m0 3h0m-7-8h0m-5 8h0m-13-11h0m-3 0h0m-1 12h0m-4-9h0m-1 2h0m-3 0h0m0 1h0m-7 6h0m-4-10h0m-2 7h0m-5 2h0m-4-10h0m-5 4h0m0 3h0m-3-8h0m0 12h0m-11-11h0m-2 7h0m-4-2h0m-16-6h0m20 27h0m1-3h0m3-7h0m0 2h0m9-4h0m13 0h0m1 9h0m19 0h0m4-8h0m4 0h0m10 0h0m0 4h0m4 8h0m2 1h0m3-1h0m0-6h0m5-5h0m3 7h0m1 2h0m13-10h0m17 5h0m5-6h0m23 9h0m4 4h0m1-7h0m13-4h0m8 9h0m8-7h0m4 4h0m6-4h0m1 9h0m5 1h0m0-6h0m1-7h0m10 0h0m37 6h0m21-7h0m6 14h0m1-10h0m2 6h0m2-4h0m1-3h0m2 2h0m16-4h0m11 6h0m13-7h0m5 7h0m6 6h0m2-4h0m10-1h0m6-1h0m6 15h0m-12 6h0m-1-6h0m-1 3h0m-6-5h0m-3 3h0m-7-4h0m-25-1h0m-3 0h0m-1 7h0m0-10h0m-4 12h0m-8 2h0m-5 0h0m-3-2h0m-24-2h0m-5-4h0m-15 7h0m-1-12h0m-1 11h0m-7-12h0m-7 2h0m-2 0h0m0-1h0m-5 6h0m-7-6h0m-1 13h0m-6-12h0m-4 6h0m-1 1h0m-12-8h0m-12-1h0m-1 13h0m-5-8h0m-9-1h0m-1 3h0m-16 6h0m-5-1h0m-2 2h0m-10-8h0m-9 7h0m0-3h0m-13-8h0m-1 4h0m-14-1h0m-2 5h0m-3 0h0m-4-4h0m-3-4h0m-1 2h0m-1-3h0m-1-1h0m0 9h0m-32-8h0m-18 15h0m17 0h0m2 0h0m18 6h0m8 1h0m5-1h0m2-4h0m1 11h0m1-12h0m10 11h0m1-2h0m8-5h0m10 8h0m4-1h0m3-11h0m6 12h0m6-14h0m6 12h0m1-9h0m7 5h0m9-6h0m2 0h0m5 3h0m6 5h0m8-6h0m3 2h0m4 7h0m8-7h0m3 0h0m19 3h0m11 0h0m25-6h0m3-2h0m8 11h0m1-5h0m5 4h0m4-4h0m8 6h0m2-3h0m0-7h0m1 11h0m1-8h0m2 0h0m2-5h0m6 7h0m3-4h0m1-2h0m4 11h0m1-10h0m5 0h0m8-2h0m4 11h0m5-10h0m2-1h0m1 11h0m4 1h0m15 1h0m0-7h0m9-7h0m7 3h0m0-1h0m16 10h0m6-10h0m1 16h0m-8 6h0m0-6h0m0 9h0m-5 0h0m-15-4h0m0-8h0m-5 6h0m-10 5h0m0 1h0m-2-10h0m-10-2h0m-24 0h0m-5 8h0m-10-2h0m-9-5h0m-6 2h0m-15 9h0m-1-1h0m-26 3h0m-15-7h0m-10 6h0m-2-6h0m-1 0h0m-5 5h0m0-3h0m-10 4h0m-2-5h0m-2 5h0m-4-5h0m-3-1h0m-4 4h0m-22-3h0m-2 6h0m-3-8h0m0 3h0m-14 2h0m-2 2h0m0-7h0m-2 6h0m-4-7h0m-10 4h0m9 6h0m17 12h0m5-11h0m1 8h0m0 3h0m4-10h0m3 2h0m2-4h0m8 5h0m7 6h0m3-11h0m4 7h0m1-6h0m0 8h0m7-5h0m6 5h0m0 5h0m3-13h0m8 11h0m0-6h0m3-6h0m6 4h0m5 2h0m11 6h0m9-1h0m5-6h0m4-2h0m2 11h0m15-7h0m20-1h0m2 5h0m3-1h0m2-1h0m4-7h0m1 6h0m1 3h0m15-4h0m28 4h0m27 3h0m10-1h0m8-6h0m-6 10h0m-6 5h0m-3 3h0m-8 2h0m-12-12h0m-3 14h0m-1-4h0m-4-10h0m0 9h0m-7-4h0m-7-1h0m-11-4h0m-1 1h0m-12 8h0m-1 0h0m-6 1h0m-1-5h0m-1-1h0m0-3h0m-3 7h0m-3 1h0m-31 4h0m-9-9h0m0 4h0m0-1h0m-12-5h0m-2 1h0m-11 8h0m-1 0h0m-6 2h0m-6-12h0m-5 4h0m0 9h0m-5-8h0m-9 4h0m-1-6h0m-1 1h0m0-1h0m-6-4h0m-2 11h0m-1 1h0m-7-3h0m-18-1h0m-3-8h0m-17 6h0m-3-6h0m12 26h0m12-9h0m5 7h0m6-5h0m22-2h0m1 9h0m6-4h0m13-7h0m42 2h0m2-2h0m0 9h0m0 2h0m6-1h0m7-4h0m2 1h0m1 0h0m12-5h0m2 2h0m4-3h0m1 1h0m1 4h0m8 1h0m6-7h0m0 9h0m13-5h0m2 2h0m2-4h0m2 11h0m2-9h0m0 2h0m20-6h0m2 5h0m10 8h0m0-4h0m8 12h0m-5-2h0m-1 2h0m-37 4h0m-3 0h0m-6-1h0m-9-7h0m-11 10h0m-12-4h0m-10-6h0m-7 12h0m-5-13h0m-4 6h0m-11 4h0m-11-7h0m-20-3h0m-25 5h0m-1 1h0m-2-7h0m-21 2h0m62 17h0m7 8h0m3 0h0m1-4h0m1 0h0m2-3h0m3-5h0m1 3h0m5-3h0m3 10h0m4 0h0m2-10h0m6 4h0m0 4h0m8 3h0m2 1h0m12-8h0m18 6h0m9 2h0m4-8h0m8-4h0m13 5h0m15-4h0m-36 14h0m-2 2h0m-4-2h0m0 3h0m-8-2h0m0 3h0m-13 1h0m-169 1h0m-11 19h0m173-4h0m3-3h0m-16 12h0m-25 24h0m3 15h0m-47 93h0m-5 24h0m-4 6h0"/>
<path stroke="#ececdc" d="M648 1873h0m6-6h0m11-3h0m1 1h0m8 17h0m-9-4h0m-1 10h0m-1-12h0m-2 8h0m-22 2h0m-9 2h0m-3 10h0m7 5h0m11-5h0m0-4h0m11 0h0m4 7h0m1 2h0m4-4h0m6-1h0m-14 10h0m-12 0h0m-3 7h0m-1-10h0m-7 4h0m-1 6h0m-5-5h0m-5 0h0m0-1h0m38 125h0m-7-4h0m-2 2h0m-2 9h0"/>
<path stroke="#1c0c30" d="M257 1683h0m9-2h0m15 10h0m2 2h0m16-7h0m5 5h0m1-1h0m17 18h0m-1-5h0m-3 3h0m-14 1h0m-3-1h0m-5-11h0m-14 6h0m0 1h0m-2-5h0m-8 11h0m-10-9h0m-6 1h0m-9 6h0m10 5h0m3 4h0m2 8h0m6-9h0m17-2h0m0 3h0m3 6h0m2 0h0m40-6h0m21 9h0m40-11h0m3 10h0m6-6h0m5 4h0m1-3h0m11 3h0m14-4h0m4 4h0m3-4h0m2 3h0m19 14h0m-41-4h0m-14-4h0m-2 1h0m-1-1h0m-6 8h0m-14-2h0m0-5h0m-5 2h0m-3 6h0m-3 4h0m-10 0h0m-5-2h0m-10 2h0m-3-3h0m-6-5h0m-17 4h0m-18-5h0m-3 9h0m-12-12h0m-3-1h0m-3 0h0m-22 6h0m-4 3h0m-5 2h0m-147 15h0m2 0h0m149-6h0m16 5h0m4 1h0m3 0h0m5-4h0m12-2h0m2-2h0m6 1h0m4 1h0m9 0h0m11-4h0m14 11h0m4-10h0m4 3h0m1-4h0m11 10h0m17-9h0m5-1h0m1 9h0m19-7h0m3-4h0m1 5h0m2-1h0m4-1h0m6 10h0m5-2h0m8-6h0m17-2h0m1 6h0m21-6h0m2 11h0m5-6h0m2 2h0m25 18h0m-3-12h0m-3 0h0m-8 11h0m-1-6h0m-2-1h0m-1-1h0m-1 4h0m-17-5h0m-5 5h0m-8-4h0m-2 4h0m-6-2h0m0-5h0m-1 9h0m-19-3h0m-13 0h0m-20-4h0m-9 8h0m-21-6h0m-13 3h0m-32-5h0m-12 5h0m-3-2h0m-7 6h0m-7-4h0m-9-8h0m-3 14h0m-26-12h0m0 4h0m-2 6h0m-2-9h0m-109 7h0m-10-4h0m-6 6h0m-2 1h0m-5-1h0m-1 1h0m-2-3h0m-14 0h0m-6-10h0m33 17h0m16 2h0m35-1h0m37 3h0m33-4h0m3 2h0m2-3h0m6-1h0m2 6h0m26 5h0m1-1h0m10-2h0m6-4h0m4 7h0m23 0h0m30-1h0m50-1h0m6 5h0m4-5h0m11-3h0m0 4h0m1 4h0m7-6h0m1-2h0m23-6h0m4 6h0m3-1h0m21 3h0m19-3h0m6 7h0m-22 3h0m-20 1h0m-38 12h0m-1-7h0m-4-4h0m-2 9h0m-1-6h0m-7 5h0m-2 3h0m-8 1h0m-1 0h0m-4-9h0m-1 9h0m-1-13h0m-8 8h0m-3-3h0m-6-5h0m0 11h0m-7-6h0m-1-2h0m-24-4h0m-28 14h0m-12-11h0m-16 0h0m-5 6h0m-7 0h0m-9-9h0m-5 5h0m-2 5h0m-19-2h0m-1-1h0m-5 3h0m0-8h0m-4 8h0m-8-1h0m11 11h0m17-4h0m3-1h0m6 1h0m91 9h0m13-5h0m14 8h0m3-2h0m17 2h0m3-1h0m9-6h0m5-6h0m5 13h0m3-4h0m8 5h0m13 0h0m9-1h0m29 8h0m-3-6h0m-2 13h0m-12 0h0m-2 1h0m-14-5h0m-1-7h0m-5 4h0m-6 8h0m-9-6h0m-3 2h0m-1-9h0m0 2h0m-3 10h0m-2-10h0m-1 1h0m-24 3h0m0-5h0m-7 1h0m36 24h0m1-8h0m5 5h0m3-5h0m4-1h0m14 1h0m1 6h0m17-1h0m16-7h0m-30 20h0m-7-2h0m-4-2h0m-10 2h0m-10-4h0"/>
<path stroke="#3a1248" d="M295 1687h0m-6 12h0m-27 0h0m12 18h0m154 15h0m-140 7h0m-41 10h0m39-7h0m18 7h0m42-6h0m54 9h0m86 0h0m-31 15h0m-126-11h0m-205 4h0m-41-2h0m172 12h0m23 12h0m110-5h0m56 7h0m5-13h0m34 7h0m-88 19h0m-2-11h0m-46-1h0m-85 10h0m241 16h0m-7 18h0m-14-4h0"/>
<path stroke="#f7e07a" d="M496 1475h0m19 2h0m26 1h0m30 6h0m-7 1h0m-8 3h0m-33-3h0m-22 3h0m-15-3h0m10 26h0m11-6h0m10 3h0m17 4h0m12-4h0m53 4h0m30-5h0m-84 37h0m0-9h0m55 3h0m5 3h0m5-5h0m10 8h0m-11 14h0m-71 3h0m39 4h0m12 5h0m20-3h0m14 10h0m-126 45h0m162 80h0m-45 187h0m-33-6h0m-10 1h0m-1-2h0m5 10h0m1 4h0m10 3h0m2-8h0m8 13h0m5 0h0m5-8h0m13 14h0m-6 3h0m0-2h0m-2-4h0m0 10h0m-19-10h0m28 14h0"/>
<path stroke="#f8b730" d="M567 1518h0"/>
<path stroke="#f7f6c4" d="M531 1469h0m-47 12h0m1 1h0m25-5h0m3 4h0m4-1h0m2 4h0m16-14h0m12 3h0m2 0h0m53 23h0m-9-2h0m-2-1h0m-19 4h0m-4-12h0m-22 4h0m-4 3h0m-11-2h0m-4 1h0m-4 3h0m-9 2h0m-5-1h0m-6 0h0m-5-7h0m-1 10h0m-2-8h0m-2 4h0m-1 4h0m-7-4h0m-1-3h0m0 4h0m-7-7h0m32 13h0m10 4h0m2-1h0m1 10h0m1-12h0m1 1h0m14 8h0m3-7h0m4 3h0m11-2h0m8-3h0m3 0h0m5 2h0m15 3h0m28 5h0m14-2h0m0 3h0m11 11h0m-10 3h0m-12-11h0m-12 0h0m-24 2h0m-1 4h0m-8 2h0m-15-4h0m-38 9h0m-3-5h0m-2 5h0m-4-2h0m-5-9h0m-10 2h0m-2 7h0m-2-11h0m-10 4h0m-8 2h0m-40 7h0m5 4h0m22 5h0m27-2h0m7-4h0m1 10h0m4-11h0m1 10h0m20-7h0m3 1h0m5-1h0m11 4h0m3-6h0m1-1h0m7 0h0m21 12h0m25-4h0m2-4h0m3 0h0m3-3h0m14 7h0m4-4h0m4 7h0m9 1h0m1 0h0m1-13h0m5 3h0m2 4h0m1-2h0m13-2h0m16 3h0m15 0h0m0 4h0m2 0h0m4 0h0m8 2h0m6 2h0m19 0h0m23 12h0m-31 0h0m-3 1h0m-4-4h0m-4 0h0m-7-5h0m0-3h0m-6 11h0m0-4h0m-14 6h0m-32-10h0m-16 4h0m-2 4h0m-1-9h0m-2 3h0m0 3h0m-3 2h0m-11 2h0m-4-6h0m-5 8h0m-2-6h0m-11 4h0m-4 2h0m-15-12h0m-11 3h0m-4-2h0m-3 1h0m0-3h0m-10 3h0m-3 7h0m-5 0h0m-3-10h0m0 12h0m-3-12h0m-2 7h0m-18 5h0m-13-5h0m-4-7h0m-10 3h0m-17 10h0m-6-3h0m-4-11h0m-5 13h0m-8-2h0m0-4h0m-2 1h0m-2 1h0m-30 5h0m-13 5h0m17 5h0m3 4h0m0-11h0m4-2h0m3 6h0m3-4h0m9 6h0m11-1h0m9-7h0m14 1h0m2 4h0m3 6h0m7-10h0m13 2h0m1 1h0m2-1h0m6 1h0m5 4h0m14 2h0m8-1h0m1-1h0m2-5h0m3 2h0m1 1h0m8-3h0m11 0h0m1 0h0m2 2h0m1 0h0m1-4h0m6 0h0m0 8h0m10 1h0m10-7h0m1 6h0m9 5h0m17-4h0m5-10h0m3 6h0m2-4h0m2 3h0m2-3h0m26 9h0m4-9h0m11 7h0m6-8h0m6 2h0m24 10h0m3-6h0m8-3h0m1-2h0m3 7h0m6 1h0m4-5h0m5-4h0m5 5h0m4 0h0m8 6h0m13-9h0m3 11h0m9 4h0m-4-1h0m-7 0h0m-17 3h0m-1 2h0m-18 1h0m-1-4h0m-8-2h0m-3 4h0m-4-3h0m-25 4h0m-3 7h0m-5-1h0m0-7h0m-6-3h0m-4-3h0m-2 14h0m-5-3h0m-1-7h0m-2-4h0m-2 13h0m-7 1h0m-4-3h0m-8-11h0m-3 4h0m-6 5h0m-2-6h0m-15 4h0m-4 4h0m-4 2h0m-2-12h0m-5 8h0m-7 5h0m-1-4h0m-16-10h0m-10 14h0m-4-9h0m-1 9h0m-1 0h0m-6-14h0m-2 2h0m-2-1h0m-15 4h0m-5 7h0m-2-4h0m-7-4h0m-5 6h0m-11-4h0m-5 4h0m-7 0h0m-11-8h0m-5 6h0m0-6h0m-8 11h0m-1-10h0m-5 8h0m-1-6h0m-1 3h0m-2 2h0m-10-10h0m-14 12h0m-4-8h0m-13 4h0m-3 18h0m1-8h0m1 6h0m3-6h0m3-3h0m1 12h0m1-11h0m5 3h0m9-4h0m3 2h0m32 2h0m8 1h0m5 1h0m1 6h0m15 1h0m2-7h0m1-1h0m12 0h0m2 0h0m4 7h0m6-12h0m16 11h0m2-7h0m7 5h0m0-5h0m1 9h0m24 1h0m2-2h0m13-3h0m0-7h0m7 1h0m4 11h0m2-8h0m8 4h0m3 1h0m7 0h0m1-4h0m8-3h0m0-2h0m3 9h0m11-1h0m23-6h0m0-1h0m15 7h0m1-4h0m1-6h0m18 0h0m5 1h0m6 2h0m14 3h0m0-2h0m20 0h0m1 1h0m7 3h0m0-4h0m6 7h0m2-3h0m3 5h0m0-6h0m1 0h0m2 5h0m4-2h0m4-3h0m2 3h0m1 5h0m-1 6h0m-23 6h0m-3-5h0m0 3h0m-1 4h0m-5-1h0m-3 1h0m-16-3h0m-16-4h0m-1-4h0m-6 5h0m-1 3h0m-1-1h0m0-1h0m-2 2h0m-4 3h0m-2-5h0m-2 0h0m-4 0h0m-4-1h0m-3-3h0m-23 5h0m-1-3h0m-3-2h0m-2 4h0m-16-8h0m-13 2h0m-12-3h0m-16 2h0m-1-2h0m-6 13h0m-12-2h0m-1-3h0m-9-6h0m-6 2h0m0 9h0m-7-11h0m-15 0h0m-6 11h0m-2-10h0m-1 4h0m-7-2h0m-1 6h0m0-6h0m-5 2h0m-9-1h0m-2 3h0m-8-9h0m-1 5h0m-1-1h0m-1 2h0m-9-1h0m-13 6h0m-1-3h0m-5-4h0m-3 7h0m-18-1h0m-26-2h0m-2-6h0m10 13h0m26 4h0m10 3h0m4 3h0m4-7h0m7-1h0m17 4h0m8-2h0m0 9h0m7-2h0m8-9h0m1 8h0m4 4h0m2-8h0m11-4h0m4 11h0m4-2h0m4-6h0m4 1h0m1 7h0m1-7h0m0-2h0m2 0h0m0 10h0m1-12h0m3 10h0m12-1h0m1-3h0m6 0h0m0-2h0m12 5h0m0-6h0m27 5h0m3 3h0m7-10h0m6-3h0m3 9h0m27 0h0m10-1h0m4-6h0m11-2h0m4 13h0m1 0h0m6-1h0m10-5h0m4-6h0m6 1h0m2 12h0m3-2h0m3-8h0m13 9h0m2-3h0m6-10h0m4 11h0m19 0h0m9-1h0m1-5h0m0 15h0m-1-5h0m-3 10h0m-5-1h0m0-3h0m-1 8h0m-6-14h0m-28 2h0m-21 6h0m-6 5h0m0-5h0m-2 6h0m-1-8h0m-1-2h0m-11-4h0m-1 10h0m-14-5h0m-2-3h0m-1 12h0m-1-8h0m-5-4h0m-23 1h0m-8 10h0m-7-3h0m-10-9h0m-5 11h0m-7-12h0m-6 5h0m-22 3h0m-4 6h0m-9-12h0m-1-1h0m-4 3h0m-8 4h0m-5-8h0m-7 12h0m-9-5h0m-3-5h0m-21 6h0m0-2h0m-1 7h0m-2-4h0m-7 0h0m-13-9h0m-5 1h0m37 16h0m1 0h0m2 10h0m13-7h0m1 8h0m6-11h0m1 9h0m6 1h0m1-12h0m1 2h0m2-2h0m7 6h0m27 4h0m17-10h0m5 0h0m9 4h0m14 2h0m0 2h0m4-3h0m7-4h0m18 3h0m5 1h0m13 0h0m5 7h0m8-8h0m0-2h0m4 2h0m2 7h0m7-6h0m1-2h0m13 1h0m1-1h0m14-3h0m2 0h0m3 2h0m4 11h0m2-3h0m9 4h0m19-8h0m2-3h0m5 4h0m-3 8h0m-6 3h0m-13 9h0m-3 2h0m-3-1h0m0-10h0m-9 5h0m-5 4h0m-1-1h0m-4-10h0m-1 1h0m-5 11h0m-1-5h0m-11-6h0m-3 3h0m-5 3h0m-3-4h0m0 9h0m-2-7h0m0 2h0m-2 2h0m-13-4h0m-3 4h0m-33-7h0m-1 4h0m-2-6h0m-4 3h0m-2 10h0m-3-9h0m-9 0h0m-10 6h0m-2-10h0m-1 4h0m-1-2h0m-3 9h0m-1-6h0m-1 6h0m-8-12h0m-30 9h0m-3-8h0m-1 2h0m-23 7h0m-1-10h0m0 10h0m-4 2h0m-5-2h0m-1-5h0m-5-2h0m-4 0h0m9 15h0m4 8h0m3-8h0m3-1h0m2 1h0m2-3h0m2 14h0m8-12h0m6 5h0m14 6h0m6-5h0m4 1h0m2 2h0m2 0h0m12-10h0m8 4h0m5-4h0m0 8h0m2-2h0m6-5h0m2 12h0m5-4h0m20-8h0m1 4h0m1 6h0m4-4h0m10 0h0m2 4h0m9-12h0m0 7h0m20-3h0m6 9h0m8-1h0m30-10h0m21-2h0m-3 21h0m-28-4h0m-17 11h0m-3-9h0m-4 2h0m-1-5h0m-12 11h0m-24 2h0m-2-9h0m-11-2h0m-10 7h0m-31-9h0m-2 13h0m-28-2h0m-6 2h0m-1-13h0m-43-1h0m-10 21h0m51-3h0m28 5h0m4-1h0m22 2h0m15-4h0m14 4h0m6-8h0m1 9h0m1 1h0m6-7h0m1-4h0m0 1h0m7 12h0m14 1h0m3-9h0m0-1h0m2-3h0m1 8h0m6-8h0m2 7h0m2-2h0m4 3h0m5-3h0m2 0h0m5 2h0m3-2h0m-54 14h0m-22-2h0m-149 21h0m150 3h0m3-1h0m8 4h0m-6 7h0m-10-6h0m-10 19h0m9-4h0m-9 20h0m-5-6h0m-36 104h0m-37-8h0m16 17h0m9-1h0m9 19h0m-6-1h0m-6-2h0m-6-8h0"/>
<path stroke="#ececdc" d="M647 1869h0m18-5h0m8 16h0m-1 0h0m-8-4h0m-8 13h0m-5-8h0m-4 8h0m-6-5h0m-2 5h0m-18 1h0m3 12h0m4-1h0m18 3h0m12-13h0m2 8h0m5-2h0m1 7h0m-4 7h0m-1-6h0m-9 5h0m-7-3h0m-4 9h0m-1-8h0m-14 5h0m-3-4h0m39 120h0m-1 0h0m-8 5h0m-3 3h0m0-10h0m7 15h0"/>
<path stroke="#1c0c30" d="M283 1678h0m-33 9h0m10 5h0m21-1h0m3-3h0m10 4h0m2-2h0m99 19h0m-4 0h0m-62-6h0m-13 0h0m-1-1h0m-7-5h0m-2 2h0m-4 10h0m-8-7h0m-4-1h0m-12 7h0m0-10h0m-8 10h0m-2-7h0m-15 0h0m-4 17h0m1-1h0m2-4h0m18 8h0m0-10h0m3 1h0m19 10h0m6 1h0m1-9h0m21-2h0m8-2h0m4 6h0m0-1h0m5-5h0m2 6h0m3-2h0m10 2h0m5 4h0m0-1h0m1-2h0m0 2h0m3 5h0m13 0h0m8-1h0m1 1h0m5-2h0m10 0h0m5-5h0m0-6h0m6 12h0m0-12h0m2 9h0m1-10h0m15 9h0m11-3h0m22 7h0m2 2h0m-6 10h0m-38-1h0m-3-6h0m-2 1h0m-3 0h0m-10 4h0m-27-4h0m-16 8h0m-1-3h0m-3-4h0m-2 3h0m-8 1h0m-20 2h0m-1 3h0m-24-14h0m-4 3h0m-9 10h0m-17-6h0m-3 2h0m-175 20h0m3 0h0m10 0h0m5 0h0m145-7h0m1-3h0m3 7h0m27 3h0m2-13h0m2 4h0m7 1h0m1 8h0m6-7h0m37-5h0m17 7h0m3-7h0m2 9h0m1-10h0m10 9h0m4-3h0m16-7h0m37 14h0m11-9h0m3 3h0m14 6h0m3 0h0m16-5h0m5 5h0m1-3h0m6 1h0m2-5h0m3 5h0m-15 8h0m-6 5h0m-19 4h0m-10-6h0m-6-4h0m-1-4h0m-16 14h0m-8-5h0m-13 5h0m-16-7h0m-13-2h0m-4-2h0m-45 4h0m-1-2h0m-25 4h0m-5 0h0m-16-7h0m-7 1h0m-3 9h0m-18 1h0m-1-10h0m-109 10h0m-9-1h0m-5-1h0m-5-3h0m-5 3h0m0-10h0m-1-1h0m-2 12h0m0-10h0m-1 12h0m-6-10h0m-1-4h0m-1 10h0m-4 1h0m-2-3h0m-3-2h0m-1 1h0m-5 1h0m23 7h0m26 3h0m32 1h0m12 0h0m36 2h0m26 3h0m2 1h0m3-7h0m16 3h0m15-3h0m4 11h0m3-3h0m6-9h0m2 0h0m11 10h0m50-2h0m14 3h0m8-5h0m7-3h0m11 4h0m0 5h0m16-4h0m3 3h0m2 0h0m3-1h0m19-3h0m17-8h0m6 6h0m12 0h0m33 1h0m9 0h0m2 14h0m-4-4h0m-5 4h0m-7-2h0m-3 9h0m-4-12h0m-2 1h0m-12 1h0m-6 1h0m-2 0h0m-34 6h0m-24-3h0m-9 0h0m-55 1h0m-5-5h0m-3-4h0m-8 13h0m-29-12h0m-15 9h0m-1-1h0m-6-1h0m0-7h0m-3 1h0m-6 7h0m-2-5h0m-7 2h0m-1-5h0m-3 10h0m-25-2h0m36 7h0m4 3h0m56-3h0m15 3h0m45 1h0m13-1h0m27 0h0m4 7h0m18-1h0m5-6h0m5 7h0m6-5h0m1 8h0m3-4h0m0-7h0m13-2h0m3 6h0m4-5h0m3 5h0m14-3h0m-12 15h0m-12 0h0m-3 5h0m-9-6h0m-2 11h0m-3-2h0m-14 1h0m-4-2h0m0-8h0m-1 4h0m-12 1h0m-4 3h0m-14-4h0m-22-7h0m32 22h0m8-6h0m20 7h0m14-8h0m2 3h0m21 0h0m4-1h0m-36 20h0"/>
<path stroke="#3a1248" d="M299 1690h0m79 14h0m-12 4h0m-70-2h0m-29 10h0m97 12h0m-2 1h0m-44-4h0m-66 1h0m14 21h0m38 1h0m56 1h0m80-3h0m8 8h0m61 15h0m-232-5h0m-29 2h0m103 11h0m133 0h0m14-1h0m-59 18h0m-19 2h0m-4 2h0m-33-12h0m-42 1h0m-81 19h0m198 10h0m-34 7h0m37 8h0"/>
<path stroke="#f7e07a" d="M497 1478h0m41 2h0m19-1h0m8-1h0m13 18h0m-1-4h0m-8-6h0m-48 2h0m-10 1h0m-15 8h0m7 7h0m32 0h0m35 4h0m6-8h0m3 8h0m4 2h0m-17 15h0m-13-5h0m-12-1h0m-35 6h0m31 16h0m20-9h0m2 7h0m39 1h0m4-5h0m21 4h0m97 4h0m-93 15h0m-10 0h0m-71-9h0m-10 5h0m-103 20h0m143-5h0m12-9h0m6 19h0m170 37h0m-192 243h0m7 1h0m11 29h0m-16 5h0m8 6h0m2 4h0m9-12h0m2 7h0m4 1h0m4-7h0m15 7h0m-5 9h0m0-1h0"/>
</g>
<g transform="translate(333.3,227.6) scale(0.415,0.41) scale(0.2)" stroke-width="13.6" stroke-linecap="round" fill="none">
<path stroke="#c6def0" d="M513 1481h0m4-1h0m12 0h0m6-10h0m6 8h0m8-1h0m5 1h0m3 1h0m9 1h0m21 6h0m-31 2h0m-14 4h0m-35-6h0m-16 11h0m-4-7h0m-3 1h0m-2 16h0m18 1h0m9-7h0m13 13h0m1-12h0m11 10h0m4-1h0m26-9h0m6 6h0m7 0h0m10-2h0m12 6h0m-75 12h0m-7 0h0m-14-5h0m-53 8h0m-4 3h0m16 10h0m34 2h0m4-11h0m31 12h0m12-11h0m1 10h0m1-7h0m0 9h0m12-12h0m4 3h0m36 4h0m-40 10h0m-3-4h0m-10 11h0m-44-3h0m-4-7h0m-3 13h0m-3-10h0m-4 0h0m-14 3h0m-9 4h0m-1-3h0m-3-8h0m-32 13h0m-5-7h0m-11 20h0m16 1h0m23-4h0m8-8h0m12 0h0m0 2h0m3 7h0m4 2h0m29-7h0m1 0h0m31-3h0m10 2h0m41 7h0m6-10h0m-62 24h0m-2-6h0m-1 5h0m-12 2h0m-3-2h0m-14-5h0m-5 8h0m-12-9h0m-1-2h0m-8 3h0m-1 2h0m-3 1h0m-27 2h0m-11-4h0m-25-4h0m24 19h0m9-4h0m3 2h0m11 7h0m23-8h0m6 4h0m8-4h0m0 4h0m9 2h0m5-5h0m1 4h0m2 3h0m14-8h0m27 26h0m-21-1h0m-13-9h0m-28 2h0m-2-4h0m-6 11h0m-1-3h0m-8 14h0m40-3h0m41 7h0m-30 13h0m-1-3h0m174 34h0m-356 41h0m18 4h0m0-1h0m1-2h0m0 2h0m3 5h0m27-2h0m10 0h0m2-5h0m3-6h0m15 19h0m-42-1h0m-21 8h0m-4-4h0m-12 20h0m4-10h0m5-1h0m11 10h0m1-3h0m1 2h0m1-10h0m14 2h0m0 4h0m24 5h0m40-6h0m-88 34h0m7 0h0m7 3h0m8-5h0m7-3h0m58 19h0m-35 5h0m-25-8h0m-25-6h0m-7 9h0m-5-5h0m32 16h0m14 8h0m63-3h0m36-3h0"/>
<path stroke="#f3d7a4" d="M630 1508h0m10 16h0m-12 3h0m-70-7h0m-11 18h0m49-4h0m4 4h0m19 1h0m1 4h0m23-10h0m99 14h0m-185-1h0m-24 23h0m6-4h0m31 4h0m30 5h0m9-7h0m69 11h0m-57 5h0m-43 0h0m-22-8h0m-4 1h0m-4 25h0m34 3h0m109-14h0m-143 29h0m-10-11h0m-9 10h0m33 6h0m20 0h0m130-1h0m-153 20h0m-38 0h0m149 14h0m2-3h0m50 12h0m-58 12h0m-5-12h0m-4 3h0m-5 1h0m-9 0h0m-99 1h0m87 18h0m10 5h0m5-4h0m22 2h0m7-6h0m7 2h0m8-6h0m8 4h0m15-2h0m52 9h0m-38 12h0m-15-8h0m-28 3h0m-17-4h0m-4 6h0m-11 4h0m-11-7h0m-89-4h0m-147 22h0m35 0h0m2 3h0m199 2h0m5-4h0m1 1h0m1-4h0m14 0h0m18 6h0m2-10h0m1 9h0m1 1h0m7-10h0m7 12h0m0 7h0m-292 10h0m7 3h0m29 2h0m20 9h0m21 0h0m1-3h0m4 1h0m30-2h0m157 1h0m16-5h0m-24 10h0m-156 13h0m-20-2h0m-3-7h0m-1-1h0m-1 4h0m-6-3h0m-70 20h0m31-4h0m23-6h0m4 6h0m24 2h0m165-3h0m-5 10h0m-140 3h0m-15 11h0m-24-9h0m-36 8h0m-15-3h0m-9-2h0m-3 20h0m17-13h0m16 14h0m20-3h0m10-8h0m32 8h0m-7 8h0m-7-4h0m-2 13h0m-12 0h0m-2 1h0m-3 0h0m-17-1h0m-15-5h0m-6 3h0m40 7h0m-19 15h0m-20-2h0m240 34h0m-1 0h0m-9-4h0m-2 8h0m-20 0h0m-2 5h0m0-3h0m-9 2h0m-16 1h0m-37-8h0m-6 3h0m4 8h0m9 12h0m9-6h0m3 6h0m32-3h0m17-7h0m11 0h0m4 7h0m1 2h0m5 1h0m5-6h0m-19 12h0m-11-5h0m-7 4h0m-1 6h0m-10-6h0m-4 1h0m-8-3h0m0 9h0m-19-9h0m69 127h0m-7-4h0m-4 7h0m7 5h0"/>
<path stroke="#e4592f" d="M630 1527h0m6 17h0m0-1h0m8-13h0m7 6h0m7 0h0m1-3h0m12 0h0m4 3h0m17 4h0m43 17h0m-14-1h0m-3 1h0m-7-4h0m-89 4h0m-5 1h0m-23-1h0m-4 2h0m39 8h0m32-5h0m9 10h0m25-8h0m13 9h0m4-13h0m10 0h0m2 3h0m9 2h0m5-4h0m4 3h0m3 5h0m2-3h0m29 11h0m-18 3h0m-25 3h0m-44 6h0m-5-1h0m-18-9h0m-2-4h0m-24 4h0m-4 0h0m-2 5h0m-4-8h0m-21-1h0m0 11h0m-6-7h0m-8 10h0m-23 14h0m46 1h0m0-4h0m10 1h0m1-4h0m0-6h0m22 9h0m38 0h0m5-6h0m2 6h0m13-10h0m25 6h0m12 1h0m9-2h0m7-1h0m8 4h0m3-1h0m11 0h0m3 8h0m-23 11h0m-4-1h0m-1 4h0m-41-11h0m-6 5h0m-1 3h0m-9-2h0m-2 0h0m-4 0h0m-23 1h0m-11-5h0m-10-4h0m-1 11h0m-7-12h0m-7 2h0m-2-1h0m-4 2h0m-9 11h0m-3-14h0m-23 13h0m-12-2h0m-12-7h0m-24 24h0m37-7h0m2 2h0m10-2h0m2 5h0m1-5h0m26 4h0m10-7h0m31 4h0m5 2h0m0 2h0m16-5h0m32-5h0m4 11h0m4-10h0m2 12h0m1-13h0m5 12h0m53-11h0m1 3h0m-8 19h0m-1 0h0m-19-1h0m-43 5h0m-13-5h0m-3 2h0m-54 3h0m-7-3h0m-3 4h0m-7-13h0m-8 6h0m-4-7h0m-9 7h0m-23 1h0m-3-1h0m-6-5h0m-22 12h0m-12-7h0m9 17h0m4-7h0m5-2h0m8 6h0m10-6h0m4 7h0m1 2h0m13 5h0m16-14h0m4 4h0m1-4h0m9 4h0m18 1h0m43 0h0m5 5h0m22-7h0m71 12h0m-20 12h0m-42-10h0m-13 6h0m-18 1h0m-40-5h0m-12-2h0m-13 9h0m-1 0h0m-6 2h0m-16-7h0m-9 4h0m-2-5h0m-16 4h0m-24 1h0m-9 0h0m-1-5h0m5 21h0m2-8h0m5 0h0m5-1h0m27 11h0m6-11h0m0 6h0m4 1h0m2 2h0m89-4h0m19 2h0m17-7h0m4 4h0m42 15h0m-28-4h0m-17 11h0m-3-9h0m-17 8h0m-108 0h0m-6 2h0m-1-13h0m117 28h0m9-2h0m-10 7h0"/>
<path stroke="#efece4" d="M527 1482h0m11-2h0m27-2h0m32 14h0m-4 2h0m-1-2h0m-1 1h0m-13 3h0m-1-4h0m-5 5h0m-8-12h0m-35 18h0m38-1h0m5 2h0m4-4h0m3 8h0m4 2h0m5-5h0m32 3h0m-14 8h0m-25 6h0m-4-1h0m-8 8h0m-3-4h0m-45 9h0m8 0h0m76 7h0m13-3h0m2 6h0m7 14h0m-8-6h0m-7-1h0m-2 8h0m-1-1h0m-2-9h0m-5 9h0m-55-9h0m-8-2h0m-6-1h0m-12 9h0m-49 6h0m32 11h0m7-4h0m9-5h0m1 1h0m2 3h0m2 3h0m4 4h0m7-11h0m2 11h0m6-14h0m19 5h0m12 4h0m2-4h0m13-1h0m0-1h0m10 2h0m2 19h0m-15-7h0m-19 12h0m-4-14h0m-10 2h0m-14 10h0m-8 0h0m-1-2h0m-8-6h0m-15 7h0m-43 0h0m-1-6h0m41 23h0m5-2h0m10-6h0m2 0h0m18 1h0m5-6h0m5 4h0m7 5h0m15 10h0m-1 3h0m-3-3h0m-30 2h0m-1 1h0m-13 0h0m-11 2h0m-8-9h0m-12 5h0m-12 18h0m5-6h0m15 9h0m2-5h0m6 0h0m2 7h0m15-11h0m1 8h0m11-10h0m22 6h0m4-2h0m23 2h0m-33 15h0m-14 5h0m-8-6h0m-12 8h0m-27-12h0m38 14h0m184 28h0m-55 2h0m16 7h0m-298 17h0m-41 6h0m46 14h0m8-11h0m18 10h0m0-12h0m3-1h0m5 11h0m21-5h0m102 0h0m115-6h0m25 12h0m8-8h0m33 13h0m-303 7h0m-5-5h0m-12-3h0m-6 8h0m-22 1h0m-16 2h0m-1-3h0m3 8h0m22 0h0m1 9h0m48-6h0m13 3h0m5 6h0m23 0h0m5-5h0m12 3h0m5 0h0m182 10h0m-172 6h0m-6-12h0m-25 9h0m-5-7h0m-13 1h0m-8 2h0m0-5h0m-9 3h0m-71-1h0m22 19h0m47 2h0m17-8h0m17 4h0m15 2h0m14-1h0m11-1h0m6 7h0m139 12h0m-165-6h0m-12 1h0m-4-3h0m-38 10h0m-1-5h0m-6 5h0m-8 0h0m-4 2h0m-21-4h0m-2-8h0m-7 11h0m44 16h0m3-4h0m34-3h0m1 8h0m16-13h0m8 20h0m-8-2h0m-2 6h0m-1-1h0m-14 3h0m-14-6h0m-17 2h0m-5 5h0m-3-9h0m-4 4h0m-20-1h0m-7-4h0m-1-3h0m68 37h0m-7-2h0m122 10h0m69 13h0m-72 23h0m6 4h0m4-1h0m2-8h0m11 9h0m2 4h0m23-2h0m41-5h0m-20 10h0m-43 4h0m18 10h0"/>
<path stroke="#f4a75a" d="M623 1535h0m30 0h0m43 5h0m14 4h0m10-1h0m41 14h0m-46 2h0m-1-6h0m-11-5h0m0-3h0m-6 7h0m-14 6h0m-76 1h0m40 3h0m10 9h0m10-11h0m17 3h0m15 11h0m20-10h0m10 6h0m14-4h0m12 6h0m13-9h0m3 11h0m5 13h0m-1 2h0m-6-12h0m-3 11h0m-45-7h0m0-1h0m-4-2h0m-33 3h0m-10-6h0m-10 14h0m-6-6h0m-7 3h0m-24 0h0m39 11h0m8-4h0m13-3h0m6 14h0m41-10h0m20 5h0m1-4h0m7 3h0m6 3h0m5 2h0m1-6h0m6 3h0m6 0h0m0 11h0m-23 6h0m0-5h0m-3 0h0m-6 6h0m-3 1h0m-5-10h0m-28-1h0m-1 7h0m0-10h0m-7 9h0m-21-4h0m-23 5h0m-50-8h0m70 16h0m6-2h0m9 3h0m0 9h0m28-11h0m22 8h0m0 4h0m6-14h0m3 0h0m1 11h0m6-9h0m13 9h0m9-1h0m1 8h0m-9 3h0m-34 6h0m-32-8h0m-4-4h0m-31 2h0m-120 25h0m39-3h0m3-8h0m101 1h0m0 2h0m15 3h0m12-3h0m15-4h0m1 11h0m4-9h0m15 12h0m21-11h0m-4 15h0m-3 4h0m-16 6h0m-7-13h0m-2 8h0m-6 1h0m-10 4h0m-1-5h0m-14-3h0m-5 3h0m-3-4h0m-2 2h0m-3 3h0m-1 0h0m-7-4h0m-90 0h0m-25 7h0m-37 14h0m114-9h0m6 6h0m5-1h0m7 5h0m8-8h0m35 2h0m4 7h0m26-11h0m11 17h0m-46-3h0m-90 0h0m-11 0h0m-25 5h0m25 17h0m24 0h0m19 2h0m51-5h0m24 1h0m8 0h0m-269 32h0m44 1h0m-74 84h0m200 71h0m19-5h0m-15 142h0"/>
<path stroke="#4a94cf" d="M531 1490h0m-39 26h0m-242 171h0m7-4h0m24 8h0m2 2h0m11-1h0m1-5h0m1 3h0m6 19h0m-6-14h0m-7 4h0m-7 2h0m0 1h0m-2-5h0m-2 11h0m0-10h0m-8 10h0m-8-9h0m-13 19h0m13 5h0m5-7h0m3 5h0m0-10h0m15 1h0m7 10h0m6 1h0m22-11h0m8-2h0m2 5h0m2 0h0m-14 10h0m-17 5h0m-7-2h0m-11-2h0m-29 9h0m-2-9h0m2 18h0m22 8h0m17-6h0m3 8h0m8-6h0m-1 13h0m-13 3h0m-1-1h0m-12 6h0m0-5h0m-13 3h0m-15 0h0m-4-9h0m-133 8h0m-3 1h0m0-10h0m-11 8h0m43 9h0m99 5h0m6-7h0m9-2h0m2 0h0m28 11h0m1-1h0m16 2h0m0-8h0m24 25h0m-24-13h0m-16 8h0m-6-8h0m-3 1h0m-7 8h0m-8-4h0m0 4h0m-1-9h0m-3 10h0m-8-4h0m-5 3h0m15 11h0m10-5h0"/>
<path stroke="#8cbfe3" d="M484 1481h0m4-7h0m3 7h0m0-10h0m6 10h0m12-8h0m6 4h0m4 7h0m22 2h0m-15 2h0m-2 6h0m-10 2h0m-3-7h0m-2 6h0m-6 0h0m-6 3h0m-1-1h0m-12-2h0m-5 2h0m-2-9h0m-2 25h0m28-9h0m4 0h0m14 0h0m3-1h0m-10 20h0m-8 2h0m-34-7h0m-38 11h0m61 3h0m2 3h0m54-4h0m-106 19h0m-28-1h0m-1 20h0m10-3h0m6-1h0m1 9h0m3-14h0m23 4h0m15 1h0m6 10h0m-19 10h0m-20-10h0m-4 12h0m-9-4h0m-8 0h0m-3 18h0m2-2h0m3-6h0m3-3h0m3 12h0m13-12h0m13 0h0m22 4h0m-2 15h0m-13 15h0m12 3h0m-174 59h0m0 4h0m6 0h0m3 7h0m-12 9h0m-18 2h0m-22-8h0m-6 17h0m23-5h0m26 2h0m24 22h0m-55-4h0m-10 0h0m-168 22h0m13 0h0m5 0h0m149-3h0m9-4h0m7 5h0m52-10h0m31 7h0m56 15h0m-165-6h0m-111 10h0m-9-1h0m-10-4h0m-25-8h0m-2 7h0m18 8h0m58 4h0m48 2h0m75-4h0m17 9h0m-62 24h0"/>
<path stroke="#b9202a" d="M647 1555h0m-14 1h0m-28-6h0m67 19h0m-10 8h0m-31 12h0m0-4h0m-45 7h0m18 1h0m6 3h0m43 22h0m-9-12h0m-33 8h0m-12-8h0m-12-1h0m-13 2h0m6 24h0m9 2h0m87-6h0m8 6h0m24-1h0m-21 5h0m-113 2h0m-41 23h0m20-10h0m1 9h0m56-5h0m3-6h0m36 5h0m13 13h0m-21 0h0m-13 2h0m-11-4h0m-20 3h0m-16-3h0m-25-1h0m0 17h0m12 7h0m8-2h0m27 0h0m118 14h0m-130-6h0"/>
<path stroke="#2c6db5" d="M260 1692h0m61 11h0m-3 3h0m-28-5h0m-43 5h0m43 15h0m-5 17h0m-181 14h0m217 10h0m-41-7h0m-34 13h0m-144-9h0m-2 6h0m-4 1h0m200 12h0m-25 16h0m-30 1h0"/>
<path stroke="#c6def0" d="M531 1469h0m-46 13h0m11-7h0m14 2h0m27 6h0m1-3h0m9-7h0m1 1h0m1-1h0m19 12h0m-4 12h0m-1-8h0m-13 7h0m-29-8h0m-26 2h0m-2-2h0m0 6h0m-4-9h0m-10 3h0m0 4h0m-6 19h0m39-10h0m23 3h0m6 0h0m5 4h0m1 1h0m3 4h0m37-6h0m-20 11h0m-1-2h0m-15 2h0m-31 11h0m-5 0h0m-9-11h0m-10 2h0m-1 4h0m-1 3h0m-12-7h0m-8 2h0m-6 20h0m19-6h0m37-1h0m13 6h0m7-10h0m18 5h0m10 7h0m27-8h0m3 0h0m-48 22h0m-7-4h0m0-7h0m-1 3h0m-7 7h0m-3-2h0m-17 3h0m-15-3h0m-18 5h0m-40-3h0m-2-3h0m-7 0h0m-14 7h0m6 2h0m9 6h0m11-1h0m14 2h0m8-4h0m13-4h0m12 3h0m1-1h0m1 1h0m66-3h0m12 8h0m14 3h0m-72 6h0m-1 2h0m-10 1h0m-5 4h0m-7 0h0m-16-8h0m0 10h0m-8-7h0m-1-2h0m-6 9h0m-1-4h0m-10 3h0m-2-11h0m-10 12h0m-12 12h0m45 0h0m8-8h0m8 11h0m6 1h0m12-8h0m21 20h0m-25-5h0m-1-1h0m-1 2h0m-6 4h0m-9-9h0m-1 8h0m-15 2h0m-17-10h0m-1 9h0m-26-2h0m-2-6h0m10 13h0m20 1h0m24 2h0m7 4h0m0-5h0m2 1h0m1 11h0m1-12h0m7 0h0m22 12h0m7-12h0m12 26h0m-27-4h0m-13-9h0m-156 79h0m89 3h0m-21 12h0m-8-2h0m-21 5h0m-8-3h0m-3 10h0m-6-11h0m-4 11h0m-7-9h0m-8 9h0m-2-5h0m-7-3h0m10 12h0m1 3h0m25 4h0m20-10h0m15 4h0m-41 14h0m-3 2h0m-34-4h0m-9 4h0m-2-2h0m-142 15h0m175 4h0m62 6h0m6-4h0m-27 12h0m-14-2h0m-31-4h0m-8 0h0m-10 16h0m327 88h0"/>
<path stroke="#f3d7a4" d="M629 1513h0m-11 3h0m-2 13h0m-84 12h0m4-9h0m59 11h0m3-3h0m1-2h0m3-3h0m3-3h0m25 18h0m-14 7h0m-91 13h0m4 3h0m5-5h0m6-2h0m3 5h0m16-8h0m1 0h0m2 2h0m29 4h0m73 5h0m50-5h0m-47 17h0m-104-7h0m-1 10h0m-5-10h0m-25 11h0m52 12h0m144-5h0m13-7h0m35 12h0m-55 6h0m-8 9h0m-130-4h0m-15 5h0m-7-11h0m13 23h0m4 6h0m-36 1h0m135 18h0m15 6h0m91 2h0m-82 6h0m-46 4h0m0-1h0m-24 4h0m-9 1h0m-10 2h0m12 6h0m34-3h0m2 7h0m6 1h0m25-10h0m8 27h0m-12-4h0m-3 6h0m-7-12h0m-6 1h0m-1 11h0m-9-4h0m-2-3h0m-277 21h0m29-3h0m49 3h0m172-9h0m10 8h0m8-9h0m20 5h0m19-8h0m21 10h0m-19 10h0m-22-2h0m-142 3h0m-65-6h0m-6 10h0m-41-7h0m14 26h0m18-11h0m1 6h0m9 5h0m12-11h0m207 12h0m-176 1h0m-38 7h0m-9 6h0m-1-6h0m-37 21h0m15-4h0m14 4h0m39-6h0m29 0h0m152-7h0m-9 20h0m-141 1h0m-9 0h0m-7-2h0m-5-5h0m-2 2h0m-64 3h0m27 24h0m2-10h0m7 9h0m8-3h0m20-8h0m17 2h0m-50 13h0m-9 1h0m-1 4h0m-1 7h0m-12-4h0m-1-9h0m-16 6h0m-14-5h0m29 25h0m6-3h0m3-5h0m18 0h0m1-3h0m17 8h0m19-7h0m75 27h0m-111-7h0m186 17h0m7-2h0m11-3h0m1 1h0m-1 13h0m-1-2h0m-17 13h0m-40-2h0m-37-5h0m4 12h0m19-2h0m2 7h0m8-6h0m3 3h0m12 4h0m3-10h0m13 13h0m11-5h0m13-7h0m2 8h0m2 12h0m-17-4h0m0 1h0m-3 7h0m-1 1h0m-1-8h0m-14 5h0m-3-3h0m0-1h0m-10 2h0m-14 2h0m-1 4h0m-5-12h0m68 124h0m0 5h0m-8 0h0m-3-7h0"/>
<path stroke="#e4592f" d="M646 1535h0m24 8h0m20-3h0m14 2h0m48 14h0m-30-7h0m-5 1h0m-7 3h0m-7-7h0m-6 10h0m-70-1h0m-5-8h0m-16 10h0m-1-4h0m-18 6h0m25 11h0m3 1h0m2-1h0m10-8h0m4 0h0m30 4h0m50 7h0m54-2h0m-4 13h0m-5 1h0m-4-5h0m-1 9h0m0-7h0m-19-3h0m-8-2h0m-35 1h0m-17 11h0m-3-10h0m-1-4h0m-3 1h0m-10 13h0m-12-14h0m-11 3h0m-15 4h0m-8 6h0m-15-3h0m-16-10h0m19 17h0m9 6h0m2 6h0m4-10h0m1 9h0m5-5h0m1-7h0m2 10h0m53-7h0m25-1h0m65 5h0m12 14h0m-14 3h0m-6-5h0m-21 6h0m-16-4h0m-9 3h0m-2 1h0m-11 1h0m-5-4h0m-24-2h0m-3 1h0m-5 2h0m-30-2h0m-7-6h0m-11 7h0m-9-6h0m-1-2h0m-87 6h0m47 15h0m1-4h0m2 0h0m54 7h0m10 4h0m16-4h0m13-8h0m24 7h0m4 2h0m0-8h0m12 6h0m4 5h0m4 0h0m1-10h0m83 17h0m-4 5h0m-6 4h0m-3-2h0m-3-12h0m-27 11h0m-2-9h0m-20 6h0m-8 6h0m-1-8h0m-20 0h0m-9-5h0m-1 13h0m-1-8h0m-20 5h0m-8-8h0m-43 2h0m-2 2h0m-6 5h0m-12-4h0m-2 5h0m-4 1h0m-7-3h0m-15-3h0m-5-8h0m-7 9h0m-18 3h0m-6 5h0m18 10h0m5-11h0m8-1h0m3 0h0m7 5h0m7 6h0m15-7h0m17 8h0m9-8h0m5 2h0m11 6h0m8-4h0m1 3h0m10-10h0m41 11h0m2-3h0m4-7h0m1 6h0m1 3h0m6 0h0m22-8h0m23 10h0m37-6h0m-15 18h0m-13-7h0m-10 11h0m-1-4h0m-3 2h0m-1-12h0m-4 1h0m-1 1h0m-32 8h0m-8 0h0m-42-3h0m-6-3h0m-26-3h0m-2 2h0m-3 9h0m-1-6h0m-9-6h0m-18 5h0m0-1h0m-34 4h0m-10 4h0m-11-9h0m-4 0h0m9 15h0m14-3h0m2 14h0m12-10h0m23 7h0m7 0h0m12-10h0m0-1h0m21 2h0m73-2h0m21 4h0m20-4h0m12 9h0m13-9h0m-57 24h0m-149-7h0m21 16h0m101 1h0m23-3h0m15 8h0m1-9h0m28 1h0m-42 17h0m0-3h0"/>
<path stroke="#efece4" d="M571 1484h0m31 12h0m-23 2h0m-10-12h0m-23 3h0m-23 7h0m-17 12h0m50-3h0m47-1h0m12 8h0m1-9h0m6 7h0m7-3h0m7 6h0m-54 5h0m-9 6h0m-50 5h0m-20-14h0m-23 15h0m19 9h0m2 2h0m39-3h0m5 6h0m14-5h0m46 2h0m4-1h0m1-4h0m13 3h0m-28 10h0m-20-2h0m-9 3h0m-2 0h0m-28 8h0m0-12h0m-3 13h0m-2-6h0m-18 5h0m-19-7h0m6 12h0m31 11h0m39-13h0m10 9h0m5 0h0m3-10h0m14 1h0m5 15h0m-13 3h0m-30 1h0m-1 9h0m-12-3h0m-8-5h0m-6-1h0m-10-2h0m-2-3h0m-7 12h0m-1-6h0m-9 2h0m-64-3h0m45 16h0m9 8h0m3-1h0m25-1h0m31-8h0m1 9h0m10-4h0m5-3h0m8 14h0m-26 8h0m-9-11h0m-6 11h0m-10-8h0m-1 0h0m-14 1h0m-14-1h0m-9 1h0m-3-4h0m11 26h0m18-2h0m5 2h0m8 1h0m1 0h0m12-2h0m0-10h0m1 1h0m7 5h0m4-3h0m5-3h0m105 25h0m-148-3h0m13 8h0m122 27h0m-23-3h0m-1 5h0m31 10h0m-32 18h0m-233 0h0m-4 0h0m-25-1h0m-14 8h0m22 8h0m20-1h0m11-2h0m1-3h0m21 1h0m8 2h0m188-4h0m35 3h0m6-10h0m59 15h0m-264 9h0m-31-2h0m-24-6h0m-4 7h0m-19-6h0m-19 2h0m-20 7h0m59 8h0m4 1h0m12 8h0m5-2h0m56-1h0m12-3h0m180 5h0m22-9h0m-11 12h0m-193 6h0m-33 6h0m-10-2h0m-2-2h0m-7-8h0m-10 7h0m-6 7h0m-7-7h0m-14 7h0m-6-11h0m-9 8h0m-1-4h0m-13-2h0m22 19h0m0 5h0m17-5h0m2 4h0m5-1h0m14-6h0m1 8h0m7-6h0m11-7h0m9 6h0m12 0h0m33 1h0m-34 12h0m-39-3h0m-12 11h0m-8 1h0m-1 0h0m-4-9h0m-2-4h0m-1 7h0m-7 4h0m-9-11h0m-3 0h0m-22 24h0m28-5h0m2 6h0m11-7h0m9 8h0m9-6h0m9-2h0m4 7h0m61-4h0m2 22h0m0-10h0m-24-1h0m-13 6h0m-1-8h0m-9 10h0m-15-8h0m-5 0h0m-1 19h0m6-3h0m2-3h0m20 7h0m5 2h0m9-10h0m23 3h0m1-1h0m-51 18h0m222 14h0m9 18h0m-84 7h0m37 9h0m34 7h0m-4 3h0m-29 2h0m-15-1h0m0 4h0m0-5h0m-2 9h0m-6-2h0m47 117h0"/>
<path stroke="#f4a75a" d="M629 1510h0m16 19h0m-18 13h0m10 1h0m1-13h0m7 7h0m38 6h0m7-7h0m1 1h0m38 7h0m2 4h0m-29 6h0m-18-2h0m-49 0h0m-3-5h0m0 8h0m-2-2h0m-11 6h0m-46-2h0m49 3h0m7 5h0m2 3h0m47-7h0m2-1h0m31 7h0m9-5h0m1 11h0m2-1h0m0-3h0m2 5h0m8-3h0m8 0h0m14-11h0m14 3h0m11 15h0m-88 4h0m-13 1h0m-17 5h0m-3-8h0m-36-3h0m-29 24h0m46 0h0m50-5h0m8 0h0m3-1h0m13-4h0m3 0h0m3 2h0m32 10h0m2-9h0m16 3h0m-6 21h0m-11-5h0m-48 6h0m-1 0h0m-4 0h0m-34 13h0m21 2h0m3-8h0m7-6h0m5 2h0m16 5h0m4-6h0m11 11h0m3-8h0m13 9h0m18-10h0m16 9h0m6 3h0m-7 3h0m0 9h0m-20-12h0m-5 6h0m-11-4h0m-11-2h0m-16 8h0m-15-8h0m-15 5h0m-8-2h0m-85 10h0m-42-1h0m-7 16h0m7-1h0m7-8h0m37 6h0m57 4h0m52-10h0m9 1h0m30 6h0m1-11h0m9 10h0m28-4h0m7 1h0m-6 10h0m-16 10h0m-3 2h0m-3-11h0m-15 8h0m-7-6h0m-7-1h0m-11-4h0m-22 1h0m-3 5h0m0 2h0m-141 2h0m-18-10h0m92 22h0m34-1h0m29-5h0m1 1h0m9 5h0m13 6h0m6-9h0m2 8h0m28-7h0m18 16h0m-6 0h0m-37 4h0m-135-3h0m56 8h0m21 4h0m4 5h0m39-5h0m3 5h0m6-8h0m1 3h0m1 4h0m2-2h0m9 0h0m7 2h0m2-3h0m-35 11h0m-58 53h0m13 109h0m-13-7h0m-70 2h0m21 14h0m60 132h0"/>
<path stroke="#4a94cf" d="M498 1479h0m8 17h0m-21-2h0m32 14h0m-111 43h0m-7 13h0m-116 114h0m1 10h0m20 3h0m18 17h0m-18-1h0m-3-1h0m-7-4h0m-22 6h0m-4-7h0m-6-2h0m-9 2h0m-1 12h0m16 1h0m6 3h0m11-2h0m3 6h0m44-5h0m-34 23h0m0-14h0m-10 14h0m-2-12h0m-6-1h0m-31 11h0m-156 17h0m9-2h0m145-3h0m6-2h0m0-1h0m33-5h0m0 1h0m2 3h0m7-1h0m0 2h0m7 1h0m2 2h0m1-3h0m1 17h0m-10 4h0m-1-3h0m-21-7h0m-7 1h0m-19 8h0m-120-5h0m-4-1h0m-4 8h0m-5-1h0m-1 1h0m-2-12h0m-1-1h0m-3 14h0m-7-14h0m-7 8h0m31 9h0m120 1h0m16 3h0m15-3h0m2 9h0m13-10h0m7 16h0m-5 6h0m-6 1h0m-1-1h0m-6-1h0m-8-3h0m-3-1h0m-18 4h0m-6-6h0m-12 7h0m28 7h0m12 3h0"/>
<path stroke="#8cbfe3" d="M486 1473h0m2 6h0m7-4h0m2 3h0m1-5h0m3-3h0m46 16h0m-1 3h0m-19 2h0m-4-6h0m0 9h0m-22-6h0m-3 0h0m-6 10h0m-6-13h0m10 26h0m10-1h0m1-5h0m8 0h0m4 0h0m11 9h0m15-7h0m1-4h0m7 17h0m-12-1h0m-3 6h0m-24-8h0m-3 10h0m-72 6h0m6 1h0m0 10h0m16-6h0m27-2h0m72 12h0m-20 4h0m-71 7h0m-15-1h0m-8-6h0m-4 2h0m-5-6h0m-24 6h0m-1 5h0m-2-2h0m9 11h0m0-6h0m0 11h0m60 10h0m-8 5h0m-11-11h0m-2 7h0m-9-8h0m-19 0h0m-6 5h0m-6 12h0m8 9h0m1-11h0m5 1h0m0 2h0m67 21h0m-63 6h0m17 0h0m22 9h0m-194 61h0m48 12h0m-13 0h0m-1-1h0m-58 9h0m65 28h0m-3-4h0m-54-1h0m19 20h0m30-8h0m25-4h0m11 21h0m-212 2h0m-16 2h0m-10-2h0m-21-4h0m-6 2h0m-2-5h0m51 15h0m44 1h0m35 2h0m29 4h0m9-9h0m32 10h0m48 17h0m-98-4h0m31 6h0m5 1h0m75 3h0"/>
<path stroke="#b9202a" d="M651 1548h0m-26 18h0m45 20h0m-52-4h0m-5 4h0m-9-10h0m-7 23h0m5-5h0m35-2h0m0 2h0m-2 13h0m-49 11h0m-53 8h0m28 7h0m3 1h0m4-9h0m0 7h0m13-4h0m18-3h0m31 4h0m12-9h0m13 3h0m77 9h0m19-5h0m-124 20h0m-13 1h0m-8-4h0m-14-1h0m-54-2h0m8 14h0m16-3h0m24-1h0m57 5h0m10-3h0m37 3h0m83 8h0m-183 1h0m-2 11h0m-4-2h0m-4-6h0m-21-3h0m11 17h0"/>
<path stroke="#2c6db5" d="M266 1681h0m40 18h0m-46 16h0m91 9h0m-82 27h0m12-3h0m20-3h0m-50 16h0m0-4h0m-129 9h0m127 8h0m10 2h0m21 8h0m49-3h0m12 6h0m-27 1h0m-37-3h0"/>
</g>
<g transform="translate(399.2,227.6) scale(0.415,0.41) scale(0.2)" stroke-width="13.6" stroke-linecap="round" fill="none">
<path stroke="#efece4" d="M486 1473h0m5-2h0m5 4h0m1 6h0m44-3h0m8-5h0m22 11h0m-7 13h0m0-12h0m-18 4h0m-20-1h0m-2 6h0m-3-6h0m-12 7h0m-3 1h0m-9 2h0m-11-13h0m-1 9h0m-8-6h0m29 20h0m1-4h0m8 1h0m15 9h0m5-10h0m3 7h0m7-4h0m1 1h0m1 1h0m17-7h0m9 22h0m-22-6h0m-10 1h0m-17 5h0m-4 5h0m-5 0h0m-4-2h0m-16 5h0m4 7h0m1-8h0m1 10h0m28-7h0m7-2h0m9 12h0m14-5h0m3-3h0m33 7h0m5-5h0m-13 21h0m-23-9h0m-7-1h0m0-3h0m-3 11h0m0-12h0m-7 8h0m0-7h0m0 3h0m-8-2h0m0 9h0m-6-10h0m-2 7h0m-37-2h0m-1 8h0m-34-14h0m41 18h0m20 0h0m3 4h0m8 7h0m3-6h0m4 6h0m10-11h0m12 0h0m2 2h0m1 0h0m7-4h0m5 8h0m3 14h0m-10 6h0m-4-9h0m-13 6h0m-8-5h0m-12 4h0m-1-2h0m-5-8h0m-17 8h0m-1-2h0m-11 5h0m-12-9h0m-5 6h0m-15 4h0m-15-11h0m-17 18h0m60-3h0m4 12h0m2 1h0m7-1h0m1-11h0m1 4h0m3 5h0m16 1h0m22-1h0m10 2h0m24 1h0m40 15h0m-39-6h0m-11-4h0m-4 0h0m0 9h0m-18-1h0m-4-10h0m-9 5h0m-21-5h0m-1 4h0m-16 4h0m-6-5h0m-1 1h0m-3-4h0m-15 2h0m-3 7h0m-35 5h0m61 1h0m3 11h0m9-7h0m2 7h0m33-11h0m1 1h0m15 3h0m4-2h0m10 6h0m113 4h0m80-12h0m-20 24h0m-41-3h0m-3 2h0m-16-9h0m-109 0h0m-19 7h0m-17-6h0m-2 9h0m-8-6h0m-11 1h0m-3 3h0m-20-9h0m50 27h0m129-7h0m15 6h0m17 0h0m38-11h0m16 18h0m-20-1h0m-2 3h0m-4 3h0m-22 5h0m-12-3h0m-1-5h0m-1-4h0m-37 12h0m-5-12h0m-4 7h0m-43 6h0m-70-8h0m82 14h0m5-4h0m31 10h0m6-1h0m16 2h0m13-10h0m15-2h0m15 12h0m2-10h0m-7 14h0m-43 1h0m-6 1h0m-12 4h0m-31 7h0m-78-14h0m-256 7h0m348 20h0m1-4h0m2 1h0m15-4h0m4-5h0m16 1h0m30 9h0m3-5h0m32 1h0m-49 14h0m-248 24h0m233 1h0m-6 7h0m-231 22h0m211-9h0m-301 10h0m-12 4h0m130 29h0m-19 10h0m-11 6h0"/>
<path stroke="#c6def0" d="M488 1479h0m0-5h0m10-1h0m3-3h0m56 9h0m-50 7h0m-18-1h0m-5 6h0m-5 6h0m-6 14h0m27-3h0m12-7h0m11 1h0m27 11h0m-36 10h0m-8 2h0m-3-10h0m-7 5h0m-24-2h0m-33 15h0m6 11h0m51-2h0m35 1h0m2 16h0m-37-13h0m-10 13h0m-17 0h0m-7-6h0m-45-4h0m-4 5h0m-1 5h0m-2-2h0m17 15h0m5-7h0m4-5h0m14 8h0m9-4h0m14 5h0m1-4h0m32-1h0m15 0h0m8 10h0m10-9h0m46 5h0m-22 9h0m-31 8h0m-14-2h0m0-7h0m0 9h0m-43-9h0m-4 10h0m-1-10h0m-7 5h0m-5 1h0m-5 2h0m-2-11h0m-10 0h0m-11 1h0m-12 17h0m7-3h0m1 12h0m1-11h0m1 11h0m46-3h0m2-5h0m6-3h0m2 4h0m24 0h0m12 0h0m2 0h0m1-4h0m27 3h0m7 0h0m27 8h0m-44 16h0m-10-8h0m-6 2h0m-19-7h0m-4 5h0m-15-5h0m-7 8h0m-26 2h0m18 12h0m18 7h0m29-3h0m5 2h0m3-11h0m5 12h0m23 7h0m-16 7h0m-18 0h0m-27-12h0m38 14h0m0 2h0m165 34h0m-305 23h0m-62-6h0m-73-3h0m14 11h0m113 13h0m5-2h0m6 1h0m4-1h0m2-5h0m3-6h0m6 12h0m26-2h0m25 2h0m172-9h0m-214 20h0m-16-7h0m-21 5h0m-24 5h0m-2 0h0m-10 2h0m-65-13h0m-28 0h0m-148 26h0m149-5h0m16 4h0m87-2h0m3 3h0m0-10h0m3-1h0m10 9h0m4-3h0m16-7h0m8 12h0m4-12h0m3 4h0m10 9h0m23-7h0m17 8h0m12-11h0m2 11h0m5-5h0m6 2h0m18 5h0m-11 11h0m-17-2h0m-17 2h0m-2 2h0m-17-14h0m-23 7h0m-1 2h0m-19-6h0m-9 8h0m-34-3h0m-30-3h0m-30 4h0m-13 0h0m-139 1h0m-10-4h0m-11 2h0m-5 2h0m-16 1h0m-5-5h0m-8-3h0m51 15h0m195 8h0m52-6h0m11 9h0m16-4h0m5 3h0m17-3h0m22-9h0m14 5h0m4 1h0m20 1h0m8-2h0m5 2h0m6-3h0m5 17h0m-9 0h0m-14-5h0m-2 1h0m-12 1h0m-8 1h0m-51 8h0m-2 0h0m-11-8h0m-3 3h0m-9-7h0m-1 5h0m-53-6h0m-52 10h0m-1-1h0m-9-7h0m-8 2h0m-25 16h0m100-1h0m17 6h0m28-5h0m40-1h0m1 9h0m38 1h0m16-13h0m3 6h0m7 0h0m2 22h0m0-10h0m-26 10h0m-3-2h0m-9-10h0m-11 12h0m-15-3h0m-4 11h0m28 1h0m5 2h0m32-7h0m4-1h0m-40 18h0m122 10h0m75 7h0m12-2h0m8 17h0m-9-4h0m-1 10h0m-3-4h0m-10-3h0m-37 8h0m-37-8h0m-7 1h0m4 12h0m1-2h0m11 7h0m2-8h0m7 8h0m6 5h0m5-8h0m15-6h0m6 8h0m29-4h0m4 7h0m1 4h0m-19 10h0m-1-10h0m-1 3h0m-6 1h0m-1 6h0m-10-5h0m-4 0h0m-6 1h0m0 2h0m-2 3h0m0 1h0m-9-6h0m-9-6h0m-1 2h0m69 127h0m-8 0h0m-1-2h0"/>
<path stroke="#f3d7a4" d="M538 1480h0m11-3h0m16 1h0m12 14h0m-8-6h0m-19 10h0m-3-10h0m-6 0h0m-30 3h0m10 15h0m1 10h0m12-2h0m49-2h0m4-4h0m16-2h0m12 8h0m1-9h0m6 7h0m7-3h0m-23 9h0m-29 5h0m-8 8h0m-3-13h0m0 9h0m-42 10h0m33-3h0m15 11h0m24-9h0m1 5h0m12 1h0m1-4h0m23 20h0m-23 3h0m-8-1h0m-7-9h0m-35-1h0m-14 1h0m-10 9h0m-3 11h0m3-6h0m2-2h0m21 2h0m18 2h0m11-5h0m2 4h0m25 7h0m49 4h0m-28 4h0m-23 7h0m-4 2h0m-2-12h0m-3 0h0m-9 13h0m-8-12h0m-56 1h0m-29 7h0m-12 17h0m2-7h0m121 8h0m5-5h0m1-7h0m10 6h0m0-6h0m106 25h0m-24 0h0m-43-5h0m-6-1h0m-18-4h0m-9 0h0m0 1h0m-49 11h0m-12-11h0m-19 11h0m-26-8h0m-42-4h0m-1 16h0m62 11h0m20-8h0m13 3h0m8 5h0m10-8h0m27 5h0m16-10h0m30 9h0m18-3h0m11-2h0m50 6h0m10 1h0m22 1h0m-1 12h0m-1-3h0m-4 6h0m-15-12h0m-5 6h0m-11-4h0m-27 11h0m-2 1h0m-2-10h0m-4-4h0m-15 6h0m-54 4h0m-3 4h0m-7-13h0m-5 11h0m-21 0h0m-12-4h0m-2 0h0m-38 4h0m-9-5h0m-9 5h0m10 8h0m7-3h0m8 2h0m10 2h0m42-6h0m7 0h0m9 4h0m15 7h0m5-6h0m6 9h0m35-8h0m5 4h0m0 2h0m7-4h0m1-6h0m0 2h0m13 1h0m1-2h0m13 1h0m1-1h0m14-3h0m1 11h0m8 2h0m2-3h0m27 3h0m1-7h0m2-3h0m-4 15h0m-3 4h0m-3 3h0m-7 2h0m-1 0h0m-12-12h0m-2 8h0m-5 4h0m-11 1h0m-15-8h0m-10 3h0m-3 1h0m-1 0h0m-8-5h0m-3 2h0m-43-2h0m-14-1h0m-10 8h0m-4-8h0m-10-2h0m-5 4h0m-5 1h0m-10-2h0m-9 7h0m-31-1h0m-1 0h0m-17-10h0m17 17h0m6 12h0m8-12h0m30 7h0m16-9h0m44 0h0m4 2h0m1 4h0m8 0h0m18 1h0m13 0h0m6 2h0m7 4h0m14-7h0m22-1h0m2-3h0m11 17h0m-38 9h0m0-3h0m-3 0h0m-26 2h0m-29 2h0m-77-7h0m-53 14h0m99 6h0m16-12h0m3 10h0m4 0h0m8-6h0m19-3h0m24 3h0m6 8h0m7-6h0m5-6h0m6 6h0m5 2h0m17-7h0m-42 17h0m-8 1h0m0-3h0"/>
<path stroke="#8cbfe3" d="M493 1488h0m-6 2h0m-8 2h0m11 57h0m-27 7h0m-18-6h0m-1 3h0m-21 7h0m10 14h0m5-6h0m11-1h0m9-7h0m12 2h0m7 9h0m20-8h0m-2 22h0m-15-10h0m-36 5h0m-3 7h0m-24 14h0m5-8h0m10-1h0m56 17h0m-61 4h0m8 7h0m18 1h0m-170 57h0m-33 9h0m16-6h0m15 10h0m3-3h0m12 2h0m3 0h0m5 1h0m1-1h0m73 14h0m-56 4h0m-1-5h0m-3 3h0m-2-3h0m-10-4h0m-4 10h0m-6-3h0m-6-5h0m-1-2h0m-7 3h0m-10 6h0m-10 15h0m8-2h0m15-6h0m7 7h0m6 1h0m22-11h0m8-2h0m2 5h0m2 0h0m19 9h0m7-7h0m24 6h0m21-6h0m6-6h0m8 10h0m21-4h0m0-1h0m-25 13h0m-3 0h0m-29-2h0m-25 7h0m-13 0h0m-25-9h0m-20 14h0m-4-11h0m-9 10h0m-2-12h0m-15 6h0m-3 2h0m-7-2h0m-155 22h0m5 0h0m139-5h0m10 2h0m27 3h0m2-12h0m2 3h0m5 1h0m2-2h0m7 3h0m2 2h0m1-3h0m34 7h0m7-10h0m14 6h0m16-6h0m53 11h0m1-9h0m51 9h0m5-2h0m-24 11h0m-17 2h0m-19-3h0m-43 0h0m-20-2h0m-60 1h0m-14 2h0m-9-8h0m-13 3h0m-21 10h0m-134-12h0m-3 11h0m-8-12h0m-1 10h0m-2 0h0m-4-2h0m-9 0h0m23 7h0m17 2h0m41 2h0m10-1h0m38 3h0m28 4h0m3-7h0m38 8h0m8-9h0m5 6h0m6 4h0m0-8h0m49 3h0m23 1h0m14-1h0m23 6h0m4 1h0m1-2h0m22-4h0m1-2h0m10-5h0m-70 20h0m-38-4h0m-48 7h0m-7 0h0m-24-3h0m-17 4h0m-12-1h0m36 7h0m142 11h0m52 1h0m40-2h0m-14 4h0m-8 9h0m-9-6h0m-14-2h0m-24 2h0m-6 1h0m-31-1h0m75 15h0m6 6h0m-45 7h0m232 18h0m-2 12h0m-22 8h0m-34 3h0m17 15h0m10 1h0m11-9h0m15 5h0m1 4h0m4-6h0m1 7h0m-9 4h0m-7 133h0"/>
<path stroke="#e4592f" d="M628 1527h0m-5 8h0m22 2h0m25 6h0m1-10h0m20 4h0m5 3h0m14 4h0m32 3h0m-20 2h0m-1 7h0m-3 1h0m-8-4h0m-7-5h0m-6 8h0m0-4h0m-13 0h0m-1 6h0m-36-3h0m-15-8h0m-2 6h0m-8-6h0m5 15h0m4 6h0m0-6h0m16 0h0m10 9h0m57-2h0m9 3h0m2 2h0m4-4h0m4-5h0m5-4h0m4 3h0m27-1h0m7 14h0m-1 12h0m-9-1h0m-10-3h0m-4-5h0m-28-3h0m-3 3h0m-29 2h0m-3-4h0m-5 10h0m-5-5h0m-10-4h0m-7 9h0m-30-10h0m-11 5h0m45 14h0m8-4h0m17-3h0m2 14h0m8-9h0m16-4h0m24-1h0m11 13h0m2-9h0m0 5h0m14 2h0m6-4h0m-10 21h0m-1-1h0m0-5h0m-1 3h0m-8 3h0m-50 1h0m-7 1h0m5 2h0m18-1h0m2 0h0m35-1h0m33 20h0m-16-5h0m-39 0h0m-139 13h0m99 26h0m-72 4h0m-27 4h0m41 0h0"/>
<path stroke="#f4a75a" d="M602 1496h0m-24 0h0m42 12h0m10 0h0m10 16h0m-22-8h0m-37 6h0m17 18h0m21-1h0m1 4h0m0 1h0m16-1h0m7-10h0m8 3h0m39 0h0m14 6h0m27 6h0m-14 2h0m-3 3h0m-79-1h0m-16 7h0m0-7h0m-2 6h0m-8 0h0m-4-5h0m-15 6h0m-26 2h0m25 9h0m20-3h0m8 3h0m8-4h0m4 1h0m55-4h0m11 1h0m16 3h0m9-5h0m23 4h0m12-6h0m13 3h0m-94 12h0m-2 14h0m-2-3h0m-2-11h0m-1 11h0m-9-3h0m-49-8h0m0 11h0m-15-1h0m14 19h0m4-10h0m6 6h0m10 1h0m9-9h0m3 9h0m11-1h0m23-6h0m20 0h0m2 6h0m80 2h0m-23 11h0m-32-5h0m-11 6h0m-2 2h0m-8 3h0m-8-6h0m-3-3h0m-16 5h0m-13-1h0m-23-7h0m-6 1h0m-12-3h0m-8 9h0m-9-9h0m-3 1h0m-15 10h0m-51 10h0m31 8h0m21-8h0m2 2h0m32 1h0m7 1h0m19-1h0m27 2h0m14-8h0m42-1h0m21 11h0m-45 2h0m-18 14h0m-1-8h0m-61 1h0m-12 0h0m-20 6h0m-4 1h0m-9-12h0m-18-2h0m-28 27h0m20-11h0m1 11h0m4-10h0m2 10h0m3-12h0m22 7h0m25 5h0m5-12h0m4 4h0m78 5h0m68 5h0m-12 15h0m-40-8h0m-99-6h0m-18 5h0m0-1h0m-16-1h0m-18 5h0m-15 2h0m-1-5h0m-9-2h0m9 15h0m50 5h0m94-4h0m73 5h0m-144 7h0m-19 11h0m-6 2h0m-1-13h0"/>
<path stroke="#b9202a" d="M690 1540h0m32 20h0m-1 21h0m-32 8h0m20 1h0m5 1h0m48 7h0m22-1h0m3 8h0m-89 23h0m93 29h0"/>
<path stroke="#4a94cf" d="M429 1562h0m-169 130h0m106 16h0m-116 9h0m7-6h0m16 1h0m12 0h0m47 4h0m99 1h0m-30 9h0m-103-1h0m-49 12h0m-147 15h0m179-4h0m89 12h0m-93 9h0m-26-12h0m27 25h0m2 2h0m0 9h0m-9 1h0m-9 1h0m11 9h0"/>
<path stroke="#efece4" d="M531 1469h0m-40 12h0m4-6h0m2 3h0m12-5h0m6 4h0m2 3h0m2 4h0m8-2h0m8-12h0m2 13h0m54 10h0m-19 4h0m-9-8h0m-17 0h0m-4 3h0m-11-2h0m-4 1h0m-4-6h0m0 9h0m0 2h0m-22-8h0m-5 9h0m-3-3h0m-1 4h0m-17 15h0m21-2h0m21-3h0m2-3h0m5-2h0m5 0h0m6 1h0m6 0h0m5-1h0m33 5h0m-12 10h0m-29 7h0m-21-1h0m-11-6h0m-24 2h0m-14 22h0m29-7h0m35 6h0m5 0h0m6-9h0m2 3h0m-1 21h0m-8-2h0m0-8h0m-15 9h0m-2 2h0m-6 1h0m-41-6h0m-1 13h0m13-4h0m20 11h0m7-4h0m14 2h0m4 3h0m11-7h0m3 5h0m1-11h0m26 9h0m6 0h0m14-6h0m10 2h0m-37 24h0m-6-10h0m-3-2h0m-17 3h0m-4 4h0m-6-6h0m-4 1h0m-6 1h0m-9 6h0m-7-8h0m-30 2h0m-6 6h0m-4-1h0m-1-8h0m-36 4h0m17 9h0m13 0h0m24 1h0m11 5h0m12 1h0m8 2h0m31-3h0m5-6h0m12 9h0m11 0h0m5-3h0m187 19h0m-1 4h0m-178-9h0m-9-1h0m-11-2h0m-23 1h0m-9 10h0m0-2h0m-16-2h0m-9-4h0m-1-1h0m-1 2h0m-6 4h0m-15 13h0m5-1h0m0-5h0m2 1h0m38-1h0m6 12h0m12-2h0m8-4h0m0 3h0m4-6h0m6-1h0m20 0h0m5 2h0m95 2h0m25-5h0m17 9h0m12 1h0m54 5h0m-4 7h0m-275-1h0m75 7h0m84 6h0m2-3h0m29-2h0m2 9h0m49 14h0m-4 1h0m-4-10h0m-18 1h0m-3-2h0m-1 1h0m-11 9h0m-16 0h0m-40-6h0m0 3h0m-2 7h0m-3-9h0m-9 0h0m-19 7h0m-18 14h0m35 3h0m19-12h0m17 5h0m1 0h0m4 1h0m8-6h0m6-1h0m29 3h0m2 2h0m40 15h0m-83-1h0m-17-4h0m-4 6h0m-11 4h0m-11-7h0m-16 18h0m21 1h0m6-5h0m31 7h0m7-6h0m1-4h0m27 9h0m14 0h0m5-3h0m-14 11h0m-30 3h0m-22-2h0m-322 18h0m14 5h0m50-8h0m65 5h0m40 2h0m4-1h0m150 3h0m19-6h0m3-3h0m-16 12h0m-173 13h0m-57-12h0m-324 10h0m308 10h0m225 15h0m-1 3h0m-221 15h0m148 74h0m1 17h0m20-3h0m16 3h0m53-2h0m-26 9h0"/>
<path stroke="#c6def0" d="M484 1481h0m1 1h0m13-3h0m12-2h0m3 4h0m-15 7h0m-3 2h0m-11 5h0m19 9h0m3 6h0m1-5h0m2-4h0m49 19h0m-35 9h0m-20-10h0m-8 5h0m-3-8h0m-18 6h0m-29 12h0m17 6h0m25-4h0m57 6h0m3-4h0m26 19h0m-7-7h0m-26 2h0m-36 2h0m-18-5h0m-32 9h0m-8-2h0m0-4h0m-4 2h0m-5-6h0m-15 3h0m-16 0h0m-7 13h0m12 7h0m5-2h0m3-1h0m0-6h0m0 11h0m7-7h0m37 3h0m7-9h0m26 4h0m2 0h0m9 0h0m18 6h0m55 0h0m11-1h0m9 5h0m-36 1h0m-2 14h0m-6-14h0m-16 12h0m-23-6h0m-2 2h0m-32-8h0m-4 2h0m0 10h0m-15-7h0m-20 3h0m-7 4h0m-4-8h0m-5 4h0m-8 0h0m-1 16h0m10 0h0m3-5h0m9-4h0m3 2h0m11 7h0m77-9h0m16 29h0m-10-8h0m-9 4h0m-43-1h0m-32-8h0m1 15h0m6 3h0m12 3h0m6-4h0m11-1h0m11 9h0m2-5h0m16 8h0m8-4h0m11-10h0m23 2h0m105 25h0m-144-3h0m108 32h0m-347 17h0m112 16h0m-113-8h0m-8 16h0m63-7h0m2 6h0m13 0h0m9 8h0m13 0h0m17-11h0m20 7h0m16-1h0m13 1h0m22 5h0m-6 10h0m-28-3h0m-10-2h0m-14-4h0m-9 8h0m-19-5h0m-3 6h0m-3 4h0m-6-11h0m-4 11h0m-7-9h0m-11 6h0m-6-5h0m-17 4h0m-226 19h0m173-7h0m10 5h0m49-10h0m14 0h0m42 0h0m1 9h0m23-6h0m17 6h0m21-3h0m4-5h0m13 11h0m28-2h0m5 0h0m16 17h0m-12-13h0m-12 3h0m-1 4h0m-6-3h0m-11-2h0m-30 1h0m-17 10h0m-21 0h0m-33-11h0m-37-2h0m-55 1h0m-27 1h0m-120 9h0m-3-7h0m-12 6h0m-1-11h0m-2 2h0m-1 12h0m-18-7h0m51 12h0m114-4h0m104 10h0m7 3h0m26-4h0m17 0h0m10 0h0m12 5h0m4-5h0m34-4h0m46 7h0m-5 6h0m-12 2h0m-25-4h0m-2 4h0m-32 4h0m-5-3h0m-6 5h0m-8-1h0m0 1h0m-10 3h0m-1 0h0m-14-2h0m0-3h0m-48-9h0m-16 13h0m-17-10h0m-16 0h0m31 13h0m45 4h0m14 8h0m3-2h0m11-7h0m6 9h0m17-13h0m16 14h0m10-4h0m3 4h0m7-3h0m6-5h0m4-3h0m20-1h0m17 2h0m-12 15h0m-4 2h0m-5 7h0m-14 1h0m-14-5h0m-6-3h0m-5 1h0m-10 1h0m-2 0h0m-7-5h0m-25 4h0m0-5h0m29 25h0m1-8h0m2-3h0m10 2h0m14 1h0m1-3h0m9-1h0m24 2h0m78 27h0m-108-7h0m-3 0h0m-18-2h0m204 19h0m1 4h0m16 3h0m-8 13h0m-9 0h0m-8 0h0m-9-1h0m-40 1h0m-19-5h0m5 12h0m8 8h0m9-12h0m6 8h0m4-7h0m25 8h0m18 3h0m12-13h0m7 8h0m-3 12h0m-10-1h0m-11 6h0m-13-6h0m-5-1h0m-10-1h0m-2-1h0m-6 8h0m-6-2h0m-1 4h0m64 112h0m-12 8h0m0-10h0"/>
<path stroke="#f3d7a4" d="M529 1480h0m18-7h0m1 1h0m6 4h0m12 2h0m31 12h0m-4 2h0m-1-2h0m-5-6h0m-8 12h0m-11-13h0m-12 3h0m-42 8h0m-11-1h0m53 10h0m11-3h0m3 6h0m2-4h0m4-4h0m1 8h0m11-3h0m11 7h0m17 17h0m-63-9h0m-39-3h0m-20 10h0m27 7h0m19 4h0m4-7h0m1 13h0m6-13h0m10 4h0m38 0h0m0 3h0m3-3h0m3 6h0m15 2h0m3-4h0m14 4h0m-7 7h0m-3 8h0m-15-7h0m-7-1h0m-30-3h0m-75 6h0m90 19h0m5-12h0m7 1h0m10 9h0m60-1h0m-7 7h0m-25 3h0m-6 5h0m-3 5h0m-1-13h0m-28 8h0m-24-9h0m-26 1h0m-81 5h0m101 22h0m25-4h0m0-7h0m7 1h0m2 5h0m4-2h0m11 5h0m141-7h0m-52 21h0m-14-1h0m-30 1h0m-13 3h0m-2-1h0m-7-12h0m-14 7h0m-27-5h0m-7 11h0m-25-6h0m-56-1h0m-40 19h0m36-6h0m51 2h0m3-4h0m15 9h0m20-5h0m36-3h0m19 0h0m11 9h0m1-5h0m19-5h0m2 4h0m4-5h0m9 12h0m1 0h0m4 0h0m2-1h0m4-9h0m18 11h0m3-2h0m18 2h0m0-7h0m38 3h0m1-5h0m-1 10h0m-27 8h0m-15 4h0m-22-4h0m-6 0h0m-38-5h0m-1-1h0m-23 1h0m-8 10h0m-38-6h0m-5 2h0m-18-1h0m-22 0h0m-12 1h0m-33-1h0m9 9h0m17 11h0m7-2h0m7-11h0m1 2h0m2-2h0m7 5h0m7 6h0m8-2h0m12 1h0m1-1h0m11-3h0m33 0h0m4-1h0m6-2h0m37 2h0m17-1h0m11 3h0m32-5h0m41 5h0m-3 8h0m-3 2h0m-19 12h0m-3-11h0m0 10h0m-15-13h0m0 9h0m-14-5h0m-16 4h0m-3-4h0m-17 4h0m-68 3h0m-1 0h0m-1-6h0m-32 0h0m-6-5h0m-3 12h0m-37 14h0m3-8h0m7-3h0m3 2h0m5 7h0m22 4h0m7-2h0m19-10h0m13 8h0m15 1h0m16-1h0m6 3h0m4-4h0m21-8h0m20 4h0m18 9h0m2-9h0m20-4h0m12 13h0m10 8h0m-2 0h0m-26-4h0m-20 2h0m-4 2h0m-13 6h0m-21-4h0m-3 6h0m-23-4h0m-31-9h0m-36 5h0m-3-6h0m0 18h0m28 5h0m30-8h0m21 8h0m8 3h0m4 0h0m10-7h0m4 9h0m14 1h0m5-13h0m7 0h0m2 7h0m20-3h0m-21 10h0m-196 6h0m146 20h0m-8 5h0m-14 23h0m13-8h0m-14 14h0"/>
<path stroke="#8cbfe3" d="M491 1497h0m-12-9h0m3 19h0m-32 20h0m-16 2h0m12 1h0m15 8h0m19-8h0m8 6h0m-51 17h0m-10 5h0m45 3h0m2 19h0m-66-5h0m93 28h0m-21 13h0m-55-9h0m-144 84h0m13 1h0m1-5h0m4-1h0m16 16h0m-7-5h0m-4 10h0m-3-1h0m-5-11h0m-18 13h0m0-10h0m-8 10h0m-2-7h0m-6-2h0m-15 7h0m2 12h0m3-5h0m8 2h0m8-1h0m20 7h0m2 0h0m9-7h0m43 0h0m15 6h0m0-1h0m1 0h0m47 2h0m1-3h0m6-8h0m47 24h0m-44-6h0m-15 5h0m-27-4h0m-11 0h0m-11 4h0m-28 3h0m-1 3h0m-21-9h0m-13 9h0m-2-12h0m-32 8h0m-164 19h0m163-8h0m1-2h0m41 2h0m6-1h0m3 3h0m10-2h0m29-3h0m5-1h0m53 2h0m39 1h0m38 5h0m12-3h0m-2 14h0m-2-1h0m-32-1h0m-2 4h0m-9 0h0m-77-5h0m-45 4h0m-3-4h0m-54 9h0m-15 0h0m-4-9h0m-109 10h0m-14-1h0m-2 1h0m-5-1h0m-1 1h0m-12-9h0m-10-4h0m86 19h0m35 2h0m27 3h0m9-5h0m2-3h0m6-1h0m2 6h0m2 0h0m15-3h0m10 7h0m3-8h0m17 9h0m46-1h0m106-3h0m4-7h0m21 8h0m1-1h0m28 1h0m-17 21h0m-2-14h0m-58 11h0m0 2h0m-5-11h0m-3 3h0m-16 3h0m-7 6h0m-1-13h0m-17 0h0m0 11h0m-3-11h0m-5 3h0m-31 5h0m-21 5h0m-46-13h0m-3-1h0m-7 10h0m-9-9h0m-3 10h0m-7-3h0m-1-1h0m-5-5h0m15 19h0m4-6h0m6 1h0m150 5h0m13 5h0m23-7h0m15 6h0m13 9h0m-2 6h0m-7 3h0m-26-2h0m0-8h0m-14 7h0m-1-9h0m-3 12h0m-7-5h0m-6-1h0m-22-7h0m43 24h0m14 9h0m212 16h0m8 16h0m-1 0h0m-33 6h0m-25 3h0m-21 9h0m3 6h0m49-6h0m0 9h0m-19 6h0m-3-4h0m-10 0h0m7 12h0m41 108h0m0 5h0m-7-4h0m3 12h0"/>
<path stroke="#e4592f" d="M629 1510h0m16 19h0m-9 15h0m22-8h0m34 4h0m69 17h0m-26 0h0m-20 2h0m-4-6h0m-8-7h0m0-1h0m-1 9h0m-70 1h0m-26 2h0m23 8h0m32-3h0m0 4h0m3 8h0m3-14h0m3 12h0m8-11h0m21 13h0m9-1h0m3 0h0m12-4h0m1-6h0m9 8h0m8 0h0m4-2h0m2-3h0m8 6h0m10-1h0m6 3h0m9 4h0m-4 9h0m-15-3h0m-3-4h0m-7 9h0m0-7h0m-18 1h0m-1-4h0m-15-1h0m-33 3h0m-6-3h0m-14 11h0m-41-12h0m64 13h0m2 10h0m9-4h0m22-3h0m14 3h0m12 1h0m9-2h0m15 3h0m0-1h0m3 0h0m0 6h0m7-3h0m6 0h0m0 11h0m-26 1h0m-4-2h0m-10-1h0m-27 3h0m-1-4h0m-1-3h0m-12 14h0m-3-5h0m-2 0h0m-137 8h0m166 0h0m7 2h0m24-4h0m7 3h0m22-1h0m-7 25h0m-1-3h0m-65-3h0m-27-1h0m-54 22h0m20 7h0"/>
<path stroke="#f4a75a" d="M587 1507h0m42 6h0m7 0h0m-54 5h0m20 17h0m3-3h0m13 6h0m9 4h0m11-12h0m6 0h0m2 5h0m7 0h0m6-2h0m16 3h0m45 7h0m9 1h0m-78 4h0m-24 7h0m-5 2h0m-6 0h0m-9 2h0m0-10h0m-13 8h0m118 3h0m9 13h0m48 4h0m-107 0h0m-3 3h0m-4 9h0m-4-3h0m-8-11h0m-12 10h0m-4 1h0m-9-4h0m-1 0h0m-14-3h0m-9 0h0m-8 13h0m8 9h0m8-7h0m16 10h0m19-10h0m53 2h0m9-3h0m29 4h0m27-2h0m21 17h0m-12 4h0m-13 3h0m-33-11h0m-1 7h0m-4 2h0m-1-4h0m-47-1h0m-13-6h0m-29 0h0m-7 1h0m-4 6h0m-25-8h0m-26 28h0m7-1h0m29-6h0m2 5h0m30 2h0m1-4h0m28-8h0m18 6h0m8 6h0m2-3h0m32-3h0m13-6h0m1 11h0m48-1h0m2 7h0m-2 11h0m-35-12h0m-58 0h0m-22 9h0m-45-11h0m-6 5h0m0 8h0m-29-6h0m-4 4h0m-7-7h0m-17 10h0m-19-8h0m16 18h0m27-9h0m5 9h0m7-5h0m6 10h0m3-13h0m22 5h0m19 2h0m11-7h0m119 13h0m-111 4h0m-1 4h0m-18-5h0m-14-1h0m-5 11h0m-1-6h0m-25 4h0m-14-1h0m-3-8h0m-1 8h0m-21-9h0m-3 0h0m-4 12h0m-11-9h0m10 23h0m7-8h0m16 1h0m2 3h0m26 4h0m1-4h0m28 0h0m145-7h0m-57 24h0m-9-7h0m-140 0h0m76 18h0m28 4h0m6 3h0m43-8h0m-6 11h0"/>
<path stroke="#b9202a" d="M630 1527h0m53 16h0m69 13h0m-130 4h0m58 0h0m39 4h0m-53 15h0m68 15h0m30 4h0m-67 19h0"/>
<path stroke="#4a94cf" d="M257 1683h0m23 14h0m-27 4h0m14 15h0m6 36h0m13-11h0m10 13h0m152-5h0m-2 12h0m-140 2h0m-10 4h0m-1-3h0m-44-3h0m-3 5h0m-2 6h0m39 9h0m17 5h0m-30 4h0m-31 5h0m-8-1h0m28 7h0m384 107h0"/>
</g>
<g transform="translate(310.1,308.9) scale(0.415,0.41) scale(0.2)" stroke-width="13.6" stroke-linecap="round" fill="none">
<path stroke="#f3d7a4" d="M486 1473h0m5-2h0m7 2h0m3-3h0m14 7h0m2 3h0m2 4h0m16-14h0m44 28h0m-56-4h0m-16-8h0m-6 2h0m-14 2h0m-3 5h0m-5-3h0m-2-4h0m-4 23h0m2 2h0m31-3h0m1-6h0m14 0h0m3-1h0m11 1h0m3 7h0m12 2h0m56 3h0m-89 8h0m-3-1h0m-8 2h0m-24-5h0m-8 2h0m-2-4h0m-33 15h0m41-3h0m74 15h0m-91 11h0m-1-3h0m-8 5h0m-8-6h0m-1-2h0m-8 3h0m-1 7h0m41 11h0m18 14h0m-15-10h0m-27 11h0m-21 8h0m9-4h0m3 2h0m10-2h0m20 9h0m27-2h0m8 2h0m-7 12h0m-23 2h0m-5-4h0m-21 6h0m2 6h0m18 6h0m13 0h0m3 7h0m11-1h0m164 49h0m-411 64h0m-4 28h0m53 0h0m-16 20h0m-36-2h0m-17 2h0m28 7h0m8 0h0m385 66h0m11-3h0m9 18h0m-9-4h0m-1-2h0m-8 13h0m-17-3h0m-49 3h0m-9-6h0m-4-2h0m-7 1h0m5 10h0m7 8h0m11-8h0m0 6h0m8 6h0m1-7h0m1-4h0m21 9h0m4-1h0m6 2h0m22-9h0m2-3h0m3 14h0m-38 5h0m-10-1h0m0-1h0m-2 9h0m-9-6h0m-10-4h0m61 127h0m4 8h0"/>
<path stroke="#c6def0" d="M538 1480h0m33 4h0m31 12h0m-25-4h0m-5 5h0m-9-8h0m-7-1h0m-10 1h0m18 13h0m6 6h0m6-8h0m11 7h0m12 5h0m21-4h0m2 2h0m7 3h0m-47 5h0m-13 11h0m-3-13h0m-8 4h0m-5 0h0m-22 23h0m20-12h0m47 9h0m1-2h0m11-2h0m9 3h0m1 5h0m23-11h0m3 2h0m45 2h0m13 5h0m16 1h0m-17 5h0m-20 10h0m-48-6h0m-5-2h0m0 3h0m-25 0h0m-58 0h0m0-7h0m-47 7h0m-37 16h0m35-5h0m25 3h0m17-1h0m20-3h0m2 2h0m1 0h0m7-4h0m15 9h0m6-1h0m4-9h0m5 5h0m12 5h0m13-4h0m36 0h0m11 3h0m12-6h0m15 11h0m26 0h0m18-8h0m12-6h0m-90 16h0m-1-1h0m-5 5h0m-1 3h0m-22-4h0m-23 7h0m-4-11h0m-15 4h0m-16 4h0m-14-8h0m-8 0h0m-13 6h0m-10 3h0m-3-1h0m-29 20h0m9-2h0m12-6h0m23-5h0m13 13h0m48-5h0m12 6h0m0-4h0m19-6h0m56 10h0m93-4h0m-26 12h0m-4-2h0m-2 8h0m-36-10h0m-13 11h0m-45-5h0m-29-6h0m-15-1h0m-30 11h0m-5-8h0m-9-1h0m-1 3h0m-23 7h0m-2-12h0m-8 1h0m-1 4h0m-34 14h0m15 5h0m5 2h0m10-7h0m11-4h0m18 2h0m2 0h0m1-2h0m3 10h0m19-4h0m32 1h0m26 0h0m22-2h0m5 4h0m12 2h0m96-2h0m-94 18h0m-20-2h0m-9-9h0m-43 10h0m-8-1h0m-14 1h0m-14-12h0m-24 11h0m0-6h0m-33 2h0m10 9h0m2 10h0m20-10h0m10-2h0m18 0h0m18 9h0m11-3h0m0 6h0m34-1h0m28-7h0m73-4h0m41 3h0m-91 22h0m-31 3h0m-2-10h0m-35 0h0m-15 11h0m-14-4h0m-11 2h0m-7-3h0m-21-9h0m-7 12h0m1 6h0m3-1h0m18 2h0m30 7h0m76-3h0m8-6h0m7 0h0m4 25h0m-12-4h0m-5-3h0m-5-3h0m-16 5h0m-2 0h0m-31 7h0m-35-7h0m-210 22h0m5-2h0m18-4h0m11 3h0m14-4h0m9 3h0m20 3h0m163-6h0m16 5h0m3 0h0m16-2h0m6-10h0m55 12h0m-2 6h0m-21 2h0m-27-2h0m-207-3h0m-44 9h0m-8-5h0m-9-3h0m-25 3h0m-3 0h0m-17 5h0m-3-4h0m-65 15h0m37-3h0m14 11h0m4-10h0m3 0h0m1 3h0m9 3h0m5 2h0m1-10h0m39 3h0m10-1h0m36 0h0m29 6h0m10 3h0m34-3h0m172-6h0m-16 12h0m-1 7h0m-10-6h0m-162 12h0m-15-7h0m-51-2h0m-74 1h0m-57 21h0m46-1h0m14 3h0m8-5h0m35 1h0m4 4h0m2 1h0m4-5h0m51-2h0m13 1h0m7 0h0m25 4h0m140-7h0m-157 15h0m-3 9h0m-6-11h0m-18 2h0m-32 4h0m-4 2h0m-26 3h0m-7-6h0m-9-7h0m-15 3h0m-24-4h0m-15 0h0m5 19h0m30 1h0m15 0h0m19 8h0m12-7h0m9-2h0m32 7h0m2 2h0m21 6h0m-17 8h0m-9-10h0m-9 9h0m0-8h0m-14 7h0m-3 1h0m-8-3h0m40 29h0"/>
<path stroke="#8cbfe3" d="M645 1529h0m-17-2h0m-5 12h0m4 3h0m9 2h0m0-1h0m2-13h0m7 7h0m8-2h0m6-2h0m12 0h0m4 3h0m15 4h0m20 4h0m19 0h0m13 3h0m-11 1h0m-13 9h0m-3 2h0m-12-14h0m-1 9h0m-5 2h0m-46-8h0m-18 8h0m-11 1h0m-3 2h0m-3-2h0m-11-7h0m-18 9h0m-21-9h0m34 24h0m15-3h0m7-11h0m7 7h0m2 1h0m33 6h0m14-13h0m2-1h0m31 13h0m0-6h0m8-3h0m4 5h0m1-6h0m21 6h0m2-3h0m33 12h0m-4 9h0m0-10h0m-18 3h0m-2 5h0m-5-3h0m-18 1h0m-9-6h0m-3 3h0m-47-5h0m-2 14h0m-10-1h0m-7 1h0m-21-5h0m-4-8h0m-7 1h0m-6 5h0m-23 3h0m-16-10h0m-16 14h0m-17 1h0m28 6h0m29-2h0m10 0h0m7-3h0m18 1h0m50-2h0m2 10h0m5-6h0m4 2h0m1-3h0m2 2h0m8-5h0m8 1h0m11 6h0m6-1h0m0-2h0m7-4h0m5 7h0m6 6h0m3-8h0m7 3h0m11 5h0m-9 13h0m-2-1h0m-41-7h0m-2 4h0m-9 3h0m0-1h0m-6 5h0m-4 0h0m-3-2h0m-1-3h0m-4-1h0m-30-3h0m-11 7h0m-16-11h0m-16-1h0m-7 8h0m-9-6h0m-1-2h0m-3 1h0m-38 16h0m19 9h0m5-5h0m4 7h0m10-8h0m0 6h0m1-5h0m26 4h0m10-7h0m6-3h0m24 12h0m20-2h0m0-8h0m2 4h0m2 0h0m7-6h0m10 3h0m15-2h0m6 1h0m5 10h0m18-2h0m0-3h0m9-7h0m29 2h0m1 18h0m0-2h0m-1-3h0m-7 3h0m-20 5h0m0-8h0m-47 4h0m-4-4h0m-15 6h0m-16-4h0m-53 10h0m-15-5h0m-1 0h0m-17 1h0m-13 3h0m-2-9h0m-18-2h0m-4 14h0m-19-8h0m-2 6h0m10 8h0m1 8h0m7-2h0m0-2h0m0 3h0m7-8h0m0-4h0m24 7h0m8-3h0m5 6h0m1 4h0m14-14h0m16 4h0m6 8h0m8-4h0m4-3h0m2 0h0m5-4h0m36 4h0m0 1h0m41-3h0m16-3h0m44 7h0m-15 18h0m-8 2h0m-2 2h0m-3-11h0m-9 5h0m-6 3h0m-10 2h0m-23 0h0m-4-3h0m-9-5h0m-1-4h0m-6 8h0m-40-5h0m-32 2h0m-1 6h0m-5-11h0m-3-1h0m-7 6h0m-11-1h0m-6-5h0m-10 3h0m-24-3h0m-10 18h0m4 8h0m8-8h0m4 11h0m1-12h0m27 11h0m6-11h0m28 3h0m20 5h0m21-4h0m39 1h0m6 2h0m17-7h0m26 3h0m10 4h0m13-9h0m-48 28h0m-7-7h0m-37 8h0m-90-8h0m0 8h0m-1-13h0m-215 8h0m-12 4h0m-27 8h0m13 0h0m6 1h0m0 2h0m40 3h0m7-1h0m186-8h0m98-3h0m0 1h0m3 3h0m30-3h0m4 5h0m5-6h0m-14 15h0m-8 1h0m-182 5h0m-68 3h0m-31-2h0m-10-2h0m-14-4h0m-40 2h0m-4 11h0m-5-2h0m-12-3h0m-1 2h0m30 14h0m4-7h0m5-1h0m26 2h0m10 9h0m26-5h0m5 6h0m23 0h0m5-6h0m2 2h0m4 1h0m6 1h0m2-5h0m3 5h0m23-2h0m-19 6h0m-8 11h0m-4-8h0m-7 1h0m-6 5h0m-10-2h0m-7 4h0m-3-4h0m-16-8h0m-23 7h0m-1 2h0m-28 2h0m-18-8h0m-16 5h0m-21-7h0m-9 4h0m68 17h0m4 7h0m19-1h0m28-7h0m5 8h0m25-9h0m34 3h0m6-3h0m1 13h0m-5 4h0m-12-7h0m-2 2h0m-14 2h0m-42 9h0m-1-7h0m-14 5h0m-9-3h0m-1 6h0m-6 0h0m-9-2h0m-9 0h0m0-11h0m-7 5h0m-50 10h0m73 3h0m39 10h0m13 0h0m2-10h0m40 15h0m-9 9h0m-5-3h0m-7 3h0m-3-10h0m-2 11h0m-12-13h0m-5 5h0m-6 8h0m-18-11h0m-25 4h0m-8-7h0m32 22h0m6-3h0m2-3h0m3 8h0m3-5h0m19-3h0m33 1h0"/>
<path stroke="#efece4" d="M484 1481h0m13 0h0m1-2h0m12-2h0m3 4h0m24 2h0m11-9h0m9 5h0m9 1h0m27 14h0m-25-9h0m-4 0h0m-14 11h0m-3-10h0m-16 4h0m-5-2h0m-12 8h0m-22 2h0m-3-13h0m-3 0h0m-1 9h0m-3 13h0m24 1h0m13-3h0m4-3h0m6 1h0m1 11h0m4-2h0m12-4h0m0-5h0m1 6h0m9-4h0m11-3h0m5 2h0m5 4h0m2 0h0m4 2h0m4-4h0m49 7h0m-55 9h0m-14-4h0m-26 1h0m-3 6h0m-14-1h0m-21-5h0m0-4h0m-9 12h0m-33 11h0m36-3h0m3-4h0m24 4h0m20 7h0m1-7h0m60 6h0m4-1h0m18 18h0m-18 0h0m-7 0h0m-27-11h0m-2 10h0m-16-8h0m-11 0h0m-7-2h0m-3 7h0m-3 5h0m-14-2h0m-6 1h0m-19-7h0m-22 1h0m-2 8h0m4 5h0m10-4h0m13 2h0m9 1h0m1 0h0m18 6h0m4 4h0m2 0h0m7-13h0m1 4h0m20-2h0m31 1h0m17 12h0m-20 1h0m-19 12h0m-11-10h0m-25 8h0m-5-9h0m-4 1h0m-5 6h0m0-7h0m0 9h0m-3-4h0m-13 2h0m-19-10h0m-4 8h0m-16 0h0m13 11h0m2-3h0m4 0h0m2 4h0m5 1h0m16 7h0m2-7h0m13-1h0m41 12h0m-11 10h0m-20-7h0m-1 8h0m0-3h0m0-5h0m-13-3h0m-1 4h0m-12-2h0m-7 6h0m-4-4h0m-4-2h0m-2-4h0m-11 25h0m4-7h0m11-1h0m11 9h0m10 2h0m15-11h0m1 8h0m5 4h0m13-11h0m-13 17h0m-14 4h0m-25-8h0m38 14h0m170 19h0m-35 21h0m0 2h0m-27 7h0m-89-4h0m-208 19h0m304 1h0m14 0h0m22 6h0m14 2h0m14-3h0m-19 10h0m-444 19h0m6-2h0m16 4h0m26-7h0m1 10h0m374-2h0m-349 10h0m-41-7h0m-13 3h0m-3 9h0m-13-6h0m-2 6h0m-2-9h0m-1 10h0m-33 8h0m27 3h0m2 1h0m9-9h0m40 1h0m11 10h0m27-1h0m322-2h0m13-8h0m-14 14h0m-303 0h0m-33 3h0m-21 6h0m-21-4h0m-2 5h0m-8-4h0m-4 5h0m-7-3h0m-6-6h0m-4 8h0m-8-1h0m31 6h0m408 80h0m-8 8h0m-13-7h0m-21 7h0m-9 2h0m39 9h0m5-2h0m0 2h0m-8 9h0m-5 2h0m-39 1h0m0 2h0m7 8h0m41 113h0m-11 7h0"/>
<path stroke="#4a94cf" d="M630 1527h0m60 9h0m27 14h0m-14-4h0m-56 9h0m-15-8h0m0 8h0m35 5h0m28 4h0m26 9h0m1-13h0m11 11h0m8 0h0m14 1h0m14-9h0m-3 25h0m-5-4h0m-29-5h0m-89-4h0m-22 8h0m-49 20h0m148-10h0m34 6h0m10-1h0m6 0h0m6 14h0m-13 5h0m-10-4h0m-71 15h0m19 5h0m0-9h0m7 8h0m12-11h0m41 10h0m-4 10h0m-38 2h0m-15-8h0m-84 0h0m75 27h0m7-4h0m28-4h0m24 9h0m11 1h0m8 0h0m18-7h0m-9 11h0m-3 4h0m-26 7h0m-5-5h0m-5-7h0m-25 6h0m-5 0h0m-4 1h0m-11-3h0m0 2h0m-57-5h0m29 20h0m20-4h0m1 3h0m26 6h0m6-9h0m2 8h0m30-10h0m11 17h0m-429 11h0m398 6h0m2 0h0m-28 13h0m-336 6h0m57 78h0m23 15h0m8 12h0m32-7h0m-40 15h0"/>
<path stroke="#e4592f" d="M437 1548h0m-31 3h0m-7 13h0m17 5h0m3-7h0m13 3h0m-7 25h0m-175 97h0m31 4h0m14-4h0m1 3h0m3-4h0m0 4h0m30 13h0m-13 0h0m-20 3h0m-14-5h0m-2-4h0m-2 11h0m0-10h0m-6 10h0m-10-9h0m-6 1h0m-6 17h0m24 0h0m11-2h0m3 6h0m2 0h0m40-6h0m21 9h0m-63 15h0m-3-1h0m-5-12h0m-12 6h0m-14 12h0m12 3h0m18 7h0m2-13h0m0 1h0m9 4h0m7 1h0m2 2h0"/>
<path stroke="#b9202a" d="M419 1568h0m-162 115h0m26 10h0m22-3h0m-1 17h0m-37 9h0m31 23h0m-12-12h0"/>
<path stroke="#f4a75a" d="M496 1497h0m19 8h0m-81 24h0m10 24h0m-31 1h0m25 14h0m21-4h0m13-3h0m-23 15h0m-8 11h0m-8-8h0m-9 2h0m-4 2h0m-1 16h0m8-8h0m1 11h0m13-12h0m-16 17h0m-165 85h0m6-11h0m24 20h0m-22 0h0m-19 17h0m19-4h0m2-3h0m48 14h0m-35 1h0m-25 6h0m23 16h0m385 117h0m-19 24h0m-33 0h0m-19 10h0m4 1h0m46-6h0m15 7h0m6 3h0m-21 3h0"/>
<path stroke="#5a4848" d="M102 1752h0m2 0h0m4 2h0m28 14h0m-8-7h0m-4-1h0m-2 6h0m-2 2h0m-3-5h0m-3 5h0m-2-2h0m-3 1h0m-1 2h0m-6-10h0m-1-4h0m-1 10h0m-2 0h0m-8-3h0m35 10h0m9 1h0"/>
<path stroke="#2c6db5" d="M785 1667h0m-59 0h0m5 17h0m-300 144h0"/>
<path stroke="#f3d7a4" d="M531 1469h0m-40 12h0m4-6h0m46 3h0m6-5h0m-6 13h0m-14 5h0m-4 5h0m-12-7h0m-2 6h0m-3 1h0m-3-1h0m-5-7h0m-5 6h0m-14-6h0m17 23h0m7-7h0m6-3h0m3 0h0m8 28h0m-9-2h0m-19-11h0m-47 18h0m0 10h0m17-4h0m6 2h0m19-6h0m8-4h0m48 0h0m-22 23h0m-28 4h0m-24 0h0m-10-14h0m-17 9h0m-9 20h0m37-12h0m1 3h0m2 4h0m47-6h0m20 24h0m-65-9h0m-4 10h0m-6-2h0m-7-2h0m-14-1h0m0-3h0m-12 14h0m23 5h0m35 3h0m16-10h0m2 3h0m-15 15h0m-6-4h0m-1 8h0m-59-1h0m9 8h0m25 3h0m10 3h0m10 1h0m179 61h0m-383 75h0m-26-7h0m8 19h0m2 0h0m22 5h0m15 7h0m-29 1h0m-8-3h0m-17 19h0m16 1h0m319 54h0m86 4h0m8 16h0m-10-4h0m-2 8h0m-20 0h0m-34 3h0m-36-3h0m13 20h0m2-5h0m20-3h0m12 4h0m9-2h0m19 6h0m15-1h0m-16 4h0m0 1h0m-3 7h0m-1-10h0m0 11h0m-7-7h0m-11 0h0m-4 1h0m-8-3h0m0 9h0m-6-1h0m-6-2h0m-1 4h0m63 112h0m-7 1h0m-2 2h0m-2 5h0m0-10h0"/>
<path stroke="#c6def0" d="M597 1492h0m-19 4h0m-78 12h0m88-3h0m27 7h0m1-9h0m14 5h0m10 16h0m-22-8h0m-112 2h0m-5 23h0m28-7h0m11 4h0m5 6h0m2-6h0m10-6h0m2 7h0m3-3h0m33 7h0m4-8h0m1 3h0m5-6h0m15 11h0m17 0h0m21-7h0m103 21h0m-39-8h0m-100-2h0m-3 5h0m-2 6h0m-7 1h0m-15-10h0m-1 8h0m-34-9h0m-3-2h0m-3 11h0m-21-11h0m-2 7h0m-27 1h0m-14-5h0m-4 0h0m35 15h0m13 4h0m2-5h0m7 8h0m1-11h0m26 9h0m5 0h0m1 0h0m4 1h0m8-10h0m1 10h0m123-10h0m26 1h0m27 10h0m-14 18h0m-84-3h0m-5-9h0m-22 2h0m-36-3h0m-2 8h0m-7 5h0m-31-9h0m-1 9h0m-11-13h0m-1 10h0m-14-6h0m-6 5h0m-6-10h0m-17 8h0m-1-2h0m16 10h0m3 11h0m6-12h0m18 4h0m7 5h0m0-5h0m11 5h0m16 3h0m10-1h0m3-9h0m77 2h0m16 2h0m78 5h0m2-4h0m17 8h0m-76 11h0m-38-1h0m-5-4h0m-24-5h0m0-1h0m-9 2h0m-24 7h0m-28-1h0m-15-4h0m-13 9h0m-58 4h0m22 12h0m7-12h0m5 12h0m7-14h0m6 12h0m12-7h0m4 1h0m2 0h0m2 8h0m4-9h0m6 5h0m7-2h0m1-4h0m48 5h0m25-6h0m47-1h0m33 13h0m-48 2h0m-2 4h0m-20 5h0m-16 2h0m-7-3h0m-3 4h0m-33-5h0m-18-1h0m-22 0h0m-7 0h0m-5 1h0m-9-2h0m-3-5h0m-4 11h0m-18 0h0m-22-13h0m88 24h0m16-8h0m13-1h0m4 4h0m24 2h0m34-1h0m15 6h0m25-8h0m35 22h0m-4-10h0m-87 7h0m-2-6h0m-4 3h0m-2 10h0m-10-12h0m-2 3h0m-10 6h0m-1 0h0m-1 0h0m-1-6h0m-5 8h0m-11-8h0m-15-1h0m-1 1h0m-8 6h0m-41-1h0m-8-10h0m-2 3h0m23 12h0m40 9h0m3-2h0m26-6h0m10 13h0m21-14h0m13 6h0m9 6h0m9-12h0m3 1h0m2 5h0m14 11h0m-39 1h0m-1 11h0m-20-3h0m-255 3h0m-38 11h0m4 4h0m21-1h0m18-6h0m3 0h0m6-6h0m3-1h0m23 11h0m105-5h0m92-2h0m11 4h0m6-8h0m6 0h0m7 10h0m8-6h0m4 5h0m4 2h0m2-10h0m0 11h0m1-2h0m32-5h0m3 4h0m7 6h0m-2 2h0m-265 8h0m-41-7h0m-15 5h0m-19-1h0m0-5h0m-19 2h0m-17 10h0m-69 13h0m72-10h0m11 10h0m17-5h0m24 5h0m4-12h0m1 5h0m35 0h0m0 1h0m20 8h0m213-3h0m8 4h0m-181 1h0m-46 3h0m-28 3h0m-33-4h0m-10 4h0m-13-2h0m-125 13h0m31 0h0m140 9h0m14-2h0m1 4h0m21-13h0m46 5h0m157 15h0m-1 3h0m-236 4h0m-2 0h0m-13-12h0m-8 8h0m-3-3h0m-9-5h0m-36 8h0m-5-5h0m19 21h0m27 3h0m63-3h0m16-4h0m20 1h0m21-3h0m-12 25h0m-37-5h0m-23-1h0m-2-7h0m-6 3h0m69 13h0m-54 18h0m-10-4h0"/>
<path stroke="#8cbfe3" d="M564 1497h0m65 13h0m0-3h0m-52 14h0m25 14h0m21 0h0m21-5h0m7 6h0m19 7h0m13 0h0m13-3h0m56 16h0m-38-3h0m-3 0h0m-1 0h0m-26-1h0m-57 3h0m-20 4h0m-17 0h0m-26-9h0m-17-1h0m43 23h0m27-2h0m10-8h0m2 3h0m2-3h0m16 0h0m14 0h0m9 10h0m38 1h0m6-4h0m9 3h0m6-2h0m4-5h0m9-1h0m26-1h0m3 11h0m4 15h0m-6-12h0m-48 4h0m-4-3h0m-28 11h0m0-11h0m-5 3h0m-6-3h0m-8 8h0m-1-7h0m-5 10h0m-32-11h0m-1 7h0m-4 1h0m-9-4h0m-9 6h0m0-2h0m-6-7h0m-21 25h0m15-5h0m7-6h0m4 11h0m2-8h0m3 7h0m5-5h0m11-1h0m0-6h0m22 9h0m15-3h0m8-4h0m17-3h0m5 10h0m18-9h0m40 3h0m1 1h0m7-1h0m11 3h0m1 0h0m2 5h0m8-5h0m-20 21h0m-1-6h0m-1 3h0m-3 4h0m-8 0h0m-16-3h0m-17-8h0m-1 7h0m0-10h0m-4 12h0m-1-4h0m-23-3h0m-23 5h0m-1-3h0m-12 6h0m-1-12h0m-15 1h0m-7 5h0m-7-6h0m-1 13h0m-35-14h0m-3 11h0m-10-9h0m-2 2h0m-4 9h0m-53-7h0m33 22h0m13 0h0m2-11h0m24 4h0m42 7h0m43-4h0m4-2h0m16-6h0m6 7h0m4 5h0m4 0h0m6-10h0m6 4h0m11-5h0m2-1h0m1 11h0m4-8h0m15 10h0m6-14h0m26 12h0m7-7h0m-8 19h0m-1 0h0m0-3h0m-1 8h0m-6-14h0m-27 11h0m0 1h0m-1-10h0m-1 0h0m-20 6h0m-6 5h0m-3-7h0m-13 4h0m-14-5h0m-2-4h0m-6 2h0m-49-2h0m-8 6h0m-10-2h0m-18 8h0m-4-5h0m-4 6h0m-3-7h0m-11-3h0m-44 13h0m18 10h0m5-11h0m5 1h0m2 10h0m2-10h0m2-2h0m7 6h0m0-1h0m7 6h0m8-10h0m34-1h0m4 6h0m29-3h0m2 11h0m40-4h0m2-1h0m6-7h0m0 9h0m4-7h0m2 7h0m9-4h0m28 4h0m4-9h0m6 8h0m27 3h0m5 2h0m-25 13h0m0-10h0m-14 9h0m-5-11h0m-3 4h0m-18-5h0m-1 1h0m-7 3h0m-5 5h0m-55-5h0m0 4h0m0-1h0m-25 4h0m-1-10h0m-33 3h0m-12 5h0m-3-8h0m-24 9h0m-1 0h0m-10-5h0m-4 1h0m-1-3h0m10 23h0m17-2h0m2-7h0m6 5h0m20 1h0m1 3h0m5 0h0m14-10h0m0-1h0m15 7h0m6-5h0m23 9h0m50-11h0m15 6h0m4 7h0m2-7h0m20-6h0m12 13h0m-18 4h0m-20 2h0m-6 5h0m-89-8h0m-11 0h0m-28-1h0m-21 2h0m-179 12h0m-34 10h0m17 5h0m17-11h0m3 10h0m9-12h0m6 12h0m18-4h0m11-2h0m0-1h0m181 2h0m94-4h0m2-3h0m8 3h0m7 5h0m12-1h0m-329 11h0m-11-2h0m-7 7h0m-25 5h0m-13-2h0m-6-4h0m-15-2h0m-14 8h0m-3-4h0m20 7h0m20 0h0m1 7h0m22 2h0m10-11h0m30 11h0m7 3h0m1-9h0m18 4h0m9 5h0m12-11h0m12 11h0m28 15h0m-23-9h0m-2 3h0m-17-5h0m-14 11h0m-7-8h0m0-5h0m-1 9h0m-2-2h0m-23 6h0m-21 0h0m-33-11h0m-48 0h0m33 19h0m8 3h0m22-5h0m11 4h0m16 1h0m22-4h0m5 3h0m3-1h0m11-7h0m9 6h0m4-7h0m4 6h0m18 1h0m28 1h0m2 14h0m-41-6h0m-4 4h0m-41 6h0m-1-6h0m-7 5h0m-15-5h0m-74 8h0m60 13h0m20 1h0m14-12h0m8 9h0m38-6h0m0 7h0m13-9h0m7 1h0m3 5h0m9 4h0m-11 10h0m-3-6h0m-8 9h0m-8 5h0m-1-11h0m-24 4h0m-10 1h0m-4-5h0m-16 4h0m-14-5h0m-7 1h0m36 24h0m13-9h0m10 5h0m4-4h0m10-4h0m8 9h0m-17 13h0m-4-2h0"/>
<path stroke="#efece4" d="M485 1482h0m3-3h0m8-4h0m1 3h0m12-5h0m18 9h0m2-2h0m9 0h0m11-3h0m0-4h0m5 5h0m11 0h0m27 14h0m-1 1h0m-4-7h0m-18 0h0m-23 3h0m-4 3h0m-18 2h0m-1-9h0m-2 3h0m-24 10h0m-2-8h0m-2-2h0m-2 9h0m-7-6h0m-5 6h0m28 8h0m10 3h0m5 6h0m13-10h0m6 0h0m4 3h0m58-3h0m13 25h0m-43-5h0m-7 1h0m-15-7h0m-28 11h0m-8 0h0m-19-9h0m-1 4h0m-7 12h0m8 6h0m3-3h0m22-5h0m11 7h0m4-9h0m1 9h0m7-10h0m17 4h0m11 8h0m24-9h0m1 5h0m5-4h0m3 6h0m13-3h0m2 5h0m-8 8h0m-5-2h0m-63 7h0m-4-4h0m-1 4h0m-3 2h0m0-12h0m-40 0h0m-10 13h0m10 5h0m4-1h0m4 9h0m7-4h0m14 2h0m4 3h0m4-4h0m5 5h0m10-11h0m16-2h0m13 4h0m25-4h0m7 6h0m-46 12h0m-9-2h0m-23 1h0m-14 3h0m0-1h0m-9 6h0m-7-8h0m-5 8h0m-12-9h0m-5 0h0m0 10h0m-5-7h0m-3 0h0m0 1h0m-1-3h0m-6 9h0m0-7h0m-4-3h0m32 14h0m0 4h0m4 8h0m2 1h0m42-8h0m8 5h0m80 0h0m-88 17h0m-2-7h0m-9 5h0m-5-4h0m-11 2h0m-8-9h0m-1 5h0m-3 0h0m-2 5h0m-10-8h0m-9 9h0m-9 0h0m15 6h0m2 1h0m21 3h0m2-2h0m41 4h0m0 3h0m-12 15h0m-18-2h0m-1-3h0m-10 3h0m159 13h0m-20 13h0m-21 19h0m29-7h0m17 5h0m1 0h0m35-3h0m-46 12h0m-4 9h0m-17 13h0m1 1h0m5-6h0m20 5h0m18-4h0m-439 23h0m8 14h0m16 1h0m31-4h0m385-2h0m-383 17h0m-3-2h0m-7 6h0m-7-4h0m-12 6h0m-3-12h0m-26 9h0m-3-8h0m-79 16h0m10-1h0m2 1h0m36 2h0m32-4h0m9-2h0m2 0h0m21 12h0m2 2h0m5-3h0m1-1h0m3-8h0m7 6h0m45 9h0m-15 12h0m-24-13h0m-15 9h0m-7-2h0m0-7h0m-3-1h0m0 2h0m-6 7h0m-9 1h0m-17 0h0m25 6h0m3 3h0m299 55h0m75 10h0m1 4h0m-9 16h0m-25 0h0m-40 5h0m97 4h0m-9 13h0m-34-1h0m-2 3h0m-33-8h0m69 124h0m-1 5h0"/>
<path stroke="#4a94cf" d="M692 1540h0m43 17h0m-14-1h0m-24-4h0m-91 5h0m-16 6h0m67 8h0m63-9h0m32 18h0m-60 2h0m-8 6h0m-5-5h0m-11-8h0m-2 4h0m-15 7h0m-20 3h0m-45 3h0m35 9h0m19 0h0m140-1h0m6 11h0m-26 4h0m-14-6h0m-38 7h0m-6-2h0m-2 0h0m-104 4h0m1 8h0m29 4h0m32-9h0m28 2h0m38 9h0m6 2h0m19-1h0m18-10h0m0-1h0m22 8h0m-3 15h0m-4 2h0m-5 0h0m-60 2h0m-11-6h0m-87 11h0m82-2h0m2 2h0m13 1h0m68 1h0m-28 9h0m-19 8h0m-3-4h0m-11 1h0m-10 1h0m-10 4h0m-79 2h0m-62-4h0m211 28h0m-2 0h0m-6 0h0m-37 4h0m-3 0h0m-5-9h0m-12 11h0m-108 0h0m-189 13h0m299 4h0m14-6h0m20-3h0m1 1h0m14-5h0m-329 76h0m3 24h0m35 3h0m4 19h0"/>
<path stroke="#e4592f" d="M417 1549h0m10 23h0m2-10h0m-21 13h0m24 17h0m3 28h0m-152 58h0m1 10h0m20 3h0m18 17h0m-4-2h0m-3-4h0m-9-3h0m-4 10h0m-1-3h0m-7-4h0m-12 0h0m-4 6h0m-25-7h0m-6 5h0m5 7h0m5-2h0m3 4h0m2 8h0m8-2h0m3-9h0m12 0h0m7 10h0m7-8h0m29-4h0m4 6h0m-9 20h0m-22-6h0m-3-5h0m-4 3h0m-29 6h0m-11 1h0m-2-9h0m41 20h0m8-1h0m4 1h0m9 0h0m-19 18h0m-5 0h0"/>
<path stroke="#b9202a" d="M294 1692h0m27 11h0m-13-6h0m-12-2h0m-26 13h0m50 4h0m12 3h0"/>
<path stroke="#f4a75a" d="M488 1474h0m26 43h0m-64 10h0m-4 3h0m0 26h0m-19 2h0m-5-7h0m-10 8h0m-2-2h0m1 14h0m8 2h0m4-13h0m3 6h0m23 1h0m1 1h0m8-8h0m3 25h0m-10-10h0m-10 0h0m-4 12h0m-7-11h0m-2 7h0m-11 18h0m1-8h0m4 0h0m4 9h0m3-3h0m25 7h0m-1 15h0m-164 78h0m9 24h0m278 173h0m12-5h0m8 13h0m49-6h0m-5 10h0m-7 7h0"/>
<path stroke="#5a4848" d="M90 1754h0m3 0h0m10 0h0m35 11h0m-11 2h0m-5 0h0m-7 0h0m-3-11h0m0 9h0m-1-10h0m-2 2h0m-13 9h0m-2-3h0m-2-8h0m-1 6h0m-6 2h0m-2-5h0m25 12h0m33 4h0"/>
<path stroke="#2c6db5" d="M687 1634h0m49-1h0m10 28h0m23 16h0"/>
</g>
<g transform="translate(375.7,308.9) scale(0.415,0.41) scale(0.2)" stroke-width="13.6" stroke-linecap="round" fill="none">
<path stroke="#c6def0" d="M531 1469h0m-45 4h0m2 1h0m3 7h0m0-10h0m6 10h0m4-11h0m8 3h0m4 8h0m2-4h0m26 1h0m36 14h0m-9-7h0m-5 4h0m-7-1h0m-6 8h0m-8-4h0m-15-1h0m-13 5h0m-5-1h0m-3 1h0m-5-8h0m-3 0h0m-12-3h0m20 25h0m0-2h0m3-7h0m3 0h0m5 7h0m12-5h0m9 8h0m8-3h0m10-3h0m14 3h0m17-2h0m12 6h0m21-4h0m9 2h0m-23 6h0m-39 2h0m-43 6h0m-7 0h0m-6 3h0m-5-2h0m-9 10h0m2 4h0m1-8h0m24 4h0m20 7h0m1-7h0m2 3h0m10-6h0m5 4h0m38 2h0m2-3h0m3-3h0m4 8h0m1-4h0m8 2h0m1 1h0m1 4h0m3-4h0m22-2h0m6-1h0m19 7h0m1-10h0m4 3h0m8 7h0m9-3h0m18 4h0m10-1h0m9 1h0m32 13h0m-26 0h0m-4-9h0m-14 2h0m-2 9h0m-1-6h0m-11-7h0m-1 8h0m-51-6h0m-4 7h0m-15 0h0m-15 3h0m-11-1h0m-11-8h0m-8 10h0m-12-12h0m-2 10h0m-7-7h0m-9-1h0m0-3h0m-3-1h0m-7 8h0m0-7h0m-8 10h0m-3-2h0m-5-1h0m-10 2h0m-2 2h0m-15-3h0m-8-8h0m-2 5h0m-23 14h0m26-2h0m14 5h0m18 6h0m2 0h0m12-3h0m1-11h0m18 5h0m13 4h0m5 1h0m9 0h0m2-1h0m18-2h0m6 4h0m7-11h0m7 7h0m2-5h0m26 9h0m7 3h0m31-10h0m13 9h0m11-9h0m3-4h0m21 6h0m2 3h0m2-3h0m22-3h0m7 24h0m-1 2h0m-17-9h0m-7 2h0m-18 1h0m-41-1h0m-25 4h0m-5 2h0m-3-8h0m-19-1h0m-13 7h0m-6-3h0m-3-1h0m-5 4h0m-4 0h0m0-11h0m-41 14h0m-5-10h0m-6 0h0m-3-2h0m-3 9h0m-11 1h0m-7-3h0m-2 1h0m0-7h0m-1 5h0m-3-5h0m-10 2h0m-10 1h0m-6-3h0m-5 8h0m-12-9h0m-1-2h0m-19 12h0m-4-10h0m36 26h0m5-6h0m6-1h0m1-1h0m1 4h0m11-4h0m3-4h0m3 11h0m6-12h0m13 0h0m12 9h0m0-5h0m11 5h0m4 4h0m1-7h0m29-2h0m2-1h0m4 11h0m4-10h0m1 9h0m5-3h0m19-8h0m53 4h0m4-2h0m5-1h0m15-2h0m14 6h0m13-7h0m5 7h0m16 1h0m2 0h0m4 3h0m12-1h0m-16 16h0m-1-4h0m-3 0h0m-1 7h0m-5-1h0m-3 1h0m-32-7h0m-1-4h0m-7 8h0m-6 3h0m-37-8h0m-6-1h0m-9 8h0m-1-12h0m-1 11h0m-16-10h0m-5 5h0m-11-7h0m-3 2h0m-30 11h0m-18-9h0m0 9h0m-20 1h0m-18-9h0m-1 8h0m0-2h0m0-6h0m-5 2h0m-9-1h0m-16 4h0m-3 0h0m-4-4h0m-13 2h0m0 10h0m2 5h0m7-5h0m2-1h0m10 11h0m1-2h0m22 2h0m3-11h0m5 12h0m1 0h0m13-11h0m15 3h0m1-4h0m0 11h0m3 1h0m10-4h0m8-6h0m3 2h0m14-1h0m20 4h0m10 4h0m1-4h0m12-9h0m3 9h0m10-6h0m3-2h0m24 7h0m4-5h0m4 3h0m7-6h0m4 13h0m5 0h0m6-10h0m10-2h0m14 12h0m13 0h0m2 1h0m0-7h0m38 3h0m0 5h0m-3 10h0m-4-7h0m-2 11h0m-18-6h0m0-8h0m-43 13h0m0-5h0m-23-2h0m-9-5h0m-6 2h0m-32 10h0m-37-6h0m-1 0h0m-17 1h0m-6 0h0m-7 3h0m-2-9h0m-1-1h0m-17-1h0m-2 8h0m-5-2h0m-14 5h0m-2 2h0m0-7h0m-6-1h0m-10 4h0m-4 0h0m13 6h0m2 12h0m15 0h0m6-3h0m7-5h0m1-2h0m1-2h0m8 5h0m7 6h0m35-11h0m2 0h0m5 0h0m9 4h0m6 8h0m8-6h0m4-1h0m6-2h0m2 11h0m15-7h0m2-3h0m18 2h0m5 4h0m0 2h0m7-4h0m14-3h0m15-2h0m25 7h0m17 4h0m6 8h0m-16 6h0m-7-13h0m-4 10h0m-4 1h0m-10 2h0m-1-5h0m-11-6h0m-4-1h0m-7 12h0m-2-5h0m-11-3h0m-1-4h0m-3 7h0m0-2h0m-3 3h0m0 1h0m-36-9h0m-30 10h0m-17-6h0m-15-1h0m-16-3h0m-1 2h0m0 6h0m-21-9h0m-2 10h0m-5 2h0m-15-9h0m9 15h0m24-1h0m4 2h0m23 7h0m7 0h0m12-10h0m0-1h0m13 9h0m2-2h0m6-5h0m7 8h0m14-8h0m2-2h0m4 2h0m1 4h0m1 4h0m10-3h0m4 1h0m8-6h0m6-1h0m1 1h0m1 4h0m14 3h0m1-5h0m12 0h0m2 8h0m4 1h0m22-13h0m12 9h0m8 12h0m-51-5h0m-36 13h0m-2-9h0m-11-2h0m-1 11h0m-5-13h0m-4 6h0m-2 0h0m-9 4h0m-11-7h0m-20-3h0m-26 0h0m0 6h0m-198 7h0m-4 0h0m-25-1h0m-24 6h0m10 2h0m5 4h0m1-3h0m16 7h0m9 0h0m15-2h0m2-5h0m3-6h0m2 10h0m1-3h0m3-7h0m2 9h0m1-10h0m26 7h0m0-1h0m22 7h0m163-6h0m19 5h0m2-4h0m6-5h0m5-3h0m5 5h0m4-5h0m6 4h0m0 4h0m4 1h0m6 3h0m9-11h0m3 3h0m18 6h0m12-9h0m2 7h0m20-3h0m-35 11h0m0 3h0m-13 1h0m-5 0h0m-22-2h0m-207-3h0m-3 9h0m-3 1h0m-38-1h0m-8-5h0m-6-3h0m-3 0h0m-1 7h0m-5 1h0m-14-7h0m-19 2h0m-258 23h0m235-10h0m4 1h0m17 6h0m1 2h0m31-11h0m8 12h0m4-12h0m18 11h0m8-6h0m10 0h0m0 1h0m20 8h0m11 0h0m7-4h0m3 4h0m1-3h0m4 1h0m2 0h0m182 0h0m22-9h0m-11 12h0m-5 0h0m-11 1h0m-176 11h0m-5-4h0m-6-3h0m-11-2h0m-5 5h0m-9 6h0m-7-8h0m0-5h0m-1 9h0m-8-6h0m-11 3h0m-14 2h0m-19-6h0m-10 4h0m-20-2h0m-11 20h0m7 0h0m7 3h0m26-4h0m19 4h0m4 1h0m1-2h0m22-4h0m1-2h0m5 8h0m5-13h0m13-1h0m4 6h0m3-1h0m1 2h0m20 1h0m13 0h0m12 4h0m140-7h0m9-4h0m-10 23h0m-4-9h0m-140 3h0m-5 4h0m-10 7h0m-2-14h0m-2 2h0m-18-1h0m-34 8h0m-19 2h0m-10 3h0m-1 0h0m-6-13h0m-1 7h0m-16-7h0m-7 5h0m-32-6h0m-5 4h0m46 24h0m3-2h0m39 2h0m21-3h0m16-4h0m4-3h0m16 4h0m7 0h0m9 4h0m5-7h0m-12 15h0m-14 6h0m-9 4h0m-1-11h0m-5 9h0m-8-3h0m-1-8h0m-9 10h0m-2 3h0m-11-6h0m-1 2h0m-4 3h0m-2-10h0m-1 1h0m-4 4h0m-6-1h0m-14-5h0m38 17h0m18 0h0m1 6h0m9-10h0m24 2h0m-61 14h0"/>
<path stroke="#f3d7a4" d="M450 1527h0m9 18h0m-13 11h0m-1-6h0m-1 3h0m-22-2h0m-5-2h0m-7 8h0m-11 7h0m37-4h0m13 7h0m10-3h0m20 23h0m-46-8h0m-3-3h0m-22-1h0m14 18h0m10 1h0m-5 19h0m8 7h0m26 4h0m-204 59h0m24 8h0m3-3h0m45 15h0m-13 0h0m-1-1h0m-14 4h0m-7-4h0m-4-1h0m-12 7h0m-10-7h0m-6-2h0m-6 1h0m-3 1h0m-3 16h0m2-4h0m5-2h0m13 10h0m4-4h0m11-5h0m3 9h0m4 1h0m6 1h0m22-11h0m31 12h0m-28 12h0m-5-11h0m-20 0h0m-15 1h0m-15 6h0m-14 3h0m-5 2h0m-156 17h0m154-5h0m6-3h0m1-2h0m12 3h0m10 5h0m8 2h0m2-12h0m0-1h0m7 5h0m9 1h0m19 15h0m-25 5h0m-1-3h0m-5 0h0m-1-1h0m-9-8h0m-3 14h0m0-5h0m-3-7h0m-10 10h0m-15 0h0m-1-1h0m-131-3h0m-3 5h0m-3-13h0m-17 8h0m151 10h0m1-1h0m13 4h0m17-3h0m2 9h0m5-1h0m6-9h0m2 0h0m5 6h0m6 4h0m27-1h0m-27 5h0m-9 8h0m-7 0h0m-6-1h0m-8-3h0m-2 5h0m-8 0h0m-12-3h0m-17 2h0m27 12h0m1-5h0m9 0h0m378 72h0m6-6h0m11-3h0m1 1h0m7 15h0m-1 0h0m-8 8h0m-13-7h0m-10 3h0m-2 2h0m-25 3h0m-7-2h0m-32 5h0m1 4h0m17 2h0m3 6h0m7-11h0m3 3h0m12 4h0m9-2h0m18-4h0m11 0h0m2-3h0m2 10h0m-8 9h0m-7-3h0m-11 2h0m-6 1h0m-2 3h0m-13-2h0m0 2h0m-2 4h0m-6-2h0m-7 2h0m-6-10h0m61 127h0m-1-2h0m5 10h0"/>
<path stroke="#8cbfe3" d="M628 1527h0m-5 8h0m13 8h0m17-8h0m38 2h0m5 3h0m8 2h0m7 11h0m-76-1h0m-2 4h0m-1-9h0m-5 8h0m-94 4h0m-26 5h0m13-1h0m1 1h0m27-1h0m64 7h0m49-4h0m9 6h0m51 1h0m2-1h0m32 0h0m0-12h0m10 11h0m6 3h0m-15 11h0m-4-5h0m-1 9h0m-30-8h0m0-1h0m-32-2h0m-5 3h0m-15-2h0m-7-2h0m-4 6h0m-27 6h0m-27-13h0m-61 5h0m-6-1h0m8 10h0m76 11h0m7 0h0m38-4h0m8-3h0m43-3h0m17 5h0m20 3h0m20-2h0m-10 21h0m-2-3h0m-6-5h0m-10-1h0m-11 7h0m-23-3h0m-2 2h0m0-1h0m-10 5h0m-34-4h0m-44 4h0m-19-12h0m-19 9h0m-12-7h0m-56-2h0m-27 0h0m38 23h0m6-4h0m15 7h0m15-11h0m1 2h0m17 4h0m6-2h0m10 0h0m39-3h0m30 9h0m6-1h0m14-9h0m15 2h0m1-2h0m30 10h0m29-1h0m29-6h0m-8 19h0m-71-9h0m-26 6h0m-5-4h0m-66 11h0m-48-5h0m-36 9h0m24 9h0m17-5h0m10-6h0m5 9h0m7-5h0m9-3h0m17 3h0m35-3h0m47 1h0m2 0h0m6 9h0m75-5h0m7 1h0m-22 20h0m-6-9h0m-10 11h0m-5-14h0m0 9h0m-4-8h0m-10 3h0m-21 2h0m-52 1h0m-6-3h0m-14-1h0m-17 9h0m-1 1h0m0-7h0m-84-6h0m12 26h0m11 3h0m6-5h0m98 3h0m4-4h0m20-4h0m35 2h0m2-4h0m28 0h0m10 19h0m-37 7h0m0-3h0m-3 0h0m0-6h0m-4 2h0m-60 4h0m-304 14h0m31 3h0m39-3h0m212 3h0m74-8h0m18-4h0m4 6h0m-18 12h0m-289 4h0m-64-4h0m-11 2h0m-28 12h0m163 19h0m-34-2h0m-70 7h0m-66-8h0m196 34h0m-80-1h0m-4-4h0m-101 14h0m112 13h0m15-10h0m15 6h0m-22 8h0m-17 8h0m1 16h0m6-3h0m22-8h0m36 1h0"/>
<path stroke="#efece4" d="M484 1481h0m1 1h0m3-3h0m8-4h0m1 3h0m30 4h0m27-4h0m3 1h0m8-1h0m37 18h0m-15-10h0m-23 11h0m0-12h0m-18 4h0m-23-4h0m-27 12h0m-1-7h0m-3 8h0m-8-7h0m-5 6h0m-2-9h0m23 20h0m7-3h0m0-1h0m8 1h0m4 0h0m5-2h0m10 9h0m7-8h0m23-2h0m15 6h0m57 5h0m-54 5h0m-9 6h0m-7-8h0m0 9h0m-8-5h0m-44 3h0m-8-5h0m-10 2h0m-4-4h0m-10 4h0m-8 2h0m-2-4h0m-27 26h0m1-14h0m22 12h0m19-6h0m50 5h0m14-10h0m21 12h0m24-9h0m2 6h0m1-2h0m3-3h0m28 15h0m-3 8h0m-5-11h0m-3 5h0m-7-1h0m-2 8h0m-8-1h0m-48-1h0m-64-8h0m-4 0h0m-14 3h0m-3 7h0m-15-1h0m-17-5h0m-24 1h0m3 15h0m11 3h0m43-12h0m2 1h0m1 8h0m11-8h0m41 9h0m15-4h0m50-3h0m80 23h0m-83-9h0m-31-2h0m-39 6h0m-37-6h0m-5 3h0m-11 2h0m-3 5h0m-3-1h0m-14-4h0m-3-5h0m-24 26h0m8-11h0m7 2h0m0 2h0m9-4h0m3 2h0m10-2h0m1 9h0m19 0h0m8-8h0m2 4h0m17 8h0m269-6h0m-198 12h0m-43 6h0m-14-4h0m-27-2h0m-1-3h0m-1-1h0m-6 11h0m-26-10h0m1 15h0m16 6h0m40 6h0m33-1h0m8-1h0m115-4h0m-40 20h0m-106-4h0m-28-7h0m283 39h0m-123 4h0m-23-3h0m-88-5h0m-247 16h0m4-1h0m291 7h0m109 14h0m-381-1h0m-40 2h0m-18 7h0m68-5h0m11 6h0m101 4h0m218 0h0m-240 10h0m-310 24h0m145-7h0m4 4h0m16 1h0m15-7h0m13 0h0m3 3h0m16 12h0m-184 8h0m-14-1h0m-2 1h0m-8-3h0m-10-6h0m-4 6h0m-2 1h0m-4-11h0m-1 6h0m-1 1h0m18 8h0m26 3h0m7 1h0m25 0h0m10-1h0m2 1h0m71 0h0m249 2h0m-63 22h0m-57-9h0m-92 5h0m-9-7h0m84 23h0m47 3h0m25-2h0m63 18h0m-12-10h0m-31 29h0m194 21h0m16 7h0m-7 13h0m-70 10h0m15 5h0m61 7h0m-49-2h0m49 120h0m-12-2h0m0 14h0"/>
<path stroke="#f4a75a" d="M305 1690h0m-9 16h0m-23 6h0m59 3h0m-46 12h0m17 34h0m38 26h0m-80-1h0m3 14h0m315 60h0m2 23h0m52 32h0m-34-2h0"/>
<path stroke="#4a94cf" d="M568 1625h0"/>
<path stroke="#c6def0" d="M498 1473h0m21 11h0m10-4h0m9 0h0m11-7h0m22 11h0m22 10h0m-14 4h0m-1-2h0m-6 1h0m-25-11h0m-1 3h0m-5-3h0m-15 2h0m-3 8h0m0-2h0m-12-5h0m-4-3h0m-4 9h0m-6 3h0m-4-4h0m-4-9h0m-4 9h0m11 17h0m7-7h0m20-2h0m12 2h0m10 3h0m1-4h0m1 6h0m20-7h0m5 2h0m15 3h0m28 5h0m1-9h0m13 10h0m0-6h0m11 17h0m-10 3h0m-49-5h0m-4-1h0m-8 8h0m-16-9h0m-2-2h0m-13 7h0m-15 4h0m-3 0h0m-5 0h0m-21-2h0m2 15h0m5-1h0m30 2h0m1-2h0m4-9h0m9 12h0m14-5h0m2-4h0m34 8h0m2-4h0m2-4h0m6 6h0m15 3h0m0-1h0m7-1h0m9 2h0m1-1h0m1-13h0m6 0h0m2 5h0m12 1h0m32 0h0m0 4h0m62 16h0m-10-9h0m-20 2h0m-1 7h0m-3 1h0m-15-12h0m-6 11h0m0-4h0m-13 0h0m-1 6h0m-53-5h0m-8 4h0m-6 0h0m-9 2h0m0-10h0m-17 10h0m-30-11h0m-14 1h0m-6 3h0m-1-5h0m-3 11h0m-23 0h0m-13 5h0m4 9h0m2-8h0m23 9h0m5-5h0m2-5h0m2 11h0m1-9h0m20-2h0m1 0h0m3 2h0m7-4h0m0 8h0m6 0h0m1-4h0m8 5h0m3-10h0m7 0h0m5 14h0m2-13h0m23 5h0m2-4h0m2 3h0m18-3h0m20-2h0m5 9h0m6-8h0m21 13h0m12-7h0m3 2h0m6-7h0m5 12h0m8-9h0m5-4h0m30 2h0m8 14h0m-10 11h0m-5-4h0m-37-7h0m-7 1h0m-33 10h0m-6-10h0m-6 11h0m-4-14h0m-3 1h0m-1 13h0m0-14h0m-9 14h0m-12-14h0m-11 3h0m-1 7h0m-1-9h0m-13 6h0m-8 6h0m-6-9h0m-1 5h0m-8 1h0m0-6h0m-16 4h0m-14-3h0m-1 9h0m-1 0h0m-30-2h0m-7-12h0m-7 10h0m0 2h0m-3-4h0m-7 0h0m-6 2h0m-31-5h0m0 1h0m-6 5h0m13 5h0m11 5h0m3-1h0m6 9h0m7-1h0m1-11h0m4 9h0m12-6h0m18 1h0m8 5h0m2-7h0m8 9h0m26-1h0m13-3h0m0-7h0m13 4h0m8 8h0m1-13h0m10 0h0m11 10h0m11-1h0m42 4h0m5-8h0m3-1h0m8-5h0m43 13h0m3-8h0m7-1h0m8 4h0m3 5h0m0-6h0m11 0h0m2 3h0m-10 12h0m-13 5h0m-3-2h0m-7-2h0m-32-5h0m-3 0h0m-1 7h0m0-10h0m-4 12h0m-11-3h0m-2 0h0m-3 3h0m-1-3h0m-4-1h0m-3-3h0m-24 2h0m-21-6h0m-7 1h0m-2-1h0m-4 2h0m-32-2h0m-3 12h0m-13-5h0m-2-3h0m-7-3h0m-13 0h0m-6 11h0m-5-1h0m-10 1h0m-2-7h0m0-3h0m-1 4h0m-32-7h0m-1 5h0m-1-1h0m-1 2h0m-9-1h0m-7 4h0m-12-5h0m-3 7h0m2 11h0m2 3h0m11-3h0m0-5h0m3 12h0m8-12h0m6 4h0m15 5h0m20-11h0m6 2h0m8 6h0m4-3h0m6 1h0m0-2h0m3-2h0m15 9h0m7-3h0m2 5h0m11-7h0m72 3h0m4-2h0m8 6h0m2-3h0m2-4h0m4-5h0m10 12h0m6-1h0m12-11h0m4 11h0m4-10h0m2 12h0m3-2h0m3-8h0m15 6h0m6-10h0m3 0h0m7 3h0m0-1h0m13 9h0m3 1h0m6-10h0m1 18h0m-9 1h0m-4 6h0m-3-12h0m-17 6h0m-10 5h0m0 1h0m-1-10h0m-1 0h0m-10-2h0m-10 8h0m-9-2h0m-10 2h0m-2-8h0m-17 2h0m-21 10h0m-9-9h0m-15 7h0m-3 4h0m-19-14h0m-6 5h0m-8 7h0m0-3h0m-10 4h0m-4 0h0m-4 1h0m-34-2h0m0-3h0m-9-2h0m-3-5h0m-6 10h0m-38-12h0m33 17h0m15 3h0m1 8h0m6-12h0m1 11h0m4-10h0m2 10h0m1-12h0m24 7h0m1-6h0m12 9h0m1-1h0m11 3h0m0-6h0m33 2h0m1 3h0m33-6h0m13 0h0m2 6h0m5-2h0m6-5h0m4 0h0m38-4h0m5 2h0m4 11h0m29 0h0m2 4h0m-3 1h0m-16 11h0m-12-6h0m-5 4h0m-6-10h0m-20 3h0m0-5h0m-5 8h0m-3-4h0m-4 6h0m-1-1h0m-1 0h0m-6 1h0m-2-6h0m-37 9h0m-9-9h0m0 4h0m-5-3h0m-7-3h0m-14-1h0m-1 4h0m-1-2h0m-5 9h0m-8-12h0m-7 6h0m-11-1h0m-6-5h0m-3 12h0m-3-3h0m-22-1h0m-6-8h0m-10 5h0m7 13h0m3-1h0m2 1h0m5-1h0m33 6h0m4 1h0m2 2h0m1-4h0m21-2h0m15 9h0m21-5h0m0 2h0m13-5h0m9 6h0m9-12h0m13 7h0m6-7h0m21 4h0m0 2h0m45-6h0m-3 21h0m-7-2h0m-21-2h0m-26 7h0m-9-7h0m-23 6h0m-59 6h0m-28-2h0m-6-6h0m-3-6h0m-41 0h0m-172 9h0m-41 6h0m21 9h0m3 5h0m33-1h0m9-6h0m6 6h0m8-2h0m14-4h0m4 4h0m105-5h0m51-3h0m28 5h0m13-4h0m11 4h0m2 1h0m4-9h0m13 10h0m16 1h0m2-10h0m1 9h0m7-6h0m1-4h0m7 13h0m14 1h0m3-9h0m2-4h0m1 8h0m3 3h0m4-8h0m7 5h0m12-1h0m3-2h0m-22 9h0m-2 2h0m-4-2h0m-190 6h0m-112-3h0m-13-1h0m-26 2h0m-3 0h0m0 6h0m-3 4h0m-10 0h0m-4-5h0m-1 3h0m-4-4h0m-6 6h0m-2-5h0m-7-3h0m-14 8h0m-3-4h0m27 8h0m1 3h0m1-4h0m11 10h0m0-10h0m3-1h0m10 9h0m4-7h0m0 4h0m5-5h0m1 9h0m19-7h0m6 0h0m4-1h0m6 10h0m12 1h0m14-6h0m4-5h0m1 11h0m9 0h0m12-11h0m7 5h0m0 1h0m14-2h0m3 5h0m23-2h0m4-1h0m153 2h0m16-5h0m-14 16h0m-190-3h0m-30 8h0m-12-4h0m-7-8h0m-16 14h0m-7-7h0m-14 7h0m-29-9h0m-4-2h0m-16 5h0m-21-7h0m-23 25h0m45-4h0m23 1h0m7-3h0m11 9h0m16-4h0m5 3h0m6-4h0m11 1h0m5-1h0m17-8h0m6 6h0m25 1h0m26-3h0m142 4h0m4 12h0m-178-2h0m-6 1h0m-36 6h0m-15-1h0m-2 3h0m-2 0h0m-12 1h0m-9-5h0m-2-8h0m-7 11h0m-3-11h0m-29-1h0m-7 9h0m-3 10h0m30 1h0m15 0h0m13-1h0m9 8h0m9-6h0m5-6h0m8 9h0m21 5h0m7-3h0m2 2h0m5 1h0m16-13h0m7 1h0m-2 13h0m-14 13h0m-3-10h0m-14-1h0m-5 4h0m-5 1h0m-10 1h0m-4-5h0m0-2h0m-30 6h0m-7-4h0m-1-3h0m32 22h0m28 1h0m16-5h0m6 6h0m15-6h0m-29 19h0m-7-2h0"/>
<path stroke="#f3d7a4" d="M493 1488h0m-20 23h0m9-4h0m-43 26h0m6 1h0m16 4h0m19-8h0m-38 24h0m-5-6h0m-10 10h0m-15 1h0m-6-8h0m5 20h0m8-3h0m4-8h0m10 14h0m5-6h0m20-8h0m12 2h0m7 9h0m19-7h0m-17 13h0m-16 6h0m-12-8h0m-2 1h0m-5 7h0m-3 4h0m-4 0h0m-17-4h0m9 16h0m12-9h0m12 31h0m-170 57h0m-23 14h0m6-11h0m15 10h0m2 2h0m11-1h0m2-2h0m3 0h0m5 1h0m18 17h0m-1-5h0m-13-6h0m-2 2h0m-2 8h0m-2 2h0m-6-14h0m-7 4h0m-7 2h0m-2-4h0m-2 1h0m-6 10h0m-2 0h0m-23-2h0m2 12h0m13 5h0m5-7h0m3-5h0m15 4h0m45 0h0m2 1h0m-31 14h0m-3 9h0m-10 0h0m-3-1h0m-5-12h0m-15 8h0m-7-2h0m-156 20h0m167-1h0m12-3h0m14-4h0m1 10h0m8-5h0m1-3h0m1 17h0m-55-6h0m0 4h0m-5 7h0m-1-10h0m-133-2h0m-4 13h0m143 2h0m4-1h0m6 6h0m19 8h0m5-3h0m1-1h0m16-6h0m12 14h0m-16 0h0m-11 7h0m-7-9h0m-3-1h0m-15 6h0m-4 5h0m-7-3h0m-6-6h0m-4 8h0m28 6h0m4 3h0m299 55h0m93 19h0m-1-2h0m-3 8h0m-14 5h0m-8 0h0m-9-1h0m-16 1h0m-37-8h0m-6 3h0m13 20h0m11-5h0m7-2h0m26 4h0m6 2h0m11-5h0m1 6h0m14-5h0m1 4h0m4-6h0m1 7h0m5-6h0m-10 7h0m-4 3h0m-12-1h0m0 1h0m-4 8h0m-18-6h0m0-1h0m-4 1h0m-6-2h0m-2-1h0m0 9h0m-9-5h0m-9-6h0m27 16h0m41 108h0m0 5h0m-7-4h0"/>
<path stroke="#8cbfe3" d="M550 1513h0m26-13h0m69 29h0m-116 5h0m11 4h0m119-5h0m51 20h0m-7-5h0m-84 11h0m-14-6h0m0-3h0m-11 7h0m-30-7h0m-64 3h0m38 8h0m79 9h0m14-2h0m30-6h0m19-2h0m4 3h0m27 10h0m1-13h0m11 9h0m1-6h0m5 7h0m12 1h0m28 6h0m-37 2h0m-43 10h0m-10-6h0m-5-8h0m-8 4h0m-30 0h0m-2 5h0m-11-7h0m-28 12h0m-17-14h0m-26 1h0m-34 2h0m64 26h0m4-12h0m8 9h0m12-3h0m12 0h0m11-1h0m8-3h0m37-1h0m13-3h0m2 10h0m2-10h0m5 10h0m24-7h0m14 1h0m20 0h0m22 8h0m11 3h0m-1 6h0m-24 4h0m-54 1h0m-4 3h0m-31-4h0m-13-1h0m-16-9h0m-21 1h0m-11 7h0m-1 1h0m-9-9h0m-15 0h0m-19 27h0m31-1h0m27-1h0m61 4h0m11-6h0m9-5h0m22-1h0m61 16h0m-8 9h0m-1-3h0m-64 5h0m-2-10h0m-12 6h0m-14-5h0m-24 6h0m-33-10h0m-8 6h0m-32 1h0m-7-1h0m-11-3h0m-17 10h0m-36-8h0m32 11h0m11-2h0m22 9h0m13 5h0m20-10h0m30 1h0m54 6h0m14-8h0m1 4h0m12-3h0m16 7h0m1-11h0m18 14h0m21-11h0m2 12h0m-20 12h0m-5-9h0m-22 2h0m-79-2h0m-7 4h0m-14-2h0m-11 6h0m-13-10h0m-5 13h0m-14-4h0m-2-5h0m0-1h0m-8 7h0m-32-1h0m-9 0h0m3 16h0m10-11h0m16 7h0m20-5h0m79 5h0m16 0h0m26 6h0m46 0h0m-55 14h0m-78-11h0m-36 13h0m-24-12h0m-188 26h0m9-10h0m291 8h0m44-5h0m11 0h0m22-5h0m-378 21h0m-39 4h0m-3 17h0m66-8h0m43 4h0m61 20h0m-6-1h0m-3-12h0m-3 0h0m-66 28h0m58 4h0m-20 2h0m-42 0h0m-22 0h0m-10 7h0m-3-6h0m-53-6h0m90 19h0m63 17h0m-22 8h0m-17-1h0m-19 6h0m9 16h0"/>
<path stroke="#efece4" d="M495 1475h0m3 4h0m12-2h0m7 3h0m18-10h0m2 13h0m1-3h0m9-7h0m1 1h0m1 3h0m17 3h0m31 12h0m-5 0h0m-1 1h0m-22-7h0m-38 4h0m-7 4h0m-3-6h0m-30 9h0m-4-7h0m-3 5h0m-5-7h0m0 4h0m-4 21h0m46-9h0m1 10h0m8 0h0m5-10h0m42 4h0m6 2h0m5-5h0m15-1h0m19 6h0m8-2h0m-12 8h0m-2 13h0m-75-10h0m-27-2h0m-11 2h0m0-4h0m-8 9h0m-61 5h0m28 11h0m26-4h0m7-4h0m26 2h0m22-2h0m1-1h0m1 13h0m98-11h0m-34 25h0m-62-9h0m-3 7h0m-8-10h0m-3 0h0m-40 13h0m-7 0h0m-23-3h0m-1-3h0m-16-1h0m-27 10h0m7 4h0m3-4h0m3 3h0m18 3h0m13 1h0m11-4h0m24-1h0m25 3h0m2 3h0m8-1h0m31-8h0m26 3h0m0 8h0m10-7h0m133 6h0m9-7h0m38 14h0m-129 8h0m-44-10h0m-43-1h0m-41 4h0m-15 7h0m-13-1h0m-16-2h0m-5-3h0m-3 8h0m-1-10h0m-17 8h0m-25-3h0m-4-2h0m-6 12h0m1 6h0m8-8h0m1 11h0m48-8h0m14 8h0m2-11h0m79 21h0m-25-5h0m-33 7h0m-12-4h0m-48 5h0m-28-8h0m11 14h0m73 5h0m2-2h0m8 10h0m199-7h0m13-6h0m-211 27h0m-9-4h0m113 12h0m7 20h0m-90-8h0m-291 19h0m379-6h0m124 4h0m-76 12h0m-409 17h0m378 1h0m-233 14h0m-56 8h0m-63-9h0m-204 26h0m13 0h0m192-8h0m19 0h0m42 3h0m130 11h0m-14 5h0m-20-2h0m-185-5h0m-20 0h0m-109 7h0m-10-4h0m-1 6h0m-3-7h0m-2 6h0m-7 1h0m-3-1h0m-3 1h0m0-10h0m-8-2h0m-1 10h0m-15-2h0m-2-5h0m42 14h0m88 4h0m1 0h0m43-6h0m131 7h0m21 2h0m21-3h0m54 1h0m28 1h0m-14 12h0m-70 6h0m-17-3h0m-80 5h0m-5 1h0m-55-5h0m-2-5h0m-24 6h0m242 33h0m-6-4h0m-45 7h0m10 2h0m15 19h0m204 12h0m9 18h0m-84 7h0m-2 2h0m5 1h0m6 8h0m22-10h0m3 12h0m41-3h0m-23 16h0m-2-7h0m10 129h0"/>
<path stroke="#f4a75a" d="M419 1573h0m7 29h0m-144 100h0m8 19h0m9-7h0m-47 12h0m-12 53h0m2 1h0m2 25h0m326 77h0m4 12h0m8 6h0m59 5h0"/>
<path stroke="#4a94cf" d="M686 1649h0"/>
</g>
<g transform="translate(445.7,308.9) scale(0.415,0.41) scale(0.2)" stroke-width="13.6" stroke-linecap="round" fill="none">
<path stroke="#c6def0" d="M531 1469h0m-47 12h0m11-6h0m3 4h0m17-2h0m2 3h0m32-7h0m43 19h0m-28 5h0m0-12h0m-1 4h0m-16-3h0m-16 4h0m-5-2h0m-3 8h0m0-11h0m-2 3h0m-23 0h0m-5 6h0m-4-9h0m-5 10h0m-7-7h0m29 20h0m9-3h0m9-2h0m22 5h0m30-8h0m1 8h0m10-1h0m0-1h0m12 6h0m30-2h0m16 19h0m-29 0h0m-43-5h0m-7-8h0m0 9h0m-8-5h0m-17-1h0m-17 5h0m-7 0h0m-25-8h0m7 23h0m37-7h0m1 9h0m7 1h0m0-11h0m1 13h0m14-5h0m2-4h0m36 4h0m23 5h0m0-1h0m3-4h0m13 5h0m0-1h0m2-13h0m6 0h0m27 3h0m19 7h0m1-3h0m1 3h0m12 2h0m6 2h0m19 0h0m-8 12h0m-4-6h0m-7 3h0m-7-8h0m-19 7h0m-1 6h0m-50-2h0m-3-3h0m-3 2h0m-17 4h0m-1-1h0m-2 1h0m0-10h0m-12 0h0m-1 8h0m-21 0h0m-16-8h0m-3-4h0m-7 4h0m-11 5h0m0 4h0m-3-12h0m0 13h0m-40 0h0m-9 2h0m12 3h0m25 0h0m8 9h0m2 1h0m7-13h0m1 4h0m4 6h0m16-8h0m1 0h0m16 6h0m1-4h0m11-5h0m2 3h0m10 11h0m12-4h0m3 1h0m2-1h0m8-4h0m4-1h0m0 2h0m38-7h0m3 12h0m10-12h0m28 13h0m4-13h0m8 2h0m3 7h0m6 1h0m4 1h0m8 0h0m1-7h0m3 5h0m2-3h0m18 5h0m4-8h0m2 11h0m9 4h0m-5 11h0m-17-9h0m-7 2h0m-30-2h0m-37 8h0m-5-5h0m-7 6h0m-2-3h0m-1-7h0m-1-4h0m-1 11h0m-2-10h0m-1 13h0m-2-1h0m0-11h0m-19-2h0m-3 4h0m-4 0h0m-5 6h0m0 4h0m-4-3h0m-9-4h0m-11-6h0m-4 3h0m-8 10h0m-1-10h0m-16 4h0m-15-4h0m-6 0h0m-17 8h0m-3-7h0m-4 4h0m-1 3h0m-1-9h0m-13 7h0m0-7h0m-1 2h0m-9 6h0m-6-1h0m-7 0h0m-30 1h0m-5-9h0m-16 6h0m48 8h0m6 13h0m8-12h0m1 4h0m19 6h0m6-12h0m13 0h0m12 9h0m1 4h0m46-10h0m6 3h0m2-2h0m1 9h0m16-6h0m8-5h0m3 9h0m34-8h0m15 7h0m7 0h0m18-9h0m27-1h0m13 4h0m8 4h0m2 0h0m4 3h0m5-4h0m7 3h0m4-3h0m2 3h0m1 5h0m-11 7h0m-13 5h0m0-5h0m-3 0h0m0 3h0m-4-5h0m-2 8h0m-8-9h0m-25-1h0m-8 9h0m-5-1h0m-8 3h0m0-5h0m-3 3h0m-1-3h0m-4-1h0m-24-2h0m-16-5h0m-1 11h0m-14-10h0m-2 0h0m-13 12h0m-19-12h0m-16-2h0m-3 11h0m-12-7h0m-4 0h0m0 9h0m-18-1h0m-10 1h0m-2-7h0m-14 1h0m-8-5h0m-1 4h0m-10-6h0m-1 5h0m-1-1h0m-2 1h0m-2 5h0m-6-5h0m-20 17h0m2 3h0m6-2h0m5-6h0m3 12h0m12-3h0m2-5h0m6 0h0m2 7h0m12 0h0m3-11h0m5 12h0m2-8h0m11 6h0m0-10h0m8 6h0m0 3h0m4-6h0m4 1h0m1 7h0m1-9h0m2 0h0m4 1h0m0 7h0m12-1h0m20-5h0m26 4h0m16-10h0m3 9h0m39 4h0m2-11h0m1 12h0m1-8h0m10 2h0m3-4h0m1 9h0m0-11h0m5 1h0m5 0h0m39 7h0m9-10h0m7 3h0m13 8h0m9-1h0m1 8h0m-8 6h0m-5 3h0m-3-12h0m-12 8h0m0-8h0m-5 6h0m-10 6h0m-1-10h0m-1 0h0m-26 6h0m-3-2h0m-13 4h0m-14-5h0m-2-4h0m-1 13h0m-5-11h0m-24 0h0m-25-2h0m-21 6h0m-5 5h0m-12-4h0m-9-1h0m-4 4h0m-2-9h0m-18-2h0m-16 7h0m-13-2h0m-11 1h0m-1 7h0m-9-4h0m22 18h0m20-11h0m5 1h0m3 2h0m1-2h0m2-2h0m7 6h0m7 5h0m7-4h0m1 2h0m16-8h0m22 5h0m29-3h0m19 1h0m18 2h0m5 4h0m0 2h0m2-3h0m6-7h0m6 9h0m7-6h0m2 2h0m12-3h0m16 7h0m1-11h0m18 14h0m26-7h0m-12 15h0m-10 5h0m-3 2h0m-3-11h0m-9 5h0m-5 4h0m-1-1h0m-4-10h0m-3 4h0m-15-3h0m-16 7h0m-7 1h0m-2-6h0m-3 4h0m-39-7h0m-4 3h0m0 3h0m-5-2h0m-19 6h0m-14-10h0m-5 13h0m-16-9h0m0-1h0m-12 5h0m-32 3h0m-6-7h0m4 21h0m8-8h0m10 6h0m6-5h0m30 7h0m20-6h0m20 5h0m14-8h0m2-2h0m0 9h0m0 2h0m5-5h0m10 1h0m5 1h0m15-6h0m1 4h0m8 1h0m19-3h0m2 8h0m0-6h0m2-4h0m2 11h0m2-7h0m32 7h0m13-13h0m-3 21h0m-45 7h0m-3-9h0m-15-2h0m-23 6h0m-17 6h0m-5-13h0m-4 9h0m-2-3h0m-9 4h0m-11-7h0m-11 10h0m-9-13h0m-25 13h0m-228-1h0m-27 8h0m13 0h0m5 4h0m34-7h0m12 4h0m0-6h0m2 10h0m1-3h0m3 5h0m22-6h0m109-1h0m79 2h0m20 4h0m3 0h0m7-12h0m1 3h0m12 7h0m2-10h0m6 4h0m0 4h0m10 4h0m0-11h0m2 10h0m6-7h0m1-4h0m3 4h0m4 9h0m26-12h0m9-1h0m13 5h0m-21 10h0m-261 0h0m-47 3h0m-2 1h0m-9-3h0m-3 0h0m-20 6h0m0-5h0m-8 2h0m0 6h0m-9-7h0m-4 11h0m-3-2h0m-2 0h0m-4-4h0m-8 1h0m-7-3h0m-17 4h0m6 7h0m14 11h0m8-7h0m13 3h0m2-8h0m10 9h0m9-8h0m1 9h0m29-8h0m19 2h0m10 1h0m3 2h0m17 6h0m28-2h0m2-5h0m180 5h0m3-1h0m2 11h0m-172 6h0m-3-12h0m-3 0h0m-9 5h0m-2-1h0m-2 3h0m-17-5h0m-97 2h0m-4-2h0m-46 2h0m-2-2h0m-12 23h0m46-1h0m7 0h0m15-2h0m18 1h0m17 0h0m6 5h0m15-8h0m8 2h0m1-2h0m13-5h0m6 6h0m12 0h0m14 0h0m6 1h0m13 0h0m6-3h0m6 7h0m-1 10h0m-4-4h0m-12 2h0m-7-3h0m-14 2h0m-38 5h0m-4 2h0m0 2h0m-7-2h0m-1-6h0m-7 6h0m-16 3h0m-1-13h0m-10 0h0m-7 11h0m-3-11h0m-36-1h0m0 9h0m-16 4h0m13 6h0m76 2h0m9-2h0m22 6h0m5-6h0m5 7h0m2 2h0m4-7h0m1 8h0m3-11h0m16 4h0m4-5h0m12 9h0m-7 8h0m-9 9h0m-15-10h0m-13 6h0m-1-8h0m-5 5h0m-4 5h0m-1-4h0m-10 1h0m-2 0h0m-5 5h0m-2-10h0m-1 1h0m-4 4h0m-6-1h0m-14 0h0m24 15h0m5 5h0m3-11h0m24 3h0m18 5h0m16-7h0m3 0h0m-33 20h0m-21-2h0"/>
<path stroke="#f3d7a4" d="M446 1530h0m94 22h0m-94 0h0m-1-2h0m-3 4h0m-20-3h0m-5-2h0m-4 5h0m-1 5h0m-2-2h0m-4-6h0m-7 13h0m17 5h0m3-7h0m0 11h0m8-1h0m5-7h0m6 3h0m20-8h0m5 9h0m-2 16h0m-3-1h0m-5 2h0m-29-5h0m-5 18h0m3-6h0m22-1h0m10-2h0m-27 23h0m-2-6h0m28 14h0m-172 70h0m2 2h0m1-5h0m12 2h0m3 0h0m22 13h0m-3 3h0m-2-3h0m-10-4h0m-2 8h0m-14-6h0m-1-2h0m-11 9h0m-10-7h0m-6-2h0m-9 2h0m-3 16h0m2-4h0m10 10h0m6-9h0m2 7h0m4-4h0m25-3h0m29-4h0m-10 15h0m-20 0h0m-10 14h0m-3-1h0m-27-6h0m-150 22h0m145-8h0m13 1h0m10 5h0m10-10h0m0-1h0m2 4h0m5 1h0m8-1h0m3 4h0m10-3h0m-8 17h0m-11 1h0m-6-1h0m-15-6h0m-23 0h0m-3 9h0m-3-8h0m-133-2h0m-3 11h0m-8-12h0m-1 10h0m78 9h0m62 5h0m6-7h0m9-2h0m4 6h0m19 6h0m2 2h0m6-4h0m10-2h0m18 10h0m-28 6h0m-6-1h0m0-7h0m-18 9h0m-12-3h0m-5 3h0m-4 0h0m-8-1h0m27 12h0m4-6h0m9 4h0m392 60h0m9 18h0m-10 6h0m-34 0h0m-23-1h0m-17 2h0m-19-5h0m3 10h0m14-3h0m5 7h0m3 6h0m5 0h0m2-11h0m15 7h0m6 2h0m3-4h0m7 5h0m11-9h0m0 4h0m11-4h0m2-3h0m3 12h0m4-4h0m-8 9h0m-5 2h0m-7-3h0m0 1h0m-3 7h0m-1-10h0m0 11h0m-1-8h0m-6 1h0m-1 6h0m-7-2h0m-3-3h0m-10 1h0m-2 6h0m-6-2h0m57 114h0m-1 5h0m-8 0h0m-3-7h0m0 14h0"/>
<path stroke="#8cbfe3" d="M540 1538h0m118-2h0m1-3h0m11 10h0m5-7h0m8 7h0m7-7h0m6 4h0m56 16h0m-49-10h0m-6 10h0m0-4h0m-46-4h0m-19-1h0m0 8h0m-10 2h0m-3 2h0m-13-2h0m-16 2h0m-79 9h0m116-6h0m68 2h0m27-4h0m3 14h0m13-13h0m38 26h0m-15-3h0m-37-7h0m-7 1h0m-28 11h0m-23-10h0m-2-4h0m-9 14h0m-125-6h0m-38 12h0m56 6h0m24 2h0m30-9h0m16 6h0m10 1h0m63-11h0m2 14h0m35-7h0m26 2h0m20-2h0m12 14h0m-75 5h0m-6 3h0m-3-5h0m-106 4h0m-10 0h0m-38 15h0m15-11h0m1 12h0m23-6h0m2 5h0m8-7h0m22 3h0m17-6h0m22-2h0m8 11h0m6-3h0m0 2h0m14-8h0m44 11h0m6-1h0m15 1h0m39 6h0m-8-2h0m-2 11h0m-33-3h0m-12-11h0m-10 8h0m-10-4h0m-101 1h0m-22 8h0m-4 1h0m-22-6h0m-9 6h0m-3-2h0m0-6h0m-32 3h0m31 8h0m1 9h0m6 1h0m1-12h0m10 5h0m28 4h0m14-9h0m7 0h0m23 8h0m4-3h0m43 0h0m13-1h0m4 0h0m47 9h0m2-3h0m27 3h0m-40 4h0m-5 11h0m-1-5h0m-3-4h0m-11 1h0m-8-1h0m-2 2h0m-11-1h0m-73 6h0m0-10h0m-67 7h0m-3-8h0m-2 10h0m-1-10h0m-9 10h0m16 7h0m40 5h0m13-6h0m0-1h0m75 7h0m72 2h0m-18 8h0m-17 8h0m-8-9h0m-1 8h0m-126-2h0m-215 2h0m-21 15h0m1-2h0m233-4h0m139 6h0m12-1h0m-33 11h0m0-3h0m-253 9h0m-61-1h0m-53 2h0m4 7h0m13 9h0m58 1h0m12 1h0m47-5h0m6 2h0m3 8h0m-30 8h0m-1-8h0m-2 4h0m-6-2h0m-15 23h0m13 0h0m25-9h0m2 15h0m-69 3h0m-7 1h0m-34 16h0m69 3h0m3-2h0m42 17h0m-26-10h0m-17 8h0m-35-8h0"/>
<path stroke="#efece4" d="M488 1479h0m9 2h0m1-8h0m21 11h0m19-4h0m16-2h0m39 16h0m-2-1h0m-4-7h0m-8 12h0m-2-6h0m-31-3h0m-19 2h0m-3 3h0m-10 2h0m-7-10h0m-11 11h0m-1-7h0m-4 7h0m-12-5h0m-4 21h0m7-6h0m27-6h0m26 3h0m11-1h0m1 6h0m25-5h0m11 6h0m33-7h0m20 10h0m-18 3h0m-12 0h0m-68 9h0m-32-7h0m-3-3h0m-7 5h0m-14 0h0m-8 2h0m-24 5h0m-16 2h0m11 15h0m16-6h0m7 4h0m12-12h0m8 6h0m36-1h0m7 8h0m14 1h0m57-9h0m3-3h0m13 6h0m5-3h0m7 15h0m-14 7h0m-50-7h0m-12 7h0m-7-11h0m-3 10h0m-25 1h0m-6 1h0m-9-4h0m-18 5h0m-14-7h0m-10 1h0m-13 14h0m1 1h0m20-6h0m2-1h0m2 4h0m23-2h0m3 0h0m4 9h0m2-8h0m1 0h0m18 6h0m9-2h0m30-7h0m21 9h0m4 0h0m13-9h0m49 25h0m-49-2h0m-38-4h0m-10-3h0m-47 4h0m-11 5h0m-16-11h0m-1 2h0m0 6h0m0 4h0m-8 1h0m-1-10h0m-7 5h0m-12-8h0m-7 5h0m-7 7h0m-8 12h0m45 0h0m2-5h0m6-3h0m2 4h0m6 7h0m6 1h0m5 0h0m19-8h0m25-5h0m39 12h0m-13 10h0m-33-4h0m-9 10h0m0-3h0m-37-4h0m-56 10h0m25 3h0m10 3h0m40-3h0m50-2h0m-23 26h0m-40-13h0m33 17h0m50-2h0m201 18h0m-478 23h0m292-3h0m92-6h0m3-2h0m-7 29h0m-355-6h0m-7 5h0m-28-6h0m-38-2h0m29 12h0m5 9h0m354-3h0m11-8h0m34 1h0m-421 21h0m-3 2h0m-172 20h0m10 0h0m144-5h0m48-3h0m7 1h0m3-1h0m152 8h0m-180 10h0m-155 3h0m-2 1h0m-3-5h0m-2 4h0m-1 1h0m-2-2h0m0-1h0m-3-8h0m-7 2h0m-6 7h0m80 7h0m38 3h0m43-6h0m109 13h0m47 0h0m238-4h0m13-8h0m-175 17h0m-220 1h0m-8-3h0m210 24h0m13-9h0m24 3h0m-74 30h0m36-4h0m177 39h0m25 11h0m-16 9h0m-17-3h0m-33 10h0m40 8h0m25-6h0m-10 7h0m0 129h0"/>
<path stroke="#f4a75a" d="M301 1706h0m-44 5h0m26 15h0m-29 18h0m35 28h0m-28 29h0m393 66h0m19 13h0m-12 4h0m-14 5h0m-24 20h0"/>
<path stroke="#4a94cf" d="M746 1597h0"/>
<path stroke="#c6def0" d="M485 1482h0m1-9h0m5 8h0m0-10h0m5 4h0m5-5h0m12 11h0m14 1h0m2-2h0m6-10h0m2 13h0m1-3h0m3-2h0m6-5h0m1 1h0m9 5h0m45 17h0m-33-10h0m-13 2h0m-10 1h0m-5-3h0m-18 8h0m-12-5h0m-8 6h0m-6 3h0m-11-13h0m-1 9h0m18 10h0m3 6h0m6-9h0m5 7h0m2-3h0m2-1h0m1 10h0m1-12h0m7 12h0m4-2h0m1-8h0m10 3h0m11-2h0m8-3h0m3 0h0m36 2h0m12 8h0m7-2h0m18 14h0m-10 3h0m-2 0h0m-46-9h0m-1 4h0m-14-4h0m-14 2h0m-30 9h0m-3 0h0m-5 0h0m-1-6h0m0-6h0m-3 10h0m-17 0h0m-55 6h0m57 9h0m1-7h0m3-4h0m1 10h0m20-7h0m8 0h0m3 7h0m11-9h0m2 3h0m2 3h0m10-6h0m38 11h0m1-9h0m3 1h0m1 3h0m5 3h0m4-1h0m10-1h0m8 3h0m16-9h0m2 4h0m1-2h0m5 1h0m2-1h0m67 8h0m41 14h0m-19-10h0m-11 1h0m-17 5h0m-3 0h0m-8-5h0m-1 6h0m-55 1h0m-12-3h0m-13-5h0m-10 4h0m-7 2h0m0-3h0m-3 8h0m-15 1h0m-23-9h0m-7-4h0m-18 1h0m-8 6h0m-35-7h0m-2 5h0m-23 14h0m49-2h0m3 4h0m10 2h0m3-6h0m2 11h0m10-11h0m14 2h0m1 0h0m7-4h0m5 8h0m5 1h0m15-10h0m5 5h0m22-5h0m9 8h0m0-6h0m26 9h0m4-9h0m17-1h0m36 8h0m9 3h0m1-9h0m31 9h0m0-12h0m14 17h0m-3 11h0m-10-3h0m-24-6h0m-11 2h0m-29 1h0m-8-1h0m-6-3h0m-4-3h0m-15 5h0m-1 3h0m-26-5h0m-9-1h0m-2 6h0m-8 3h0m-4 2h0m0-2h0m-5-10h0m-10 9h0m-7-8h0m-9-2h0m-10 14h0m-5 0h0m-1 0h0m-10-13h0m-1 10h0m-8-5h0m-12 4h0m-4-7h0m-2-3h0m-2 4h0m-5 8h0m-3-4h0m-7 0h0m-24-6h0m-13 3h0m0 1h0m-7 6h0m14 4h0m11 5h0m12 1h0m4 6h0m3-8h0m1 4h0m1 2h0m12-6h0m1-4h0m27 3h0m7 0h0m16 2h0m9 8h0m12-3h0m3-2h0m9-1h0m2 6h0m10 0h0m3-3h0m8-10h0m8 3h0m14 6h0m15-3h0m21-7h0m3 6h0m4-2h0m5-1h0m2 2h0m8-5h0m8 1h0m3 2h0m14 1h0m18 9h0m3-8h0m7-1h0m8 3h0m6 5h0m-17 17h0m-8 0h0m-16-3h0m-16-4h0m-2 3h0m-5-2h0m-2 1h0m-6 5h0m-15-9h0m-24 2h0m-5 2h0m-16-9h0m-9 1h0m-4 2h0m-1 4h0m-11-7h0m-3 2h0m-4 6h0m-1 1h0m-9-9h0m-3 1h0m-16 7h0m-2-3h0m-7-3h0m-19 11h0m-7 1h0m-2-12h0m-9 5h0m-8-2h0m-16 4h0m-11-3h0m-6 4h0m-9-9h0m-13 3h0m-3 7h0m8 7h0m7-1h0m2 1h0m9-1h0m3 11h0m18-2h0m1 3h0m8-4h0m5 4h0m6-14h0m7 3h0m17 3h0m3-4h0m9 8h0m8-6h0m5 2h0m12-1h0m31 4h0m37-2h0m23-1h0m2-5h0m5-1h0m4 13h0m5 0h0m12-6h0m6 5h0m5-10h0m2-1h0m1 11h0m4-8h0m13 9h0m2-6h0m6-7h0m4 11h0m6-9h0m22 0h0m1 3h0m-4 20h0m-5-1h0m-62 4h0m-8-13h0m-5 8h0m-10-2h0m-30 6h0m-1-1h0m-16 2h0m-7-3h0m-3 4h0m-12-2h0m-21-3h0m-10 4h0m-4-5h0m-14-7h0m-4 3h0m-15 4h0m-5 1h0m-12-7h0m-2 9h0m-2-5h0m-2 6h0m-15-4h0m9 9h0m1-2h0m15 5h0m8 7h0m32-11h0m0 8h0m12 1h0m1 4h0m11-2h0m9-8h0m24 2h0m1 5h0m5-6h0m5-4h0m16 6h0m7-2h0m15 6h0m10-3h0m29-5h0m19-1h0m23 12h0m11-8h0m2-3h0m5 4h0m-3 8h0m-3 2h0m-9 8h0m-13 3h0m0-10h0m-10 11h0m-1-4h0m-30-9h0m-4 7h0m-3 5h0m-2-5h0m-2 2h0m-10-9h0m-6 8h0m0 1h0m-33-7h0m-1 4h0m-6-3h0m0 4h0m-2 6h0m-10-12h0m-2 3h0m-11 6h0m-2-6h0m-1-2h0m-4 3h0m-1 6h0m-8-12h0m-2 5h0m-5 1h0m-9 4h0m-1-6h0m-7-4h0m-2 11h0m-1 1h0m-7-9h0m0 6h0m-24 1h0m-15-7h0m-2-3h0m-2 3h0m14 23h0m9-11h0m2 14h0m8-12h0m6 5h0m14 6h0m7-2h0m3-2h0m29-8h0m0 8h0m8-7h0m2 12h0m27-2h0m0-2h0m4-2h0m3-2h0m9 6h0m8-8h0m4-3h0m17 3h0m20 0h0m20-4h0m4 2h0m16 19h0m-6 0h0m-40 4h0m-4-4h0m-13 6h0m-26-7h0m-21 2h0m-61 5h0m-6-6h0m-1-5h0m-23 1h0m-20-2h0m-159 14h0m-54 1h0m24 14h0m13 0h0m9 0h0m5-2h0m6 1h0m6-6h0m9-6h0m2 9h0m1-10h0m5 11h0m10-2h0m8 2h0m3-4h0m0-1h0m2 4h0m20 3h0m163-6h0m9-3h0m11 4h0m2 1h0m13 1h0m2-5h0m18 6h0m3-1h0m29 0h0m0 4h0m3-9h0m0-1h0m2-3h0m1 8h0m3 3h0m4-8h0m3 2h0m9 0h0m2 0h0m8 0h0m14-5h0m-42 17h0m-26 2h0m-22-2h0m-142 3h0m-68 3h0m-31-2h0m-10-2h0m0 4h0m-8-5h0m-8-2h0m-2 6h0m-24-4h0m-6 10h0m-8-10h0m-6 5h0m-3-4h0m-8 9h0m-23 0h0m17 3h0m4 1h0m5-1h0m8 7h0m5 2h0m15-8h0m0 4h0m16-7h0m8 12h0m1-8h0m3-4h0m3 4h0m40-1h0m1 11h0m0-5h0m21-6h0m7 5h0m2 2h0m3 4h0m12-2h0m27-3h0m172-6h0m-11 12h0m-16 1h0m-187 4h0m-6 5h0m-10-2h0m-9 6h0m-7-13h0m-3 7h0m-7-8h0m-16 14h0m-7-7h0m-1 2h0m-19-6h0m-9 8h0m-1-4h0m-17-4h0m-3 2h0m-13 3h0m-21-7h0m22 21h0m30-2h0m7 2h0m4 7h0m16-4h0m3 3h0m5-1h0m3-3h0m11 1h0m19-9h0m34 7h0m15-2h0m157 15h0m-1 3h0m-4-9h0m-145 7h0m-12-7h0m-24 5h0m-35 1h0m-4-4h0m-10 8h0m-4 3h0m-6 1h0m-5-9h0m-13 1h0m-6-5h0m-8 3h0m-24-4h0m-12 4h0m-3-4h0m35 20h0m14 8h0m1-8h0m2 6h0m11-7h0m6 9h0m3-1h0m14-12h0m8 9h0m8 5h0m13 0h0m40-7h0m2 22h0m-4-8h0m-3-6h0m-5 4h0m-2 6h0m-9 4h0m-3 0h0m-17-1h0m-6 1h0m-12-4h0m-1-7h0m-30-1h0m-8-2h0m43 24h0m3-5h0m4-1h0m10 5h0m5-7h0m0 9h0m11-7h0m-11 19h0m-28-6h0"/>
<path stroke="#f3d7a4" d="M487 1490h0m-15 28h0m-27 16h0m14 11h0m-5 13h0m-10-5h0m-7 0h0m-26 18h0m8-3h0m4-8h0m6 2h0m7-2h0m23 4h0m18 7h0m-44 8h0m-16 22h0m9 1h0m1-11h0m1 11h0m4-8h0m9-4h0m14 9h0m-1 7h0m39 30h0m-210 42h0m-33 9h0m7-4h0m3 9h0m34 0h0m1-5h0m10 3h0m10 12h0m-7-5h0m-6 12h0m-6-3h0m0-11h0m-14 6h0m0 1h0m-4 6h0m0-10h0m-8 10h0m-8-9h0m-15 7h0m20 10h0m3-5h0m3 1h0m12 3h0m7 7h0m6 1h0m32-8h0m2 0h0m19 9h0m-50 6h0m-3 9h0m-4-11h0m-8-1h0m-32 8h0m-2-9h0m1 21h0m4 4h0m12 0h0m4 1h0m8-4h0m40 14h0m-18-1h0m-7 6h0m-6-3h0m-10-9h0m-13 3h0m-3 9h0m-13-6h0m-2 6h0m-2-9h0m-1 10h0m-148-3h0m-4-2h0m-2-8h0m-2 7h0m-5 1h0m-2-5h0m83 16h0m76 6h0m3-7h0m4 1h0m2-3h0m10 5h0m15-3h0m7 8h0m2 0h0m6-9h0m11 10h0m0-8h0m27 7h0m12 6h0m-15 12h0m-24-13h0m-4 2h0m-5 6h0m-21-4h0m-1 4h0m-1 1h0m-8-4h0m-4 5h0m-7-3h0m-6-6h0m-12 7h0m11 11h0m25-4h0m1 0h0m302 58h0m76 14h0m18-8h0m-1 13h0m-1-2h0m-1 0h0m-12 5h0m-12 8h0m-25 0h0m-33-6h0m-4-2h0m-2 11h0m1 4h0m6 4h0m2 4h0m2-5h0m7-7h0m9 5h0m26 4h0m32-2h0m5-2h0m-20 10h0m-17 3h0m-5-1h0m-4 1h0m-6-1h0m0 4h0m0-5h0m-2-1h0m0 9h0m-9-5h0m-3 2h0m-1 4h0m-5-12h0m-1 2h0m28 14h0m34 109h0m-2 2h0m-2 5h0"/>
<path stroke="#8cbfe3" d="M529 1503h0m21 10h0m87 30h0m98 14h0m-13-8h0m-7 10h0m-98-1h0m-81-12h0m-11 24h0m122-8h0m17 12h0m8-5h0m12-6h0m15 11h0m12-1h0m8-9h0m2 9h0m12-8h0m10 1h0m25-3h0m8 14h0m-25 12h0m-18-6h0m-44-5h0m-55 6h0m-4-8h0m-13 6h0m-8-7h0m-23 17h0m11 0h0m21 6h0m1-7h0m55 3h0m24 2h0m36 0h0m36 2h0m3 5h0m-9 13h0m0 2h0m-2-3h0m-9-2h0m-35-5h0m-1-3h0m-7 10h0m-37 0h0m-7 0h0m-4-5h0m-9 8h0m-9-12h0m-21 0h0m-62 1h0m-46 4h0m-26-4h0m-3 20h0m95 1h0m4-2h0m14 5h0m27-1h0m3 3h0m26-10h0m21 4h0m6 1h0m4 2h0m22 2h0m12-11h0m2 0h0m6 1h0m5 10h0m50 0h0m6 3h0m-7 12h0m-1-6h0m-64 8h0m-13-14h0m-17 2h0m-2 4h0m-5-4h0m-56 5h0m-4-7h0m-6 13h0m-26-5h0m-41 20h0m1-1h0m15-12h0m30 4h0m17 2h0m5-6h0m4 4h0m10 0h0m6 8h0m20 2h0m46-12h0m2 9h0m14-8h0m28-3h0m23 27h0m-12-12h0m-8 0h0m-25 0h0m-14 9h0m-11-3h0m-34 7h0m-9-9h0m-14-1h0m-11 8h0m-6 1h0m-1 1h0m-27-8h0m-15-4h0m-35 17h0m7 0h0m3-1h0m40 0h0m6 9h0m29-4h0m33-5h0m12 5h0m34 2h0m0-9h0m7 13h0m36-8h0m13 14h0m-67 8h0m-28-9h0m-41-2h0m-39-1h0m-249 19h0m56 8h0m276-3h0m50-1h0m-3 9h0m-4-2h0m-358 17h0m46 3h0m17 6h0m18-6h0m46 7h0m30-2h0m-7 19h0m-20-2h0m-52-8h0m-11 3h0m-27 7h0m36 10h0m27-9h0m4 6h0m46 2h0m-17 21h0m-22-13h0m-55 12h0m-7-5h0m-2 6h0m-30-8h0m-50 10h0m129 16h0m-24-1h0m59 17h0"/>
<path stroke="#efece4" d="M488 1474h0m9 4h0m12-5h0m1 4h0m39 0h0m16 1h0m1 2h0m5 4h0m26 8h0m-19 4h0m-6 1h0m-4-12h0m-18 11h0m-8-4h0m-33 3h0m-3 1h0m-5-8h0m-8 0h0m-1 10h0m-8-7h0m-5-3h0m0 9h0m-6 14h0m23 0h0m4-3h0m7-3h0m0-1h0m31 7h0m3-7h0m29 4h0m9 0h0m9-3h0m32 3h0m9-1h0m0 6h0m1-5h0m-53 13h0m-8 8h0m-18-11h0m-45 7h0m-3-6h0m-8 5h0m-33 16h0m25-4h0m8-4h0m56-1h0m11 5h0m10 7h0m26-3h0m1-2h0m6 3h0m5-5h0m10 7h0m98 14h0m-91 1h0m-8-6h0m-44-5h0m-15 1h0m-13 5h0m-1-4h0m-7 7h0m-18-1h0m-21-2h0m-10-4h0m-4 0h0m-17 10h0m-6-3h0m-17 0h0m-9-8h0m-10 10h0m-1 8h0m7 8h0m37-14h0m3 9h0m25-5h0m31 10h0m11-8h0m4-6h0m26 9h0m20-5h0m0 8h0m1-3h0m18-2h0m52-1h0m50 1h0m41 13h0m-188-5h0m-8 0h0m-39 6h0m-16-3h0m-18-3h0m-8 3h0m-1 2h0m-10 0h0m-15-4h0m-8 11h0m0-12h0m-11 1h0m-2 7h0m-8 0h0m-2 10h0m7-3h0m7 2h0m0 2h0m9-4h0m99 6h0m28 3h0m-38 11h0m-1 6h0m-41-7h0m-2-4h0m0 9h0m-6 2h0m-1-3h0m-26 2h0m-18 5h0m20 1h0m35 1h0m122 20h0m-94 2h0m36 15h0m194 15h0m-206-3h0m-276 10h0m15 10h0m396 6h0m-282 12h0m-123-1h0m-12 7h0m28 6h0m32-9h0m12 4h0m26 3h0m24 4h0m264-8h0m50 15h0m-416-4h0m-31 11h0m-159 17h0m12-2h0m2 0h0m180 2h0m12 0h0m8-6h0m167 6h0m218-8h0m-13 9h0m-231 10h0m-307 0h0m-2 3h0m-8-7h0m-1 6h0m-3-7h0m-2 6h0m-11-11h0m-3 14h0m-17-8h0m17 9h0m17 2h0m9 1h0m7 1h0m72 2h0m442-1h0m-260 22h0m-108-2h0m-10-8h0m204 37h0m-14 3h0m-10 23h0m-4-2h0m126 12h0m35 29h0m-44-7h0m25 17h0m26-9h0m39 11h0m6 3h0m-4 7h0m-1 118h0m-4 13h0"/>
<path stroke="#f4a75a" d="M408 1575h0m-109 111h0m-19 11h0m-31 21h0m74 18h0m-28 8h0m-18 25h0m0 16h0m364 99h0m-42 16h0"/>
</g>
<g transform="translate(322.6,390.2) scale(0.415,0.46) scale(0.2)" stroke-width="13.6" stroke-linecap="round" fill="none">
<path stroke="#c6def0" d="M486 1473h0m9 2h0m3 4h0m11-6h0m18 9h0m8-12h0m2 13h0m1-3h0m3-2h0m7-4h0m1 3h0m0-4h0m22 11h0m20 9h0m-13 3h0m-14-11h0m-17 1h0m-1 3h0m-4 3h0m-16-4h0m-3 8h0m0-11h0m-9 11h0m-13-8h0m-5 9h0m-3-3h0m-1 4h0m-1-1h0m-12-5h0m27 16h0m1-3h0m14-1h0m13 8h0m1-8h0m6 0h0m5-1h0m1 6h0m9-4h0m8-3h0m6 6h0m2-4h0m4-4h0m7 10h0m4-3h0m16-3h0m12 8h0m5-4h0m9 5h0m1-5h0m-14 21h0m-35-7h0m-4-1h0m-8 8h0m-2-11h0m-1 7h0m-13-5h0m-36 4h0m-14-5h0m-8 5h0m-21-2h0m-2-4h0m-22 9h0m-5 17h0m1-14h0m16 10h0m18-10h0m20 1h0m24 4h0m5-1h0m7-2h0m9 3h0m6-4h0m8 8h0m13 4h0m23 0h0m2-4h0m3-1h0m5-6h0m13 6h0m1 1h0m24-6h0m1-3h0m31 6h0m28 12h0m-73 2h0m-18 1h0m-10 7h0m-12 1h0m-33-10h0m-3-4h0m-7 8h0m-11 1h0m-36-1h0m-6-2h0m-1 8h0m-24 0h0m-25-6h0m-2 1h0m-15 4h0m-17-1h0m-4-6h0m5 20h0m8-3h0m0-6h0m13 3h0m1 9h0m26-10h0m11-4h0m7 11h0m23-8h0m40 3h0m24-5h0m13 4h0m3 5h0m128 3h0m47-13h0m-3 20h0m-88 9h0m-2-12h0m-55-1h0m-44 13h0m-9-12h0m-3 9h0m-8-5h0m-12 4h0m-1-2h0m-7-4h0m-27 7h0m-17-3h0m-5-3h0m-3 8h0m-7-1h0m0-7h0m-3 5h0m-3-1h0m-17-9h0m-8 4h0m-5 4h0m-4-2h0m-7 20h0m1-8h0m1 6h0m8-8h0m2 8h0m3-5h0m44 0h0m16-3h0m15 5h0m19 6h0m14-6h0m5-6h0m12 9h0m29-7h0m174 20h0m-199-5h0m-6 11h0m-5-1h0m-21-1h0m-14-5h0m-11-1h0m-1-1h0m-11 2h0m-6 3h0m-59-1h0m8 7h0m36 7h0m15-5h0m14 11h0m44-11h0m1 1h0m17 3h0m20-2h0m5 2h0m85 5h0m26-3h0m84 19h0m-25-6h0m-72 0h0m-43 4h0m-50-2h0m-14-7h0m-56 8h0m-1-1h0m-10 1h0m47 8h0m13 4h0m7 5h0m76-10h0m49 1h0m-5 19h0m-114 3h0m-28 1h0m-275 16h0m2 2h0m16-3h0m264-8h0m95 0h0m52 7h0m18 19h0m-57-10h0m-6-2h0m-15 10h0m-255 3h0m-4 0h0m-70-6h0m-3 3h0m-3-4h0m-11 5h0m-2 2h0m-1-3h0m-5 0h0m0-11h0m-2 7h0m-14-5h0m-2 11h0m-28 9h0m23-5h0m12 3h0m54 1h0m13 0h0m5 4h0m0-1h0m1-2h0m3 7h0m13 0h0m24-2h0m19-1h0m21-5h0m232 2h0m56-2h0m-17 13h0m-247-4h0m-44 9h0m-16-7h0m-7 7h0m-14-7h0m-11 12h0m-6-11h0m-2 1h0m-2 10h0m-3-2h0m-1-3h0m-5-1h0m-6 6h0m-9-8h0m-42-3h0m62 21h0m5 2h0m1-10h0m14 2h0m0 4h0m16-7h0m8 12h0m4-12h0m1 5h0m24 9h0m11-9h0m8 9h0m12 0h0m9-11h0m7 5h0m0 1h0m5 5h0m5-2h0m4-5h0m3 5h0m10 16h0m-3-12h0m-3 0h0m-12 3h0m-31 0h0m-1 10h0m-54 0h0m-16-7h0m-54-6h0m-227 3h0m-2 6h0m76 8h0m175 4h0m1 3h0m7 0h0m15-2h0m14-1h0m4 7h0m16-4h0m3 3h0m8-4h0m11-3h0m1 8h0m13 0h0m5-13h0m3 0h0m51 7h0m6-3h0m3 3h0m143 13h0m-150 1h0m-10 7h0m-56-5h0m-5-3h0m-4-4h0m-20 12h0m-7-13h0m-64-1h0m91 28h0m3-2h0m21 3h0m13-8h0m1 8h0m3-4h0m20-8h0m-9 23h0m-1-1h0m-23-7h0m-9 9h0m0-8h0m-11 5h0m-4-5h0m-5 0h0m-5 5h0m-20-6h0m35 22h0m7-6h0m14 1h0m1 6h0m3 12h0m-11-4h0"/>
<path stroke="#8cbfe3" d="M497 1481h0m100 11h0m-5 0h0m-5-6h0m-8 12h0m-7-1h0m-8 0h0m-61-2h0m-19-4h0m45 12h0m87 0h0m13 7h0m16 19h0m-17-2h0m-90-2h0m-23 4h0m-4-2h0m-15-7h0m-2 7h0m-33 11h0m35 4h0m106-7h0m3 6h0m31 2h0m1 0h0m9-8h0m12 1h0m1-3h0m32 4h0m1 3h0m4 0h0m14 4h0m10-1h0m41 14h0m-30-9h0m-10 8h0m-4-6h0m-3 3h0m-17-1h0m-62 0h0m-2 4h0m-3-3h0m-8 4h0m-12 2h0m-3 0h0m-1-2h0m-1-4h0m-11 4h0m-7 2h0m-47-7h0m-4 6h0m-17-1h0m-6 1h0m-17-12h0m-34 7h0m-16 3h0m-29-7h0m2 24h0m4-13h0m3 6h0m44-4h0m2-1h0m24 3h0m2 0h0m9 0h0m16 3h0m2 3h0m4 4h0m5-6h0m25-5h0m26 7h0m15 4h0m12-4h0m10-10h0m3 6h0m2-4h0m2 5h0m32-5h0m0 4h0m17-5h0m33 6h0m8-3h0m3-4h0m1 12h0m0-3h0m1-6h0m9 8h0m5-10h0m4 3h0m13 8h0m10-1h0m4-8h0m2 11h0m5 13h0m-25-5h0m-18 1h0m-16-5h0m-25 4h0m-23-3h0m-7 9h0m-11-2h0m-15-7h0m-4-1h0m-1 7h0m-4 1h0m-6-3h0m-8 3h0m-4-11h0m-5 1h0m-1 3h0m-25 4h0m-14-8h0m-8 0h0m-4 1h0m-19 8h0m-15 3h0m-1-6h0m0-1h0m-2 3h0m-7 0h0m0 3h0m-6-1h0m-19-10h0m-4 12h0m-19-10h0m-7 9h0m-2-11h0m-7 8h0m-24 0h0m2 10h0m6 9h0m4-10h0m22-2h0m20 9h0m8-8h0m14 12h0m9 0h0m4-4h0m14-8h0m22-1h0m5 4h0m18 5h0m5-3h0m11 6h0m13-10h0m13 4h0m3 7h0m5-5h0m0 2h0m11-9h0m8 1h0m14 8h0m23-6h0m13-4h0m7 4h0m2 6h0m2-4h0m11-6h0m5 1h0m27-1h0m5 7h0m6 6h0m2-4h0m1-4h0m7 3h0m6 3h0m2-3h0m0-1h0m16 3h0m1 5h0m-11 7h0m-12 6h0m-2-3h0m-3 4h0m-3-9h0m-10-1h0m-11 7h0m-16-4h0m-6 5h0m-5-1h0m-4 3h0m-2-5h0m-10-1h0m-19 2h0m-11-5h0m-2 4h0m-29-6h0m-28-1h0m-1-2h0m-3 1h0m-15 10h0m-1-3h0m-2-3h0m-9-1h0m-34 2h0m0-3h0m-22-1h0m-30-2h0m-6 11h0m-1 7h0m2 5h0m5-1h0m0-5h0m40 0h0m18 10h0m4 1h0m14-9h0m19 4h0m8 5h0m37-3h0m16-10h0m3 9h0m37-1h0m2 5h0m2-10h0m15 10h0m21-12h0m2 11h0m4-10h0m3-1h0m5 3h0m15 6h0m0 4h0m9-14h0m1 11h0m29-6h0m0 15h0m-1-5h0m-7 3h0m-20 5h0m-43 0h0m-3-2h0m-5-6h0m-15 6h0m-9-5h0m-1 13h0m-20-2h0m-1-1h0m-16 2h0m-10 1h0m-25-9h0m-2 2h0m-6 5h0m-10 1h0m-8-5h0m-31 6h0m-3-5h0m-9-2h0m-7-1h0m-6-1h0m-11 1h0m-3 3h0m13 6h0m15 5h0m2 7h0m5-11h0m1 8h0m7-5h0m2-4h0m8 5h0m10-5h0m18 14h0m20-10h0m24 2h0m0 2h0m6-3h0m4-2h0m2 11h0m22-9h0m13 1h0m5 6h0m2-3h0m19-4h0m2 2h0m13-4h0m14-3h0m5 2h0m4 11h0m32-10h0m5 4h0m-22 20h0m-3 2h0m-3-11h0m-7-3h0m-3 14h0m-1-4h0m-4 1h0m-10 2h0m-1-5h0m-3-4h0m-11 1h0m-10 3h0m-2 2h0m-10-6h0m-6 5h0m0 1h0m-33-7h0m-1 4h0m-6-3h0m0 3h0m-12-5h0m-2 1h0m-10 8h0m-1 0h0m-2-6h0m-5 1h0m-6-5h0m-5 13h0m-16-9h0m-8 6h0m-1 1h0m-7-3h0m-28 3h0m-5-2h0m-1-5h0m-4 1h0m-3-6h0m23 29h0m6-5h0m28-1h0m6 3h0m1-4h0m13-7h0m15 7h0m8 7h0m5-4h0m26-2h0m3-2h0m2 1h0m7 5h0m13-10h0m15-2h0m13 4h0m2 2h0m2-4h0m4 4h0m24-4h0m18 19h0m-8 0h0m-106 1h0m-31 7h0m-35-13h0m-23 1h0m-241 6h0m-13 0h0m12 7h0m2 5h0m2 1h0m95 3h0m4-2h0m4 4h0m5-1h0m20 3h0m131-10h0m41 1h0m12 4h0m14 2h0m4 0h0m2-10h0m6 4h0m4 5h0m4 2h0m3-1h0m7-6h0m1-3h0m3 3h0m4 9h0m20-4h0m6-8h0m15 5h0m22-5h0m-38 16h0m-4-2h0m-26 5h0m-232 4h0m-44-6h0m-15 5h0m-27-4h0m-30 14h0m68 0h0m29 3h0m31 8h0m7-4h0m195 1h0m16-5h0m-14 16h0m-10-6h0m-210 11h0m-9-6h0m-20 1h0m-13 0h0m-47-4h0m-16 5h0m-44 18h0m103-2h0m74-1h0m168 1h0m13-8h0m-171 14h0m-24 5h0m-34 8h0m-27 15h0m17-13h0m26 10h0m5-6h0m7 9h0m8-10h0m32 8h0m-11 10h0m-3-6h0m-5 4h0m-11 10h0m-1-11h0m-2 11h0m-17-1h0m-25 9h0m6-3h0m2-3h0m42 8h0m15-6h0m4-1h0m157 35h0m7 17h0m-22 2h0m-25 3h0m-43-5h0m11 16h0m2 4h0m12 0h0m5 0h0m5-8h0m59 1h0m-3 14h0m-1-6h0m-27 4h0m-8 4h0m-27 0h0m-6-8h0m60 129h0"/>
<path stroke="#efece4" d="M491 1471h0m38 9h0m39 5h0m-12 3h0m-29 3h0m-4 3h0m-26 4h0m-2-8h0m11 20h0m71-2h0m52-1h0m7 6h0m-91 31h0m53-4h0m29 18h0m-67 5h0m-42 15h0m-77 12h0m-191 97h0m34 1h0m11-1h0m9 4h0m2 8h0m-16 2h0m-8 0h0m0 1h0m-4 6h0m-6 0h0m-10-9h0m-9 2h0m15 13h0m2 7h0m0-10h0m4 6h0m11-5h0m7 10h0m6 1h0m106 3h0m-86-1h0m-17 5h0m-33 2h0m-164 20h0m197-7h0m1 2h0m3-1h0m177 5h0m-164 7h0m-182 10h0m-8-7h0m-6 5h0m-21-11h0m-11 7h0m-7-4h0m51 15h0m7 1h0m37 0h0m188 9h0m124-5h0m-62 18h0m-23-6h0m-1 9h0m-2-6h0m-9-7h0m-7 11h0m-7-6h0m-1-2h0m42 17h0m13 3h0m26 15h0m-24 1h0m-3 1h0m24 12h0"/>
<path stroke="#4a94cf" d="M651 1536h0m101 20h0m-50-2h0m-19 4h0m-51-3h0m-121 13h0m146 3h0m38-7h0m16 9h0m3-4h0m7 4h0m4 1h0m20-5h0m11 16h0m-32-8h0m-3 4h0m-43-3h0m-4-3h0m-4 11h0m-3 0h0m-2-10h0m-1-1h0m-5 5h0m-25 4h0m-40 1h0m-16-10h0m-41 5h0m-66 1h0m19 21h0m67-8h0m49 4h0m2 6h0m32-3h0m50-5h0m1-6h0m29 3h0m53 4h0m7 3h0m-17 12h0m-9 6h0m-1-5h0m-2 6h0m-51-5h0m-181 20h0m61-3h0m17-5h0m29 4h0m40 2h0m24-6h0m18 6h0m10-5h0m11-5h0m3 10h0m35-10h0m14 22h0m-34 2h0m0 1h0m-120 0h0m-7-12h0m-41 2h0m-18-2h0m-31 17h0m31-2h0m25 9h0m29-9h0m5 0h0m9 4h0m73 4h0m1-4h0m4 0h0m2 7h0m21-7h0m49 18h0m-31-7h0m-7 5h0m-18-5h0m-5 8h0m-8 1h0m-7 1h0m-44-9h0m-4 3h0m-32 9h0m-86-10h0m39 19h0m53-6h0m0 8h0m8-7h0m29 8h0m0 2h0m45-8h0m14 8h0m38-3h0m13-9h0m-51 25h0m-15-8h0m-11 10h0m-15 2h0m-7-12h0m-38 2h0m-9-3h0m-11 0h0m-19 11h0m-6-6h0m-3-6h0m-41 0h0m89 27h0m50-12h0m21 10h0m0 4h0m3-9h0m17 4h0m14-4h0m1 1h0m-69 39h0m-21 20h0m-188 52h0m105 32h0m101 21h0m-22 1h0m-10 3h0m-34 3h0m-14 5h0m0 6h0m2 1h0m4 1h0m4-7h0m15 7h0m6 2h0m3-4h0m1 3h0m17-3h0m26 0h0m-19 12h0m-10 5h0m-2-7h0m-7 7h0m-5-5h0m-5-1h0m-12-2h0m0 9h0m-13 1h0m-6-10h0m69 122h0m0 5h0m-7-4h0m-4 11h0"/>
<path stroke="#f3d7a4" d="M247 1706h0m18 28h0m-13-8h0m-162 28h0m12-2h0m6 2h0m173-6h0m12-2h0m21 0h0m7 16h0m-18-1h0m-7 6h0m-7-4h0m-9-8h0m-3 14h0m-3-12h0m-147 10h0m-5 0h0m-2 1h0m-11-11h0m16 15h0m88 4h0m1 0h0m82 2h0m6-4h0m107 25h0m-78-1h0m-5 1h0m-28-11h0m-5 6h0"/>
<path stroke="#f4a75a" d="M266 1747h0m7 5h0m3 0h0m12-7h0m7 19h0m-38 6h0m23 14h0m6-4h0m3-8h0m2 0h0m-4 23h0m-7-2h0m-3-8h0m-7 10h0m-8-4h0m-18 14h0m17-4h0m9 0h0m134 21h0m-8-7h0"/>
<path stroke="#e4592f" d="M247 1749h0m6-3h0m0 1h0m4 4h0m-6 10h0m-5 7h0m-6 11h0m2 1h0m19-4h0m11 14h0m-3-1h0m-8-3h0m-3 10h0m-7-3h0m-18 1h0m40 10h0"/>
<path stroke="#2c6db5" d="M776 1577h0m-144 59h0m21 43h0m-6 210h0m-6 27h0m-28-8h0"/>
<path stroke="#b9202a" d="M248 1766h0m1 8h0m-16 20h0"/>
<path stroke="#c6def0" d="M531 1469h0m-43 10h0m0-5h0m3 7h0m7-8h0m3-3h0m14 7h0m2 3h0m2 4h0m28-11h0m7 5h0m3 1h0m8-1h0m1 2h0m36 16h0m-9-2h0m-16-2h0m-8-6h0m-19 10h0m-4-7h0m-5-3h0m-10 4h0m-7 4h0m-3-6h0m-12 7h0m-2-9h0m-1 10h0m-8-8h0m-5 0h0m-9 7h0m-5-7h0m-2 0h0m-4 23h0m9-4h0m14 4h0m7-7h0m4 0h0m2-3h0m8 7h0m5 6h0m8 0h0m8-3h0m7-4h0m22-5h0m12 6h0m9-3h0m11 7h0m41 12h0m-34-8h0m-24 2h0m-9 6h0m-7-8h0m-15 2h0m-27 6h0m-1 5h0m-3 0h0m-6-6h0m0-6h0m-11-2h0m-11 1h0m-10 4h0m-48 9h0m5 4h0m6 1h0m23 8h0m19-6h0m8-4h0m2 3h0m24-1h0m16 7h0m3-3h0m4-7h0m1 13h0m12-12h0m4 3h0m1 1h0m37 2h0m0-3h0m3 0h0m3 6h0m5-5h0m10 7h0m3-4h0m87 14h0m-94 4h0m-9-8h0m-32-2h0m-2 10h0m-7-7h0m-2 0h0m-4-2h0m-3-2h0m-3 11h0m-7-11h0m0 3h0m-1 0h0m-7-2h0m-18 8h0m-31-6h0m-4 10h0m0-10h0m-14 3h0m-18 6h0m-9-8h0m-8-2h0m-15 3h0m-9 3h0m-1 5h0m-13 5h0m17 5h0m11 3h0m2-10h0m7-2h0m13 7h0m22-2h0m3 0h0m10-4h0m13 2h0m9 1h0m19 6h0m4 3h0m4-4h0m5-8h0m32 8h0m5 0h0m1 0h0m12-9h0m1 10h0m1-7h0m0 9h0m1-3h0m9-4h0m2-4h0m68 11h0m63-7h0m-78 24h0m-25-13h0m-12 6h0m-9 6h0m-7-4h0m-15-7h0m-25 12h0m-5-10h0m-26-1h0m-4 0h0m-2-3h0m-18 6h0m-12 4h0m-20-7h0m-4 2h0m-6 6h0m-2-3h0m-14-7h0m-19 0h0m-5 14h0m7 4h0m9-4h0m48 6h0m12 7h0m5-11h0m16 3h0m50 8h0m10 1h0m15-5h0m7-6h0m85 7h0m21 15h0m-14-1h0m-44-8h0m-81 6h0m-3-3h0m0 9h0m-20 1h0m-2-12h0m-6 11h0m-3-6h0m-8 6h0m-16-4h0m-14 1h0m-3 0h0m-3-5h0m-6-4h0m-8 7h0m-5-4h0m-20-3h0m-1 9h0m2 6h0m20 9h0m14 4h0m8-12h0m4 9h0m2-5h0m8-2h0m0 9h0m50-11h0m0 11h0m115-6h0m59 8h0m-20 4h0m-149 4h0m-12-2h0m-34 7h0m-22-13h0m49 28h0m51-3h0m148 1h0m-48 12h0m-118-5h0m-297 10h0m13 12h0m3-4h0m6 4h0m285 3h0m70-4h0m31-2h0m72 6h0m-18 4h0m-423 11h0m-14-11h0m-19 2h0m-1 22h0m2 0h0m9-7h0m33 1h0m5-5h0m5 4h0m16 5h0m30 3h0m3-9h0m3 10h0m6-6h0m3 0h0m0-6h0m6 0h0m0 12h0m2-3h0m1-10h0m26 7h0m208-2h0m67-1h0m4 14h0m-8-2h0m-291 4h0m-8-1h0m-29 3h0m-5-3h0m-21 8h0m-2-7h0m-10 4h0m-1 2h0m-20 3h0m3 3h0m21 1h0m1 3h0m1-4h0m11 10h0m0-10h0m1 7h0m12 1h0m10 1h0m19-7h0m6 0h0m10 9h0m5-2h0m21-3h0m4-5h0m10 11h0m52 15h0m-21-8h0m-2-1h0m-2 3h0m-6-3h0m-6 5h0m-5-7h0m-15 5h0m-59-5h0m-9 8h0m-14-6h0m-7 0h0m-225 5h0m-26 1h0m0-1h0m-3 2h0m-18-6h0m290 14h0m11 4h0m21 4h0m17-3h0m5-1h0m3-1h0m20-1h0m4-7h0m7 5h0m15 2h0m14-1h0m16 16h0m-4-4h0m-12 2h0m-7-3h0m-18-1h0m-2 4h0m-51 5h0m-2 3h0m-7-5h0m-28-7h0m28 26h0m18-8h0m55-3h0m3 6h0m7 0h0m2 22h0m0-10h0m-21 9h0m-3-10h0m-14-2h0m-5 5h0m-5 1h0m-12 1h0m-2-7h0m-16 6h0m15 20h0m9-8h0m19-3h0m9-1h0m24 2h0m-33 20h0m-4-2h0m-14 0h0m131 44h0"/>
<path stroke="#8cbfe3" d="M510 1477h0m53 12h0m-74-4h0m-3 0h0m-7 12h0m-4 16h0m25-5h0m12-7h0m7 4h0m68 1h0m35 4h0m8 17h0m-12-11h0m-77 3h0m-35-1h0m-7 21h0m2 2h0m30 2h0m1-2h0m12 1h0m3-4h0m49-4h0m13 6h0m18 2h0m11-12h0m7 7h0m8-2h0m17 8h0m1-10h0m12 10h0m7-7h0m0 4h0m14 2h0m25 2h0m13 3h0m-7 10h0m-13-8h0m-7 10h0m-4-6h0m-8-7h0m-6 10h0m-13-4h0m-33-4h0m-4 7h0m-15-8h0m-5 8h0m-8 4h0m-10-1h0m-4-8h0m-10-1h0m-56 7h0m-6-10h0m0 13h0m-2-6h0m-68 3h0m-4-11h0m-13 7h0m-9 1h0m13 15h0m8-8h0m5 9h0m10 0h0m31 3h0m17-8h0m15-1h0m2 11h0m1-9h0m4 6h0m5-8h0m14 2h0m1 0h0m7-4h0m20 3h0m19 3h0m20-2h0m2 3h0m0-6h0m16 0h0m17 12h0m3-14h0m5 9h0m8-9h0m19 14h0m21-12h0m9 8h0m12 1h0m2-5h0m4 0h0m21-3h0m12 15h0m-5 11h0m-24 0h0m-19-10h0m-11 1h0m-32 9h0m0-11h0m-5 10h0m-5-5h0m-7 6h0m-14-6h0m-15-8h0m-3 4h0m-9 10h0m-8-12h0m-6 5h0m-8 4h0m-14 3h0m-27 0h0m-4-9h0m-1-1h0m-23 8h0m-8 0h0m-14-2h0m-17-7h0m-17-1h0m-4-2h0m-1 2h0m-9 1h0m-26 2h0m-3 7h0m-4 0h0m-29-12h0m18 27h0m29-3h0m23-8h0m6 4h0m8 0h0m6 9h0m3-7h0m7-2h0m2 6h0m10-6h0m12-5h0m26 13h0m44-9h0m16 10h0m10-3h0m1-4h0m8-3h0m29 3h0m8-4h0m19 11h0m8-9h0m16-4h0m11 6h0m6-3h0m39 9h0m3-1h0m8-5h0m2 14h0m-22 5h0m-1 1h0m-1-2h0m-2 0h0m-39-7h0m-3 0h0m-1-3h0m-5 8h0m-1 3h0m-6 3h0m-5 0h0m-3-2h0m-29-6h0m-3 1h0m-12 6h0m-2-1h0m-7-11h0m0-1h0m-7 2h0m-2 0h0m-5 5h0m-7-6h0m-7 1h0m-4 6h0m-16 5h0m-9-13h0m-1 13h0m-14-9h0m-42 1h0m-1 0h0m-5 2h0m-9-1h0m-10-6h0m-3 6h0m-13-4h0m-1 2h0m-52 12h0m17 0h0m8 3h0m12 3h0m15-4h0m2-1h0m19 4h0m9 5h0m5 2h0m3-11h0m1 8h0m4 4h0m1 0h0m6-14h0m14 8h0m0 3h0m4-6h0m4 1h0m4-2h0m0 10h0m1-12h0m3 3h0m0 7h0m6-2h0m11-4h0m2 2h0m13-2h0m36-3h0m22-2h0m9 6h0m5 2h0m14-7h0m6-1h0m5-1h0m4 4h0m5 9h0m1-10h0m5 0h0m8-2h0m13 11h0m3 1h0m13 0h0m8-13h0m10 3h0m13 8h0m3 1h0m6-2h0m0-8h0m1 16h0m-4 7h0m-4-1h0m-2 5h0m-3-2h0m-3-12h0m-12 0h0m-17 2h0m-20 6h0m-6 5h0m-2 1h0m-11-6h0m-2-8h0m-15 5h0m-2-3h0m-6 1h0m-24 0h0m-33 4h0m-10 6h0m-3-6h0m-5 2h0m-12-1h0m-13 3h0m-7-7h0m-15 4h0m-17-6h0m-2 9h0m-2 2h0m-2-1h0m-43-11h0m38 16h0m22 0h0m1 9h0m0 1h0m6 0h0m2-10h0m24-1h0m7 3h0m9-3h0m8 11h0m0-6h0m3-6h0m11 6h0m11 6h0m9-1h0m3-6h0m25-1h0m18 1h0m2 6h0m3-1h0m8 1h0m43 0h0m1-11h0m9 10h0m9 4h0m19-8h0m7 1h0m-3 8h0m-3 2h0m-9 8h0m-8 2h0m-5 1h0m-9-5h0m-5 4h0m-5-11h0m-1 1h0m-17 0h0m-4-1h0m-7 3h0m-2 2h0m-4 3h0m-7-4h0m-38 8h0m-9-9h0m-26-3h0m-2 2h0m-3 9h0m-10-12h0m-2 5h0m-5 1h0m-9 4h0m-2-5h0m-15-4h0m-19 7h0m-3-8h0m-2 10h0m-16-7h0m5 15h0m4 8h0m1 0h0m2-8h0m3-1h0m2 1h0m2-3h0m10 2h0m4 2h0m23 7h0m27-6h0m40-3h0m1 4h0m11 1h0m4 1h0m8-6h0m2 2h0m4-3h0m2 5h0m8 1h0m25 6h0m22-13h0m20 21h0m-50 0h0m-39-1h0m-21 5h0m-67 4h0m-216-5h0m-12 4h0m-46 4h0m31 12h0m31-1h0m1 1h0m22-3h0m1-3h0m213 0h0m4-1h0m19 5h0m1-4h0m2 1h0m4-9h0m6 0h0m25 12h0m0-11h0m2 10h0m37 1h0m4-8h0m1 4h0m7-8h0m4 6h0m7 2h0m-19 7h0m-27 5h0m-27-2h0m-142 3h0m-71 4h0m-28-3h0m-15-3h0m-12-3h0m-28 9h0m-54 0h0m20 18h0m0-11h0m42 0h0m49 3h0m18 4h0m222 3h0m22-9h0m-11 12h0m-192 12h0m-27-4h0m-16-7h0m-1 9h0m-2-2h0m-6-4h0m-1-4h0m-16 14h0m-8-5h0m-92-4h0m119 16h0m27 0h0m4 1h0m45 5h0m139 12h0m-4-9h0m-161 3h0m-12 1h0m-16 22h0m47-7h0m-12 15h0m-9 9h0m-40 1h0m-16-1h0m-3-9h0m44 14h0m-39 13h0m214 23h0m1 4h0m17-9h0m1 1h0m-27 24h0m-58-6h0m-11-1h0m5 10h0m27 5h0m32 6h0m12 1h0m10-10h0m4 7h0m0-2h0m1 4h0m5 1h0m-21 4h0m0-1h0m-4-2h0m-18 5h0m-10-1h0m-8 6h0m56 119h0m-11-7h0"/>
<path stroke="#efece4" d="M484 1481h0m1 1h0m11-7h0m1 3h0m16 3h0m-2 8h0m-24 1h0m-2 4h0m30 11h0m8-3h0m1 1h0m22 5h0m4 5h0m-44 12h0m-18 11h0m55-4h0m77 11h0m0 1h0m-1 8h0m-75 4h0m-40-2h0m-66 14h0m82-5h0m75-3h0m-1 19h0m-150 13h0m-19 15h0m-168 76h0m3 9h0m6-11h0m15 10h0m13 1h0m-16 6h0m-8 10h0m-2-7h0m-8 14h0m2 8h0m5-7h0m56 20h0m-25-11h0m-40 7h0m-165 22h0m395-2h0m-364 8h0m-7 3h0m-2 4h0m-1 1h0m-2-12h0m-1-1h0m-15 11h0m-2-3h0m-2-8h0m16 15h0m58 4h0m163 7h0m86 3h0m1-2h0m19 14h0m-8-6h0m-7 6h0m-4 2h0m-21-4h0m-3-3h0m-6-5h0m-32-1h0m-7 0h0m0 9h0m-5-5h0m-1-2h0m-12 14h0m45 4h0m67 9h0"/>
<path stroke="#4a94cf" d="M558 1520h0m65 15h0m13 9h0m82 13h0m-15-12h0m-81 2h0m-5 11h0m-81-12h0m-5 28h0m13-14h0m71 11h0m2-1h0m67-7h0m28-3h0m57 17h0m-3 11h0m-5-4h0m-77-3h0m-16-6h0m-2 4h0m-118 22h0m46 0h0m18-7h0m7-3h0m2 10h0m78-8h0m35 3h0m20-2h0m8 0h0m2 4h0m10-1h0m-56 11h0m-1 7h0m-7-1h0m-21-4h0m-23 5h0m-31-9h0m-13 13h0m-3-14h0m-8 9h0m-37-7h0m-45 8h0m-28-5h0m-30 6h0m62 10h0m30-4h0m36 9h0m0-6h0m20 4h0m10 4h0m1-4h0m25-6h0m32 11h0m1-8h0m14-4h0m0 11h0m28 1h0m21-7h0m30 14h0m-78 4h0m-23-8h0m-88 11h0m-4 1h0m-3-7h0m-31 5h0m-21 15h0m31-12h0m21 7h0m14 2h0m71-2h0m31-5h0m16 1h0m56 11h0m10-1h0m-1 5h0m-34 6h0m-33 4h0m-14-12h0m-46 7h0m-5-3h0m-9 0h0m-11 6h0m-1 0h0m-7 1h0m-25-8h0m-1 0h0m-6-4h0m-34 0h0m40 17h0m4 7h0m4 2h0m12-10h0m44-1h0m0 11h0m31-11h0m26 13h0m14-9h0m22 1h0m13 14h0m-38 6h0m-3-6h0m-5-3h0m-1 8h0m-11 3h0m-21-4h0m-17 6h0m-9-7h0m-68 0h0m-53 14h0m110-3h0m10 2h0m55-4h0m-199 39h0m4-1h0m59 111h0m86 4h0m9 18h0m-2-2h0m-7-2h0m-1 10h0m0-12h0m-1 0h0m-7 13h0m-26-1h0m-16 1h0m-24 0h0m-13-8h0m-1 15h0m10 3h0m2-8h0m33-1h0m24 4h0m13-3h0m7 8h0m-20 8h0m-22 2h0m-4 1h0m-6 1h0m0 2h0m-2 4h0m-9-6h0m18 10h0m42 108h0m-10 3h0m-2 5h0m7 5h0"/>
<path stroke="#f3d7a4" d="M256 1700h0m-7 18h0m3-5h0m5-2h0m41 28h0m-10 0h0m-2-12h0m-1 11h0m-2-12h0m-3 0h0m-26 9h0m-151 19h0m183-13h0m0 1h0m9 4h0m1 8h0m8-5h0m0-1h0m2 15h0m-198 6h0m-10-4h0m-13-2h0m191 10h0m119 24h0m-81-9h0m-12-2h0m59 24h0m28-5h0m2 6h0m11-7h0"/>
<path stroke="#f4a75a" d="M254 1744h0m30 10h0m11-10h0m-5 20h0m-13 0h0m-10-6h0m-3 9h0m14 15h0m7-1h0m17 1h0m-16 12h0m-6-8h0m-3 1h0m-6 7h0m-9 1h0m7 6h0m75 3h0m44 9h0m9 5h0"/>
<path stroke="#e4592f" d="M249 1737h0m20 14h0m-18 6h0m-2 10h0m-2-9h0m-2 0h0m0 15h0m6-2h0m4-1h0m4 6h0m24 5h0m-33 11h0m-5 3h0m-4 0h0m23 5h0"/>
<path stroke="#2c6db5" d="M758 1580h0m-72 50h0m60 7h0m17 31h0m-106 240h0"/>
<path stroke="#b9202a" d="M246 1772h0m-1 15h0m15 19h0"/>
</g>
<g transform="translate(412.6,389.6) scale(0.415,0.46) scale(0.2)" stroke-width="13.6" stroke-linecap="round" fill="none">
<path stroke="#efece4" d="M537 1483h0m20-4h0m40 13h0m-74 4h0m-32 1h0m-4-7h0m-3 5h0m-5-7h0m0 9h0m-4 16h0m32-9h0m15 10h0m-8 9h0m-18-3h0m-1 4h0m-15 6h0m51 13h0m13-1h0m13-10h0m4 3h0m39 3h0m10-2h0m8 2h0m2 5h0m3-8h0m13 8h0m7-10h0m16 0h0m102 24h0m-149-6h0m-3 7h0m-2-9h0m-5 9h0m-7-9h0m-35-1h0m-3 1h0m-3 8h0m0-12h0m-14 7h0m8 11h0m16-2h0m21 9h0m3-10h0m1 10h0m1 2h0m5-12h0m14 7h0m114 2h0m10-4h0m38 9h0m-97 1h0m-15 5h0m-237 13h0m33 6h0m68-8h0m45 8h0m119-9h0m2 10h0m1-4h0m3 8h0m1-10h0m7 1h0m13-4h0m20 5h0m21-1h0m13 6h0m5-4h0m11 0h0m-8 15h0m-12 4h0m-1-4h0m-3 3h0m-41-3h0m-1-4h0m-14 11h0m-4-5h0m-119-4h0m-66 1h0m-26-4h0m75 27h0m118-6h0m8-2h0m12-4h0m4 11h0m2-1h0m23-11h0m1 11h0m4-8h0m0 9h0m31-11h0m13 9h0m3 1h0m7-7h0m-8 19h0m-1 0h0m-1 5h0m-18-6h0m0-8h0m-15 12h0m-36-12h0m-15 6h0m-142 21h0m141 0h0m8-10h0m0 9h0m0-7h0m6 7h0m21-7h0m15-4h0m1 11h0m10-1h0m17 4h0m-17 1h0m-4 10h0m-11-5h0m-7-1h0m-11 1h0m-13 4h0m-7 1h0m-62-5h0m-11 6h0m-50-8h0m0 6h0m-18-1h0m-6 2h0m73 14h0m35-7h0m11 5h0m21-1h0m8 1h0m6 2h0m0-9h0m21 4h0m32 5h0m-35 16h0m-41-2h0m-16-5h0m-10 7h0m-42 13h0m23 4h0m4-7h0m9-5h0m37 4h0m23-3h0m1 8h0m8-1h0m7-8h0m4 6h0m-12 9h0m-14 4h0m-18 1h0m-164 1h0m-423 21h0m356 2h0m9-11h0m2 11h0m5-6h0m6 3h0m18 5h0m-45 11h0m-327-6h0m-6 5h0m-8 2h0m-2-3h0m-14 0h0m-8-3h0m-5 1h0m49 10h0m32 1h0m265 10h0m18-13h0m17 5h0m3-1h0m15 2h0m25-2h0m6 7h0m-5 6h0m-12 2h0m-3 9h0m-2-14h0m-20 1h0m-4 4h0m-34 8h0m-5-11h0m-26 12h0m-43 11h0m47 3h0m25-4h0m23-5h0m5 7h0m6-5h0m17-5h0m3 6h0m16 4h0m-54 7h0m-1 4h0m-14-6h0m0 2h0m-30-1h0"/>
<path stroke="#8cbfe3" d="M515 1529h0m-19 13h0m51-4h0m90 5h0m-32 10h0m0-3h0m-86 7h0m-25-6h0m-31 5h0m-52 15h0m18-9h0m34 7h0m14 2h0m27 1h0m25 2h0m31-11h0m57 7h0m47 5h0m-24 4h0m-76 1h0m-34 3h0m-3-5h0m-19 8h0m-7-8h0m-17-1h0m-13 3h0m-6 6h0m-24-11h0m-4 12h0m-20 14h0m8-11h0m1 12h0m18-10h0m40 3h0m64 6h0m24 2h0m1-7h0m35 8h0m43-4h0m61 13h0m-20 0h0m-3-3h0m-38 7h0m-14-10h0m-14-1h0m-11 7h0m-109-4h0m-17-4h0m0 9h0m-33 7h0m20 6h0m13-5h0m32 9h0m15-5h0m32-4h0m3 3h0m21 8h0m11-7h0m58-5h0m14 10h0m-33 18h0m-25-9h0m-26 3h0m-14-4h0m-13-4h0m-43 9h0m13 6h0m2 12h0m13-7h0m8 4h0m17-4h0m7 6h0m8-10h0m13 8h0m3-8h0m13-1h0m14 4h0m15 7h0m33-6h0m-13 23h0m-21-11h0m-14-1h0m-6 12h0m-16-7h0m-11-1h0m-6-5h0m-2 11h0m-1 1h0m-30-2h0m-274 3h0m12 9h0m4 3h0m251 1h0m8-8h0m10 6h0m2-7h0m26 6h0m4 1h0m37-7h0m29 10h0m-5 10h0m-68-6h0m-202 13h0m-70-6h0m-5 0h0m-10-4h0m-4 10h0m-12-8h0m-1-2h0m-7 2h0m-2-4h0m-12 4h0m-6-2h0m-9 2h0m-3 16h0m2-4h0m5-2h0m3 4h0m2 8h0m8-12h0m3 1h0m1 5h0m11-2h0m7 7h0m38-7h0m2 0h0m5-5h0m45 13h0m6-1h0m10 0h0m8-4h0m3 5h0m29-6h0m205 1h0m17-3h0m29-5h0m-227 15h0m-34 7h0m-28 1h0m-38-4h0m-11 4h0m-6 6h0m-2-5h0m-25-9h0m-20 14h0m-12-12h0m-6-1h0m-26 9h0m-7 14h0m6-3h0m0 1h0m13 0h0m7 5h0m3 0h0m10-10h0m0-1h0m16 6h0m3-1h0m42 0h0m1-4h0m33 0h0m1 9h0m29-8h0m11 8h0m18-6h0m3 3h0m3 8h0m-1 9h0m-8-6h0m-11 3h0m-42 4h0m-55-10h0m-26 5h0m-8 3h0m-6-1h0m-12 1h0m-26-7h0m0 4h0m-4-3h0m-111 10h0m104 11h0m2 1h0m9-9h0m4-1h0m2 0h0m39 8h0m6 4h0m0-8h0m107 5h0m-14 15h0m-2-8h0m-79 2h0m-27 7h0m-10-10h0m-7 10h0m-8 0h0m-4 1h0m-13-1h0m-12-1h0m31 6h0m401 64h0m9 18h0m-60 7h0m-44-7h0m16 17h0m2-8h0m11 9h0m22-10h0m3 12h0m3-4h0m1 3h0m6 2h0m12 1h0m14-5h0m1 4h0m-9 7h0m-7-3h0m0 1h0m-3 7h0m-1-10h0m0 11h0m-7-7h0m-1 6h0m-10-6h0m-10 0h0m0-1h0m-8 7h0m-3-4h0m59 118h0m-9 3h0m-2 5h0m7 5h0"/>
<path stroke="#c6def0" d="M473 1511h0m56-8h0m111 21h0m-67 0h0m-50 5h0m-6-5h0m-11-6h0m-12 9h0m-48 3h0m15 8h0m38 1h0m22-5h0m8 0h0m3 7h0m8-3h0m5-3h0m50 8h0m22 15h0m-30 1h0m-48-12h0m-3-1h0m0 12h0m-36-5h0m-7 6h0m-34-14h0m-14 5h0m-3 4h0m-5-6h0m-10 10h0m-10-9h0m-5 10h0m7 14h0m0-11h0m4-2h0m3 6h0m6-1h0m4-5h0m13 7h0m21-5h0m2-1h0m12 0h0m13 2h0m3 0h0m7 1h0m4 4h0m10-4h0m17 10h0m1-9h0m4 6h0m1-11h0m18 5h0m8 4h0m6 0h0m14-6h0m1 6h0m9-4h0m0 9h0m12-4h0m3 1h0m10-5h0m47 23h0m-10-12h0m-32-1h0m-12 6h0m-5 4h0m-4-11h0m-31 0h0m-15 14h0m-7-14h0m-5 11h0m-28-7h0m-5 6h0m-1-5h0m-2 3h0m-7 0h0m-25-8h0m-4 12h0m0-10h0m-8 11h0m-1-10h0m-7 5h0m-3-6h0m-7 9h0m-2-11h0m-2 1h0m-5 7h0m-20-2h0m-16-6h0m11 24h0m9 3h0m48-8h0m2-3h0m11 5h0m1 6h0m2-7h0m13 8h0m3-8h0m1 4h0m1 2h0m30-5h0m5-6h0m5 4h0m7 0h0m1 9h0m24 1h0m2-2h0m13-10h0m9 6h0m15 3h0m7 0h0m1-10h0m8 1h0m59 8h0m-30 15h0m-22-10h0m-13 3h0m-12-3h0m-23 13h0m-10 0h0m-38 1h0m-10-11h0m-1 4h0m-8 4h0m0-1h0m0-5h0m-14 1h0m-10-6h0m-4 5h0m-2 5h0m-3 0h0m-3-5h0m-13 6h0m-1-3h0m-8 3h0m-17-10h0m-1 9h0m-26-2h0m-2-6h0m11 14h0m35 6h0m4 3h0m4-7h0m2 5h0m5-6h0m4 0h0m10 11h0m1-2h0m8-5h0m2-2h0m0 9h0m12 0h0m8 1h0m17-1h0m4-5h0m0 3h0m8-5h0m3-4h0m1 2h0m10 6h0m8-6h0m5 4h0m0-2h0m12 5h0m27-1h0m16-10h0m3 9h0m27 0h0m4-2h0m8 6h0m-35 15h0m-7-3h0m-10-9h0m-21 6h0m-5 5h0m0-3h0m-14-1h0m-4 6h0m-3-7h0m-19 1h0m-12 4h0m0-3h0m-12-7h0m-2 9h0m-2 2h0m-6-8h0m-10 4h0m-1-3h0m-1 7h0m-22-13h0m32 17h0m18 10h0m5-10h0m5 0h0m2 10h0m1-12h0m1 2h0m1-2h0m36 14h0m11-8h0m3-6h0m34 5h0m23 2h0m2-3h0m20 7h0m62 2h0m34 2h0m-40 9h0m-93-5h0m0 3h0m-5-2h0m-19 6h0m-1 0h0m-2-6h0m-6 7h0m-8-12h0m-17 4h0m-1 1h0m-37-5h0m-12 10h0m-5-4h0m-1-3h0m-275 13h0m28 11h0m2-2h0m250-7h0m16 11h0m12-10h0m16 9h0m7-2h0m6-4h0m13-7h0m28 10h0m16-10h0m0 9h0m0 2h0m28-9h0m7 0h0m4 25h0m-22-10h0m-7 12h0m-5-13h0m-15 10h0m-11-7h0m-20-3h0m-19 11h0m-6-6h0m0 8h0m-3-14h0m-313 13h0m-31-2h0m2 12h0m19-4h0m20 7h0m54-7h0m15 5h0m26 5h0m26-13h0m2 9h0m1-10h0m5 11h0m123-5h0m51-3h0m32 4h0m21 1h0m1 1h0m25-5h0m8 7h0m2-10h0m2 10h0m6-7h0m8 9h0m17-8h0m8 12h0m-319 0h0m-29 8h0m-18 2h0m-36-2h0m-21-10h0m-46 1h0m-3 11h0m-156 17h0m203 0h0m5-9h0m24-3h0m14 0h0m4 1h0m3 0h0m10 6h0m4 0h0m1 2h0m1-10h0m30-1h0m12 0h0m1 5h0m2-1h0m10 9h0m12 1h0m1-9h0m10 1h0m17 8h0m31-2h0m28-2h0m173-4h0m-180 23h0m-6-1h0m-15-7h0m-34-2h0m-18-4h0m-23 7h0m-1 2h0m-13 5h0m-6-11h0m-87 5h0m-179 4h0m-7 1h0m-8-2h0m0-10h0m-1-1h0m-10 0h0m-1 10h0m-4 1h0m-4-11h0m-1 6h0m-8-3h0m58 16h0m37 0h0m35 2h0m1 0h0m72 4h0m20 1h0m45-4h0m30-2h0m27 5h0m3 3h0m5-1h0m19-3h0m3-1h0m14-7h0m6 6h0m54 1h0m139 1h0m13-8h0m-10 23h0m-149-2h0m-14-5h0m-2 1h0m-54 8h0m-1-5h0m-7-1h0m-7 6h0m-2 2h0m-8 1h0m-5-9h0m-2-4h0m-17 11h0m0-11h0m-3 0h0m-5 3h0m-31-4h0m-16 13h0m-80-5h0m-10 2h0m28 6h0m60 0h0m82 11h0m18-8h0m22 6h0m20-7h0m20-1h0m173 86h0"/>
<path stroke="#4a94cf" d="M281 1691h0m323 0h0m-296 6h0m-4 10h0m-34 14h0m15-9h0m66 12h0m-83 8h0m46 14h0m-18 21h0m-16-12h0m-11 34h0m-24-2h0m25 14h0m309 59h0m68 9h0m1 4h0m17-9h0m1 1h0m-1 13h0m-1-2h0m-1 0h0m-22 8h0m-27 5h0m-33-6h0m-7 11h0m10 10h0m9-12h0m3 12h0m10-8h0m59 1h0m6 1h0m-9 13h0m-5-3h0m-12-1h0m-32 6h0m0-2h0m-2-4h0m-19 0h0m70 122h0"/>
<path stroke="#f3d7a4" d="M496 1475h0m1 3h0m0 3h0m20-1h0m10 2h0m8-12h0m12 3h0m2 4h0m0-4h0m5 5h0m17 6h0m31 12h0m-9-2h0m-14 4h0m-1-2h0m-14 1h0m-17-11h0m-1 3h0m-25-1h0m-7 8h0m-5-1h0m-3 1h0m-3-1h0m-10-7h0m-4-3h0m-4 9h0m18 10h0m6-3h0m3 0h0m5 7h0m2-3h0m22-1h0m4 3h0m11-2h0m11-3h0m5 2h0m4-4h0m1 8h0m6 2h0m4-3h0m1-2h0m34 5h0m7 0h0m0-3h0m0 6h0m16 16h0m-63-11h0m-1 4h0m-75 3h0m-32-3h0m23 13h0m40 6h0m6-9h0m16 7h0m37-5h0m1 5h0m1 1h0m7 1h0m31 3h0m10-9h0m5 1h0m32 7h0m46 1h0m2 4h0m-10 8h0m-18-10h0m0 2h0m-1 6h0m-18-2h0m-1 6h0m-51-11h0m-2 6h0m-8-6h0m-6 10h0m-9 2h0m-1-2h0m-60-8h0m56 12h0m20-1h0m39 2h0m0 4h0m6-6h0m11 1h0m17 3h0m17-4h0m2 9h0m7 4h0m4 1h0m8-3h0m22 1h0m0-12h0m10 11h0m15 7h0m-11-1h0m-8 7h0m-9-4h0m-1 9h0m0-7h0m-30-1h0m0-1h0m-4-2h0m-33 10h0m-82-4h0m-15-7h0m111 19h0m11-6h0m8 1h0m11 6h0m6-3h0m7-4h0m13 4h0m0 5h0m1-4h0m31 16h0m-22 7h0m-1-1h0m-7-7h0m-5 9h0m-5-10h0m-29-4h0m-9 11h0m-1 7h0m11 4h0m4-6h0m2 11h0m66 8h0m0-2h0m-9 3h0m-24 0h0m-41 0h0m-12-6h0m12 20h0m70-2h0m-7 19h0m-16-4h0m-14 9h0m-6-10h0m-6 6h0m-14-8h0m-5 8h0m-7 2h0m-13-4h0m-28 17h0m57-6h0m2 11h0m2-7h0m24-4h0m21-2h0m-3 21h0m-7-2h0m-1 2h0m-40 4h0m-67 15h0m84-2h0m-25 10h0m-287 85h0m54 6h0m-3 5h0m-6 4h0m-3-10h0m-19 3h0m-56-3h0m39 13h0"/>
<path stroke="#f4a75a" d="M531 1469h0m-47 12h0m4-2h0m0-5h0m10 5h0m3-9h0m8 3h0m29 7h0m54 12h0m-50 0h0m-1-6h0m-30 3h0m-10-1h0m-5 9h0m-10-12h0m-9 3h0m19 23h0m38 1h0m1-8h0m52 2h0m16-2h0m13-1h0m-10 13h0m-65 3h0m155 21h0m24 3h0m-9 10h0m-14 3h0m0-4h0m-46-4h0m-24 7h0m20 7h0m10 9h0m13 1h0m10-12h0m65 9h0m31 8h0m-84 5h0m-3 7h0m-5-8h0m-16-6h0m-4 14h0m-13-3h0m-30-3h0m-154 244h0m-28 12h0m3-5h0m18 0h0m18 5h0m19-7h0m-40 18h0m-24-4h0"/>
<path stroke="#b9202a" d="M461 1852h0"/>
<path stroke="#2c6db5" d="M602 1897h0m51 137h0"/>
<path stroke="#e4592f" d="M669 1579h0m-235 255h0m27 6h0m3 12h0"/>
<path stroke="#efece4" d="M519 1484h0m22-6h0m-57 13h0m-2 16h0m88 1h0m46 21h0m-47 0h0m-31-4h0m-14-1h0m-4 5h0m-17-10h0m0-4h0m-69 14h0m61 3h0m6 9h0m23-6h0m21 9h0m6-13h0m11 5h0m10 7h0m27-8h0m0 3h0m3-3h0m3-3h0m4 8h0m10-1h0m1 5h0m3-5h0m4 19h0m-5-1h0m-3-5h0m-25 5h0m-47-11h0m-3 10h0m-8-2h0m-90 2h0m-24-5h0m112 17h0m4-7h0m25 4h0m14 0h0m13-1h0m37-2h0m4 0h0m110 9h0m-17 6h0m-117-1h0m-13 3h0m-123 2h0m35 11h0m39-2h0m129 3h0m17-3h0m55 7h0m6 6h0m18-5h0m0-1h0m6 5h0m4-2h0m6 0h0m-24 15h0m-2-3h0m-1 7h0m-5-1h0m-19-2h0m-17-8h0m-8 6h0m-5 5h0m-3-5h0m-2 5h0m-32-8h0m-15 7h0m-123-8h0m-26 0h0m-30-1h0m53 21h0m159-7h0m2 3h0m9-6h0m4 4h0m0 9h0m32-1h0m16 1h0m2-3h0m0 4h0m38-4h0m0 5h0m-3 10h0m-4-7h0m-5 9h0m-31-10h0m-11-2h0m-10 8h0m-6 5h0m-4-9h0m-12 6h0m-14-5h0m-2-4h0m3 19h0m7 4h0m5-1h0m15-5h0m1 4h0m13-4h0m16-3h0m3 2h0m15 12h0m19-8h0m1 11h0m-3 1h0m-6 7h0m-7 2h0m-3 2h0m-3-1h0m-15-2h0m-4-10h0m-6 12h0m-12-11h0m-4-1h0m-9 5h0m-15 2h0m-3 1h0m-71 3h0m-12-7h0m0 9h0m19 8h0m34-1h0m1 4h0m10-3h0m4 1h0m10-4h0m21 0h0m12 0h0m2 2h0m0 6h0m3 16h0m-3-9h0m-6 5h0m-37-4h0m-54 9h0m46 10h0m6 3h0m30 2h0m20-5h0m7-3h0m7-1h0m1 1h0m14-5h0m-42 14h0m-48 3h0m-579 26h0m13 0h0m5 0h0m340 0h0m33 0h0m8 13h0m-3-7h0m-24 3h0m-16-2h0m-308 4h0m-16 2h0m-7 0h0m-7 2h0m68 4h0m254 3h0m9 0h0m5 8h0m26-7h0m20 1h0m8-2h0m5 2h0m147 7h0m-136 7h0m-43-2h0m-43 6h0m-84 8h0m44 9h0m1-8h0m2 6h0m11-7h0m18 2h0m34 8h0m9-1h0m5 1h0m3-4h0m23-3h0m2 12h0m-4 2h0m-3-6h0m-7 10h0m-10-7h0m-14-2h0m-29 2h0m-5 5h0m-6-1h0m-14 0h0m-8-7h0"/>
<path stroke="#8cbfe3" d="M633 1556h0m-67-6h0m-2 0h0m-68-4h0m-10 13h0m0-10h0m-32 9h0m-8-6h0m-9 1h0m-21 16h0m3-1h0m14 6h0m26-10h0m37 0h0m29 6h0m4 3h0m2 1h0m5-11h0m39 6h0m95 17h0m-5-10h0m-22-1h0m-7 4h0m-4-1h0m-5 8h0m-32 3h0m-31-14h0m-7 4h0m-14 2h0m-6-1h0m-12-5h0m-45 0h0m-1 8h0m-15 4h0m-6-3h0m-14-4h0m-3 7h0m-8-8h0m-13 4h0m-2 10h0m9-2h0m5 1h0m64 11h0m36-13h0m54 2h0m8 9h0m24-1h0m1-9h0m41 23h0m-8-8h0m-8 0h0m-57-1h0m-3 11h0m-12-7h0m-4 0h0m-44 3h0m-32-1h0m-31 13h0m27-1h0m9-1h0m6 4h0m23-4h0m19 1h0m17 1h0m18 7h0m5-5h0m12 0h0m33 3h0m56 1h0m0-8h0m1 15h0m-21 10h0m-54-5h0m-16 6h0m-17-11h0m-22 12h0m-19-8h0m-17 2h0m64 14h0m13 3h0m12 2h0m14-6h0m19 0h0m47 0h0m25 22h0m-53-10h0m-33 8h0m-2-8h0m-10-2h0m-19 9h0m-2-6h0m-12 5h0m-28-9h0m-10 5h0m-265 21h0m2 2h0m1-5h0m20 3h0m1-1h0m248-7h0m7-3h0m3 2h0m53-1h0m-250 27h0m-44 0h0m-4-2h0m-3-4h0m-14 4h0m-5 0h0m0-11h0m-2 7h0m-12 0h0m-4-4h0m-6 10h0m-2 0h0m-3 8h0m23 5h0m9-7h0m21-2h0m54 12h0m17-11h0m3 10h0m6-6h0m3 0h0m0-6h0m28 6h0m9 3h0m20 3h0m172-9h0m-173 20h0m-41 0h0m-5-5h0m-3 0h0m-6-3h0m-3 0h0m-20 6h0m0-5h0m-11 12h0m-10 0h0m-3-2h0m-4-7h0m-30 6h0m-22-6h0m-7-2h0m-6 11h0m-3-1h0m-2-12h0m-18 8h0m-7-2h0m11 19h0m15 3h0m9-8h0m2 0h0m9 3h0m0-1h0m35 5h0m62-9h0m46-1h0m1 6h0m72 0h0m156 6h0m-11 1h0m-222 7h0m-23 6h0m-54-11h0m-48 0h0m-28 6h0m-13 5h0m-10-11h0m-18 9h0m-1-1h0m-131-3h0m-8 4h0m-1 3h0m137 3h0m1-1h0m3 2h0m10 2h0m2 0h0m17 6h0m2 2h0m3-3h0m2 0h0m44 0h0m37 2h0m8-5h0m14-1h0m25 6h0m6-4h0m11 1h0m-76 5h0m-7 9h0m-6-7h0m-2-2h0m-13 14h0m-28-11h0m-5 6h0m-7 0h0m-6-1h0m0-7h0m-3 1h0m-15 4h0m-12 1h0m-17 2h0m27 12h0m13-2h0m381 63h0m7 17h0m-5 5h0m-9 0h0m-17-1h0m-40 1h0m-13-8h0m-2 11h0m1 4h0m6 4h0m63-6h0m0 4h0m11-4h0m2-3h0m7 8h0m1 5h0m-38 6h0m-5 0h0m-24 3h0m-6-8h0m68 129h0m-11 7h0"/>
<path stroke="#c6def0" d="M500 1508h0m6 0h0m52 12h0m-76 0h0m-10-2h0m-22 9h0m-11 6h0m6 11h0m0-10h0m17 6h0m6 2h0m19-6h0m1 0h0m12-5h0m36 1h0m84 11h0m38-7h0m-68 23h0m-15-12h0m-2 10h0m-16-11h0m-10 3h0m-8 7h0m-6-10h0m0 13h0m-2-6h0m-10 2h0m-8 3h0m-9-4h0m-14-5h0m-18 3h0m-3 7h0m-7-6h0m-18 0h0m-31 1h0m-3 3h0m-4-6h0m-7 13h0m28 8h0m11-4h0m12 0h0m8-8h0m12 0h0m1 5h0m2 4h0m1-4h0m24-1h0m8 0h0m14-1h0m3 4h0m10 2h0m7-3h0m19-3h0m11-2h0m10 9h0m49-3h0m43 2h0m-14 14h0m-3 6h0m-21-5h0m-3 1h0m0 4h0m-14-7h0m-8 6h0m0-2h0m-5-10h0m-1 3h0m-9 6h0m-16-2h0m-10 6h0m-5-10h0m-1 10h0m-8-12h0m-2-1h0m-12 11h0m-7-3h0m-1 3h0m-1-2h0m0-7h0m-13 0h0m0 9h0m-1-6h0m-10 0h0m-5 4h0m-6 1h0m-1-1h0m-20-7h0m-1 2h0m-10 0h0m-3 5h0m-31-9h0m-2 7h0m1 16h0m3-5h0m9-4h0m13 0h0m20 9h0m8-8h0m10 0h0m6 13h0m3-1h0m0-6h0m6-1h0m13-1h0m2 0h0m4 7h0m31-3h0m40 0h0m5-5h0m2-1h0m6 3h0m2-2h0m1 9h0m5 1h0m0-6h0m11-1h0m8-3h0m3 7h0m34-7h0m25-1h0m75 4h0m-63 19h0m-1-1h0m-13 2h0m-1-3h0m-23 1h0m-8-3h0m-3-2h0m-27-3h0m0-1h0m-5 6h0m-14-5h0m-5 7h0m-8-7h0m-1-2h0m-3 1h0m-16 7h0m-9-6h0m-3 5h0m-3 6h0m-7-11h0m-6 11h0m-5-1h0m-4-10h0m-6 11h0m-2-7h0m-9 7h0m-13-11h0m-3 7h0m-11-3h0m-14-2h0m-1-3h0m-52 14h0m20 1h0m34 13h0m30 0h0m7-12h0m6 12h0m6-14h0m6 12h0m0-10h0m12 3h0m5-3h0m0 11h0m1-7h0m6 6h0m13-4h0m18-3h0m20 4h0m7 1h0m3 3h0m7-10h0m19 0h0m11 9h0m1-5h0m25-6h0m38 13h0m21-7h0m38-5h0m-7 25h0m-37-10h0m-59 12h0m-1-8h0m-20 5h0m-8-8h0m-30 9h0m-3-5h0m-4-7h0m-6 13h0m-22 0h0m-11-2h0m-3-10h0m-19 7h0m-5-2h0m-9 1h0m-9 5h0m-25-3h0m-18-8h0m38 16h0m16 11h0m6-12h0m1 10h0m7-7h0m3-4h0m7 6h0m10-6h0m5 9h0m7-5h0m26 0h0m1-4h0m15 12h0m8-4h0m6-3h0m4-2h0m1-2h0m1 13h0m40-4h0m6-8h0m1 18h0m-1-1h0m-6 6h0m-34-3h0m-2-6h0m-4 3h0m0 4h0m-2 6h0m-12-11h0m-18 3h0m-42-5h0m-29 11h0m-13-12h0m-2 3h0m-287 19h0m7-4h0m42 3h0m252 5h0m5-9h0m20 5h0m20-5h0m6 9h0m22-6h0m5-4h0m10 13h0m19-12h0m15 4h0m9 6h0m9-12h0m3 1h0m77 20h0m-51-5h0m-10 1h0m-51 5h0m-29-6h0m-37 6h0m-23-5h0m-20-2h0m-155 14h0m-17-5h0m-49-1h0m-73-3h0m83 16h0m13 0h0m5 4h0m1-3h0m0 2h0m3 5h0m44-3h0m22-2h0m8 2h0m3-5h0m201 6h0m10-12h0m1 3h0m12 7h0m2-10h0m6 8h0m11 2h0m8-9h0m21 9h0m-14 10h0m-240 5h0m-38-5h0m-3-2h0m-20 6h0m-19-5h0m-3 0h0m-9-1h0m-8 6h0m-14 2h0m-6-5h0m-14 8h0m-220 13h0m179-4h0m7-3h0m71 7h0m0-10h0m13 8h0m4-7h0m0 4h0m24 5h0m76-3h0m2 1h0m8 2h0m4-5h0m3 5h0m177 0h0m3-1h0m19-8h0m-11 12h0m-6 7h0m-178-6h0m-12 3h0m-1 4h0m-6-3h0m-6 5h0m-5-7h0m-14 11h0m-1-6h0m-69-1h0m-13-2h0m-7 0h0m-13 3h0m-30-3h0m-75-2h0m-121 2h0m-15-3h0m-7 2h0m-8 4h0m31 9h0m151 1h0m15-1h0m61 8h0m7 0h0m33 4h0m0-5h0m23 5h0m47-14h0m21 8h0m172-3h0m0 16h0m-178-2h0m-38 5h0m-19 1h0m-4 3h0m-5-5h0m-2 6h0m-7-6h0m-7 4h0m-3-6h0m-13 0h0m-37-2h0m-56 5h0m-14-4h0m-11 11h0m113 4h0m51-5h0m8 11h0m8 3h0m67-10h0m-80 15h0m175 74h0m20 16h0m-12 8h0m9 4h0"/>
<path stroke="#4a94cf" d="M622 1619h0m-136 8h0m108 16h0m-316 65h0m20 15h0m30-13h0m4 6h0m-78 28h0m3 7h0m38-7h0m26 18h0m-47-5h0m-10 10h0m-18 1h0m43 4h0m13 14h0m-31 8h0m-10-8h0m-17 19h0m328 54h0m101 21h0m-1 0h0m-21 1h0m-12 8h0m0-3h0m-32 1h0m-36-3h0m22 14h0m2 1h0m6 5h0m17-4h0m42 1h0m1 4h0m-21 3h0m-14 5h0m-7-3h0m-8 6h0m-13 1h0m56 113h0m-4-3h0"/>
<path stroke="#f3d7a4" d="M485 1482h0m1-9h0m5 8h0m0-10h0m7 2h0m15 8h0m2-4h0m14 3h0m9 0h0m28 0h0m25 13h0m-23-8h0m-5 4h0m-7-1h0m-25 2h0m-4 1h0m-1-3h0m-2 6h0m-1-9h0m0 9h0m-16-8h0m-9 2h0m-1 10h0m-2-8h0m-3 8h0m-13-6h0m27 18h0m9-5h0m6-1h0m2-2h0m7 12h0m5-10h0m3 7h0m8-3h0m0-5h0m4 10h0m29-5h0m36 4h0m15-4h0m-2 19h0m-10-11h0m-41 5h0m-10-3h0m-1-2h0m0 9h0m-15-7h0m-37-1h0m-3 10h0m-19-11h0m52 15h0m83 11h0m17-12h0m26 13h0m5-7h0m29 6h0m14 15h0m-1-7h0m-3 3h0m-4 0h0m-7-8h0m-56 10h0m-12-3h0m-3 3h0m-2-5h0m-11 9h0m-9 0h0m-63-6h0m82 12h0m2 3h0m68 6h0m9-1h0m3 0h0m8-9h0m1-2h0m2-2h0m2 3h0m5 7h0m9-9h0m4 3h0m26-1h0m1 0h0m7 24h0m-1 2h0m-9-1h0m-10-3h0m-23-2h0m-44-5h0m-10 5h0m-12 3h0m-1-7h0m-4 9h0m-39-11h0m43 20h0m54-4h0m42 5h0m0-4h0m2 4h0m9 5h0m14 2h0m-25 10h0m-9-2h0m-32-5h0m-4 7h0m-4 2h0m-26 17h0m11-6h0m4 5h0m10-10h0m8-2h0m8 1h0m1 0h0m28-2h0m3 0h0m1 11h0m6-8h0m7 12h0m-27 11h0m-28-3h0m-2 6h0m-11-6h0m-25-5h0m-1-1h0m27 17h0m76 9h0m8-6h0m-23 20h0m-5-9h0m-9 5h0m-1 6h0m-5-14h0m-35 8h0m-4 1h0m-8-8h0m16 27h0m34-13h0m2 5h0m10 8h0m-18 4h0m-24 4h0m-13 6h0m-24 2h0m29 5h0m6 8h0m3-11h0m1 3h0m3 2h0m-17 10h0m-213 103h0m-9-1h0m-14 1h0m-3 0h0m-11-5h0m-1-7h0m-5 11h0m-4-2h0m-2 3h0m-9-6h0m-2 0h0m-1 2h0m-3 1h0m14 7h0m15-2h0m33 1h0"/>
<path stroke="#f4a75a" d="M495 1475h0m15 2h0m38-3h0m17 4h0m22 8h0m-10 6h0m-5 5h0m-3-11h0m-5-1h0m-14 11h0m-4-7h0m-53 5h0m14 11h0m17-2h0m23 6h0m17-7h0m35 10h0m21-4h0m16 5h0m-6 14h0m-77-7h0m85 10h0m7 7h0m8-2h0m18-2h0m19 3h0m1 1h0m1 3h0m18 4h0m42 12h0m-10-9h0m-7 10h0m-13-8h0m-7 10h0m-51 15h0m20-11h0m27 4h0m12 5h0m20-6h0m4 0h0m11 14h0m-26-1h0m-54-1h0m113 79h0m-76 12h0m-24 18h0m-260 141h0m-3 9h0m42-7h0m2 3h0m21 0h0"/>
<path stroke="#b9202a" d="M443 1850h0"/>
<path stroke="#2c6db5" d="M260 1692h0"/>
<path stroke="#e4592f" d="M690 1540h0m-257 302h0m23-4h0m-3 10h0"/>
</g>
</svg>
</body></html>
